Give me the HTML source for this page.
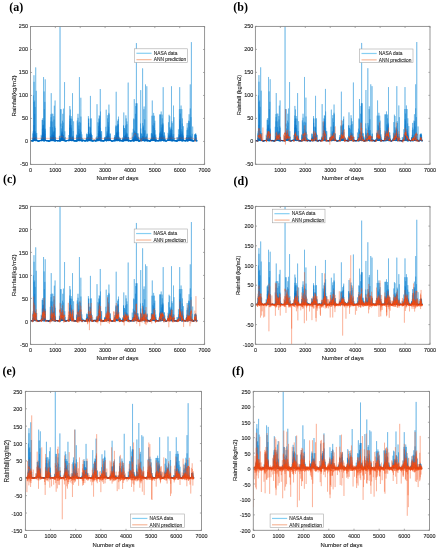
<!DOCTYPE html>
<html><head><meta charset="utf-8"><style>
html,body{margin:0;padding:0;background:#fff;}
svg{display:block;will-change:transform;}
text{font-family:"Liberation Sans", sans-serif;}
</style></head><body>
<svg width="437" height="550" viewBox="0 0 437 550">
<defs><path id="nasa" d="M0 -2.7l1 2.7 1-1.6 1 .7 1-.1 1-.2 1 1.2 1-1.2 1 .5 1-3 1 2.2 1 .4 1-.1 1 .3 1 .2 1-.4 1-.7 1 .5 1-.8 1 .8 1-.2 1-1.1 1 .7 1 .7 1-.2 1-.6 1-.9 1 1.5 1-.1 1-.8 1 1.3 1-.5 1-.8 1 .2 1 .3 1-.4 1 2.2 1-2.5 1 1.4 1 .5 1-1.4 1-.3 1 .8 1 .5 1-.8 1 0 1-1 1 .5 1 .4 1-.7 1 1 1 .5 1-1.1 1 0 1 .6 1 .4 1-.7 1 1.9 1-2.2 1 .2 1 1.5 1-1.2 1 .8 1-1.2 1 2 1-.8 1-1.1 1-.3 1 2.3 1-1.1 1-.5 1 .7 1-1.5 1 2 1-1.1 1 1 1-1.7 1 1.1 1 .3 1 .8 1-2.2 1 .7 1 0 1-.2 1 .6 1 .7 1 .1 1 .1 1-1.5 1 1.7 1-1.1 1 .7 1-.4 1-.2 1 1 1-1.6 1 1.1 1-.9 1 .4 1 .4 1-.2 1-3.4 1-2.4 1 5.6 1-.3 1-16.4 1 16.8 1-1.6 1-5.2 1 3.8 1-.9 1-17.1 1 21.9 1-11.3 1-4.5 1 15 1-6.8 1 6.3 1 .1 1 1.2 1-100 1 98.1 1-.1 1-2.8 1 2.8 1 1.3 1-11.2 1 5.9 1 2.2 1 1.6 1-3.8 1-4 1 8.1 1-.6 1-2.6 1 3.7 1-23.4 1 23.2 1-34 1 32.8 1-1.4 1-139.8 1 141.1 1-.7 1-126 1 129.1 1-85.2 1 83.9 1-.2 1-2.6 1-1.1 1-.9 1 4.3 1-1.7 1-.8 1 .6 1-.1 1 1.6 1-1.6 1 .1 1-.7 1 3.4 1-2.9 1-.1 1-4 1 3.5 1-54.7 1 53.5 1-1 1-81.6 1 86.4 1-2.1 1 1.9 1-5.3 1 4.9 1-.8 1 2.1 1-.7 1-18.8 1 17.9 1 .8 1-13.6 1 14.3 1-4.3 1 4.2 1-.4 1 1 1-.7 1-4.1 1 3.3 1-72.2 1 72.2 1-3.4 1-9.5 1 3.7 1-9.9 1 20.2 1-4.9 1 5 1-6.1 1 5.1 1 .9 1-7.4 1 1.6 1-3.3 1 5.6 1-2.3 1 3.5 1 1.4 1 .5 1 .8 1-159.7 1 159.2 1 .9 1-2.5 1-2.2 1 4.4 1 0 1 .5 1-9.2 1 9.7 1-1 1 .6 1-1.5 1-.6 1-15.2 1 8.8 1 5.7 1 2.8 1-1.1 1 .7 1-12 1 11.8 1-.1 1-.6 1-108.1 1 105.6 1 2.4 1-2.6 1 3.6 1-.4 1 .3 1-1.6 1 1 1 .9 1-4.2 1 2 1-.2 1 1.7 1-.2 1-.3 1 .4 1-16.8 1 17.1 1-.9 1 .4 1-2.2 1 3.1 1-2.1 1 1.4 1-.2 1 .7 1-.1 1-.9 1-.3 1 .1 1-.3 1 .4 1 .5 1-.6 1 .2 1 .5 1-.6 1-.4 1 .8 1 .4 1-.7 1-.8 1 1.5 1-.1 1 0 1-.9 1 2.2 1-1.5 1-.6 1 1.4 1-1.5 1 .7 1 .8 1-.5 1 1.2 1-.6 1-1.7 1 2 1-1.9 1 1.4 1-.8 1 .7 1 1.1 1-.6 1-.5 1 1 1 .1 1-1.1 1 .8 1 .3 1-.3 1-1 1 .9 1-.9 1-.4 1 1.1 1 .6 1 0 1-.5 1-.6 1 .4 1-.2 1 .7 1-.5 1 .6 1-.1 1 .2 1 0 1-.1 1 .1 1 0 1-.9 1 .6 1-2.2 1 1.4 1 1.1 1-1 1 .3 1 .7 1-1.3 1 1.3 1 0 1-1.1 1 1 1-1.5 1 1.4 1 .2 1-1.7 1 1.7 1-.9 1-.9 1 .9 1 .1 1-.1 1-.6 1 1.1 1-1 1 0 1-1.3 1 1.9 1 .3 1-1.2 1 .8 1-.5 1 .1 1-.8 1 1.2 1-.4 1 1.3 1-.8 1-1.7 1 1.5 1 0 1 .3 1-1.3 1 .3 1 .9 1-1.3 1 .2 1-.4 1 1 1-1.7 1 .9 1 .4 1 .2 1-.2 1-.8 1 .8 1-.9 1 .3 1-.5 1 .3 1 .6 1 1.3 1-1.5 1-.4 1 .5 1-.3 1 .7 1 0 1 .4 1-1.6 1 .8 1 .5 1 .6 1-.8 1-1.1 1 .7 1 .8 1-1.5 1 .1 1 .3 1 .1 1-.2 1 .4 1-.1 1 1.1 1-1.6 1 .9 1-1.2 1 2.9 1-1.9 1-.2 1 .9 1-.5 1-.2 1 .2 1 .8 1-.3 1-.8 1-.2 1 .9 1-1.8 1 1.7 1-.6 1 1.1 1 .6 1-13.9 1 3.8 1 9.6 1-.4 1-.3 1 .6 1-.8 1 .3 1-.2 1-5 1 6.3 1-1.3 1-.9 1 1.3 1-4.3 1 4 1 .3 1 0 1-2.2 1 2.6 1-5 1 4.3 1-2.5 1 2 1-2.7 1 2.6 1 .7 1-.6 1 .9 1-.9 1-4.7 1 5.8 1-.5 1 0 1-1.3 1-9 1 10.2 1-45.4 1 44.6 1 .6 1 .1 1-1.3 1-.6 1 3 1-10.6 1 9.4 1-.8 1-24.8 1 25 1-1.9 1 3.6 1-6.8 1-39.1 1 45.4 1-4.1 1 1.8 1-12 1 3.8 1-3 1 5.9 1 .1 1-11.3 1 17.7 1-.2 1-1.9 1-.5 1 1.1 1-47 1 39.8 1 5.6 1 3.3 1-32 1 29.6 1-8 1-4.1 1 11.9 1-24.5 1 15.1 1-4.2 1-17.3 1 33.2 1-34 1 34 1 1.2 1-18.1 1 0 1 16.2 1 2.3 1-.4 1-.7 1-6.8 1 .8 1 2.9 1-.9 1-134.1 1 135.9 1 3.2 1-9.6 1 10.2 1-3.2 1 2.2 1-7.8 1 9.1 1-1.3 1-.3 1-5.3 1 6.2 1-10 1 9.7 1-1 1 .5 1-2.6 1-23.2 1 25.1 1-3.6 1-10.5 1-28.7 1 41.8 1-1.8 1-103.6 1 108.6 1-8.9 1 8 1-11.7 1 10.3 1 2 1-7.3 1-62.4 1 65.6 1 4.4 1 0 1-14.8 1 3.7 1-12.8 1 23.2 1-.6 1-7 1 7.2 1-.5 1-7.4 1 5.5 1 1.9 1-1.3 1-.5 1 1.2 1-83.8 1 81.7 1-4.5 1 7.1 1 0 1-2.1 1 1.5 1-3.2 1 4.5 1-1.5 1 1.6 1-15.6 1 15 1-22.1 1 21.4 1-.1 1-132.7 1 131.8 1-2 1-8.9 1-13.3 1 24.6 1 .7 1 .7 1 0 1-.3 1-.8 1-.2 1-.1 1 .6 1 .4 1 .8 1-1.1 1-.3 1 1.7 1-2.1 1-.3 1 .9 1-.1 1-1.3 1 .9 1 1.5 1-.6 1 .1 1 0 1 1.3 1-1.9 1 1 1-.6 1 .3 1-.7 1 .8 1 .4 1-.9 1-.6 1 1.2 1-1.1 1 .8 1 .5 1-1.4 1 1.7 1-1.3 1 1.1 1-.7 1 1.2 1-.2 1-1.3 1 .6 1 .1 1 .4 1-.6 1 1.3 1-.2 1-.7 1 .5 1-.1 1-.4 1 0 1 .1 1-1.3 1 .4 1-.1 1 .9 1 .3 1 .7 1-.8 1 1 1-.9 1-.9 1-.6 1 .4 1 1.3 1-1 1 .9 1-1.1 1 .6 1-.7 1-1.2 1 1.2 1-1 1 1.5 1 .3 1-1.2 1-.3 1 1.6 1-.4 1 1 1-.9 1-.7 1 .6 1 .4 1 .5 1-1.2 1-.3 1 .1 1 .2 1 1.1 1-2.1 1 1.2 1 .1 1-.6 1 2 1-1.5 1 .1 1-.4 1-.7 1 .7 1 1.6 1-1.1 1-.3 1 0 1 1 1 .3 1-1.5 1 .1 1 .3 1 1.2 1-2.4 1 2.7 1-1.2 1-1.7 1 1.6 1-.2 1 1 1-1.8 1 1.9 1-1 1 .1 1 .8 1-1.3 1 1.6 1-.4 1-.5 1 .3 1-.5 1-.3 1 .8 1 .2 1 .1 1-.1 1-.8 1 .7 1-.4 1 .4 1 .6 1-1.2 1 1.3 1-.7 1-1 1 1.7 1-.5 1 .5 1-.2 1 .2 1-.3 1 .2 1-.5 1-1 1 .9 1-.2 1 .5 1 .1 1 .3 1 0 1-.5 1-1.1 1 .8 1 .7 1-1.5 1 1.4 1-.1 1 .3 1 0 1-.4 1-1.6 1 1.6 1 .4 1-.8 1 .3 1 .4 1-.7 1-1.4 1 1.2 1-.2 1-2.2 1 3.4 1-1.8 1 .1 1 1.7 1-1.1 1 0 1-.4 1 .2 1 .5 1-.5 1 0 1 .1 1 .7 1-31.2 1 30.9 1-2.4 1 1.6 1-.4 1 .3 1 .4 1-.3 1-.8 1 1.2 1-5.3 1 4.3 1 .3 1-.9 1 1.5 1-1.9 1 2 1-.1 1-10.3 1 9.4 1 .9 1-2.2 1 1.2 1-.4 1-.6 1 1.2 1-1 1-5.3 1 4.9 1-55.7 1 57 1-41.3 1 41.6 1-.1 1 .5 1-51.1 1 50.7 1 .7 1-9.5 1 8.3 1-102.6 1 87.6 1 13.7 1 3.2 1-2.6 1-3.5 1 5.3 1-.1 1-.7 1-.7 1-.6 1 1.7 1-2.6 1 3.1 1-.7 1-4.5 1 4.3 1-.1 1 .8 1-4.9 1 4.4 1 1.4 1-.6 1-.7 1 .2 1 .7 1-59.6 1 55.3 1 2.9 1 .6 1 .6 1-7.8 1 7.5 1-13.2 1 9.9 1 1.7 1-4.6 1 5.9 1-12.7 1 12.9 1-.9 1-12.7 1 13.8 1-3.9 1-.2 1 2.7 1 1.2 1-.7 1-8.7 1 6 1 4.2 1-30.3 1 23.2 1 1.9 1 4.6 1-2.6 1-5.8 1-33.5 1 42 1-3.2 1-19 1 17.9 1 3.5 1-2.2 1-55.8 1 42.6 1 15.4 1-15.1 1 16.5 1-.8 1-2.6 1-4.7 1 6.9 1-12.2 1 11.3 1 1.1 1 .8 1-.9 1-4.6 1 5.2 1-6 1-12.8 1 10.1 1 8 1 .6 1-7.4 1 7.3 1-.5 1-6.9 1 2.8 1 .2 1 4 1-12.1 1 6.4 1 5.4 1 1.1 1-4.1 1-8.3 1 11.8 1-.3 1-9.7 1 9.2 1-.3 1 2.4 1-54.8 1 46.9 1 2.1 1-14.5 1 19 1 .1 1-6.5 1 1.5 1-41 1 10.5 1 31.4 1 4 1-20.5 1 20.5 1 .8 1-.1 1 .7 1-1.7 1-4.8 1 6.1 1-77.2 1 73.9 1-8.1 1 9.7 1-20.5 1 21.7 1-9.9 1 7.8 1 1.8 1-9.8 1 3.5 1 6.8 1 0 1-4.7 1-27.4 1 32.8 1-.9 1 .5 1 .5 1-1.9 1-.6 1 .6 1-4.3 1 5.2 1-.2 1 .5 1-.9 1-2.7 1 4 1-2 1-86.7 1 88 1-8 1 6.1 1 2.8 1-29.3 1 28 1 0 1 .4 1-1.9 1 2.8 1-1.4 1-2 1 1.8 1 1.7 1-1.9 1 .4 1 1 1-.6 1-7.5 1 8.1 1-.6 1-.4 1-.3 1-.5 1 .8 1 .3 1-2.4 1 2.5 1 .4 1-1.7 1 1 1-.4 1-.4 1 1.2 1-1.2 1 .1 1 .3 1-.3 1 .7 1 1 1-1.3 1 .4 1-1.3 1 .4 1 .6 1-.5 1-.9 1 .2 1 .5 1-.1 1 .5 1-.1 1-.5 1 .5 1-.3 1 1 1 .4 1 0 1-.8 1-1.3 1 .2 1 1.5 1 .4 1-1.6 1 .2 1 1.3 1-1.7 1 .7 1-.8 1 .7 1-.4 1 .5 1 .9 1-.5 1 .3 1-1 1 1.3 1 .4 1-1.5 1-.3 1-.2 1 .3 1 1.8 1-.5 1-.1 1-.4 1 1.5 1-1.4 1-.2 1 .9 1-.7 1-.8 1 .8 1-.6 1 0 1 .4 1 .1 1 .5 1-1.1 1 1.2 1 .2 1-1 1 1 1-.8 1-.4 1 .7 1-.1 1-.5 1 .1 1 1.6 1-.2 1-1.8 1 .6 1 1.5 1-.3 1-.9 1 .7 1-1.1 1 .3 1-.3 1 1.2 1-1.3 1-1 1 2 1-1.5 1 .2 1 .2 1 .5 1 .8 1-.3 1-1.1 1-.2 1-.2 1 .2 1 0 1 1 1 .5 1-1 1-.2 1 .3 1-.3 1 .7 1 .6 1-1.1 1 .8 1-.6 1-.3 1 .1 1-.9 1 1 1 .3 1-1 1-.3 1 0 1 .7 1-.1 1 .3 1 1 1-.4 1-.8 1 .7 1-1.6 1 2.4 1-.8 1-1 1 .4 1 1 1-1.6 1 .7 1-.7 1 .8 1 0 1 .7 1-11.5 1 5.2 1 6.7 1-.3 1-2 1 .9 1 .9 1-1.2 1-.2 1 2 1-10.8 1 9.6 1-6.1 1 6.9 1-.2 1 .4 1-.6 1 .6 1-.7 1 .5 1 .6 1-.6 1 .2 1-.9 1 .9 1-269.5 1 269.3 1-4.9 1 5.4 1-.8 1-4.8 1 3.6 1 1.6 1-.9 1 .6 1-.9 1 .4 1 1 1-4 1-3 1 1.5 1 4.8 1-2.5 1 2.8 1-.6 1-4.7 1 4.9 1 .7 1-.7 1-2.9 1-1.4 1-49.5 1-15 1 68.2 1-1 1-.7 1 2.1 1 .7 1 .2 1-.4 1-1.2 1-1.4 1-3.6 1 1.9 1-1.8 1-7.6 1-55.4 1 37 1-5.6 1 37.9 1-1.1 1 .2 1-6.4 1-5.2 1 12 1-2.7 1 1.7 1-6.2 1 5 1 1.3 1 .3 1-.6 1-8.3 1-17.4 1 21.2 1 5.2 1-6.5 1-10.7 1 12 1 4.1 1-11.6 1 11.2 1-1.7 1 2.2 1-.1 1-13.6 1 14.9 1-20.6 1 19.6 1 .4 1-14.9 1 13.5 1-.4 1 1.2 1-.5 1 .3 1-6.8 1 5.6 1-29.4 1 28.7 1-1.8 1-3.3 1 8 1-.4 1-5.2 1 5.5 1 .1 1-5.9 1 5.5 1-4.9 1 4.4 1-5.5 1 6 1-18.2 1 12.2 1-36.6 1 42.8 1-13.8 1 10.3 1 4.6 1-11.9 1-1 1 3.7 1-6.9 1 2.9 1 9.6 1-55.4 1 53.1 1-3.2 1 7.5 1 .5 1-9.7 1 10.2 1-3 1 2.6 1-.1 1-1.8 1 2.7 1-.5 1-11.5 1 11.3 1-3.5 1-.1 1 3.3 1-38.7 1 38.8 1-6.2 1 2.4 1 3.5 1 1 1-1.6 1 1.8 1-70.1 1 65.2 1-7 1 10.8 1-2.2 1 3.8 1-13.3 1 12.7 1-3.2 1 3.1 1-1.8 1 2.2 1-.6 1-.1 1-.1 1 .3 1 .3 1-2.5 1-1.1 1 3.3 1-.3 1-.3 1 .7 1 .1 1-.2 1 .6 1-1.6 1 .8 1 .1 1-3.6 1 4 1 1.2 1-6.9 1 5.8 1-1.7 1 1.8 1-.4 1-.3 1-2.5 1 3.7 1-1.5 1-4.7 1 5.5 1-.5 1-127.3 1 127.9 1 .3 1-.6 1-1.9 1 2.2 1 .4 1-.1 1-.7 1-.6 1 .8 1-20.7 1 20.9 1 .1 1-.5 1 1.2 1-1 1-.4 1 1 1-.1 1-1.8 1 1.6 1 0 1-.5 1 .8 1-1.8 1 1.5 1-.1 1-.6 1-8 1 9.3 1-.6 1 .4 1 .1 1-.2 1 .7 1-.1 1 .1 1-.1 1-.7 1 .2 1-.1 1-.5 1 .7 1 .4 1-.2 1-1.4 1 1.1 1-.2 1 .3 1-.2 1-.2 1 .3 1 .1 1 .4 1 .1 1-.9 1-.3 1-.2 1 .6 1 .6 1-1 1 0 1 1.2 1-1.4 1 .1 1-.8 1 1.9 1 .1 1-1.5 1 1.6 1-.6 1 .2 1-.1 1 .5 1-1.1 1-.9 1 .3 1 0 1 .5 1-1.3 1 .6 1-.4 1 1.8 1-1.4 1 1 1-1 1 0 1 .9 1-.9 1-.7 1 .4 1-.1 1 1 1-.2 1 .3 1-.9 1-.7 1 .5 1 .3 1 .7 1-1.1 1 .5 1 1.1 1-.1 1-1 1 .4 1-1.8 1 1.2 1 .7 1-.4 1-1.4 1 1.8 1-1.2 1 .2 1-.7 1 .7 1 .6 1-.6 1 .3 1-.6 1 .8 1-1.4 1 1.4 1-.3 1 .8 1-.6 1 .1 1 0 1-.5 1 1 1 .2 1-1.3 1 1 1 .3 1-1.2 1 .2 1 2.2 1-1.3 1-.8 1 0 1 1 1-1.4 1 1.6 1-.3 1-.3 1 .2 1-.6 1-.1 1 .8 1-1 1 1.4 1-.3 1-1.3 1 .2 1 .3 1 1 1-.1 1-.1 1-.2 1 .4 1-.2 1-2.6 1-1 1 3.4 1-2.8 1 2.1 1 1.7 1-.7 1-1.2 1-1.7 1-10.1 1 12.6 1-1.3 1 1 1 .3 1 .3 1-.9 1 1.3 1-.7 1-1.1 1 0 1 1.5 1-1 1-.3 1 1 1-3.1 1 2.2 1 1.3 1-.8 1 .3 1 1 1-.8 1-1.2 1 .6 1 0 1-.1 1 1 1-3.6 1 2.1 1-.1 1-27 1 27.6 1-1.6 1-18.3 1 17.4 1 3.5 1-55.2 1 53.7 1 .2 1 .2 1-11.7 1 10.7 1-74 1 76.2 1-5.1 1 4.5 1 .3 1-9.8 1 10.1 1-35.7 1 35.6 1-1 1-47.3 1 42.3 1-3.5 1 8.3 1 .2 1-42.4 1 43.3 1-3.5 1 3.4 1-.9 1-5.2 1 5.3 1-29.2 1 4.1 1-42.3 1 66.3 1 2.1 1-7.7 1 5.9 1 1.5 1-.8 1 .2 1-6.2 1 5.7 1-8.9 1 5.4 1-43.9 1 36.2 1-14.3 1 26.9 1-30.8 1 17.2 1 1 1 11.9 1-2.4 1-6.2 1 8.5 1 .7 1-1.3 1-6 1 4.6 1 1.4 1 1.2 1-3.9 1 3.6 1-1.2 1 1.4 1-53.8 1 51.1 1 3.7 1-2.2 1-33.2 1 33.7 1 .6 1 .2 1-.5 1 .4 1 0 1-1.9 1 1.9 1-3.5 1-24 1 27 1 .8 1-1.4 1 1.2 1 .4 1-.9 1 .8 1-2.9 1-2.8 1-1.7 1 6.1 1-8.6 1-38.4 1 35.3 1 9.9 1 2.3 1-4.6 1 .8 1 3.9 1 .7 1-1.2 1-.9 1 0 1-1.6 1 1.6 1-.8 1 2.4 1-6.3 1 6.3 1-.9 1 .1 1-1 1 1 1-7.8 1 8.5 1-1 1-102.6 1 85.9 1 15.5 1-.1 1 .6 1-6.8 1 7.1 1-5.4 1 5.7 1 0 1-2.6 1 2.2 1-3.5 1 3.2 1 1.4 1-.9 1-6.3 1-3.4 1 10.5 1 1.1 1-.7 1-.2 1-6.2 1 3.5 1 2.7 1-9.6 1 11.2 1-4.6 1 3.2 1-20.9 1 21.2 1-.7 1-3 1 .8 1 2.9 1-.7 1-6.2 1 6.3 1 .1 1 .4 1-3.2 1 3.1 1-1.4 1-41 1 42.4 1 .2 1-2.7 1 .2 1 2.3 1-.1 1 .5 1-1 1 .9 1 .6 1 .3 1-1.2 1-.2 1-.8 1 1.5 1-.6 1-.2 1 1.6 1-.6 1-.9 1 1 1-.3 1 .3 1 .5 1-1 1-.1 1-.8 1 .9 1-.7 1 .6 1-.5 1 1 1-1.3 1 1.5 1-1.9 1 1.6 1 .2 1 .1 1-.4 1 .1 1 .1 1-.3 1-.7 1-.1 1 .8 1-1.1 1 1.5 1 0 1 .1 1-1.2 1 1.5 1-.1 1-1.9 1-.3 1 .2 1 2 1-1.1 1-.5 1 .5 1 1.2 1-.9 1 .9 1-.3 1-2.4 1 1.1 1 1.5 1 0 1-1.4 1 .8 1-.8 1 .8 1-.3 1-.3 1 1 1 .5 1-.4 1-.3 1-.4 1-.1 1 .1 1-.4 1 1 1-1.6 1-.4 1 1.2 1 .1 1-.7 1 .4 1 .4 1 .3 1 .4 1 .3 1-1.3 1-.3 1 1.6 1-.7 1-.2 1 .5 1 .3 1-.3 1 .5 1-.7 1 .2 1-1.7 1 .9 1 .9 1-.2 1-1.2 1 0 1 1.1 1 .2 1-.1 1-1.8 1 1.9 1-14.3 1 13 1 1.8 1-.5 1-.4 1 0 1-.9 1 .2 1 1.2 1-9.4 1 9 1 .4 1-1.7 1 .6 1 1.5 1-.8 1-1 1-.3 1 .6 1 1.2 1-.2 1 .2 1 .1 1-.6 1-1.2 1 .7 1-12.5 1 13.2 1 .2 1-1.7 1 1.6 1-1 1 1.1 1-45.1 1 44.5 1-1.2 1 .7 1-2 1 2.6 1 0 1-1.2 1-9.2 1 7 1 3.9 1-7 1 5.2 1 .1 1 .6 1-3 1 2.9 1-1 1 .7 1-1.2 1 1.4 1-.1 1-1 1 .6 1 .1 1 .2 1-.9 1 1.1 1-58.3 1 51.6 1-42.9 1 26.4 1 17.5 1-33.6 1 39.7 1-19.7 1 19.4 1-3.8 1 2.7 1-6.2 1 .5 1 4.5 1 1.4 1 0 1 .3 1-.3 1 1.3 1 .6 1-13.4 1 5.1 1 7.5 1-2.2 1 2 1-.1 1-.2 1 .3 1-6.1 1 6.9 1-6.2 1 6 1-.7 1 .5 1-.9 1-.9 1-24.2 1 25.9 1-33.2 1 25.8 1 6.7 1-10.7 1 8.6 1 1.8 1-1.8 1 1.9 1-1.5 1 1.6 1 1.4 1-.3 1-2.5 1 2.3 1-.8 1-15.2 1 16.8 1-1.1 1-2.2 1 .3 1-29.2 1-107.4 1 135.5 1-11.1 1 14.2 1-15.6 1 12.6 1 3.7 1-41.9 1 40.8 1 .6 1 .6 1-.3 1-1 1-3.7 1-4.5 1 5.2 1 3.6 1-13.8 1 14.1 1-7.9 1 1.7 1 3.6 1-.6 1 2.8 1 .3 1-1.4 1 0 1-1.5 1 2.2 1-2 1 3.2 1-4.7 1 2.6 1-1.6 1-2.3 1-18.6 1 21.1 1 2.7 1 .7 1-.9 1-.5 1-.5 1-1 1-.7 1-3.7 1-32.7 1 32.8 1 6.6 1-.4 1 .3 1 .1 1-1.9 1 .9 1 .9 1-13.9 1-29.4 1-50.3 1 93.7 1-.2 1-.3 1-52.2 1 10.7 1 42 1 .6 1-.1 1-.4 1-.5 1 .9 1-3.1 1 1.4 1-.1 1 1.3 1-19.7 1 19.5 1-.1 1 0 1 .3 1-.2 1-8.2 1 9 1-.8 1 .3 1-.5 1 .6 1-.2 1-.5 1-5.3 1 6.5 1-3.9 1 3.7 1 0 1-1.2 1 1.3 1-1.7 1-.6 1 1.9 1 .4 1-.9 1 .8 1-14.5 1 15.2 1-.5 1 0 1 .6 1-1.6 1 .7 1-4.1 1 4.7 1-.3 1-2.1 1 2.2 1-1.2 1 1.7 1 0 1-.7 1-1.7 1 1.5 1 .4 1-.9 1 0 1-.6 1-4.8 1 4.7 1 .5 1-.4 1 .4 1 .7 1 .4 1 0 1-1.3 1 1.8 1-1.6 1 .6 1-1.1 1 .3 1 .7 1-.6 1 1.6 1-1.8 1-.2 1 1.6 1-2 1 .7 1-.2 1 1 1-1.4 1 0 1 .4 1 .6 1-1.2 1-.4 1 .6 1-.4 1 1 1-.5 1-.2 1 .2 1-1.9 1 1.7 1 .7 1-1 1 1.3 1-1 1-.3 1 .9 1-.1 1 .4 1-.7 1 .6 1-1.7 1 .8 1 .6 1 .8 1-2.4 1 .6 1 .6 1 .2 1 0 1 .5 1-1.6 1 1.2 1 1.2 1-.6 1 1.4 1-2.2 1-.1 1-.6 1-.2 1 2 1-.8 1-.4 1 .2 1 1 1-.9 1 .2 1-.5 1 1 1 .1 1 .3 1-.1 1 .3 1-.3 1-.5 1 0 1-.5 1 .1 1 .4 1 1.3 1-1.2 1-.4 1 1.7 1-.1 1-.1 1 .1 1-.5 1 .5 1-1 1 1.2 1-.8 1 .3 1 .3 1-1.4 1 .7 1-.3 1 .6 1-.7 1 0 1 .6 1 .8 1-1.5 1 .1 1 .3 1 0 1 0 1 0 1 .8 1-.7 1-.3 1 .7 1 .2 1-2 1 .9 1 .6 1 .1 1 .8 1-.2 1-.8 1-1.1 1 2.1 1-.7 1-1.9 1 .9 1 .2 1-.6 1 .9 1 0 1-.6 1-.1 1 1.3 1-1.8 1 2.3 1-.8 1-2.6 1 2.5 1-.8 1 1.1 1-.4 1 .2 1-.2 1-.7 1-.8 1 .6 1-.4 1 1.4 1-1.3 1-3.8 1 3.8 1 1.3 1-.1 1-1.1 1-5.2 1 5.6 1 .4 1 .3 1-.9 1 .3 1 .9 1-.1 1-.5 1 1.1 1-1.4 1-15.4 1 16.2 1-2 1 2.6 1-.3 1-3.2 1 2.5 1 .1 1-1.4 1-4.5 1 2.7 1 2.6 1-13.2 1 2.3 1 8 1 3.9 1-7.1 1 7 1-.5 1-1.4 1-13.3 1 10.1 1 1.6 1 2.7 1 1.2 1-.7 1-6.3 1 5.9 1 1.6 1-1.1 1-5.2 1-3.5 1 8 1-.4 1 .2 1 1.3 1-1.5 1 .3 1 1.3 1-.6 1 1.1 1-.8 1-1.3 1 .2 1 1.8 1-1.6 1 1.2 1-3.6 1 2.6 1-1.1 1 2.1 1-2.4 1-8.1 1 10.7 1-.5 1-.7 1-6.1 1-1.1 1 6.6 1 1.2 1-.6 1-3.8 1-2.8 1-1.9 1 6.4 1 .9 1-17.6 1 19 1-.1 1-.3 1-53.2 1 52.1 1-10.1 1 11.4 1-47.9 1 49.1 1-2.2 1-37.5 1 35 1-1.8 1-24.2 1 22.5 1 6.4 1-.1 1 .6 1-47.8 1 10.9 1 21.1 1 14.9 1 .7 1-.2 1-2.4 1 3.3 1-.4 1-1.6 1 2.1 1-.6 1-3.5 1-2.3 1 6.2 1-2.2 1-2.1 1 1.9 1 1.4 1-.2 1-1.3 1 1.5 1-13.5 1 12.5 1-.6 1 1.3 1-1.5 1 3.7 1-.5 1-.7 1-2.7 1-3.5 1 4 1 2.5 1-2 1 1.9 1-4.4 1 2.2 1 1.3 1-4.7 1 4.1 1-14.3 1 13.4 1-.8 1 2.4 1-.4 1-29.7 1 26.5 1-1.6 1 4.6 1-11.1 1 12.5 1-14.2 1 13.7 1-4.7 1 4.8 1-5.1 1-24.3 1 21.5 1 8.7 1-11.3 1 4.9 1 1.2 1-3.9 1-6.9 1 16.1 1-98.1 1 89.6 1 6.9 1-26.7 1 22.5 1 5.9 1-48.7 1 48 1-7.9 1 8.1 1 0 1-.2 1 1 1-6.6 1 1.1 1 1.1 1 3.9 1-18.6 1 17.9 1-.6 1 .7 1-13.8 1-1.7 1 17.1 1-.6 1 .5 1-6.1 1 3.6 1 .5 1-1 1 1.2 1-6.1 1 3.6 1 2.3 1 1.4 1-9.4 1 8.5 1-10.5 1 8.2 1-46.1 1 48 1 .9 1-.9 1-13.5 1 8.7 1-7.7 1 3.4 1 8 1 .6 1 1.5 1 .2 1-1 1-.2 1-1.1 1 1.5 1 1.4 1-1 1-1.4 1 2.3 1-3.6 1 3.4 1 .1 1-.8 1-.5 1 .2 1-.4 1 .3 1-1.9 1-10.2 1 12.5 1 .4 1-.1 1 .6 1-1.4 1 1.1 1 0 1-.2 1 0 1 .1 1-1.1 1 .8 1 .2 1-1.5 1 2.3 1-1 1-.5 1-.3 1-.5 1 2.1 1-.9 1 .5 1 .2 1 .2 1 .2 1-.9 1-.5 1 1.4 1-1.2 1 .9 1 .3 1 0 1-1.5 1 .2 1 .7 1 .1 1 .5 1-1.2 1 .4 1-.5 1 .2 1 1.1 1 0 1-1.3 1 1.3 1-1.3 1-.5 1 1.6 1-1.5 1 .4 1-.3 1 .7 1-.4 1-.4 1-1 1 .7 1 .2 1 1.2 1-1.2 1 .7 1-.5 1-.3 1-.5 1 .2 1 .3 1 .1 1-1 1 1.5 1-.6 1-1 1 1.1 1-.8 1 0 1-.8 1 .5 1 2 1-1.2 1-.2 1-.4 1 .3 1-1.1 1 .6 1 1.6 1-.4 1 1 1-2.7 1 1.3 1 .1 1 1 1-.8 1-.6 1 .6 1 0 1 .2 1-1.8 1 1.8 1 .6 1-.6 1-.1 1-.1 1 .1 1 .6 1-.6 1-.4 1 1.3 1-2.3 1 .2 1 2.5 1-1 1-.9 1-.2 1-.3 1 2.6 1-.5 1-.4 1-.7 1 1.2 1-1 1 0 1-.2 1 1.5 1-1 1 .1 1 .4 1-1.2 1 1.1 1-1.2 1 1.5 1-1.6 1 .1 1 1.8 1-.8 1 0 1 .9 1-1.2 1 .1 1 1.1 1-.7 1-.5 1 .4 1 .7 1-1.6 1 .6 1 .3 1-.5 1 .2 1 1.2 1-.4 1-.1 1 0 1-2.5 1-1.1 1 3.4 1-.1 1-.6 1-.2 1 1.7 1-2.3 1 .6 1 .3 1 1 1-.1 1-2.6 1 1.4 1 .2 1-2.9 1 3.6 1-8.2 1 8.4 1 0 1-2.9 1 1.9 1-.9 1 2.3 1-1.1 1-.2 1-.6 1 1.4 1-.7 1-1.2 1 1.7 1 0 1-.7 1 .7 1-1.4 1 1.4 1-5 1 3.4 1-1.8 1 3.7 1-.5 1-.1 1-.3 1-.4 1-.6 1 1.5 1-80 1 74.8 1 4.8 1-10.2 1 10.8 1 .2 1-6 1 4.8 1-1 1 .2 1 2.2 1-3.9 1 2.6 1-6.2 1 6.4 1-4 1 4.1 1-.1 1-2.8 1 3.4 1-3.6 1 2.5 1 1 1 .3 1-5.7 1 5.7 1-.7 1-1.2 1 .4 1 .2 1-.4 1-1.4 1 1.1 1 1.3 1-3.2 1 3.5 1-.1 1-40.5 1 38 1 2.6 1-.7 1-.8 1 .8 1-1.7 1-.6 1 3.3 1-1.1 1 .9 1-.3 1-3.6 1 1 1 1.9 1-15.6 1 15.6 1-3.7 1 1.4 1 2.8 1-1.5 1-4 1 0 1-16.6 1 17.5 1-27.8 1 29.8 1 3.3 1-.5 1-1 1-15.4 1 14.4 1 1.1 1-4.6 1 1.4 1 4.1 1-2.6 1-46.1 1 46.8 1 .1 1-1.1 1 4 1-5.4 1-10.3 1 10.4 1 1.3 1 .1 1-35.4 1 3.7 1 33.6 1 0 1-30.4 1-24.1 1 52.4 1-43.7 1 45.8 1-20.7 1 16.6 1 1.3 1 2.8 1-3.5 1 4.2 1-1.8 1-20.4 1 16.7 1-37.2 1 40.4 1-38.1 1 29.1 1 3 1 4 1-7.7 1-41.6 1 53 1 0 1 1.1 1-2.4 1 1.1 1-6.3 1 5.6 1-4.6 1-11.8 1 .6 1 12.8 1-13.7 1 16.7 1 1.3 1-3.2 1 3.9 1-14.6 1 12.6 1 .9 1-1.2 1 1.2 1 1.3 1-113.2 1 111.2 1-.3 1 2.6 1-1.2 1 .4 1 .2 1-63.9 1 63.7 1-28.2 1 25.2 1 3.5 1-7.3 1 2.4 1 1.7 1 0 1 2.6 1 .5 1-15.4 1 13.8 1 2.3 1-1.5 1 1.3 1-14.1 1 12.9 1 .8 1-.7 1 0 1 .5 1-1.2 1 1.8 1-.1 1-1.4 1 1.8 1-.3 1-.6 1-.3 1-21.3 1 19.9 1 1.6 1-1.8 1-.2 1 2 1 0 1-.1 1-2.3 1 2.8 1-.7 1-.3 1 .3 1-.2 1 0 1-1.2 1-1.4 1-17.5 1 20.2 1 .1 1 .6 1 .1 1 .4 1-1.1 1 .6 1 0 1 .2 1 .4 1-2 1 1.3 1-.5 1 1.1 1-.1 1-1.5 1 .9 1-.4 1-1.1 1-.2 1 1 1 .1 1 .2 1 .3 1-1.6 1 2.3 1-.8 1 1.2 1-.4 1-1.2 1 0 1 0 1 .5 1 .3 1-.1 1-.1 1-1.1 1-.3 1 .8 1 .7 1 .3 1-.9 1 .4 1 1.1 1-2.2 1 1 1 .2 1 .4 1 0 1-1.2 1 1.3 1-.7 1-.4 1-.9 1 1 1 .4 1 .3 1-.9 1-.1 1 1.1 1-.7 1 .5 1 .9 1-.2 1-1.4 1-.4 1 .6 1 .6 1 .4 1-.9 1 .1 1 1.2 1-1.4 1 1 1-1 1 .1 1-.1 1-.3 1 .3 1 1.3 1-.1 1-1.5 1 .4 1 1.1 1 .1 1-1.5 1-1 1 .6 1 1.2 1-.4 1 1.2 1-.6 1-1.2 1 .1 1 1.7 1-2 1 .4 1-.3 1 .8 1-.5 1 1.1 1-1.1 1-.4 1 1.3 1-1 1-.7 1 .1 1 0 1 1.9 1-1.5 1-.5 1 1.1 1-.3 1 0 1 .7 1-.8 1-1.3 1 .8 1-.8 1-4.1 1 4.3 1-.8 1 .8 1-.7 1 .4 1 .8 1 .7 1-7.6 1 6.9 1-.2 1 1.4 1-1.2 1-4.6 1 4.5 1 .6 1-2.1 1 1.1 1 1.2 1-4.6 1-3 1 6.5 1 .4 1-7.8 1 3.3 1 2.6 1 .9 1 .8 1 1.6 1-.6 1-1.4 1-2.9 1 4.7 1-2.2 1 .6 1 .9 1 .4 1-.3 1-1.9 1 2 1 .4 1-.9 1 .8 1-2.9 1 2.9 1-1.9 1 2.4 1-.5 1-1.2 1-29.3 1 30.8 1-4.4 1-2.9 1 2.9 1 4.6 1-4.8 1 4.7 1-.4 1 1.1 1-4.1 1-1.2 1 4.6 1-16 1-52.1 1 61.1 1 7 1-1 1-3.2 1 .2 1 1.7 1 .5 1 1.3 1-9.8 1 10.6 1-1.4 1 1.7 1-4.3 1 .4 1 1.9 1-.2 1-.3 1 2.8 1-3.7 1-5.8 1-2.4 1 11.3 1-1.2 1 .6 1 .4 1-.8 1-3.3 1 3.7 1-9.1 1 4 1 0 1 4.5 1-1.3 1-7.5 1 7.5 1-16.5 1 17.6 1-13.3 1 12 1-19.4 1 12.6 1 8.3 1-.7 1-3.4 1 3.2 1 1.8 1-.7 1-11.5 1 7.1 1 2.9 1 .9 1-5.8 1-.1 1 1.5 1-43.4 1 48.5 1-4.6 1-50.9 1 56.1 1-5.5 1-10.7 1 15.5 1-2.2 1 1.2 1 .8 1-1.4 1 2.6 1-1.6 1-.6 1 1.8 1-6 1-11.3 1 16.5 1 .1 1-.9 1 1.4 1-1.2 1-3.4 1 3.9 1-6.6 1 5.2 1 1.7 1 .2 1-32.8 1 32.3 1-39.9 1 36.5 1-20.9 1 24.1 1 1.4 1-1.4 1 .6 1-11.3 1 11.7 1-2 1 1.6 1-13.1 1 13.5 1-4.5 1 4.5 1-.5 1-29.5 1 29.9 1-5.8 1 5.8 1-4.9 1-56 1 61.6 1-79.5 1 79.1 1-8 1 7 1-6.2 1-2.2 1-5 1 11.4 1-55 1 56.5 1 1.6 1-.9 1-1.8 1 2 1 .4 1-5.4 1 3.1 1 1.1 1 1.1 1-.4 1 .7 1-.7 1-.4 1 .2 1-.4 1-4.6 1 5.1 1-.9 1 .1 1-9.2 1 10.4 1 .2 1-.6 1-.9 1 .7 1-5.3 1 6.1 1-4.5 1 2.2 1 2 1-1.8 1 1.6 1-.4 1 .3 1-.3 1-1 1 1.6 1-1 1-14.8 1 14.7 1 .9 1-5.5 1 3.8 1 2.5 1-1.2 1-1 1 1.7 1-15.4 1 13.8 1-2.9 1 3.3 1 .2 1 .6 1 .2 1-2.3 1 1.3 1-2.5 1 2.9 1 0 1 .9 1-1 1-.1 1-1 1 2.1 1-.3 1-.7 1 .6 1-.1 1-.3 1 .3 1-.2 1-.3 1 1.5 1-1.5 1 2 1-2.8 1 .6 1 1.1 1-1.1 1 .9 1-.4 1-.2 1 .3 1 .3 1-.4 1 .6 1 .2 1 .4 1 .7 1-2.4 1 .6 1 1.6 1-1.2 1 .1 1 1.3 1-.5 1-.4 1-1.3 1 .5 1-.1 1 .7 1-.5 1 1.6 1-1.2 1-.1 1 1.3 1-.9 1-.9 1-.3 1 .4 1 1.5 1-.4 1 .3 1-1.2 1 1.4 1 .1 1 0 1-.8 1-.2 1 .8 1 .1 1-.4 1-1.1 1 1.6 1-.6 1-.2 1-.2 1-.6 1 .3 1 .4 1-.9 1 .2 1 .6 1 0 1 1 1-.9 1 .6 1 .2 1-.6 1 .7 1-.3 1-.3 1-.6 1 .4 1-.5 1-.9 1 .5 1 1.4 1 .3 1-.5 1 0 1 .5 1 0 1 0 1-.8 1-1.4 1-.2 1 1.9 1-.4 1 .6 1 .2 1-1.1 1-.1 1 .5 1-.9 1 .6 1-1 1 1.1 1-.9 1 .7 1-.2 1-.3 1 1.3 1-.4 1-.4 1 .1 1-.4 1 .8 1 .1 1-.6 1-.3 1 .8 1-1.4 1 .4 1-.1 1 0 1 .6 1-1.5 1 2 1-.7 1-.3 1 .3 1 .1 1 .7 1-3.1 1 2.6 1-1.8 1 1.9 1-.6 1 .2 1 .2 1 .5 1-.3 1 .4 1-.5 1-.2 1-6.7 1 6.6 1 .1 1 .1 1-.5 1 1 1-2.1 1 1.2 1-4.1 1 3.4 1-1.2 1-10.2 1 12.5 1 .4 1-2.3 1 1.2 1-7.8 1 8.6 1-.7 1 .6 1-1.2 1 1 1 1.1 1-1.1 1 1.4 1-2.3 1 1.7 1-3.4 1-4.4 1 2.4 1 3.3 1 2.6 1-1.8 1 .2 1 1.6 1-8.5 1 7.6 1-1.2 1-.3 1 1.1 1-9.2 1 7 1 .8 1-5.6 1 7.4 1-.6 1-.5 1-.7 1-2 1 3.1 1-3.9 1 2.9 1-9.6 1 9.3 1-4.7 1 4.1 1 2.1 1-1 1 1.2 1-9.6 1-23.8 1 23.9 1-21.2 1 26 1 3.5 1 .5 1-2 1 1.8 1-.5 1 1.1 1-15.1 1 13.5 1 .7 1-2.4 1 1.1 1 1.9 1-.9 1-105.2 1 106.3 1-1.3 1 1.1 1-.5 1-.5 1-2.9 1-2.7 1 6.7 1-.3 1-.6 1-17.5 1 11.4 1-.7 1 9 1-4 1 2.6 1-7 1 7.3 1-1.9 1-29.9 1 32 1-1.2 1-16 1 16.1 1-9.3 1-6.3 1 16.4 1-5.5 1 4 1-3 1 .9 1 4.7 1 .1 1-4 1-11.2 1 13.5 1-1.6 1-14.3 1 13.8 1-2.3 1-17.2 1-11.1 1 32.7 1-3.7 1 4.6 1-10.9 1 6.8 1 4.3 1 .1 1-3.3 1-17.4 1 13.5 1-36.8 1 42.6 1-4.7 1 2.7 1 1.7 1 .5 1-.1 1 1.7 1-2.8 1-15.2 1 16.8 1-1.5 1-20.4 1 19.3 1 3.7 1-5 1 4.5 1-2.4 1 3 1-37.4 1 33.8 1-.5 1 3.6 1-3.1 1 1.6 1 .2 1-4.8 1 4.9 1-34.3 1 29.6 1 4.6 1-11.6 1-34.6 1 46.1 1-.8 1-1 1 .8 1 1.3 1-1 1 .9 1-51.7 1 52.9 1-10.6 1 10.1 1-.6 1-1.2 1-16.6 1 19 1-.7 1-2 1 2.4 1-8.3 1 8.5 1-.9 1-2.3 1 2.8 1-6.4 1 3.8 1 1.3 1-2.3 1-4.9 1 9 1-1.2 1 .5 1-.5 1 1.2 1-1.3 1 1.4 1 .3 1-.2 1-.1 1-.6 1-4.4 1 4 1 1.2 1-.1 1-.8 1-1.1 1 .9 1-1.3 1 2.7 1-.5 1-1.2 1 1.5 1-.9 1-3.4 1 1 1 2.2 1-4.1 1 5.6 1-4.6 1 3.7 1 .4 1 .2 1-1 1 .9 1-.6 1-3.7 1 3.9 1-6.9 1 3 1 3.4 1 0 1-1.3 1 1.6 1-2.7 1 2.8 1 .7 1-.2 1-.6 1-.6 1 1.1 1-2 1-3.1 1-1.5 1 5.3 1-.4 1 1.8 1-.5 1-.6 1-.6 1-.4 1 1.7 1-.4 1 1 1-1.8 1 1.8 1-1.4 1-.7 1 .1 1 .7 1-.2 1 .3 1 0 1-1.4 1 .9 1 1.2 1-.3 1-1.3 1 .4 1 .9 1 .4 1-.8 1-.1 1-.9 1 1 1-1 1-.3 1 1.9 1-.7 1-1.5 1 1.4 1-.3 1-.7 1 1.2 1-.2 1 .9 1-1.6 1 .8 1-.1 1 1.6 1-2.5 1 .2 1 1.1 1-1.4 1 2.6 1-1.7 1 1.2 1-3.1 1 3.8 1-1 1-.2 1-1.1 1 0 1 .4 1 .4 1-1.6 1 2 1-.6 1-1 1 2.1 1-.2 1-1.3 1 .4 1 1.3 1-.9 1-1.3 1 1.6 1-.7 1 .5 1 .6 1-1.6 1 .5 1-.1 1 1 1-.1 1-.1 1-.1 1 .6 1 .1 1-5.5 1 5.9 1-.4 1 0 1-.3 1 .4 1 .3 1-1.1 1 .8 1-1.2 1-.2 1-1 1 .7 1-7.1 1 9.1 1-.2 1 0 1-5.7 1 4.3 1 1.3 1-.4 1 .7 1-.4 1-1.4 1-3.2 1 4.6 1-.4 1-.4 1 .1 1-.4 1-4.8 1 5 1-.7 1-4 1 4.4 1 1.4 1-.6 1-.8 1 0 1 1.3 1-2.2 1-32.7 1 25.7 1-24.4 1 33.2 1 .7 1-5.5 1 4.9 1-.4 1-.9 1-3.6 1 4.7 1-62.2 1 62.4 1-2.6 1-9 1 12.2 1-6.1 1 4.1 1 1.1 1 0 1-1.3 1-.4 1 .9 1-.2 1-26.8 1 27.6 1-.7 1 .8 1-1.3 1 1.1 1-2.6 1 2.8 1-5.1 1 4.1 1 .3 1-.1 1 0 1 1.1 1-2 1 1.3 1-1.3 1-2.9 1-23.6 1 26.9 1 .4 1-5.9 1 5.7 1 1 1-9.1 1 8.5 1-9.4 1 9 1 1 1-4.5 1-.4 1-5.1 1 10.6 1-4.7 1 3.5 1 0 1-.5 1-.1 1-.2 1 .9 1-2.2 1-2.2 1 .9 1 1.8 1-22.7 1 23.7 1 1.2 1-4.3 1 4 1-11 1 9.6 1 .7 1-3.7 1-.9 1 5.7 1-.7 1 1.1 1-1.1 1-11.7 1 5 1 .6 1 6.9 1 .1 1-34.1 1 24.8 1 8 1-12.4 1 13.4 1-.2 1-1.9 1-53.5 1 54.9 1-.5 1-2.9 1-11 1 3.5 1 4.5 1 5.1 1 1.3 1-.6 1-9.3 1 9.2 1-16.4 1 17.2 1-1.7 1-46.6 1 47.2 1-5.5 1 8 1-1.5 1-.8 1-.8 1 1.4 1 .5 1 .1 1-1.8 1-4.5 1 4.7 1 .6 1 .1 1-1.3 1-15 1 16.7 1-3.6 1 3.6 1-12.8 1 11.6 1-3.3 1 1.1 1 2.9 1-.3 1 1.2 1-1.2 1 1.1 1-41.9 1 40.6 1-34.5 1 33.1 1 .9 1-.6 1 2.3 1-3.5 1 3.9 1-.7 1-.9 1 1.6 1-7.2 1 7.1 1-1.9 1 1.1 1 1 1-2.8 1 2 1 1.5 1-.9 1-.1 1-.2 1-.4 1-14.7 1 15.5 1-.3 1 .1 1-7.1 1 5.8 1-.1 1 1.2 1-.5 1 .1 1 .9 1-.4 1 .3 1-2.4 1 .9 1 2 1 .4 1-2.6 1-1.1 1 1.8 1 1.1 1-.5 1-2.7 1 1.3 1 .8 1-3.2 1-122.5 1 125.5 1 2 1 .3 1 0 1 .2 1-1.3 1 .3 1-8.5 1 8.2 1 .1 1 1.2 1-9.1 1 8.7 1-.7 1-8.7 1 8.3 1 .1 1 .9 1 .5 1-.5 1-2.1 1 2.3 1 .1 1-.5 1-1.1 1 1 1 .7 1-2.1 1 1.3 1-.1 1-.7 1-3.3 1 3 1 .5 1 .4 1 .5 1-1 1-.5 1 .3 1 .6 1-.5 1 .6 1-.1 1 0 1-.2 1 .1 1-.8 1 .7 1 0 1-.8 1 .3 1-.4 1 1.3 1-1.4 1 .9 1 .7 1-.6 1 .7 1-.2 1-.4 1-.9 1 1.6 1-1.1 1 .3 1-1.2 1 .9 1-.2 1-.6 1 1.7 1-.5 1 .8 1-.4 1-.8 1 .3 1-.3 1 .5 1 .2 1-.3 1 .5 1 .2 1 .3 1-1 1-.3 1 1.1 1-.5 1 1 1-.5 1-.8 1 .9 1-1.1 1 .6 1-.5 1 .6 1 .6 1-1 1-.4 1 .8 1-.6 1 .7 1-.2 1-1.1 1 .9 1 .6 1-1 1 .3 1 .4 1-.8 1 1.6 1-1.5 1-1 1 1.1 1 1.4 1-2.1 1-.8 1 1.3 1 1.1 1-.3 1-.4 1-.2 1-.7 1 .4 1 1.7 1-1.2 1-.1 1-1.4 1 1.6 1 .6 1-.8 1-.4 1 1.4 1-2 1 .8 1-.7 1 .1 1 .1 1-.6 1-.3 1 1.4 1-.2 1-.8 1 .6 1 .5 1-.5 1 .6 1-.3 1 1.5 1-1.9 1-1.2 1 .7 1 0 1 .4 1 .6 1-.9 1 .3 1 .2 1-.3 1-.3 1 .4 1-.4 1-.2 1 .6 1-17 1 17 1 1.6 1-3.6 1 2.2 1 .7 1-1.1 1 1.3 1-.6 1 .1 1 .1 1-.1 1-.3 1-.1 1 .5 1-.5 1-.2 1 .6 1 .3 1 0 1-.1 1 .1 1-5.5 1-3 1 7.5 1 .8 1-2.5 1 2.2 1-.5 1-1.8 1 3.4 1-2.1 1 2.1 1-3.7 1-4.1 1 8.4 1-4.6 1 2.3 1 .4 1 1.3 1-.9 1-26 1 27.4 1-1 1-1 1-.4 1 .8 1 .9 1-4.3 1 4.4 1 .7 1-5.8 1 2.1 1 .7 1 2.4 1-4.5 1 4.2 1-8.4 1-40.5 1 47.2 1-1.4 1 1.7 1 .3 1 2 1-2.6 1-5.9 1 8.2 1-3 1 3 1-1.7 1-.9 1 1.2 1 .9 1-9.2 1-37.9 1 46.6 1-23.1 1 23.4 1-7.7 1 4 1 2.5 1 1.8 1-1.3 1-90.3 1 53.5 1 37.7 1 .1 1-3.2 1 2.7 1-9.5 1 8.5 1 .1 1 .3 1 .4 1 .2 1-1.5 1-19 1 21.1 1-2.7 1 2.6 1-4.7 1 4.2 1-.6 1 1.3 1-1.5 1-.4 1-19.7 1 20.4 1 .1 1-3.8 1-5.4 1 8.1 1-5.1 1 .7 1-.4 1 4.8 1-16 1 13.2 1 3.5 1-2.7 1 1.1 1-8.2 1 10.5 1-1.6 1 1.2 1 .5 1-.3 1-.5 1-2.5 1-55.5 1 46.1 1 13 1-11 1 10.4 1-3.4 1 .9 1 1.9 1-.2 1-9.2 1-6.9 1 16.6 1-4.5 1 2.1 1-72.7 1 74.6 1-.3 1 1.1 1-2.2 1-14 1 13.2 1 3.9 1-2.1 1-2.1 1 2.1 1 1.7 1-8.1 1 7.3 1-8.2 1 7.1 1 1.4 1-81.3 1 81.8 1-81.8 1 80.6 1 0 1-17.3 1 1.5 1 16.4 1-212.4 1 205.8 1 5.3 1-3.1 1 1.7 1-3.2 1 1.9 1-1.7 1 1.1 1 3.1 1 1.2 1-.1 1 1.2 1 .5 1-1.7 1-.9 1 .1 1-.8 1 1.1 1-.5 1 .7 1 1 1-1 1 .3 1-15.7 1 .2 1 15.7 1-7.6 1-1.1 1 8 1 0 1-.4 1-79.9 1 81.6 1-1 1 .1 1-.3 1 .5 1 .1 1-5.2 1 5.5 1-5.8 1 5.9 1-2.9 1 2.7 1-.1 1-2.6 1-1.5 1 2.5 1-7.9 1 1.4 1 7.8 1-1.3 1 .6 1 .5 1 .7 1-5.8 1-8.9 1 15.1 1-1 1-16.2 1 16.1 1 .6 1 1.1 1-1.1 1-.4 1-.9 1-1.9 1 2.3 1 .6 1 .7 1 .6 1-.8 1-.4 1-1.3 1-.5 1 2.1 1 1 1-.9 1-7.7 1 8 1-2.9 1 3.8 1-1.2 1 .2 1-4.9 1 4.9 1 .7 1-.8 1 .1 1 1.2 1-.7 1-1.5 1-4 1 3.8 1-7.6 1 10 1-1.8 1 1.8 1-.8 1-.5 1-.7 1 1.7 1-1.3 1 1.6 1-.4 1 .2 1 .1 1-2.1 1 .5 1-.2 1 1 1 .9 1 0 1-.9 1 .1 1 0 1-1.6 1 2.3 1-.7 1 .3 1-1 1 1.4 1-1.1 1-.3 1-.5 1 0 1 1.8 1 .1 1-.7 1 .7 1 .1 1-1.8 1 .4 1-.2 1 .6 1-.7 1 .6 1-2.8 1 1.5 1 1.9 1-1 1 1.5 1-2.2 1 1.2 1 .2 1 .8 1-1.1 1-1.6 1 1 1 1.5 1-1.6 1-1.6 1 2.4 1 .6 1-1.1 1-.4 1-.7 1 1.2 1 .4 1-1 1 .8 1-6.7 1 6.2 1-37.3 1 37.9 1-1.6 1 .9 1-.1 1-.5 1-16.3 1 17 1-109.9 1 108.4 1 1 1-.3 1 1 1-26.4 1 26.2 1-.6 1 1 1-1.4 1 0 1 .5 1-3.6 1 4.6 1-1.4 1 .1 1 1.2 1-.9 1 .2 1 1.1 1-.9 1-3.1 1 3.4 1 .7 1-2.7 1 .4 1-1.3 1 3.4 1-1.4 1 2.3 1-1.4 1-.6 1 1.4 1-6.9 1 .1 1 6.6 1-15.6 1 7.1 1 3.7 1 .9 1 2.2 1 1.2 1-.4 1 .5 1-15.8 1 14.7 1-.5 1-3 1 5.4 1-5.5 1 5.6 1-.7 1-5.4 1-3.6 1 9.1 1-.9 1 .8 1-3.9 1 3.7 1-.3 1 .2 1-.1 1-1.5 1-3.9 1 2.8 1-.1 1-2.3 1-5.3 1 7.5 1 3.2 1-.5 1 0 1 .8 1-3.3 1 0 1 .1 1 1.7 1-156.7 1 155.9 1 .9 1-19.5 1-18.2 1 21.7 1 15.5 1-7.1 1 1.3 1 6 1-.5 1 .7 1 .5 1-.1 1-.4 1-1.3 1-8.7 1 10.5 1-3.2 1 2.9 1-6.2 1 5.8 1-.4 1-3 1-4.7 1 8.6 1-.4 1-.1 1-4.1 1-23.7 1 28.7 1 .6 1 .1 1-.6 1-1.4 1-31.5 1 27.4 1 3.4 1 1.5 1-3.2 1 3.7 1 .2 1-.2 1-.2 1 .6 1 .2 1-8.4 1 5.3 1 .2 1 2 1-2 1 1.6 1-67.7 1 68.1 1-3.3 1 1.6 1-.4 1 2.3 1-2.8 1 3 1-4 1 5.3 1-75.8 1 75.4 1-2 1-21.6 1 19.7 1 1.9 1 1.3 1 1 1-.2 1 .5 1-1 1-1.2 1-15.1 1 14.3 1-.5 1 1.1 1 0 1 1.7 1-6.5 1-.6 1 3.3 1-1 1-42.4 1 37.7 1 7 1 3 1-6 1 4.9 1 0 1 1.1 1 .2 1-.7 1-.8 1 .3 1-1.2 1 1.5 1-.9 1 .8 1 .6 1-2.4 1-3.1 1 4.8 1-23 1 16.2 1 6.3 1 .9 1-4.5 1 4.2 1-2.1 1 .3 1 1.2 1-6.3 1 6.1 1 .7 1-3.1 1-119.8 1 121.6 1 .4 1-7 1 7.3 1 .1 1 .8 1-.2 1-3 1 2.6 1-2.2 1 1.8 1-3 1 2.3 1 .8 1 .2 1-.7 1 .9 1-9 1 9.5 1-.7 1-3.1 1 3.3 1 .6 1-.4 1-1.3 1 1.8 1-.1 1-1.5 1 .1 1 .5 1-7.2 1 1.4 1 5.2 1 .3 1-3.7 1 2.3 1 2.9 1-11 1 10.2 1-.7 1 .2 1 .6 1-1.2 1 .7 1-1.3 1 1 1 .2 1-1.5 1 .8 1 .9 1 .6 1-119.1 1 114.6 1 2.9 1 1.4 1 .2 1 .2 1-14.6 1 14.1 1-.6 1 .1 1-.3 1 1.2 1-3.8 1 4.1 1-16.4 1 14.5 1 1.9 1-1.3 1 .4 1 1.2 1-.8 1-1.3 1-2.4 1 4.4 1-1.6 1 1.2 1-3.8 1 3.2 1-.8 1 .5 1-1 1 2.3 1-1 1-.7 1 .4 1 1.6 1-1.7 1 .5 1-2.1 1 1.8 1-.6 1 1.1 1-1.1 1 2.1 1-1 1-.4 1 .8 1-1.8 1 .6 1-1.1 1 2.1 1-.4 1-1.1 1 .8 1-.9 1 .1 1 1 1-.7 1-.3 1 .2 1 .3 1 .2 1-.2 1-.8 1-.8 1 2.5 1-.3 1-.6 1-1.1 1 1.6 1-2.2 1 0 1 3.3 1-2.1 1 0 1 .8 1 1 1-1.5 1 .5 1-1.1 1 .5 1 1.1 1-2 1 .1 1 .2 1 1.1 1-.6 1 .6 1 .5 1 1 1-1.5 1 1.6 1-1.8 1 1.5 1-1.1 1 .4 1 .6 1 0 1-.3 1-1.4 1 .8 1 .5 1-.8 1 1.5 1 .1 1-.2 1-1.4 1 1 1-.2 1 0 1 .4 1-1.1 1 .4 1 1.1 1 0 1-.5 1 .4 1-.4 1-.5 1 .5 1-.2 1 .6 1 .1 1 0 1-1.3 1 1.2 1-.4 1 0 1-.2 1-.5 1 1.2 1-1.9 1 1.9 1-3.7 1 3.7 1-1.1 1 1.1 1-1.7 1 .9 1 .1 1-1.1 1 0 1 1.4 1-1.3 1 .3 1-.2 1 .9 1 .4 1-1.4 1-.4 1 .9 1-.3 1 .8 1-2.5 1 1.9 1-1.5 1 .1 1 2.7 1-1.7 1-.3 1-2.6 1 2.9 1 1.2 1-5.1 1 3.6 1 .7 1-.1 1 .2 1-.6 1-3.2 1 1.6 1 2 1-.3 1-1.2 1 .9 1 1.2 1-.9 1-.3 1 .6 1-.4 1-15.6 1 16.3 1-.9 1-.3 1-.1 1 1.6 1-1.6 1-.1 1-4.1 1 4.4 1 .5 1-1.1 1 .5 1-.6 1 1.4 1-16.4 1 15.5 1 1.2 1-5 1 3 1 .5 1-1.6 1 .7 1-7.7 1-34.4 1-10.1 1 52.8 1-4.6 1 .2 1 5.4 1 .6 1-2.6 1-3.2 1-9.7 1 12.8 1-.7 1 1.2 1-.2 1-1.5 1 3.6 1-.9 1-86.4 1 85.2 1 .8 1 1.6 1-13 1-1 1 14.4 1-.9 1-11.4 1 7.3 1-.8 1 1.5 1 2.5 1 1.8 1-4.7 1 .2 1 .1 1 3.9 1-.8 1 .6 1-4.6 1 5.7 1-35.3 1 33.8 1-2 1 3 1-4.1 1-2.9 1 6.1 1-1.8 1 1.3 1-5.6 1-.2 1-2.2 1-45.3 1 52.7 1-1.5 1 3.6 1-2.1 1-8.3 1-21.3 1 30.8 1-8.8 1 7.7 1 .4 1-5.3 1 6.5 1-2.2 1-1.5 1 .3 1 1.2 1 2.4 1-60.8 1 49.5 1 11.2 1-.6 1-.2 1-.2 1-3.8 1-.7 1-.1 1 1.7 1 3.1 1-.5 1 .3 1-7.2 1 .5 1-1.7 1 9.2 1-1.8 1-4.8 1 6.3 1-.4 1-5.8 1 6.8 1-38.4 1 38 1-17.2 1 17.5 1-6.1 1 2.2 1 4.1 1-6.5 1-5.1 1 1.8 1 10.5 1-55.4 1 48.7 1-7.9 1 10 1-24 1 26.8 1-2.4 1 2.3 1 .9 1 .7 1-1 1-.4 1 1.5 1-1.8 1 1.6 1-.6 1-43.6 1 33.9 1 9.5 1-8.3 1 8.3 1-2.2 1-2.1 1 1.8 1-20.4 1 23.6 1-1.5 1-3 1 2.7 1-10.6 1 7.3 1 5.5 1-3.5 1-1.3 1 4.4 1-2.5 1 2.6 1 .2 1-5.1 1 5.2 1 .3 1-1.3 1 1.5 1 0 1-.7 1 .2 1-.7 1-.6 1 1.8 1-1.5 1-.2 1 1.6 1-.1 1-14.9 1 14.3 1 .8 1-1.5 1 .7 1-.2 1-.7 1-8.1 1 9.4 1-1 1-.2 1 .5 1-.7 1 .4 1-.5 1 1.3 1-3.5 1 2.2 1-2.2 1 3.4 1-.7 1 .3 1 .4 1 .5 1-2.2 1 .9 1-4.1 1 4.7 1-.7 1 .1 1-.2 1 1.2 1-2 1 1 1-.3 1 .8 1-1.8 1 2.1 1-2.3 1 1.5 1 0 1 .2 1-1.4 1 1.5 1 0 1 .1 1-1 1-.1 1 .9 1-.8 1-.8 1 .6 1 .3 1 .9 1-1.7 1 .6 1 1.4 1-.4 1 1.2 1-2.1 1 1.3 1-.7 1-1.1 1 1.9 1-1.5 1 .8 1 .6 1-1.7 1 .7 1 .7 1-.8 1 .8 1 .2 1-.3 1-.9 1 1.8 1-.2 1-1.5 1 1.6 1-.8 1 .1 1 .7 1-.4 1-.4 1 0 1-.5 1 .3 1-.5 1 .5 1 .4 1-.7 1 .1 1-.3 1 .7 1 0 1 0 1 1 1-1.4 1 .8 1 0 1-.2 1-1.7 1 1.9 1-1.6 1 2.4 1-1.1 1-1.6 1 1.2 1-.1 1 .6 1 1 1-1.8 1-.3 1-.1 1-.6 1 1.4 1-.5 1 1.8 1-1.2 1-.4 1-.8 1-.4 1 .1 1 .8 1 .4 1 0 1-.1 1-.1 1-.7 1 .9 1 1 1-.3 1-2.9 1 1.1 1 1.3 1-.2 1-.7 1-4.6 1 3.8 1 2.7 1-.6 1-.9 1-.4 1 .3 1-.9 1 1.1 1-.1 1-8.1 1 7 1 1.2 1-1.3 1-55.4 1 56.3 1-9.3 1 8.8 1 1.6 1-1 1 .7 1-.6 1-.1 1 .1 1 .8 1-6.5 1-9 1 13.2 1 2 1-4.4 1 5.9 1-1.8 1 1.8 1-1.3 1-2.2 1 2.2 1-17.6 1 16.7 1-2.6 1 3.5 1-.3 1 0 1 .9 1-.6 1 .2 1-4.3 1-7.2 1 7.4 1-14.2 1 18.8 1-7.5 1-50.4 1 45.6 1 11.3 1-.9 1 1.1 1 .5 1-4.7 1-.9 1 4.4 1-5.1 1-7.4 1 10.3 1-54.2 1 46.7 1 6.4 1 4.2 1-20.2 1 11.9 1 5.9 1-3.4 1-15.1 1 21.7 1-7.2 1 2.1 1 5.3 1-3.8 1 1 1 1.6 1-13.9 1 14.5 1-64.2 1 40.8 1 22.3 1 1.2 1-6 1-30 1 33.6 1 1 1 1.1 1-1.8 1-1.3 1-26.1 1 29.5 1-.5 1-2.5 1-3.4 1 4 1-6.2 1 7.2 1-2.9 1-5.7 1 9.5 1-8.6 1 8.5 1-3.7 1 4.2 1-1 1 .2 1-.5 1-13.6 1 13.2 1 .6 1 .1 1-1 1-11.1 1-2.9 1-.9 1 15.6 1 .6 1-12.8 1 3.1 1 9.7 1-56.7 1 53.2 1-2.9 1-42.1 1 47.5 1-1 1-1.4 1-2.7 1-19.3 1 25.4 1-5.4 1 4.7 1-.3 1-.7 1-12.7 1-17.1 1 30.7 1 .2 1-6.9 1-26.8 1 33.7 1-6.9 1 .5 1-17.1 1-14.7 1 38.3 1-35.4 1 35.2 1-12.2 1 11.6 1 1.4 1-1.1 1 .5 1-3.5 1 2.4 1-3.2 1 4.5 1-.4 1 .8 1-116.6 1 111.5 1-.7 1 5.9 1-3.5 1 2.6 1-9.6 1 7.6 1 1 1 1.8 1-.8 1-.4 1 2.2 1-3.6 1 1.8 1 1.3 1-7.8 1 0 1 7.3 1-5.9 1 4 1 1.2 1-.7 1 1.6 1-2.6 1-2.1 1 4.7 1 1.2 1-3 1 2.8 1-1.7 1-1.1 1 2 1-3.3 1 3.6 1-11.7 1 10.3 1 1.3 1-.5 1-8.3 1 8.2 1-18.4 1 19.3 1-4.3 1 3 1 .5 1-1.5 1 1.9 1-1 1 1.3 1-1.4 1-17 1 17.4 1-.6 1-.5 1-.2 1 .8 1 1.4 1-3.6 1 1.5 1 1.5 1-.6 1-4.5 1 2.4 1 1.6 1 .2 1-10.5 1 7.5 1 2.6 1 1.3 1-2.8 1 1.4 1-1.3 1 3.3 1-1 1-.2 1 .2 1-.9 1 .3 1 1.4 1-1.6 1 .5 1 0 1 .9 1-1.3 1-3.1 1 3.7 1 1.8 1-1.5 1-1 1 .4 1 1.6 1-.3 1-.4 1-.5 1 .7 1-.1 1 .6 1-.1 1 .6 1-.8 1 .5 1-1.4 1 .8 1 .8 1-.4 1 .5 1-.1 1-.5 1 .6 1-.7 1 .7 1-1.2 1 1.2 1-.6 1 .6 1-.7 1 .7 1 0 1 0 1 0 1-.1 1-.1 1 .2 1 0 1 0 1 0 1-1.1 1 .3 1-.6 1 .3 1-.6 1 1.1 1-.1 1 .1 1 .3 1-.8 1 .2 1-.1 1 .1 1-.6 1 1.5 1-1.2 1 .3 1 .4 1-.2 1-.6 1-.3 1 .7 1-.7 1 .2 1-.5 1 0 1 .1 1 .7 1 .5 1-1.7 1 1.4 1-1.1 1 .5 1-1.1 1 1.1 1-.9 1-3 1 3.3 1 .4 1 .4 1-.2 1-1.1 1 .5 1-.3 1 .7 1-.4 1-.4 1 .8 1-1.1 1-1.6 1 1.1 1 1.7 1-.1 1-.7 1 .6 1-.1 1-1.1 1 .2 1 1.1 1-1.1 1 .2 1-4.6 1 4.3 1-.4 1-1.1 1 2.7 1-.2 1-.4 1 .3 1-.5 1-16.2 1 14.8 1 2.4 1-.7 1-.8 1 1.6 1-.5 1-.6 1 .5 1-.4 1-7.9 1 4.3 1 4.3 1-3.3 1 3.4 1-40.1 1 38.5 1 1.3 1 0 1-.9 1 .6 1 1.4 1-2.3 1 1.6 1-.5 1-2.4 1 2.4 1 1 1-13.1 1 11.4 1-.4 1-12.6 1 14.6 1-.8 1 1 1-2.1 1 1.8 1-1.2 1 .7 1 .7 1-56.9 1 55.6 1 .7 1-1 1 1.2 1-.8 1 .8 1-10.6 1 9.4 1-1.1 1 1.9 1-1 1 .5 1-3 1 .1 1 1.3 1-.2 1 2.3 1 .5 1 .4 1-7.1 1 4.4 1-26.9 1 21 1 5.5 1-19.9 1 21 1-52.1 1 52.8 1-7.4 1 7.9 1-9.3 1 2.2 1 7.3 1-2.5 1 1.4 1 1.2 1-6.6 1 4.4 1-5 1 6.1 1-9.8 1 11.1 1 .9 1-1.3 1-3.7 1-6.2 1-6.4 1 12.9 1-.4 1 2.4 1 .5 1-1 1-6.1 1-1.1 1 9.1 1-4.9 1 1.2 1 3.4 1-.6 1 1.2 1-5.5 1-6.6 1 10.6 1 1.8 1-18.1 1-5 1 23.4 1-27.3 1 26.6 1-.7 1-4.2 1 2.4 1-19.5 1 20.4 1-4.2 1 6.3 1-25.4 1 21.6 1-1.9 1-1.1 1 6.6 1-1.6 1-29.3 1 24.9 1-8.6 1 9.2 1 5.6 1-3.5 1-7.7 1 9.8 1-25.3 1 15.8 1 10.2 1-4.8 1 2.8 1-116.4 1 113.4 1 6.3 1-12.7 1-4.9 1-.3 1 13.3 1 3.3 1-.9 1-12.9 1 13.1 1 1.6 1-.3 1-15.5 1 10.8 1 5.1 1 .1 1-10.5 1 4.2 1-36.9 1 42.3 1 .3 1-.5 1-8.5 1 8.7 1 .7 1-24.3 1 24.7 1-.8 1-.3 1-38.4 1 39 1-.1 1 .9 1-5.1 1 4.5 1 .3 1-1.1 1-1.6 1 1.7 1-4.4 1 3.4 1 .8 1-1.7 1-.6 1 2.2 1 0 1-1.6 1 1.4 1 .1 1-.1 1-.1 1 1.2 1-.5 1-.3 1-.3 1 1 1-8.9 1 7.4 1-.2 1-1.2 1-.1 1 1.6 1-.6 1-1.2 1-8 1 9.7 1 .3 1-1.4 1 1.2 1-.7 1 .7 1-3.4 1 4.1 1 1.5 1-1.9 1 .8 1-.2 1-1.1 1 .5 1-.2 1-75.9 1 75.9 1 .3 1-.1 1 .3 1-14.4 1 15.1 1-.9 1 0 1-1.5 1 1.3 1 .7 1-1 1-.3 1 .3 1 0 1 .7 1 .2 1-1 1-18.2 1-32 1 50 1 1.3 1-1.7 1 1.8 1 0 1-.7 1 .9 1-.4 1 .8 1-.4 1-.3 1 1 1-1.5 1 0 1 .6 1-.5 1 0 1-.2 1 .3 1 .2 1 .6 1-6.6 1 6.9 1-1 1-.1 1 .2 1-1.1 1 1.4 1-.8 1 1.2 1 .2 1-.6 1-.4 1 .2 1-.9 1 0 1 1.7 1-.6 1-1.6 1 .3 1 1.7 1-.3 1-1.9 1 2 1-1.6 1 2.3 1-1.3 1 .6 1-1 1-.7 1 .6 1-.4 1-.1 1-.4 1 1 1 1.5 1-.2 1-1.7 1 .1 1-.3 1 1 1 .1 1 1 1-.5 1-.6 1 .4 1 .6 1-2.1 1 1 1-.1 1 .1 1 .1 1 .7 1-1.3 1 1 1 .4 1-1.6 1 .8 1-.3 1 1.8 1-2.6 1 1.9 1 .2 1-.5 1 .5 1-.1 1-.9 1-.7 1 1.3 1-.2 1 0 1-.1 1 1.1 1-2.1 1 2.2 1-.4 1-1.9 1 1.5 1 .6 1-.7 1-1.5 1 1.6 1 .8 1-.9 1 0 1 .8 1-.7 1-.5 1 .4 1 .2 1 .1 1-.5 1-.4 1 .5 1-.5 1 1.4 1-.9 1-.7 1 .2 1-8 1 8.8 1 0 1 .1 1-1.7 1-.1 1-.4 1 2.4 1-.7 1 1 1-.8 1 .9 1-.1 1-1.9 1 1.2 1-.2 1-.4 1-1.8 1 2.2 1 .2 1-1.1 1 .8 1 1.1 1-1 1-.1 1 0 1-5.2 1 5.9 1-.7 1 .7 1-1 1 .4 1 0 1-1.6 1 1.9 1-3.4 1-4.9 1 7.9 1-.9 1 .1 1 .4 1 0 1 0 1 .7 1-2.6 1 1.8 1-.6 1-.5 1 .3 1 .2 1-.4 1 0 1 .3 1 .8 1-.4 1-.6 1 1.3 1-3.4 1-21.7 1 23.7 1 1.1 1-.5 1 .3 1 .3 1-1 1 .3 1 1.4 1-2.1 1 1.5 1-.7 1-.3 1-13.2 1 14.1 1-4.7 1 4.6 1-.6 1 1 1-.5 1-1.2 1-8 1 2.1 1 2.2 1 3.6 1-1.6 1 2.9 1-1.1 1 1.2 1-6.2 1 6.8 1-1 1-.9 1 .5 1-.3 1 1.2 1-1.3 1-.3 1-67.2 1 68.7 1 1.1 1-13 1 .4 1 10.4 1 1.1 1-11.8 1 7.3 1 4.7 1-.2 1-.1 1-116.4 1 115.1 1 1.1 1-3.6 1 1.7 1 3 1-1.8 1-45.7 1 46.2 1-.1 1-5.6 1 3.8 1-6.8 1-25.1 1 25.4 1-.8 1-2.7 1 .8 1 10.3 1-11.1 1 11.8 1-42.6 1 42.9 1-5.6 1 6.2 1-4 1-55.2 1 51.1 1 7.7 1-4.2 1 2.6 1-7.2 1-5.4 1 12.8 1-20.6 1 19.9 1-1.6 1-51.4 1-13.5 1 64.4 1 2.5 1 2.7 1-15.3 1 2.3 1 8.4 1 3 1 0 1 .8 1 .2 1-11.1 1-2.9 1 13.3 1-3.8 1-10.8 1 9.2 1 2.4 1 2.6 1-75.7 1 76 1-.7 1-6.9 1 8.6 1-.2 1-1.3 1-2.8 1 4.4 1-1.1 1-7.9 1 5.6 1 1.8 1 .7 1-4.5 1 5 1-2.1 1-.5 1 2 1-.2 1 .7 1 .8 1-4.8 1-5.6 1 2.5 1-18.2 1 13.5 1 12.2 1 .1 1-69.3 1 70.2 1-1.8 1-12.8 1 5.4 1 9 1-3.6 1 1.9 1 .7 1-7.7 1 7.4 1-13.3 1-7.4 1 21.9 1-1.9 1 1.3 1-.4 1-17.9 1 12.6 1 4.6 1-36.9 1 38.6 1 .1 1-2 1 1.2 1-1.9 1-47.1 1 47.7 1-3.4 1 4.2 1-.5 1-.1 1-15.4 1 17.5 1-2.1 1-2.3 1 1.3 1 1.4 1-2.3 1 1.3 1-8.7 1 9.6 1-.4 1 2.2 1 0 1-12 1 8.5 1-10.8 1 13.6 1 .1 1-1.1 1 .2 1-.7 1-.1 1-2.8 1 .9 1 2.1 1 2 1-1.8 1-1.1 1 1.9 1-2.3 1-4.5 1 6 1-1 1 .8 1-31 1 31.6 1-.3 1-1.8 1 2.5 1-.4 1 .2 1-.9 1-.7 1 1.4 1-.8 1-.2 1-1.1 1 1.8 1-.4 1-2.2 1 3.4 1-1 1-.1 1 .8 1-.6 1-.3 1-.7 1 .2 1 1 1 .3 1-1.4 1 1.8 1-.7 1 .5 1 .3 1-1.3 1 1.2 1-.5 1-1.4 1-.2 1 2.1 1-.3 1 0 1 .4 1-1.9 1 .3 1 .3 1 1.1 1-1.2 1 .4 1 .2 1-.4 1-.5 1 1 1 .3 1 .4 1-1.7 1 .7 1 1.9 1-1.6 1-.4 1 1.7 1-.1 1-1.7 1 .9 1 .9 1-1.1 1-.2 1 1 1-.1 1-.6 1 .1 1-1.3 1 .3 1 .6 1 .9 1-.1 1 .8 1-1.1 1 .2 1 .2 1-1 1-.4 1 2.1 1-1.5 1 0 1 .8 1 0 1-1.7 1 .7 1-1 1 2 1 .2 1-.5 1-.8 1-.4 1-.5 1 1.9 1 .3 1-1.5 1 .1 1 .2 1-.7 1 1.6 1 .6 1-2.6 1 1.2 1-2.4 1 2 1-1 1-4.6 1 4.9 1 1.2 1-1.3 1 1.2 1-.7 1 .8 1-.4 1 .2 1 .5 1-.4 1-.4 1 .6 1 .3 1-8.2 1 6.8 1-.9 1 2.6 1-6 1 5.3 1-1.1 1-6.8 1 7.1 1-6.5 1 3.2 1 4.6 1-1.2 1 1.2 1-1.3 1-.5 1-2 1 3.7 1 1.1 1-1.6 1-12.6 1 9.5 1 4.1 1-1.5 1-22.3 1 22.3 1 2.1 1-.4 1-1.8 1-4 1-33.8 1 35.7 1 2.9 1-3.8 1 4 1 .2 1 0 1 .3 1-29.2 1 28.7 1 .5 1-3.1 1 3.2 1-.4 1 .5 1-.1 1-.8 1 .8 1-.3 1-1 1 1.4 1-.1 1-.6 1-3.2 1 1.7 1-10.8 1 11.5 1-.9 1 .4 1 .3 1 .3 1-.4 1 .9 1 .9 1-25.3 1 24.9 1 0 1 .6 1-1.9 1-7.7 1 9.1 1-3.2 1 3 1 .9 1-8.1 1 5.3 1 1.8 1-5.3 1 5.5 1-.1 1-.2 1 .2 1-2.4 1-2.3 1 4.5 1-13.6 1-30.2 1 43.5 1-4.5 1-1.6 1 3.4 1 2.6 1 .5 1-5.5 1 5.3 1 .5 1-1.4 1 0 1 .3 1-4.5 1 3.6 1-37.3 1 35.4 1 3 1 0 1-.5 1-56.8 1 56.7 1 .2 1-6.8 1 6.7 1 0 1 .1 1-1.1 1-9.5 1 10.9 1-42.1 1 32.7 1 8.1 1 .8 1 .2 1-4.2 1 3.5 1 .9 1-5.3 1 5.1 1 0 1-2.4 1 2 1-4.1 1 3.5 1 .4 1 .9 1-30.2 1 29.8 1-.3 1 .5 1 .8 1-2 1 .9 1-1.9 1-1.3 1-3.4 1 7.3 1-4.2 1 4.4 1-4 1 3.7 1-2.4 1 1 1 1.8 1-.2 1-1.9 1 1.5 1-122.1 1 120.5 1-68.2 1 68.4 1 .8 1-6.7 1 5.4 1-9.8 1 12.1 1-1 1 0 1-.4 1 .6 1-1.1 1-.8 1 2.6 1 .8 1-.2 1-1.4 1 1.5 1-1.4 1 .3 1 0 1 1.5 1-1.8 1-2.2 1 3.5 1-1.4 1 .3 1 .8 1-51.4 1 51.7 1-.5 1-9.7 1 10.8 1-3.2 1 1.1 1 .6 1 1.1 1-2.9 1 2 1 .2 1 .8 1-9.3 1 8.4 1-214.4 1 213.9 1-2.7 1 3.7 1-.8 1 1 1-1.3 1 .7 1-.8 1 1.4 1-1.1 1-.5 1 .6 1-.5 1 1.3 1 .6 1-1.6 1 0 1 .4 1-2.2 1 3.1 1-3.2 1 1.4 1-.1 1 .6 1 1.7 1-3.6 1 2.6 1-.3 1-.8 1 1.8 1-1.4 1-14.4 1 10.5 1 5.1 1 0 1-1.9 1 1.8 1 .5 1-.1 1-.7 1 1.1 1-.6 1 .2 1-.2 1-1 1 1.3 1-1.6 1-.1 1 1.9 1-1.1 1 .3 1-31.2 1 29.2 1 2.7 1-1.4 1-.3 1 1.3 1 .1 1-2.8 1 2.1 1 1.1 1-.1 1-1.7 1 1.3 1 .3 1 0 1 .5 1-.5 1-.1 1 .1 1 .1 1-.7 1 .4 1 0 1 .3 1 .1 1-.3 1 .6 1-1.4 1 .6 1 .2 1-1.4 1 .8 1 1.2 1 0 1-.6 1 .3 1-1.3 1 .3 1-.1 1-.1 1 .1 1 1.4 1 0 1-.2 1-1.1 1 .2 1-1.2 1 .4 1-.1 1 1.4 1-.5 1-.8 1 1.5 1-.4 1-1.8 1-.2 1 2.7 1-1.3 1 .8 1 .5 1-.8 1-1 1-.1 1 .2 1-.8 1 1.5 1-.4 1-1.3 1 .5 1 .4 1 .9 1-.9 1-.1 1-.1 1 .3 1-3.4 1 .3 1 2.9 1 .5 1 .4 1-1 1-5.2 1-7.7 1 0 1 0 1 11.6 1 .1 1 1.5 1-.7 1 .9 1 .5 1-2.1 1-11.8 1 13 1-1.3 1-11.7 1 0 1 12.6 1-2 1 1.7 1 1.3 1-.1 1-3.9 1 1.6 1 2 1 0 1-5.1 1-7.7 1 10.7 1-11.1 1 1.6 1 6.7 1 5.1 1-1.1 1-2.5 1-3.1 1-6.7 1 7.6 1 1.1 1-11.7 1 14.3 1-4.4 1 5.9 1-1.1 1-11.7 1 13.3 1 .8 1-.3 1-3.9 1-9.9 1 12.3 1-1.9 1 3.6 1-1.9 1 2 1 .4 1-2.5 1 1.7 1-1.2 1 2.3 1-.8 1-12.9 1 2.2 1 10.1 1-7.1 1 7 1 .2 1-.7 1 1.2 1-2.3 1 3.3 1-1.8 1 1 1-.6 1-1 1 1.5 1-.4 1 .5 1 .1 1 .7 1-4.1 1 2.7 1-.7 1-.2 1 1.2 1-.8 1 .7 1 .6 1-.3 1-1 1 .1 1 1.7 1-1.6 1 .6 1-.7 1 .3 1 1.1 1 0 1-.9" fill="none" vector-effect="non-scaling-stroke" stroke-linejoin="round"/></defs>
<rect width="437" height="550" fill="#fff"/>
<clipPath id="clip_a"><rect x="30.45" y="26.5" width="174.15" height="137.9"/></clipPath>
<g clip-path="url(#clip_a)"><use href="#nasa" transform="translate(30.45,141.42) scale(0.024879,0.459667)" stroke="#45B6EE" stroke-width="0.3"/><use href="#nasa" transform="translate(30.45,141.42) scale(0.024879,0.459667)" stroke="#1272CB" stroke-width="0.17"/><path d="M0 -6.7l10 0 10 0 10 0 10 0 10 0 10 0 10 0 10-.1 10-.1 10-.1 10-.1 10-.5 10 0 10-.2 10 0 10 0 10 .1 10 .4 10-.2 10 .2 10-.1 10 0 10 .2 10 0 10 .2 10 .1 10 .1 10 0 10 .1 10 0 10 0 10 0 10 0 10 0 10 0 10 0 10 0 10 0 10-.1 10 0 10 0 10 0 10 0 10-.1 10 0 10-.1 10-.1 10-.2 10-.1 10-.2 10 0 10 0 10-.1 10 .1 10 0 10 .2 10-.2 10 .1 10 .2 10 .1 10 .1 10 .1 10 .3 10 0 10 0 10 0 10 0 10 0 10 0 10 0 10 0 10 0 10 0 10 0 10 0 10 0 10 0 10 0 10-.1 10-.1 10-.3 10 0 10 0 10-.1 10 0 10 .1 10 0 10 0 10-.1 10 .1 10-.1 10-.1 10 0 10 .1 10 0 10-.1 10 0 10 .2 10 .1 10 .1 10 .1 10 0 10 .1 10 0 10 0 10 .1 10 0 10 0 10 0 10 0 10 0 10 0 10 0 10-.4 10-.3 10-.7 10-.4 10-.3 10-.5 10-.4 10-.5 10 0 10-.5 10-.3 10-.3 10 .3 10 .3 10 .4 10 .3 10 .3 10 .4 10 .4 10 .5 10 .2 10 .5 10 .4 10 .3 10 .1 10 0 10 0 10 .2 10 0 10 0 10 0 10 0 10 0 10-.1 10 0 10 0 10 0 10 0 10 0 10 0 10 0 10-.1 10-.2 10-.1 10-.2 10-.1 10-.1 10 .1 10 0 10 .2 10 0 10 .1 10 .1 10-.1 10 0 10 0 10 .1 10 0 10 0 10 .2 10 0 10 .1 10 0 10 .1 10 0 10 0 10 0 10 0 10 0 10 0 10 0 10 0 10-.1 10 0 10-.1 10-.2 10 0 10-.1 10 0 10 0 10-.2 10 .1 10 0 10 0 10 .1 10-.1 10 0 10 .1 10 0 10 0 10 0 10 .1 10 .3 10 0 10 .1 10 0 10 0 10-.1 10 0 10 0 10 0 10 0 10 .1 10 0 10 0 10 0 10 0 10 0 10 0 10 0 10-.1 10 0 10-.1 10 0 10 0 10 0 10-.1 10-.1 10-.1 10 0 10-.1 10 0 10 0 10 .2 10 0 10-.2 10 0 10 0 10-.1 10 .1 10 .1 10 .2 10 .1 10 0 10 .1 10 .1 10 0 10 .1 10 .3 10 .8 10 1.4 10 1.6 10 .7 10-.7 10-1.6 10-1.4 10-.8 10-.3 10-.1 10 0 10 0 10-.2 10 0 10 0 10 0 10-.1 10 0 10 0 10-.1 10 0 10-.3 10-.1 10-.1 10 0 10-.1 10 0 10 .2 10 .1 10 .2 10 .1 10 .1 10 .2 10 0 10 0 10 .1 10 0 10 0 10 0 10 0 10 0 10 0 10 0 10 0 10-.1 10 0 10 0 10 0 10-.1 10-.1 10 0 10 0 10 0 10-.1 10-.1 10 .1 10 0 10-.1 10 0 10 0 10-.2 10 .1 10 0 10 0 10 .1 10 .1 10 .1 10 .1 10 .1 10 0 10 0 10 0 10 .1 10 0 10 0 10 0 10 0 10 0 10 0 10 0 10 0 10 0 10 0 10-.1 10 0 10 0 10 0 10-.1 10-.1 10-.1 10-.1 10 0 10-.1 10 0 10-.1 10 .2 10-.1 10 0 10 0 10 0 10 .1 10 .1 10 0 10 .1 10 .1 10 .1 10 0 10 0 10 0 10 0 10 0 10 0 10 0 10 .1 10 0 10 0 10 0 10 0 10 0 10-.1 10-.1 10-.1 10 0 10-.1 10 0 10 .1 10 0 10 0 10-.1 10-.1 10 0 10 0 10 0 10 0 10 .1 10 0 10 .1 10-.1 10 .1 10 0 10 0 10 .1 10 0 10 .2 10 0 10 0 10 0 10 0 10 0 10 0 10 0 10 0 10 0 10 0 10-.1 10-.8 10-.9 10-.8 10-.9 10-.9 10-.9 10-.9 10-1 10-.9 10-.9 10-.8 10-.9 10-.8 10 .9 10 .8 10 .3 10 .9 10 .9 10 .9 10 .9 10 .8 10 1.3 10 .9 10 .9 10 .9 10 .9 10 .1 10 .1 10 0 10 0 10 0 10 0 10 0 10 .3 10 1.1 10 2 10 2.2 10 1 10-1 10-2.1 10-2.2 10-1.3 10-.4 10-.1 10-.1 10 0 10 .1 10 .1 10-.1 10 0 10 .1 10 0 10-.1 10 .1 10 0 10 .1 10 0 10-.1 10 .1 10 0 10 0 10 0 10 .1 10 .1 10 0 10 0 10 .1 10 0 10 0 10 0 10 0 10 0 10 0 10 0 10 0 10-.1 10 0 10 0 10-.2 10-.2 10 0 10-.1 10 0 10-.1 10 .1 10 .1 10 0 10-.1 10-.1 10 .1 10 0 10 .1 10 0 10 .1 10 .2 10 0 10 .1 10 0 10 0 10 0 10 .1 10 0 10 0 10 0 10 0 10 0 10 0 10 0 10-.2 10 0 10 0 10 0 10-.2 10-.1 10 0 10-.1 10-.1 10 0 10 .1 10-.1 10 .1 10-.1 10 0 10-.1 10 0 10 .1 10 .1 10 .1 10 .1 10 .2 10 0 10 0 10 0 10 .1 10 0 10 .1 10 0 10 0 10 0 10 0 10 0 10 0 10-.1 10 0 10-.1 10 0 10 0 10-.1 10 0 10-.1 10 0 10-.1 10 0 10 0 10 0 10 0 10-.2 10 0 10 0 10 0 10 0 10 .2 10 .2 10 0 10 0 10 .1 10-.1 10 0 10 0 10 0 10 0 10 .2 10 0 10 .1 10 0 10 0 10 0 10 0 10 0 10 0 10 0 10 0 10 0 10 0 10-.1 10 0 10 0 10-.1 10-.1 10-.2 10 0 10-.2 10-.1 10-.2 10 .1 10 0 10 .1 10 .1 10 0 10 .2 10-.1 10 .1 10 0 10 0 10 .1 10 .1 10 0 10 .1 10 .1 10 0 10 0 10 .1 10 0 10 0 10 0 10 0 10 0 10-.1 10 0 10-.1 10 0 10 0 10 0 10 0 10 0 10-.1 10 .1 10-.2 10 0 10 0 10-.1 10 .1 10-.3 10 .2 10 .1 10-.1 10-.2 10 0 10 .2 10 .1 10 0 10 0 10 .3 10 0 10 0 10 0 10 .1 10 0 10 0 10 .1 10 .4 10 1.2 10 2.3 10 2.5 10 1.1 10-1.1 10-2.6 10-2.3 10-1.2 10-.4 10 0 10 0 9 0" transform="translate(30.45,141.42) scale(0.024879,0.459667)" fill="none" stroke="#F85218" stroke-width="0.35" vector-effect="non-scaling-stroke" stroke-linejoin="round"/></g>
<rect x="30.45" y="26.5" width="174.15" height="137.9" fill="none" stroke="#8a8a8a" stroke-width="0.9"/>
<path d="M30.45 164.4v-1.6M30.45 26.5v1.6M55.33 164.4v-1.6M55.33 26.5v1.6M80.21 164.4v-1.6M80.21 26.5v1.6M105.09 164.4v-1.6M105.09 26.5v1.6M129.96 164.4v-1.6M129.96 26.5v1.6M154.84 164.4v-1.6M154.84 26.5v1.6M179.72 164.4v-1.6M179.72 26.5v1.6M204.6 164.4v-1.6M204.6 26.5v1.6M30.45 164.4h1.6M204.6 164.4h-1.6M30.45 141.42h1.6M204.6 141.42h-1.6M30.45 118.43h1.6M204.6 118.43h-1.6M30.45 95.45h1.6M204.6 95.45h-1.6M30.45 72.47h1.6M204.6 72.47h-1.6M30.45 49.48h1.6M204.6 49.48h-1.6M30.45 26.5h1.6M204.6 26.5h-1.6" stroke="#8a8a8a" stroke-width="0.7" fill="none"/>
<g font-size="5.45" fill="#262626" stroke="#262626" stroke-width="0.12"><text x="30.45" y="172" text-anchor="middle">0</text><text x="55.33" y="172" text-anchor="middle">1000</text><text x="80.21" y="172" text-anchor="middle">2000</text><text x="105.09" y="172" text-anchor="middle">3000</text><text x="129.96" y="172" text-anchor="middle">4000</text><text x="154.84" y="172" text-anchor="middle">5000</text><text x="179.72" y="172" text-anchor="middle">6000</text><text x="204.6" y="172" text-anchor="middle">7000</text><text x="27.95" y="166.3" text-anchor="end">-50</text><text x="27.95" y="143.32" text-anchor="end">0</text><text x="27.95" y="120.33" text-anchor="end">50</text><text x="27.95" y="97.35" text-anchor="end">100</text><text x="27.95" y="74.37" text-anchor="end">150</text><text x="27.95" y="51.38" text-anchor="end">200</text><text x="27.95" y="28.4" text-anchor="end">250</text></g>
<text x="117.52" y="179.9" text-anchor="middle" font-size="5.95" fill="#262626" stroke="#262626" stroke-width="0.12">Number of days</text>
<text transform="translate(16.29,95.95) rotate(-90)" text-anchor="middle" font-size="6.13" fill="#262626" stroke="#262626" stroke-width="0.12">Rainfall(kg/m2)</text>
<rect x="134.5" y="48.8" width="52.8" height="13.6" fill="#fff" stroke="#a8a8a8" stroke-width="0.6"/>
<path d="M136.4 53.28h15.2" stroke="#86CFF2" stroke-width="1.2"/>
<path d="M136.4 59.67h15.2" stroke="#F7B89A" stroke-width="1.2"/>
<g font-size="4.85" fill="#262626" stroke="#262626" stroke-width="0.08"><text x="153.7" y="54.98">NASA data</text><text x="153.7" y="61.37">ANN prediction</text></g>
<text x="9.299999999999999" y="10.6" style="font-family:'Liberation Serif',serif" font-weight="bold" font-size="12" fill="#000">(a)</text>
<clipPath id="clip_b"><rect x="255.4" y="26.4" width="174.6" height="137.9"/></clipPath>
<g clip-path="url(#clip_b)"><use href="#nasa" transform="translate(255.40,141.32) scale(0.024943,0.459667)" stroke="#45B6EE" stroke-width="0.3"/><use href="#nasa" transform="translate(255.40,141.32) scale(0.024943,0.459667)" stroke="#1272CB" stroke-width="0.17"/><path d="M0 -0.4l1-.2 1-.1 1 0 1-.1 1 .1 1 .1 1 0 1-.2 1-.3 1-.1 1 .1 1 .1 1 0 1-.1 1-.2 1-.2 1 0 1 .1 1-.1 1 .1 1 .2 1 0 1 0 1-.1 1 0 1 0 1 0 1-.1 1 .2 1 0 1-.1 1 .2 1 .1 1-.1 1-.1 1-.1 1 .1 1 0 1-.3 1 0 1 .2 1-.1 1 0 1 0 1 0 1 .1 1 .3 1 0 1-.4 1 .1 1 0 1-.1 1 .1 1 0 1-.1 1-.1 1 .1 1 .1 1 0 1 .1 1 .3 1-.2 1 .2 1 .3 1 0 1-.2 1-.1 1 .1 1 .5 1-.2 1-.2 1 0 1-.2 1-.3 1 .3 1 .1 1 .4 1 .6 1-.3 1-.5 1 .1 1 0 1 .1 1 .1 1 .9 1 .7 1-.9 1-.5 1 .8 1 0 1-.6 1 .3 1-.3 1-.4 1-.2 1-.1 1-1 1 .5 1 .1 1 .6 1-1.1 1-1.4 1-.6 1-.6 1-.4 1-.6 1-.8 1 0 1 1 1-6.6 1-1.8 1 .8 1 1.3 1 .9 1-.6 1-1.5 1-.3 1 .5 1 2.3 1-.9 1-1.9 1 2.8 1 1.8 1-.8 1-.3 1-3.4 1 .7 1 .8 1-.6 1 .9 1-2 1-3.2 1-.9 1-5.5 1 1.2 1-6.4 1-1.3 1 .5 1 1.1 1-.3 1-.8 1 1.5 1-.4 1 1.4 1 2.1 1-2.1 1 .1 1 .8 1 1.4 1-2.6 1 .1 1 9.5 1-2.7 1 1.7 1 9.9 1-2.9 1 2.1 1 .7 1-3.9 1-.7 1 1.1 1 1 1-1.5 1-1.4 1-.2 1 2.2 1 .8 1-3.3 1-1.3 1-.3 1-.6 1-.5 1-.1 1 2.4 1 1.3 1 .1 1 6.4 1 1.2 1-5 1 .2 1 5 1-.7 1-5.2 1-.9 1 .2 1 .3 1 .3 1-1.7 1-.2 1 1.6 1 0 1-.9 1 .9 1 .6 1-.7 1 .7 1-1.2 1-.5 1 2.2 1 1.7 1-4.6 1-3.5 1 .2 1 2 1-.5 1 1.2 1-1 1 1.7 1 .5 1-.5 1-.3 1 .2 1 .8 1-.3 1-2.1 1-.1 1 2.3 1 .3 1-.7 1 0 1-2.4 1 10.6 1 1.7 1 .6 1-6.4 1-.2 1-1.7 1-1 1 1.9 1-.9 1 .6 1 .8 1-1.9 1 .3 1 .9 1 1.4 1 .4 1-.5 1 1.4 1 .8 1-1.8 1-.3 1 1.4 1-.4 1-.7 1 5.9 1-1.1 1 .4 1 2.2 1 .1 1-.6 1-.5 1-1.4 1 .2 1-.2 1-.4 1 .7 1 1.2 1-6.1 1 6.5 1-15.8 1 14.7 1 .9 1-.1 1 1.3 1-.7 1-.9 1-.4 1 .7 1 .8 1-.4 1 .1 1 .3 1-.1 1-.8 1-.1 1 .7 1 0 1-.1 1-.1 1 0 1 0 1 0 1 .1 1 .1 1 .1 1-.2 1 .1 1 .1 1 0 1 .2 1 .1 1 0 1 .1 1-.1 1 0 1 0 1 .1 1 0 1-29.4 1 29.6 1 .1 1-.2 1-.1 1 .2 1 0 1 .2 1-.2 1-.2 1 .1 1 .1 1 .1 1 .3 1 0 1-.1 1 .3 1-.3 1-.3 1-.1 1 .1 1 .2 1-.1 1 0 1 0 1-.1 1 .3 1 0 1-.1 1 0 1-.3 1 .2 1 .1 1-.3 1 .2 1 0 1-.1 1 .1 1 .1 1-.3 1 .1 1 .2 1-.1 1-.3 1-.3 1 .1 1 .3 1-.1 1-.1 1 0 1 0 1-.1 1-.2 1 .3 1 .1 1-.3 1-.1 1 .1 1 .1 1-.2 1 .3 1 0 1-.3 1 .3 1 .2 1-.1 1-.2 1-.2 1-.2 1 .1 1-.1 1 0 1 0 1-.1 1 0 1-.1 1-.2 1 .2 1 .1 1-.1 1 0 1 .1 1 0 1-.3 1 0 1-.1 1 .1 1 .1 1 .1 1 0 1 .1 1 .1 1-.1 1-.3 1 0 1 .2 1 .1 1-.3 1 0 1 .1 1 0 1-.1 1-.2 1-.1 1 .1 1 .3 1 .4 1 .2 1-.1 1 0 1 .2 1-.5 1 0 1 .4 1 .1 1-.1 1-1 1 .5 1 .4 1-.2 1 .1 1-.2 1 .5 1-.5 1-.5 1 .4 1 .4 1-.9 1-.2 1 .2 1-.7 1 .9 1-.6 1 .1 1 .2 1-1.5 1 .9 1 1.2 1 .3 1-2 1-.1 1 2.2 1-.7 1-1.1 1 1.4 1 .9 1 1.6 1-.4 1-.9 1 .7 1 0 1-.4 1-1.5 1 3.3 1-4.5 1 1 1 1.6 1-.8 1-1.8 1-.6 1-2.5 1 1 1-.2 1 .6 1 1.2 1-1.5 1 .6 1 .1 1-13.4 1 11.4 1-1.3 1 1.3 1 .3 1-.7 1-.8 1-3.5 1 .6 1-1.7 1-.6 1 2 1 .5 1 1.8 1-.5 1-2.2 1-2.3 1 2.1 1 1.4 1 .6 1-.1 1-2.7 1-4.2 1 2.5 1 .6 1 2.1 1-2.7 1-1.7 1 1.5 1-1 1 2.1 1-2.1 1 .3 1-1.7 1-2.4 1-3.1 1 2.9 1 1.9 1-.1 1-1.7 1-2.4 1 .3 1 1.7 1 3.7 1 1.4 1-.4 1-2.3 1 1.4 1 .2 1-7.5 1 2.4 1 2.1 1-.2 1-3.8 1 2.1 1 2.9 1-1.7 1 4.7 1 .2 1 .2 1 2 1-1.3 1-1 1 2.8 1-1.5 1-.1 1 2.1 1-2.1 1 .2 1 .6 1 9.3 1-5.6 1-.9 1 3.4 1-5 1-.9 1-4.7 1-.9 1-2.4 1-.2 1 2.7 1 1.6 1-5.4 1 .5 1 1.4 1 1.1 1-.7 1-3.6 1 .4 1 1.8 1 2.7 1-.5 1-.2 1 .1 1-.1 1 8.8 1 1.5 1-.9 1-1.5 1 2.1 1-5.1 1-.6 1-.8 1 4 1 2 1-.5 1-.8 1-.8 1 .5 1 3.9 1-.4 1-1.9 1 .2 1-1.8 1 1.1 1 .6 1-8.9 1 .9 1 .2 1-1.8 1-.8 1 6.2 1-.8 1-.3 1-.7 1 .2 1 1 1-1.5 1-.7 1 .7 1 1.7 1 .8 1-.1 1-1.9 1 2.2 1 .5 1-1 1 7.9 1 .8 1 .3 1 .5 1 2.5 1-.2 1-.7 1 .7 1 0 1-1.5 1 1 1 .7 1-1.1 1 .3 1 .3 1 .1 1-.4 1 .3 1 .5 1 .4 1-.4 1-.8 1 .6 1 .4 1-.9 1-.1 1 .5 1 .5 1-.3 1-1.2 1 .2 1 .3 1-.1 1 .1 1 .2 1 0 1 .1 1-.2 1-.3 1 .3 1 .2 1 .1 1 .2 1-.2 1 0 1 .3 1-.1 1 .1 1-.1 1-.2 1 .2 1 0 1 0 1 .1 1-.1 1-.3 1 .1 1 0 1 0 1-.2 1 0 1 .2 1-.2 1 .1 1 .1 1-.1 1-.3 1-.3 1 0 1 .4 1 0 1-.2 1 0 1 .1 1 0 1 .1 1 0 1-.2 1-.1 1 0 1 0 1 .1 1 .1 1 .1 1 0 1 .1 1-.1 1-.2 1 .1 1 0 1-.1 1 0 1 .2 1-.1 1 .2 1 .2 1-.2 1-.2 1 0 1 .1 1-.1 1 0 1-.1 1 .1 1 .3 1-.2 1 0 1 0 1 .2 1 .1 1-.2 1-.2 1 .2 1 .2 1 0 1-.2 1 0 1 .1 1-.2 1-.1 1 .2 1 .2 1 0 1 0 1 .1 1 0 1 .2 1-.1 1 .1 1 0 1-.3 1 0 1 .5 1-.1 1-.2 1-.1 1 .1 1 .1 1 .2 1 .3 1-.1 1-.3 1 .1 1 .2 1 0 1 0 1 0 1 0 1-.4 1 .1 1 .2 1 .1 1 0 1 0 1 0 1-.2 1 .3 1-.1 1-.2 1-.2 1 .3 1 .5 1-.2 1-.1 1 .1 1 .4 1-.9 1-.5 1 1 1 0 1-.2 1 .4 1 .2 1-.6 1-.3 1 .2 1-.2 1 .6 1 .4 1-.8 1 .3 1-1.7 1-.6 1-.4 1-.4 1 0 1 .2 1 .3 1 .6 1 .3 1-.4 1-.3 1-.2 1-1 1 1 1 .3 1-.2 1 .2 1-.1 1-.6 1-.7 1 .9 1 .5 1-1.5 1 2.6 1 .3 1-.8 1-1.4 1-.7 1 1.1 1-3.4 1-.3 1-2 1 1.2 1 0 1-.3 1-4.1 1-.3 1 .9 1-.2 1 1 1-6.8 1 0 1 .3 1-2.7 1 .1 1 1.4 1-.3 1 .4 1 1.1 1-1.4 1 3.3 1-1.2 1 1.3 1 2 1 1.1 1-.1 1 4.7 1-.5 1-3.1 1-.1 1 1.4 1 6.4 1-.1 1 .9 1 .2 1-1.1 1-3.4 1 1.2 1 .4 1-.5 1 1.8 1-17.7 1 15.9 1 1.8 1 1.5 1-4.4 1-2 1 .5 1-.2 1-.3 1-.8 1 1.7 1 .2 1-2.7 1-2.7 1 1.1 1 3.2 1 5.2 1-1.6 1-5.8 1 4 1-.4 1-.8 1-.9 1 1.3 1 2.3 1 .5 1-6.2 1-.3 1 0 1-1.9 1 3 1 .9 1-1.2 1-2.2 1-.3 1-.3 1-2.4 1 .1 1 2.2 1 1.2 1 1.3 1 .1 1-.9 1 .5 1-1.4 1-.8 1 2.4 1 3.2 1-2.4 1 .4 1 2.5 1-.3 1-3.4 1-.6 1 3.3 1 1.4 1 .4 1 1.8 1 1.3 1-2 1-2.1 1-.8 1-5.6 1 7.8 1 1.8 1-2.1 1-2.8 1 0 1 .6 1 1.3 1-.8 1 .3 1 1.6 1-3.9 1 2.8 1 3 1-1.3 1-2 1-2.4 1 0 1 .3 1-1.8 1 .1 1-.3 1-.6 1-1.1 1 .4 1-1 1 .4 1 1.6 1 .5 1 .1 1 .7 1-8.1 1 3.2 1 1.9 1 .8 1-1.9 1-1 1-.7 1 .1 1 1 1 3.1 1 2 1-.7 1-.9 1 .5 1-2.2 1 2.2 1 2.1 1 .5 1-.4 1-1.8 1 .8 1 6.7 1-1.1 1-1.5 1-.6 1 .7 1 .6 1 2 1 .4 1 .4 1-4.6 1-1.3 1-2.3 1-.1 1 1.5 1 1.2 1-.1 1 1 1-.3 1-1.7 1 .5 1 .5 1 .8 1-.2 1-1.2 1 1.8 1 .6 1-1.5 1-.9 1 .1 1 .9 1 4.4 1-.2 1 1.1 1 .4 1-.1 1 1.8 1-.5 1 .1 1 .1 1-.5 1-.3 1 .2 1 .5 1 0 1-.2 1-.2 1 0 1-.3 1-.6 1 1.1 1 .1 1 .1 1-.3 1-.2 1 .2 1-.1 1-.2 1-.3 1-.2 1 .1 1 .3 1 0 1-.1 1 .2 1-.1 1-.1 1 0 1 .1 1 .1 1 0 1-.3 1-.1 1 0 1 .1 1 0 1-.1 1 .1 1 .1 1-.2 1-.2 1 .2 1 .1 1 .2 1-.1 1-.2 1 .2 1 .1 1 .2 1-.1 1-.4 1 .1 1 0 1 0 1 .2 1 .2 1 0 1-.1 1 0 1 .2 1 0 1 .1 1-.1 1-.1 1 .2 1-.1 1-.2 1 0 1-.1 1 .1 1 .2 1-.1 1 .1 1 0 1 .1 1 .2 1 0 1 0 1 0 1-.2 1-.2 1 .1 1 0 1-.4 1 .1 1 .5 1 .1 1 0 1 0 1 0 1 0 1 0 1-.1 1 0 1 .1 1 .1 1-.1 1-.1 1 0 1 0 1 .2 1-.4 1-.2 1 .1 1 .1 1-.1 1-.3 1 .1 1 .2 1-.1 1-.1 1 .5 1 .1 1-.2 1-.1 1-.1 1-.2 1-.2 1 .1 1-13.2 1 13.4 1 .3 1 .2 1 0 1-.2 1 .1 1 .1 1-.7 1 .9 1 .7 1-.5 1-.2 1 .1 1 .3 1-1.4 1 .2 1 1 1-.6 1 0 1-1 1 1.1 1 .4 1 .9 1-.7 1-.8 1-1 1-.1 1-.4 1-.2 1 .8 1-.3 1 1 1-15.8 1 15.6 1-.5 1 .6 1-2.6 1 3.8 1-.9 1-1.6 1 1.2 1 .2 1-.6 1 1.7 1 .6 1-1.2 1-1 1 .1 1-1.3 1-16.5 1 2.7 1 1.2 1-1.7 1-.7 1 1.2 1 .8 1 .4 1 0 1-1.1 1-.8 1 0 1-.3 1 .5 1 1.3 1-.7 1 .9 1-1 1-2.3 1 .2 1 1.2 1 17.6 1-1.1 1 .8 1-69.7 1 77 1-11.7 1-3.8 1-.9 1-2.9 1 .2 1 2.4 1 1 1-1.9 1-.4 1 1.4 1 .2 1 .8 1-1.4 1-.8 1 .6 1-1.9 1-4.1 1-5.4 1 2.4 1 1.8 1 .8 1 3.9 1 2.4 1-.9 1 0 1-1.4 1-2.1 1 .1 1 1.7 1-.4 1 1 1 .4 1-2.4 1-1.7 1-.1 1 2 1 2.6 1 1.7 1 5.4 1-3.1 1-1.9 1 2.1 1 1.8 1 .6 1-4.3 1-.3 1-1.9 1 .3 1 1.3 1-.9 1 1.7 1 .4 1-3.7 1 6.5 1 1.4 1-2.4 1-2.6 1-.7 1 1.5 1 1 1-1 1-2.2 1 2.9 1 .8 1-.9 1 2.7 1-2.6 1-2 1-14.8 1 15.7 1 1.6 1 1.4 1-3.2 1 .3 1-1.4 1 .9 1-.8 1-2.6 1 3.9 1 1.1 1-.8 1-2.6 1-.4 1 1.8 1-.2 1-5.9 1 1.3 1 1.4 1-3.2 1 .1 1 1.3 1-3.2 1 3.5 1-.2 1-1.5 1-8.9 1 14.7 1 .5 1 0 1 .6 1 1 1 1 1-1.2 1-2.1 1 3 1-.6 1 1.8 1-.3 1-.2 1 .3 1 1.3 1-4 1 .2 1-1.7 1-1.6 1-.4 1 2.9 1 .1 1-.2 1 2 1 .7 1-.1 1-2.1 1-2.1 1 1.3 1 2.2 1 2.6 1-.7 1-.8 1-.2 1 1.8 1 .3 1 2.2 1-.1 1 1.3 1 .9 1 .2 1-2 1 .2 1 .5 1-1 1 1.2 1 1.6 1-1.6 1-.5 1 .5 1 1.2 1 .3 1-.3 1-.3 1 .5 1-.5 1-.1 1 1 1-.1 1-8.1 1-.6 1-1.2 1 .6 1 2.3 1-.6 1-1.2 1 1 1 0 1-1.4 1 .7 1 .6 1-.9 1 1.1 1 .2 1-1.9 1-.6 1 .3 1 .9 1 .2 1-1.5 1 7.7 1 .7 1 .7 1 .5 1-.7 1 .1 1 1 1 .2 1-2 1-.2 1 .8 1 1.2 1 .6 1-.1 1-.6 1 .4 1 .5 1 .4 1-.3 1-.9 1-1.1 1 .4 1 0 1 .3 1 .1 1 .5 1 .2 1-.4 1-.1 1 .5 1-.1 1-.1 1-.1 1 0 1 .1 1-.1 1-.1 1-.1 1 .1 1 .1 1 0 1 0 1-.1 1 0 1 0 1-.3 1 0 1 0 1 .1 1 .1 1-.1 1-.1 1 .3 1-.1 1-.3 1 .2 1 0 1-.1 1 .2 1-.1 1 0 1-.1 1-.1 1 0 1 .1 1-.1 1 .1 1-.1 1 0 1-.3 1-.1 1 .2 1-.2 1-.1 1 .1 1-.2 1 0 1 0 1-.2 1 0 1 .1 1 .1 1 0 1 0 1 .1 1-.1 1-.3 1 0 1 0 1 .1 1 .3 1 .2 1-.5 1-.1 1 .1 1-.1 1 0 1 0 1 .1 1 0 1-.3 1 0 1 .1 1 0 1 0 1-.1 1 .2 1 .1 1-.2 1-.1 1 0 1 .1 1 .1 1 0 1 .1 1 .1 1 .1 1 0 1 0 1-.2 1 0 1 .1 1 .5 1 .1 1-.2 1 .2 1-.3 1-.3 1 .5 1-.1 1 .4 1 .1 1-.3 1-.2 1 .2 1 .1 1-.5 1 0 1 .5 1 .4 1 .5 1-.2 1-.9 1-.8 1-.4 1 0 1 .7 1 .7 1 .5 1-.1 1-.9 1-.2 1-.9 1-.1 1 .6 1-.4 1-1 1-.2 1 1.7 1-.4 1-.5 1 1.8 1 .1 1-1.1 1 1.4 1-.2 1-1.7 1 .4 1 1 1 .8 1 .1 1-.4 1-.3 1 .6 1-.1 1 1.5 1-1.1 1-2.3 1-.6 1 1.2 1-.5 1-1 1-7 1 5.8 1-1.8 1 .6 1-2 1 0 1-.5 1-.3 1 1.4 1-1.1 1-5.6 1 1.1 1 0 1 .3 1-.7 1-1.5 1-.8 1-1.2 1 .3 1 .6 1-.2 1-1.2 1 1.1 1 1.1 1 .1 1 .9 1-1.4 1 .4 1 1.7 1 1.2 1-3.5 1 3.2 1-.6 1-.5 1-3.6 1-1.8 1 0 1-.2 1 3.7 1 2.8 1-3.1 1 2.2 1 1.7 1-1 1-1.9 1-.4 1 .1 1-1.9 1-1.1 1 .8 1-1.6 1 .4 1-2.9 1 2.3 1 6.5 1 3.3 1-3 1-2.1 1 1.1 1 3.1 1-.7 1-3.6 1 .6 1-1.6 1 1.6 1 1.2 1 1.9 1 .4 1 .5 1 1.8 1-.2 1-1.5 1 .6 1 2.4 1 2 1 1.1 1-5 1-.6 1 4.6 1-.4 1-1.4 1-.9 1 .1 1 0 1-1.3 1 .9 1 .9 1-2.4 1 4.7 1-1.7 1-1.5 1 2.4 1 2.8 1-1.6 1-1.7 1-.6 1-4.5 1 .2 1 1.3 1 1.3 1 0 1 .1 1 3 1-1 1-2.7 1 .5 1 4.2 1-1 1-4.6 1 .6 1 .7 1-.5 1-.3 1 .5 1 1.9 1 4.9 1-1.4 1-.6 1-6 1-3 1 2.7 1 1.7 1-1.8 1-2.1 1 1.4 1 .9 1 .2 1 1 1-1.2 1-.9 1 2.2 1-1 1-1.5 1 .7 1 .5 1-1.7 1-1 1 .4 1 .4 1 6.4 1-.8 1 .1 1 1 1 .4 1 .2 1-.3 1 1.6 1-2.4 1-.3 1 1.8 1 .3 1-.2 1 .4 1-1.5 1-1.6 1 2.6 1 .2 1-.7 1 .5 1 0 1-.2 1-2.7 1-.1 1-.2 1 2.6 1 .6 1-1.4 1-.1 1 2.2 1 0 1-.7 1 1.2 1 .6 1-1.5 1-.1 1 .9 1-.4 1-.3 1-.4 1 0 1 .4 1 .4 1 2.8 1 0 1-.1 1 0 1-.2 1 .9 1 .8 1-.7 1-.6 1 .6 1-.6 1-1 1 .6 1 .7 1-.1 1-.1 1-.1 1 .1 1-.1 1-.2 1-.5 1-.1 1 0 1-.4 1 0 1 .1 1 .2 1 .1 1-.2 1-.2 1 .3 1 .3 1-.1 1-.1 1 0 1 .2 1-.1 1-.2 1 0 1 .1 1-.2 1 .2 1-.2 1 0 1 .1 1 0 1 .3 1-.1 1-.2 1-.1 1 .1 1 0 1-.2 1 .1 1 .1 1 .1 1 .1 1 .1 1 .1 1 0 1-.1 1-.2 1-.1 1 0 1 0 1 .2 1-.1 1-.1 1 0 1 0 1 0 1-.2 1 .4 1 .1 1 .1 1-.2 1-.1 1 .1 1-.1 1 .2 1 .3 1-.2 1-.1 1 .2 1-.1 1 0 1 .3 1 .1 1-.1 1 0 1 .3 1 0 1-.3 1 .3 1-.9 1-.6 1-.1 1-.3 1-.2 1 .4 1 .9 1-.1 1-.9 1-.5 1 0 1 .3 1 .3 1-.3 1-.4 1 .3 1-.1 1 0 1 1.5 1 .1 1-1.4 1 1.1 1 0 1-.2 1-.1 1 1 1-1 1 0 1 1.4 1-.6 1 .4 1-.6 1 .4 1-3.2 1-.7 1 .4 1-.2 1 .8 1 1.6 1-.1 1-1.2 1-2.2 1 .4 1 1.1 1 .1 1-.9 1-1.8 1 1.6 1 .8 1-.2 1-.1 1-.8 1 1.7 1 .8 1 .2 1 .2 1-.4 1-2.1 1 2 1 1.8 1-2 1-2.8 1 2.3 1-2.9 1-2.5 1-1.8 1-2.9 1 .1 1 .6 1-.6 1-1.6 1 1.5 1-2.1 1-.9 1 1.2 1-.7 1-1.7 1 .8 1 1.4 1 2.4 1 1.9 1-5.4 1 .1 1 2.7 1 6.1 1 4.7 1-1.3 1 1.6 1 .6 1 .3 1-1.7 1 1.2 1 1.4 1 .4 1-.5 1-1 1-1.2 1 .2 1 1.1 1-4 1-1.2 1-1.1 1 1 1-.2 1-3.2 1 .9 1 .8 1-.8 1 1.3 1 1.4 1 .7 1-2.9 1 .6 1 3.3 1-.3 1-1.8 1 .2 1-.2 1-.2 1-1.1 1-7.7 1 2.1 1 1.8 1-.6 1-2 1 1.3 1 1.4 1-5.7 1-.1 1 .6 1-.2 1 2 1-.8 1-2.7 1 .2 1 3.9 1 .8 1-1.9 1-.4 1 .2 1 .5 1-19.4 1 27.6 1 .9 1 2.3 1-1.6 1-1.9 1-4 1 9.6 1-.3 1-.7 1-.8 1-1.3 1 1.1 1 1.1 1-1.9 1 1.6 1-1.3 1-2.5 1 1.3 1 4.3 1 1.1 1-3 1 1.4 1 2.8 1-4.1 1-3 1-1.4 1-.5 1 3.5 1 1.9 1-1.7 1 .6 1-1.7 1-2.2 1-.8 1-4.1 1-.8 1-1.1 1 .7 1-2.6 1-2.4 1 .3 1-.5 1 .4 1 .4 1 1.2 1 1.1 1 2.1 1-.2 1-1.4 1-1.1 1-.7 1 1.3 1 .3 1-.3 1 3 1 5.2 1-.3 1 0 1 .2 1 2.4 1 3 1 .6 1-.8 1 .8 1-1.2 1-.6 1 1.8 1-.3 1-1.1 1 .2 1 .6 1 1.8 1-.3 1 .7 1 0 1-.9 1-.4 1-.2 1 .2 1 .8 1 .4 1-1.2 1-1.2 1 0 1 1.4 1 1.4 1-.5 1-1 1 0 1 .4 1-.4 1-.2 1 .3 1 .1 1-.4 1 .1 1 .4 1-.4 1 .3 1-1 1 .9 1 .7 1-.5 1 .4 1 .1 1 .1 1 .2 1-.2 1-.2 1 .1 1 .3 1-.4 1 0 1 .2 1 .1 1 0 1-.6 1 .1 1 0 1-.1 1 .5 1-.1 1-.1 1 0 1 0 1-.1 1 0 1-.1 1-.2 1-.1 1 .1 1-.2 1 0 1 .2 1-.1 1-.4 1-.1 1 .2 1 0 1-.2 1-.1 1 .1 1 .2 1-.2 1-.1 1 0 1 0 1 0 1 .2 1 0 1-.1 1-.1 1 0 1 .2 1 .1 1-.4 1 .1 1 .1 1-.1 1 .1 1 .1 1-.1 1 .2 1 .2 1-.3 1-.2 1 .4 1-.1 1 .1 1 0 1 0 1 .2 1-.1 1-.1 1 .1 1 0 1 0 1 .1 1 .1 1-.1 1 0 1 .1 1-.2 1-.1 1-.1 1 .3 1 .1 1-.1 1 .1 1 .2 1 .1 1 .1 1 0 1 0 1 .1 1 0 1 0 1 .2 1 .2 1-.1 1-.1 1-.1 1 .1 1 .2 1 0 1 .1 1-.2 1-.1 1 0 1-.1 1 0 1 .3 1-.2 1-.2 1-.1 1 .1 1 .3 1-.2 1-.3 1 .1 1-.1 1 0 1 .3 1 0 1 0 1 .1 1-.1 1-.1 1 0 1 0 1 .1 1-.1 1-.3 1 .1 1 0 1-.3 1 .2 1 .2 1 .2 1 .1 1-.4 1 0 1-.1 1 0 1-.1 1-.1 1 .3 1-.1 1-.1 1 .2 1-.2 1 0 1 0 1-.1 1 .3 1 .2 1-.4 1-.2 1-.2 1-.3 1 0 1 .4 1-.1 1-.2 1-.4 1 .3 1 .7 1 .5 1-1 1-5.4 1 5.1 1-.7 1 1 1 .7 1-.7 1-.3 1 1 1-.2 1-1.7 1 .1 1 .5 1-1.4 1-1.6 1 .5 1 1.6 1-.4 1 0 1 .8 1-.4 1-1.1 1-.2 1-.7 1 2.5 1 .7 1-2 1-.5 1 .8 1 0 1 .2 1-.8 1-.6 1 1.2 1-.2 1 .9 1 .7 1-.2 1 .9 1-.4 1 .6 1 .3 1-1.2 1 .7 1-.3 1-1.5 1 .2 1 1.2 1 .6 1-.6 1-1.1 1 .6 1 .9 1 .1 1-.1 1-.1 1 2.3 1 .6 1-.9 1-2.8 1 .7 1 2.2 1-1.5 1-1.2 1-.8 1-1.7 1 .3 1 1.9 1-1 1-.9 1 1 1-3.8 1-2.1 1-1.7 1 2.1 1-1.3 1-.4 1 .3 1 .4 1 .1 1-3.2 1-1.9 1 1.2 1-2.1 1-1.8 1 .5 1-.4 1-1.2 1-2.2 1-.6 1 1.9 1 1.3 1 3.6 1 .4 1-.5 1-1.1 1 4.4 1-.4 1-1.4 1 1.3 1 1 1 1.5 1 3.5 1-.3 1-16.7 1 13.3 1 .5 1 3.9 1 1.5 1-.5 1 .9 1 1.5 1-1.9 1 .5 1 1.8 1-.1 1-1.5 1-2.6 1 .9 1 4.6 1-1.6 1-2.5 1 .4 1 .2 1 .8 1 1.9 1-.7 1-1.8 1-.2 1 1.7 1-.6 1-1.9 1 2.2 1-.4 1-3.2 1-.1 1 .6 1-2.2 1-1.2 1 1.5 1 2 1 .5 1-3.7 1-.9 1-1.2 1 .7 1 .6 1-.9 1 .9 1 .6 1-1.2 1-1.6 1-5.6 1 1.7 1 1 1-.4 1-.4 1-.3 1-1.9 1 1.4 1-3.5 1-.5 1 2.7 1-.2 1 2.6 1 1.7 1-3.2 1-.5 1 1.2 1 .9 1 2.6 1-.7 1-2 1 4 1 .4 1 2.9 1 1.8 1 1.1 1-.5 1 1.2 1-.2 1-1.4 1-2 1 1.7 1 2.1 1-1.6 1-1.1 1 2 1 1.8 1-1.1 1 1.5 1-3.2 1 0 1-1.2 1-.6 1 2.2 1 .5 1-1.8 1-2.4 1 .2 1 .5 1-1.8 1 1.6 1 .8 1-.4 1-.2 1 1.2 1 .9 1 .8 1-.9 1 .9 1 .5 1 2.8 1 .6 1-.5 1-.6 1-.1 1-.4 1 .3 1 1.2 1 1 1-.7 1 .1 1 .7 1-.2 1 .3 1-.3 1 .3 1 .1 1-.5 1-.5 1-.8 1-.1 1 .5 1-.6 1-.3 1 1.3 1 .3 1-1 1 .4 1 .3 1 .5 1 .5 1-.1 1-.1 1 .5 1-.2 1 .1 1-.4 1-.5 1 .4 1-.4 1-.2 1 .4 1 .2 1-.2 1-.4 1 .6 1 .3 1 .1 1 .3 1-.4 1-.1 1 .3 1 0 1-.1 1 0 1-.1 1 0 1-.2 1-.2 1 0 1 .1 1-.2 1 0 1-.1 1 0 1-.1 1 0 1 0 1 0 1 .1 1-.1 1-.1 1-.1 1 0 1-.1 1-.2 1 0 1 0 1 0 1-.2 1 0 1 0 1-.2 1-.1 1 .3 1 .3 1-.2 1 0 1 0 1-.3 1-.2 1 0 1 .1 1 .1 1-.3 1-.1 1 .3 1 .2 1-.3 1 .1 1 .1 1-.1 1 .1 1 .2 1 .3 1-.1 1-.2 1-.1 1 .2 1 .1 1 0 1 .2 1 .1 1 .1 1-.1 1-.1 1-.2 1-.1 1 .1 1 0 1 0 1 .4 1-.1 1-.3 1 .2 1 0 1-.2 1 0 1 .3 1 .1 1-.2 1 .1 1 .1 1-.2 1-.2 1 0 1 .3 1 0 1 .1 1 .2 1-.1 1 .1 1-.1 1 0 1 .3 1-.1 1-.1 1 0 1 .1 1 .2 1-.3 1-.1 1 .3 1-.3 1 0 1 .1 1-.1 1 .3 1 .4 1-.3 1-.4 1 .1 1 .1 1-.2 1-.6 1-.1 1-.1 1 .2 1 1 1-.3 1 .4 1 .4 1-1.2 1-.9 1 .5 1 .1 1-.9 1 .3 1 .7 1-.5 1-.1 1-.1 1 .3 1-.5 1-.2 1 2.7 1 .3 1-.9 1-.8 1 .6 1-.3 1-1.6 1 .5 1 .6 1-.4 1-.2 1 1.5 1-.1 1-1.1 1 .9 1-.8 1 1.9 1 .4 1-2.3 1-.6 1-5 1 0 1-.6 1 1.2 1 1 1-.3 1-.3 1 .1 1 1 1-.6 1-.9 1-.4 1-1.6 1 .5 1 1.5 1-1.6 1-1.1 1 2.5 1 .7 1 .1 1 .5 1 4.1 1-.3 1-.2 1 .1 1-.6 1-1.3 1-.2 1 2.4 1-.4 1-1.4 1 2.3 1 1.3 1-1.1 1-.9 1-.2 1 1.8 1-1.8 1-3.7 1 1.6 1 3.4 1-1.6 1-1.7 1 .5 1-13.4 1 13.2 1 1 1-.1 1-.5 1-.5 1-1.2 1 1.3 1 0 1 .3 1-40.8 1 39.5 1-1.2 1 .9 1 2.3 1-1 1-.4 1-.1 1-1.6 1-.8 1 .9 1 .1 1-.9 1-2.1 1-.2 1 1.2 1-1.5 1-.6 1-.9 1-.2 1-1 1 2.5 1-1.7 1-1.2 1 1.9 1 .5 1-1.7 1 .2 1 3.6 1 3.7 1-4.1 1-1.9 1-2 1-2.6 1 .6 1-3.6 1 .1 1-2.6 1-1.1 1 0 1 .1 1 3.6 1-.7 1-.3 1 .8 1 .3 1 .4 1-.5 1-3.5 1-1.3 1-2 1 2.8 1 .9 1-2.1 1-.4 1 2.2 1 5.2 1-.6 1 1.2 1 .8 1-5.8 1 8.2 1-1.1 1-2 1-.1 1 .6 1-2.4 1-2.6 1 1.1 1 5.2 1 1.2 1 1.1 1 1.1 1 2.9 1-2.6 1 .5 1 5.1 1-3.7 1-7.2 1 .6 1-.1 1 2.6 1-.3 1-1 1 0 1-1.4 1 1.4 1-3.2 1 .7 1 0 1 1.4 1-1.1 1-2 1 1.1 1 .4 1 .6 1 .3 1 2 1 1 1-3.2 1 9.4 1-.3 1-2.9 1 .4 1-1 1 .7 1 5 1 .2 1 2.1 1-2.9 1 .5 1 .3 1 3.7 1-1.5 1-1.4 1-1.1 1 1 1 2.1 1 .2 1-.2 1 .6 1-1.7 1-1.3 1-.3 1-.3 1 1.5 1 2.6 1-.7 1-1.2 1 .8 1-.6 1-.7 1-1.5 1-.6 1 .9 1 .3 1 1.1 1-.2 1-.3 1 .9 1-.1 1-.4 1 .2 1-.2 1-1.2 1-.2 1 1.4 1 .6 1 .7 1-.3 1-.8 1 .3 1-.3 1 .8 1 .1 1 .3 1-.6 1-.5 1 .9 1 .2 1-.6 1 .2 1-.1 1-.2 1 1.1 1-.4 1-.4 1 .2 1-.2 1-.3 1-.1 1 0 1 .3 1 .1 1 0 1 0 1-.5 1 .1 1 .5 1-.2 1 .1 1 0 1 .1 1 .1 1-.2 1-.2 1 0 1 .1 1-.1 1-.2 1 .2 1 .1 1 0 1-.1 1 .2 1 .1 1-.2 1-.1 1 .1 1 .1 1 .1 1-.2 1-.2 1 .1 1-.1 1 .1 1 .2 1 .2 1-.2 1-.1 1 .1 1 .2 1 0 1 0 1-.1 1 0 1-.1 1-.1 1 0 1 .2 1-.2 1-.1 1 .3 1-.1 1-.3 1 0 1-.1 1 .2 1 .2 1 .2 1-.2 1-.3 1-.2 1 .2 1 0 1-.1 1-.1 1-.1 1-.1 1 .3 1 .7 1 0 1-.6 1 .5 1 .8 1-.9 1-.4 1 .2 1-.3 1 0 1-.1 1-4.1 1 3.8 1 0 1-.3 1 1.3 1-.4 1-.7 1-.1 1 .6 1-.3 1-.3 1-7 1 16.1 1-9.1 1 .3 1-.3 1-1.8 1 .8 1 1.6 1-1.7 1-1.3 1 .5 1 1 1 .2 1 .1 1-.4 1-.9 1-.5 1 1.4 1 .4 1-.1 1-1 1 .3 1 1.7 1 0 1-3.3 1-2.3 1 2.8 1 .8 1 1.1 1 .9 1-2.9 1 .4 1 3 1 .3 1 0 1-.2 1-.1 1 .4 1 1.1 1-2.2 1-7.2 1 7.1 1-.6 1-1.6 1-.9 1-4.7 1 6.2 1 1.2 1-2.1 1-2 1 .9 1 .3 1 .9 1-4.6 1-1.4 1 1.2 1-1.1 1-6.4 1 7.8 1-.1 1 .4 1-.5 1-.8 1 1 1 1.4 1 1.5 1 .2 1-1.4 1-.3 1 .5 1-3.2 1-1 1-.5 1 2 1 7 1 .1 1-1.7 1 .5 1-1.3 1 .3 1 .6 1 .2 1 1.9 1-1.2 1-1.2 1 .8 1 .3 1-1 1 .2 1-2.8 1-1.5 1 .8 1 1.8 1-3.8 1-1.5 1 5.4 1 .6 1 1.9 1-.4 1-.5 1 1 1-4.3 1-1.5 1 2.9 1-2.1 1-.3 1-.7 1-.7 1-.5 1 .2 1 1.9 1-4.1 1-1.3 1-.1 1 3.1 1 2.7 1-2.7 1-1.2 1 2.9 1-1.4 1-1.8 1-.2 1 1.9 1 3.2 1-1.6 1-3.1 1 1.1 1 1.4 1-.5 1 1.9 1-2.6 1 1.6 1 4 1 1.3 1 .3 1 2.5 1 .1 1-4.9 1-1.2 1-.7 1 2.2 1-2.8 1-1.4 1 .5 1-7.4 1 6.4 1 .8 1-.5 1 .2 1 1.2 1 .2 1-1.1 1 .1 1 .3 1 .6 1-3.6 1 2.2 1 .7 1-.5 1 1.8 1-.5 1 .7 1-4.6 1-2.4 1-.3 1-.9 1 1.8 1 3.2 1-2.2 1-2.1 1-4.5 1 2.6 1 .5 1-1.7 1 1.4 1 .3 1-.6 1-.8 1 .1 1 1.3 1 3.5 1 4.7 1-1.2 1 3.8 1-1.7 1 .2 1 .4 1-1.2 1 2.3 1 1.8 1-2 1 2 1-1.3 1 .2 1 2.9 1 .5 1-.2 1-.3 1 .2 1 .6 1-.8 1 .1 1 0 1-.5 1-.4 1 .5 1 1.3 1 .9 1-1 1-1.9 1 .3 1 1.9 1-.7 1-1.8 1-.2 1 0 1-.3 1-.3 1-28.7 1 28.6 1 .9 1 .6 1-.9 1 .2 1-.1 1 .1 1 1.1 1-1.5 1-1.2 1 1.4 1 .8 1 .8 1-.8 1 .8 1-.6 1-1.1 1 1.6 1 0 1-.5 1-.1 1 .2 1 0 1 .2 1-.2 1 .5 1 .8 1 .1 1 .1 1-1.1 1 0 1 .3 1-.1 1 .5 1-.3 1 .2 1 .2 1-.7 1 .2 1 .4 1 .2 1-.2 1-.4 1-.1 1 .4 1 .4 1 0 1 .1 1-.5 1 .2 1 .2 1-.1 1-.1 1 0 1 .2 1 .4 1-.1 1 0 1 0 1-.4 1 0 1 .4 1 0 1 0 1-.1 1-.1 1-.1 1 0 1 .2 1-.1 1 .1 1 .2 1-.1 1 0 1 .1 1 .1 1 .2 1 0 1-.2 1-.1 1 .2 1 .1 1-.2 1 0 1 .1 1-.1 1-.1 1 .1 1 .2 1-.2 1 0 1 0 1-.3 1 .1 1 .3 1 0 1-.2 1-.2 1-.3 1 0 1 .2 1 .2 1 .1 1 0 1 .2 1 .1 1 0 1-.2 1 0 1-.1 1-.2 1 0 1 .1 1 .1 1-.1 1 0 1 .2 1-.1 1 0 1-.1 1 0 1-.1 1 0 1 0 1-.2 1-.1 1-.1 1 .2 1 .2 1-.4 1 .2 1 .5 1 0 1-.4 1-.3 1-.4 1 0 1 .2 1 .1 1 .1 1-.3 1 0 1 .2 1-.3 1 .2 1 .3 1 .2 1 .3 1 0 1-.2 1 .5 1-.4 1-1 1-.3 1-.2 1 .5 1-.2 1 0 1 1 1-1.2 1 .9 1 .5 1-1 1-1 1 .6 1 .9 1 1 1-.1 1-.3 1 .6 1-1.9 1-.4 1 1.3 1-.9 1-.9 1 .1 1 1.1 1 .2 1-.1 1-.3 1-.2 1 0 1 .3 1 .2 1-1.1 1 .2 1-.1 1-1.3 1 0 1 1.9 1 .2 1-.6 1 .3 1 .3 1 .3 1 .7 1 1.2 1-1.2 1-.2 1 .1 1-1.6 1-1.6 1 .4 1 2.8 1-.5 1-2.5 1 .1 1 1.1 1 1.4 1-.4 1-3.5 1-1.2 1 2.7 1 1 1-.9 1 .9 1 .8 1-1 1-.8 1-2.7 1-.2 1-.2 1 1.8 1-.9 1 .5 1 1.4 1-4.7 1-.6 1 .8 1-1 1 1.2 1-1.3 1-.4 1 .9 1 2.8 1-.2 1-6.2 1 1.6 1-2.8 1-.1 1 1.8 1-1.7 1 3.8 1 1.5 1-.5 1-1.7 1-.2 1-35.2 1 33.5 1-.5 1 1.2 1-.3 1-3.8 1 2.3 1 0 1 3.2 1-2.9 1 4.6 1 3.7 1-.2 1-.6 1-1.9 1-1.6 1 1 1-1.5 1 1.7 1 2.6 1-2.1 1 1.3 1-.2 1-.1 1 1.2 1-2.1 1-3.1 1 .4 1 2.2 1 1.4 1 .5 1-3.2 1 1 1 .8 1-2.2 1-.7 1 4.7 1-1.7 1-3.9 1 3.5 1-1.3 1-.2 1-2 1-1.7 1-2.4 1 4.5 1-1.3 1 .2 1 2.7 1-.5 1-1 1-.4 1 .8 1 .7 1 1.2 1-1.7 1-1 1 2.3 1 1.1 1-.2 1-1.7 1 1.3 1 1 1 1.6 1 1.6 1-1.7 1-1.5 1 .8 1-.1 1-2 1-1.9 1 2.6 1 1.5 1-18 1 11.7 1 1.3 1 3.5 1 .8 1-3 1-2 1 2.5 1 2 1-3.1 1 .1 1 .6 1-2.2 1-.8 1 1.8 1-1 1 1.1 1 .4 1 1 1 2.5 1-12.8 1 9.6 1 3.7 1 .2 1-2.3 1-2.2 1 2.9 1-.4 1-1.2 1-.2 1 6.2 1 1.2 1-.3 1 .4 1-.6 1-.3 1 2.7 1 .6 1-.5 1-1.1 1-1.6 1 .6 1-.7 1 0 1 1.7 1 .6 1 1.4 1 .5 1-1.3 1 .2 1-.1 1-.2 1-25.6 1 23.6 1 1.2 1 .8 1 .3 1-1.5 1 .2 1 0 1 .2 1 .7 1 .5 1-.3 1-1.1 1 .7 1 1 1 1.6 1-1.1 1-2.7 1 .1 1 .5 1-.1 1-.3 1-.1 1-.2 1 .2 1 1 1-1.2 1-2.7 1 3.5 1 .1 1-.5 1 0 1 .8 1-1.4 1-5.6 1 5.9 1 0 1 .4 1-.5 1 0 1 .6 1 .6 1-.2 1-.6 1 .3 1 .5 1-.9 1-.2 1 0 1 .4 1 .8 1 .1 1-.1 1 .3 1 0 1-.6 1-.1 1-.3 1 1.5 1-.6 1 .1 1-1 1 .2 1 .1 1-.4 1 .1 1 .4 1-.2 1 0 1 .2 1-.4 1-.1 1 .1 1 0 1-.2 1 .2 1 0 1 .3 1 0 1-.1 1 .1 1-.3 1 0 1 0 1 .1 1 .3 1 .2 1-.2 1 .1 1-.2 1 0 1 .1 1-.1 1 .1 1 0 1-.1 1-.2 1 .4 1-.1 1 .1 1-.1 1 .1 1 .2 1-.3 1 .1 1-.2 1 .1 1 .1 1-.1 1 0 1 .1 1-.2 1 .1 1 .4 1-.1 1-.3 1 .4 1 0 1-.3 1-.1 1 .4 1 .1 1 .1 1-.1 1 .3 1 .6 1 .1 1-.1 1-.3 1-.2 1-.6 1 .3 1-.5 1 0 1 .1 1 .2 1 .1 1-.2 1 .3 1-.5 1-.1 1 .1 1 .7 1 0 1 .1 1 1.1 1-.8 1-1.6 1 1.9 1 .1 1-1 1 1.6 1-1.2 1-.5 1 .2 1 .8 1-.7 1-.7 1-1.2 1-1.8 1-2.2 1 .7 1-.2 1-6 1 6.6 1 .5 1-.5 1-.8 1-.9 1-.7 1-.5 1-1.2 1 .7 1-1.3 1-.1 1 0 1-1.1 1 0 1 1.2 1 2.2 1 .4 1 2.2 1-1.8 1 0 1-.7 1 .4 1 1.6 1-1.7 1-.6 1-.1 1 3.2 1 1.8 1-.1 1-2 1 1 1 2.4 1 .7 1-.6 1-1.4 1-4.4 1 2.7 1 1.6 1-2.3 1 1.2 1 .3 1 .4 1-.3 1 .7 1-2 1 2.2 1-.2 1-1.9 1 1 1-2.6 1-1.2 1 .8 1 1.3 1 1.9 1-.1 1-1.2 1 .8 1 2.6 1-.5 1-2 1 .8 1 2.3 1-2.7 1-.2 1 1.4 1-.4 1-.1 1 .2 1-3.4 1 3.1 1 0 1-.6 1-1.2 1-1.2 1 2.2 1 2.1 1-1.5 1-.8 1-1.1 1-.2 1 2.8 1 0 1-2.7 1-5.9 1 2.4 1 .8 1 1.2 1 1.9 1-.5 1-12.9 1 6.5 1-1.3 1 3.1 1 1.3 1-.2 1-.2 1-2.2 1 1.1 1 .7 1-.2 1-.9 1-2 1 2.2 1-1.4 1 1 1 1.2 1-2.7 1-.2 1 2.1 1 3.9 1-.7 1-.2 1 .4 1 .3 1 1.4 1-.6 1-1.7 1 1.7 1-.3 1-1.9 1 .2 1-.2 1 1.5 1 .8 1 2.1 1-1.7 1 3 1-.7 1-2.4 1 3.7 1 0 1-.7 1-4.8 1-.7 1 .5 1 .2 1 .3 1-.7 1-1.5 1-.1 1 2.6 1-.7 1-.7 1 1.2 1-.8 1-.3 1 4 1-.2 1-.8 1 1.6 1-1.5 1-1.2 1-8.1 1 10.6 1-.3 1 1.4 1 .3 1 1.9 1-.6 1-.3 1 1 1-.7 1-.2 1 1.6 1-.6 1-.8 1 .6 1-1.3 1-2.1 1 .3 1 2.1 1 .8 1-1.6 1-.6 1 1.7 1-1.8 1-1.5 1 3.2 1 .9 1 .6 1-1.8 1 1.7 1-8.7 1-.8 1-.1 1 1.2 1-1 1 1 1 .2 1 .2 1-1.6 1-.1 1 2 1-2.3 1-.6 1 1.2 1-.1 1 1.2 1-.1 1-.6 1-.8 1 .3 1 .3 1 7.4 1 .8 1-1.5 1 .4 1 1.4 1-.6 1 .4 1-.2 1-1 1 1.1 1 1.1 1 .6 1 .1 1-.9 1 .6 1 .5 1-.9 1-.2 1-.4 1 .1 1-.6 1 .2 1-.3 1-.2 1 .3 1 0 1 .3 1-.2 1-.4 1 .1 1-.1 1-.5 1 .1 1 .5 1 0 1-.1 1 0 1 0 1-.1 1 .2 1 0 1-.1 1 .1 1-.2 1 0 1 .3 1-.1 1-.4 1 .1 1 .1 1 0 1 0 1 .3 1-.3 1 .2 1 .2 1-.3 1 .1 1 .1 1-.2 1-.1 1 0 1 0 1 .3 1 0 1 .3 1-.1 1-.2 1 .2 1 .2 1 .1 1-.2 1-.1 1 .2 1 0 1-.2 1 .2 1 .2 1 0 1 .1 1-.1 1-.3 1 0 1 0 1 0 1-.1 1 0 1 0 1 0 1-.1 1 .1 1 0 1 0 1-.2 1-.2 1 .1 1 .1 1 .3 1-.1 1-.1 1-.1 1 .1 1-.2 1-.1 1 .2 1 0 1-.2 1 .1 1 0 1 0 1-.1 1 .1 1 .2 1-.1 1-.1 1 .1 1-.2 1-.1 1 .1 1 0 1-.2 1 .1 1 0 1 0 1 0 1 .3 1-.1 1-.2 1 0 1-.1 1-.3 1 .1 1 0 1 0 1 0 1 .3 1 .3 1-.1 1-.7 1 .1 1 .3 1-1.5 1 .1 1 .3 1-.3 1-.5 1-.3 1 1 1 .5 1 .1 1 .1 1-.1 1 .3 1-.8 1-.4 1 .4 1-.3 1-.3 1 .3 1 1.4 1-.2 1-.9 1 2.6 1 .2 1-1 1 .6 1-.9 1-.4 1 .6 1 0 1-.9 1 .4 1 .7 1-1.2 1-.2 1 .6 1 1 1-1.3 1-1.4 1 .5 1 .4 1-.3 1-2 1 1.5 1 .8 1-1.1 1-1 1 2.2 1 .7 1-3 1 .2 1 .3 1 .2 1 .9 1-.2 1 .7 1-.5 1-.3 1-.5 1-3.5 1 1.6 1-.5 1 1 1 2.7 1-1.4 1 .5 1-1.1 1-1.9 1-.6 1 .9 1 2 1-.4 1-.7 1 1.3 1-1.2 1-2.6 1 .9 1-2.2 1-.1 1-.4 1 3.4 1 .1 1-1.6 1 .6 1-4 1-3.1 1-.1 1 .2 1-1.5 1 2.2 1-.5 1-1.7 1-.3 1 .6 1 .5 1-1.3 1 2.5 1-.1 1 1.6 1 2.1 1 .1 1-1.4 1 .7 1-.1 1 1 1 6 1 2.2 1-2.4 1-.2 1 1.1 1 .4 1-1.6 1-.9 1 .8 1-1.1 1 .5 1 .4 1-2.8 1-1.3 1 .6 1 2.5 1-.4 1-.3 1 2 1-.1 1-1.3 1-.5 1 3 1 1.4 1-3.4 1-3.7 1-.2 1 .9 1 .8 1 1.2 1-.6 1-1.8 1-1.7 1 3 1 2.3 1-1.7 1-2.5 1 1.2 1 1 1-5.7 1-.5 1-.5 1 1.1 1 .3 1-3.2 1-26 1 28.5 1 1.3 1 .9 1-.9 1 1 1 1.2 1-30.6 1 31.2 1-2.2 1 1.1 1 .2 1-.9 1-6.7 1-1.9 1 2.9 1-.9 1 1.9 1 .2 1-12 1-.6 1-1.6 1 4.2 1-.2 1-3.4 1 1.2 1 .8 1-.8 1-.7 1 1.5 1-.7 1-1 1 8.4 1 .9 1 .9 1-3.2 1 .6 1 2.9 1 2.2 1 1.7 1 14.2 1-2.9 1 1.1 1 .6 1-5.4 1-.1 1 3.2 1 .7 1-1.9 1 .8 1 .9 1-7.1 1 .7 1 .9 1-1.5 1-.2 1 .4 1-.5 1-1.3 1-.5 1-.6 1 .7 1 .6 1 2.6 1-.4 1 .5 1 2 1-.1 1-4.3 1 3.4 1 .9 1 .3 1 2.4 1-.7 1 2.1 1 .4 1-2.5 1-.6 1 .4 1 .7 1 .2 1-.2 1-.2 1-1.7 1 .2 1 2.1 1-.4 1 .9 1 .5 1 .6 1 0 1-.6 1 1.5 1 0 1-.7 1 1.2 1-.3 1-1.8 1 1.5 1 1.2 1-2.4 1-.8 1 0 1-.8 1 .4 1 .3 1-.5 1 1.4 1 2 1-1.8 1-1.8 1 1.3 1 1 1 .9 1-1.1 1-.5 1 .5 1-.1 1-.6 1 .2 1-.2 1 1 1-2.3 1 .7 1-.3 1 1.6 1 .5 1-.2 1-.4 1 .1 1-.7 1-.3 1 1.1 1 1.1 1-.3 1 .3 1 .1 1 0 1 .5 1-.4 1-.4 1 .5 1-.2 1-.1 1 .1 1 .3 1-.2 1-.7 1 .2 1 .2 1 .2 1 0 1 .2 1-.7 1-.4 1 .4 1-.1 1-.6 1 .4 1 .4 1-.2 1 .5 1-.4 1 .3 1 .1 1 .2 1-.7 1-.2 1 1.3 1-.1 1-.7 1 .7 1-.2 1-.4 1 0 1-.4 1-.3 1 .1 1 1.2 1 .3 1-.4 1-.5 1 .1 1-2.6 1-.3 1 .2 1 .5 1 .5 1-.7 1-2.2 1-.4 1-5.4 1 .5 1-1 1-.7 1-.1 1-.8 1 1 1-.1 1-.5 1 0 1-1.2 1-1.3 1 .9 1 3.8 1 .8 1-1 1-1.6 1 .3 1 .7 1 1.9 1 0 1 6.5 1-.7 1-.7 1 .7 1 1.5 1 .3 1 .9 1 .8 1-1.1 1 .4 1 .4 1 .7 1-1.3 1-.6 1-.2 1-.1 1 .3 1-1.6 1-.8 1-.9 1-.5 1-1.6 1-.1 1 1.8 1-.4 1-2.1 1 1.7 1 1.3 1-1.2 1 1.3 1 .4 1 .1 1 1.2 1-1.8 1-2 1-.8 1 2.7 1 2.7 1 0 1 .2 1 .7 1 1.7 1-3.3 1-2.4 1 3.4 1 .1 1-2.5 1 .5 1 .5 1-.7 1-.3 1-.4 1 1.9 1 1.3 1-4.5 1 2.6 1-9.1 1-12.4 1 14.1 1-2.7 1-2.3 1-1.5 1 .3 1 .7 1 .4 1 .1 1-1.2 1 .2 1 1.2 1-.8 1-.5 1 1 1-1.4 1-.5 1 .1 1 1.4 1 1.4 1 5.7 1-2.3 1 2.2 1 2.2 1 0 1 1.3 1 1.7 1-.6 1 .7 1-2 1-.9 1 1.4 1 .2 1-.3 1-3.6 1 2.1 1 2.4 1-4 1-1.1 1 3.7 1-.8 1-2 1 .9 1 2.1 1 .6 1-1.8 1-.1 1-.4 1 1.2 1 2.5 1-.8 1-6 1 1.5 1 1.1 1-3.3 1 1.9 1 1.4 1-1.9 1 1.9 1 2.9 1 .5 1-5.7 1-1.5 1-.7 1-1.4 1 3.5 1 2.4 1-4.7 1 .3 1 3 1-1.1 1-2.4 1 3.1 1 2.7 1 2.9 1-1.4 1-1.4 1-1.1 1 1.3 1 1.8 1-5.8 1-.4 1 4.5 1-2.6 1 1.7 1 2.1 1-2.7 1 .2 1 3.5 1-1.7 1-.8 1 1.5 1-1.2 1-.6 1 4 1 .5 1-2.8 1-1.7 1-.1 1 1.6 1 2.4 1 2 1-.6 1-3.8 1 3 1-11.4 1 9.7 1-.3 1 1.6 1 .3 1 1 1-2.3 1-7.2 1 10.2 1 .1 1-1 1-9.5 1-.7 1 .7 1-.4 1 1.9 1 1.1 1-1.4 1-1.2 1 2.5 1 .5 1 .3 1-.3 1-.7 1-.9 1-.6 1 .9 1 .6 1 1 1-.8 1-.1 1 .8 1 8.2 1-.7 1-.8 1 2.6 1 .2 1-1.5 1-.3 1-.2 1 0 1-.7 1-.8 1 .8 1 0 1-.3 1 .9 1-1.5 1-.1 1 .3 1 1.1 1-.1 1 .6 1 1.6 1-1.1 1-1.2 1-.3 1-.6 1-.8 1 .1 1-.1 1-.6 1-.5 1-5.6 1 .6 1-.3 1 .4 1 .2 1-.1 1 .6 1 .9 1-1.8 1 0 1 1.1 1-.2 1-1.2 1 .1 1 .2 1-.8 1-.5 1 1.5 1 .1 1-.9 1 .5 1 8.3 1-.8 1-.4 1 .6 1 .3 1-.9 1-.5 1-.5 1 2.2 1 .5 1-.7 1 0 1-.3 1 .2 1 1.2 1-.1 1 0 1-.3 1-.1 1 .1 1-.9 1-.2 1 .7 1 .2 1 0 1-.5 1-.1 1-.1 1 .3 1 .6 1 0 1 .1 1-.4 1-.3 1-.2 1-.2 1 .3 1 .2 1-.1 1 .2 1 .1 1-.3 1-.2 1-.2 1 .1 1 .2 1 0 1-.2 1-.1 1 0 1-.3 1 0 1 0 1 .1 1 0 1 .1 1 0 1 .2 1 0 1-.1 1 0 1 0 1 0 1 0 1 0 1-.2 1 0 1 0 1 .2 1 .1 1 .1 1-.1 1 0 1 .2 1 .3 1-.2 1-.2 1 .2 1 .1 1 .2 1-.1 1-.2 1 .2 1 0 1 .3 1 .3 1 0 1-.2 1 .2 1 .1 1 0 1-.2 1-.2 1 .1 1 .1 1 .1 1 .2 1-.2 1 0 1 .1 1-.1 1 .1 1 .1 1-.2 1 .1 1 .1 1 0 1-.1 1 0 1 .1 1 0 1 0 1-.1 1-.2 1 .1 1 .7 1-.3 1-.2 1 0 1-.1 1-.8 1 .1 1 .9 1-.5 1 .6 1-.4 1-1.4 1 .8 1 1.1 1-.6 1-.7 1 .2 1 .3 1 .6 1-.2 1-.4 1-.3 1 0 1-.6 1-.3 1 .7 1-.1 1-.7 1 .2 1 .8 1 .1 1-.5 1-.4 1-.4 1-.2 1 .1 1 0 1-.1 1 .6 1 .6 1-.2 1-.2 1 .4 1-.2 1-1.5 1 1 1 1.8 1 .4 1-1.1 1-.7 1 .1 1 .4 1 1 1-1.8 1-.6 1 1.8 1-1.8 1-.8 1 .4 1-.6 1 .4 1-.7 1 1.1 1-.7 1-.6 1 2.5 1-1.8 1-2.2 1-1.6 1-4 1 1.2 1 2.6 1-3.5 1-.4 1 2 1-11 1 8.3 1-.8 1-.6 1 1 1 2.6 1-1 1-1.9 1-11.4 1 15 1-4.6 1-.8 1-2 1-.5 1 3.5 1 3 1 .2 1 1.7 1-.4 1-2.1 1-1.2 1 .3 1 2.3 1 .2 1-.4 1-.1 1-2 1-.4 1 1.3 1-.4 1-3 1 7.8 1 .4 1-.9 1-1 1 .3 1 1.6 1-2.2 1-6 1 7.5 1 1.5 1 1.3 1 .1 1 1.1 1-6.5 1-3.2 1 .5 1-.7 1 .7 1-4.1 1 4 1 0 1 0 1 4.6 1 .9 1-.9 1-2.3 1-1.3 1 .2 1-.9 1-12.3 1 14.5 1-3.2 1-2.6 1 1.4 1 5.4 1-2.6 1-.6 1 2.5 1 .6 1-1.4 1 .3 1 0 1 1.8 1 .2 1-2.4 1-.5 1 2.4 1 2.1 1-.2 1-2.2 1-1.1 1 1 1 3 1 1.1 1-1 1-.6 1-2.2 1 3.2 1-.9 1-3.9 1 2.6 1 .6 1-1.9 1 .5 1 .6 1-4.4 1 .4 1 1.1 1-.2 1-2.7 1 .7 1-29.2 1 30.7 1 1.4 1-1.7 1 1.1 1 1.3 1-.6 1 .2 1 1.2 1-1.9 1-4.5 1 1 1 3 1 .8 1 .1 1-.4 1 .2 1 1.4 1 .1 1 .9 1 .8 1-.3 1-.7 1 1.8 1-1.1 1-1.8 1 1.6 1-1.4 1-1.6 1 3.1 1 .6 1 2 1 1.7 1-.6 1-1.2 1 .5 1 .7 1-.1 1 .5 1 2.2 1-.1 1-1.4 1-.6 1 .3 1 .7 1 1.1 1 1.4 1 .2 1-1 1-1.4 1 1 1 .4 1-.6 1 .5 1-.2 1-.4 1 .6 1 1.1 1-1.1 1-1 1 .2 1-.9 1-.2 1-.2 1-.2 1-.6 1 .5 1 .7 1 .5 1 .5 1-.4 1-.4 1 .3 1 0 1 1 1 .5 1 .1 1-1.1 1-2.2 1 .8 1 .4 1 .6 1 1 1-.8 1 .4 1 .3 1 0 1-.5 1-.7 1-.1 1 .2 1 .4 1 .8 1-.4 1-.2 1 0 1 .1 1-.3 1-.4 1-.3 1 .5 1 .4 1-.2 1-.2 1 .1 1 .1 1 0 1 0 1 0 1-.1 1 .1 1 .1 1 0 1-.1 1 0 1-.1 1-.1 1 .1 1 .2 1 .1 1 .2 1 0 1 0 1 0 1 0 1 .1 1-.3 1-.1 1 .1 1 .2 1 .2 1-.1 1 0 1 .1 1 0 1-.1 1-.2 1 0 1 .2 1 .1 1-.2 1-.1 1 .1 1 .1 1-.1 1 .1 1-.2 1 0 1 0 1-.1 1 .1 1 .1 1-.2 1 0 1 .1 1 0 1 0 1 .2 1 .2 1 0 1-.2 1-.2 1-.2 1 .1 1 .1 1-.1 1-.1 1-.2 1 .2 1 .1 1-.3 1 .1 1-.1 1 .2 1 .3 1-.3 1 .1 1-.1 1 .5 1 .2 1-.4 1-.5 1 .1 1 .2 1-.4 1-.4 1 .4 1 .6 1 .4 1-.5 1-.4 1-.1 1-.3 1 0 1-.4 1-3.9 1 4.1 1-.4 1-3.6 1 .3 1-.3 1 .6 1-.2 1-17.9 1 16.8 1 .7 1 .7 1-1.4 1 1.6 1 .4 1-1.4 1 .5 1-1.1 1 .1 1 .4 1 0 1 .2 1-.3 1-.1 1 3.7 1-1.3 1 1.3 1 1.1 1-1.6 1-1.7 1 1.2 1 1 1-1.3 1-.5 1 2.2 1-.2 1-1.5 1 0 1 1.1 1-.3 1-4.3 1-2 1 .7 1 1.5 1-1.6 1-.7 1 3.3 1-1.3 1-3.1 1 0 1 .9 1-.3 1-3.5 1 .2 1-.1 1-.2 1-.6 1-2.4 1 1 1 2.6 1 .4 1 2.1 1-.4 1 .1 1-.1 1 1 1-1.7 1-3.1 1 .3 1 4 1-3.8 1-.7 1-1.8 1 3.5 1 1.3 1-2.9 1 3.2 1 .7 1-.9 1-11.1 1 10.8 1-.9 1 1.7 1 .2 1 .7 1-.2 1-1.9 1-2.3 1 .4 1-4.4 1 9.1 1 2.6 1 1 1-.5 1-1.8 1 .2 1 4.4 1 .2 1-1.2 1-.9 1 .3 1 1.1 1 2.7 1-3 1-4.1 1 .4 1 1.6 1-.8 1 0 1-.3 1 .5 1 1.9 1-3.8 1-.1 1 .2 1-1.8 1-1.2 1 0 1 .5 1-1 1-1.3 1 1.7 1 .5 1-2.7 1-.9 1-.7 1 1.5 1-.3 1-2.2 1 2.3 1 1.3 1-2.8 1 1 1 1.7 1 1.8 1-1.4 1 1 1 0 1-4.7 1-.2 1 .4 1 2.8 1 1 1-1.7 1-9.3 1 8.1 1-3.3 1 3.3 1 4 1 1.6 1-2.5 1-7 1 4.9 1 3.9 1-.1 1-3 1-.3 1-1.1 1-.7 1 3.6 1-.3 1-9.6 1 12.1 1 .8 1 .5 1-21.1 1 21.3 1-.2 1-1.2 1 1.3 1-5.6 1 6.1 1 4.4 1-.4 1 2.2 1 .4 1-.7 1-1 1 2.7 1 0 1-2.9 1 1.8 1-.4 1-1.7 1-.1 1 1.1 1 .4 1-1.4 1 1.3 1 .3 1-.1 1 1.1 1-3.9 1 3 1-.5 1 .9 1-10.1 1 7.4 1 .9 1 1.8 1-2.3 1-1.4 1 .5 1 .7 1-1.1 1 .6 1 1 1 .3 1 1.3 1-.9 1-2 1 2.4 1 .3 1-.1 1-1 1 .3 1-.3 1-1.6 1 1.1 1 .7 1-.7 1-.3 1 1 1 1.5 1-1.4 1 .7 1 1 1 .4 1 .2 1-.9 1-.6 1-.5 1 .9 1-.3 1 0 1 .3 1-.1 1 .7 1-.5 1-.2 1 .5 1 .3 1-.2 1 .1 1 0 1-.5 1 .5 1 .8 1 .5 1-.3 1-.3 1-.4 1 .1 1 .4 1 .5 1-.4 1-.4 1 .3 1-.2 1-.1 1 .3 1-.1 1 0 1 .5 1 .1 1 0 1 0 1-.1 1 .2 1-.2 1 0 1 .1 1 .1 1 .1 1 .1 1-.1 1-.2 1 0 1-.2 1 .1 1 .3 1-.2 1-.2 1 .1 1 .1 1-.1 1-.1 1 0 1 .1 1-.1 1 0 1 .1 1-.2 1-.1 1 .2 1-.1 1-.2 1 .1 1 .1 1-.3 1-.2 1 .2 1 0 1 0 1 0 1 0 1 0 1-.1 1 0 1 0 1-.1 1-.2 1 .2 1 .3 1-.5 1-.4 1 0 1 .1 1 .1 1-.3 1-.4 1 .6 1 .5 1-.4 1-.3 1 .2 1 .4 1-.4 1-.1 1 .5 1-.2 1-.2 1 .2 1-.5 1 .4 1 .8 1-.3 1 .3 1 .7 1-1.5 1-.4 1-.1 1 .3 1-.5 1-1.5 1 .8 1 1.2 1 .6 1-1.5 1-.4 1 1 1-.4 1-.7 1-.5 1 .7 1 .1 1-1.7 1-.1 1-.1 1-.3 1-.5 1 .7 1 2.1 1-4.2 1 0 1 1.4 1-.4 1 .1 1-.8 1 2.2 1-.1 1-.9 1 .1 1-.8 1 .7 1-.7 1-1.2 1 1 1-.4 1-1.3 1 1.5 1-.3 1 .3 1 2.6 1 1.8 1-.6 1 .7 1 0 1-16.4 1 12.5 1-.6 1-2.5 1 1.3 1 1.1 1 2.7 1 1 1-2.4 1-.8 1-.2 1 .9 1 1 1-.4 1 0 1 .6 1 .2 1-1.6 1-.2 1 .7 1-.8 1 4 1-3.3 1-2.5 1 1.3 1 .5 1 .9 1-5 1-1.4 1 3 1 1.5 1-2.5 1-.2 1-1.2 1-1.3 1-.3 1 1.2 1 .4 1 2.2 1-2.2 1-2.9 1 3.1 1 .6 1-7.4 1 8.7 1 1.6 1-.4 1-3.1 1 3.7 1 .3 1 2.5 1-1.2 1 .2 1 1.9 1-1.1 1-.2 1-.9 1-.3 1-1.2 1-1.8 1 3 1 1.6 1-1.7 1 .4 1-.7 1-.9 1 .6 1-1.8 1-2.6 1 1.2 1-.2 1-.1 1 0 1-.9 1 .5 1 .5 1 1.2 1-2 1-1.1 1 1.8 1 2.1 1-1.5 1-.4 1-31.3 1 26.7 1-.6 1 4 1 2 1 .6 1-.4 1-3.1 1-2.6 1-1.4 1 2.3 1 5.9 1-.2 1-9.6 1 .6 1 1.2 1-2.6 1-1.2 1 .4 1 1.4 1 .1 1 .9 1 .3 1 .4 1-12.3 1 12.9 1-.2 1 .8 1 .9 1 .8 1-2.3 1-.5 1-.8 1 2.2 1 6.1 1 .7 1 .4 1-.8 1 1.5 1-1.8 1-.3 1 1.3 1 1.5 1-2.6 1-1 1-.5 1 .1 1 2 1-.2 1 0 1 .1 1-.2 1 1.7 1 4.7 1-1.2 1-2.2 1 .3 1-.4 1-1.4 1 .1 1 2.6 1 .5 1 .7 1-.3 1-.1 1 2.3 1 0 1 .1 1-1.8 1-3.1 1 3.2 1 .7 1-.2 1-.1 1-.1 1 1.1 1-.5 1-.7 1 .3 1 .5 1 .3 1 1.6 1-1.7 1-1.4 1 .4 1 .3 1-.4 1-1.5 1 .5 1-1.3 1 0 1 .8 1 1.3 1 1.3 1-5.4 1 1.3 1 .9 1-.7 1-1.2 1 .2 1-15.8 1 15.6 1-.4 1 .9 1 .3 1 .1 1 .3 1-1 1-1.1 1-.4 1 1.5 1 0 1-.5 1-1.8 1-3.1 1 4.9 1-.9 1 1.1 1 1.2 1-1.8 1 .3 1 1.2 1 .9 1 .3 1-1 1-2.5 1 4.7 1-1.4 1-.4 1 .6 1-.6 1 .3 1 .9 1-.8 1 1 1 3.6 1-.6 1 .2 1 .3 1-.1 1-.1 1-.4 1-.3 1 .6 1-.2 1-.6 1 .4 1 0 1-.3 1-.1 1 0 1 .3 1 0 1-.2 1-.1 1-.4 1 .2 1 .2 1-.3 1 .2 1 .4 1-.4 1 0 1-.1 1-.1 1-.1 1 0 1 .2 1-.1 1-.2 1 .2 1 .1 1-.2 1-.1 1 .1 1 0 1 0 1 .1 1 .1 1-.1 1 .2 1 .1 1-.1 1-.4 1-.1 1 .2 1 .1 1 .1 1 .1 1 0 1 .3 1-.1 1-.3 1-.1 1 .2 1 .1 1 .1 1 0 1 0 1 0 1-.1 1 0 1 0 1 .2 1 .1 1-.2 1 0 1 .1 1-.1 1 0 1 0 1 0 1 .1 1 .2 1 0 1-.3 1 .3 1 .1 1 .1 1 0 1-.1 1-.2 1 0 1 0 1 .3 1 0 1-.3 1 .2 1 .1 1 0 1-.2 1-.1 1-.2 1-.4 1-.5 1 .7 1-.1 1-.3 1 .1 1 .3 1 .1 1 0 1-.3 1-.4 1-.5 1 .5 1 1 1 .4 1-.4 1-.4 1 .1 1 .5 1 .4 1 0 1-.6 1-.4 1 .1 1 .3 1-.5 1 .1 1 .3 1 .5 1 .1 1-.5 1 0 1 4 1-3.4 1-.4 1-1.3 1 1.6 1-1 1-.2 1 1.1 1-.2 1-.1 1-.7 1 .3 1 .9 1-1.8 1-.9 1-.1 1-.9 1 1.2 1 1.2 1 .3 1-1.8 1-.5 1 .8 1 0 1 .1 1 .6 1-.2 1-1.4 1 1.6 1-.3 1-.8 1-1.6 1 1.4 1 .2 1-1.6 1 1.2 1 0 1 .2 1 .7 1 0 1-2 1 1.5 1 1.5 1-.3 1-.7 1-.6 1-.1 1-.6 1-.4 1-1.9 1 1 1-7.3 1 8.4 1-1.6 1-1.3 1 2.7 1 .8 1 .4 1-.1 1 .3 1 1.2 1 1 1-.3 1-.6 1-.8 1-2.6 1-.5 1-2.7 1-.8 1 .3 1 3.2 1 .3 1-3.7 1-.9 1-.6 1 1 1-.7 1-1 1-1.1 1-1.4 1-1.2 1-1 1 1.4 1 .1 1-4.7 1 .1 1 4.2 1 .8 1 .1 1 0 1-1.2 1-1.5 1 .9 1 2.1 1-2.7 1-3.2 1-1.1 1 2 1 5.5 1 .3 1-.9 1-16.1 1 14.9 1-4.4 1 .8 1 3.2 1 .3 1 1.3 1-.4 1-1.4 1-1.3 1 1.3 1 2.9 1 .1 1-4.9 1-2.4 1 1.9 1 .6 1-.6 1-2.2 1 1.1 1 2.2 1-3.1 1-.8 1 5.8 1 2.5 1-2.5 1-1.6 1 1.7 1-.2 1-1.7 1 1.7 1 2.8 1-2.3 1-4.2 1-1.6 1-4.9 1 16.3 1-1.4 1-1.5 1 .8 1 .2 1 .6 1-.7 1-3.4 1 1.4 1 3.8 1 1.2 1-.5 1 0 1-.1 1-1.5 1-2.3 1 1.8 1 1.9 1 4.3 1 .8 1 1 1 1.2 1-.6 1-1.3 1-1.8 1 .3 1-3.8 1-.2 1 .9 1-.1 1-1.5 1 .3 1-.9 1-.2 1 1.6 1-.3 1 .8 1-1.4 1-2.3 1-.7 1 1.6 1 2.9 1-1.2 1-.8 1 1.8 1-.6 1-3.1 1 3.2 1 0 1 .4 1 .1 1 .2 1-2 1-.3 1-1 1 .8 1 0 1 .6 1 2.4 1 1.8 1-2.8 1-1.2 1-.6 1 .6 1 2.2 1 .8 1-.2 1 0 1-.7 1 2.4 1-.1 1-2.2 1 .6 1 3.1 1-.4 1-.5 1-.2 1 .9 1 .9 1 1.3 1-1.6 1-.6 1 1 1-.3 1-1.2 1-2.7 1 3.4 1 1.7 1 .3 1-1 1-.3 1 .2 1-2.2 1-.4 1 1.2 1 .2 1 .5 1 .7 1-1.4 1-.2 1 .5 1-.3 1 .4 1 .9 1-.5 1-.2 1 .3 1-.5 1 .4 1-.4 1 .1 1 .5 1-.4 1-1 1 3.2 1-1.2 1 .4 1 .6 1-.5 1-.2 1 1.1 1 .4 1-1 1 .3 1 .3 1 .1 1 .2 1-.1 1 0 1-.4 1 .3 1 .1 1-.3 1-.4 1 .3 1 .5 1-.1 1-.2 1-.1 1 .1 1-.1 1-.2 1-.1 1-.1 1 0 1 0 1 .3 1 .1 1-.2 1 .1 1 .2 1-.1 1-.2 1 0 1 .1 1 .2 1 .1 1-.2 1 .3 1 0 1-.1 1 .1 1 .1 1-.1 1 0 1 .2 1-.1 1-.1 1 .3 1 0 1-.3 1 0 1 .1 1-.1 1 .1 1 .2 1 0 1 0 1 .2 1 .2 1-.4 1 .1 1-.1 1-.2 1-.1 1-.2 1 .3 1-.5 1-.5 1 .6 1-.3 1-.1 1 .7 1-.1 1-.1 1-.2 1-.3 1 .4 1-.1 1-.3 1 0 1 0 1-.5 1-.4 1 1.2 1 .3 1-.5 1 0 1 .2 1 .3 1 .1 1-.8 1-1.5 1 .6 1 1.6 1 .1 1-1 1 0 1 0 1 0 1-.4 1 .1 1-.3 1-.8 1 .9 1 0 1-.1 1 .2 1-.4 1-.4 1 1 1-.2 1-1.7 1 1.5 1 .9 1-1.2 1-3.2 1 .8 1 2.3 1 .4 1-.8 1-.4 1-1.8 1-.4 1-.1 1 1.3 1 1.1 1-1.6 1-.9 1 1.1 1-2.1 1-.7 1 1.1 1 2.2 1-2.3 1-.5 1 2.2 1 1.1 1 .7 1-.9 1-.4 1 .2 1-.5 1 1.7 1-1.3 1 .9 1 .5 1-1 1 2 1-.2 1-1.5 1 1.6 1 .3 1 .8 1-.9 1-1.8 1-.8 1 3.2 1 .8 1-5.1 1 3.8 1-2.8 1 1 1-.4 1-1.8 1 2.6 1 0 1-1.4 1 1.2 1-.7 1-.7 1 3.1 1-.3 1-4 1 3.1 1 2.4 1-1.1 1-1.1 1-3.9 1-.3 1 1 1 3.3 1-2 1-3.3 1 1.7 1-3.3 1 6.6 1-.5 1-.7 1 2.7 1 .2 1-2 1 .4 1-4.5 1-2.2 1 0 1 1 1 1.7 1-.2 1 1.2 1-1.3 1 1.4 1-.7 1-.8 1-1.5 1-2.9 1 2.1 1 3 1-5.2 1-1.4 1 1.2 1 .4 1-.9 1 .8 1 5.2 1-.9 1-2 1 2.3 1-.8 1 .9 1-.3 1-1.4 1 1.2 1 1.1 1 .3 1-3.8 1-.3 1 4.3 1-.3 1 3.1 1-.8 1-2.1 1 1 1 1.8 1-.4 1 .6 1 .1 1-1.8 1-.9 1 1.5 1-1.1 1 1.3 1 1.9 1-1.9 1-1.8 1 1.1 1-2.5 1-1.5 1-6.5 1 1.4 1-.7 1-.1 1 2.1 1-2.5 1 1 1-1 1-.7 1 2.5 1-3.3 1-.8 1 3.3 1-1.5 1-1.6 1 3 1 1.7 1 1.6 1-.4 1 4.2 1 .9 1 4 1-2.6 1 3.6 1 1.1 1-2.7 1 .6 1 1.9 1-2.3 1-1.4 1 .1 1-.2 1 0 1-1.2 1-.7 1-1 1 1.8 1 2.5 1-1 1-.4 1-1.8 1-2.4 1 1.5 1-13 1 1.2 1-.1 1 .7 1 2.2 1-.9 1 3.4 1-.1 1 .1 1-.9 1-.8 1-.1 1-.4 1 .2 1-.1 1 1.1 1 .5 1-.9 1 1.5 1-.4 1-1.3 1 13.2 1 .3 1 1 1-.5 1-.4 1 0 1-.8 1-1 1 1.5 1 2.8 1-.9 1-2.6 1-.2 1 .6 1 .1 1-.3 1 0 1 .8 1 .2 1-.7 1-1.8 1-.3 1 1.2 1 0 1-.6 1 0 1 .6 1 .7 1 1.2 1-1.5 1 0 1-.3 1-.5 1-.3 1 .3 1 .5 1-.1 1 .2 1 .2 1-.5 1 .1 1 .5 1-.1 1-.8 1-.3 1 .7 1 .5 1 .6 1 0 1-1 1 .2 1 0 1 1.7 1-.3 1 0 1 .7 1-.4 1 .1 1 .6 1-.2 1-.6 1 .3 1 .4 1 .1 1 .1 1 0 1 0 1 0 1-.2 1-.3 1-.2 1 .2 1-.4 1 0 1 0 1-.2 1 .2 1 0 1-.1 1 0 1 0 1-.1 1-.1 1 .1 1 .2 1-.2 1-.2 1-.1 1 .1 1 .2 1 0 1 .1 1-.1 1 .1 1 .2 1-.2 1 0 1 .2 1-.1 1-.2 1 .2 1 .1 1-.3 1-.2 1-.2 1 .2 1 .7 1 .5 1-1 1-.7 1 .4 1-.6 1-.8 1 .1 1-.7 1-1.6 1 .5 1 .1 1-.2 1 .4 1 .4 1 .1 1-1.3 1-1.3 1-.2 1-.2 1 .5 1 .6 1-.6 1-2 1-1.2 1-.2 1 2.4 1 2.9 1 .4 1 1.3 1-.1 1-3.3 1-.3 1 2 1-2.2 1 .2 1 1.4 1-1.2 1 .3 1 1.2 1-.3 1-1.7 1-.2 1-1.1 1 1.1 1 .4 1-1.8 1-.8 1-.7 1 .8 1 .8 1 .2 1-.7 1 .8 1 3.1 1-.4 1-3.4 1 3.1 1 2.2 1-2.3 1-.9 1 1.4 1 1.2 1-1.1 1-1.2 1 .8 1 .3 1 .9 1 0 1-.7 1 1.4 1-.8 1-.5 1 .8 1-.3 1 .8 1 .4 1 .6 1-1.2 1 .5 1 1.9 1 0 1-1.3 1-.8 1 .9 1-1 1 .3 1 1.6 1 .5 1 0 1 .1 1 0 1-1 1 .2 1 .6 1-.2 1-.1 1 .3 1 .1 1-.2 1-.2 1 .1 1 .2 1-.1 1-.1 1-.1 1 .2 1 0 1 .3 1 0 1-.2 1 .3 1 .2 1-.1" transform="translate(255.40,141.32) scale(0.024943,0.459667)" fill="none" stroke="#F85218" stroke-width="0.25" vector-effect="non-scaling-stroke" stroke-linejoin="round"/></g>
<rect x="255.4" y="26.4" width="174.6" height="137.9" fill="none" stroke="#8a8a8a" stroke-width="0.9"/>
<path d="M255.4 164.3v-1.6M255.4 26.4v1.6M280.34 164.3v-1.6M280.34 26.4v1.6M305.29 164.3v-1.6M305.29 26.4v1.6M330.23 164.3v-1.6M330.23 26.4v1.6M355.17 164.3v-1.6M355.17 26.4v1.6M380.11 164.3v-1.6M380.11 26.4v1.6M405.06 164.3v-1.6M405.06 26.4v1.6M430 164.3v-1.6M430 26.4v1.6M255.4 164.3h1.6M430 164.3h-1.6M255.4 141.32h1.6M430 141.32h-1.6M255.4 118.33h1.6M430 118.33h-1.6M255.4 95.35h1.6M430 95.35h-1.6M255.4 72.37h1.6M430 72.37h-1.6M255.4 49.38h1.6M430 49.38h-1.6M255.4 26.4h1.6M430 26.4h-1.6" stroke="#8a8a8a" stroke-width="0.7" fill="none"/>
<g font-size="5.45" fill="#262626" stroke="#262626" stroke-width="0.12"><text x="280.34" y="171.9" text-anchor="middle">1000</text><text x="305.29" y="171.9" text-anchor="middle">2000</text><text x="330.23" y="171.9" text-anchor="middle">3000</text><text x="355.17" y="171.9" text-anchor="middle">4000</text><text x="380.11" y="171.9" text-anchor="middle">5000</text><text x="405.06" y="171.9" text-anchor="middle">6000</text><text x="430" y="171.9" text-anchor="middle">7000</text><text x="253.4" y="166.2" text-anchor="end">-50</text><text x="253.4" y="143.22" text-anchor="end">0</text><text x="253.4" y="120.23" text-anchor="end">50</text><text x="253.4" y="97.25" text-anchor="end">100</text><text x="253.4" y="74.27" text-anchor="end">150</text><text x="253.4" y="51.28" text-anchor="end">200</text><text x="253.4" y="28.3" text-anchor="end">250</text></g>
<text x="342.7" y="179.8" text-anchor="middle" font-size="5.95" fill="#262626" stroke="#262626" stroke-width="0.12">Number of days</text>
<text transform="translate(241.45,95) rotate(-90)" text-anchor="middle" font-size="5.77" fill="#262626" stroke="#262626" stroke-width="0.12">Rainfall (kg/m2)</text>
<rect x="359.6" y="49.0" width="53.4" height="13.6" fill="#fff" stroke="#a8a8a8" stroke-width="0.6"/>
<path d="M361.5 53.48h15.2" stroke="#86CFF2" stroke-width="1.2"/>
<path d="M361.5 59.87h15.2" stroke="#F7B89A" stroke-width="1.2"/>
<g font-size="4.85" fill="#262626" stroke="#262626" stroke-width="0.08"><text x="378.8" y="55.18">NASA data</text><text x="378.8" y="61.57">ANN prediction</text></g>
<text x="233.29999999999998" y="10.6" style="font-family:'Liberation Serif',serif" font-weight="bold" font-size="12" fill="#000">(b)</text>
<clipPath id="clip_c"><rect x="30.45" y="206.4" width="174.15" height="137.99999999999997"/></clipPath>
<g clip-path="url(#clip_c)"><use href="#nasa" transform="translate(30.45,321.40) scale(0.024879,0.460000)" stroke="#45B6EE" stroke-width="0.3"/><use href="#nasa" transform="translate(30.45,321.40) scale(0.024879,0.460000)" stroke="#1272CB" stroke-width="0.17"/><path d="M0 -0.6l1 .5 1-.1 1-.7 1-.2 1-.1 1-.2 1 0 1 .6 1-.2 1-.2 1 .1 1 .1 1-.2 1-.4 1 .2 1 .2 1 .5 1-.4 1-.5 1 .1 1-.2 1-.2 1-.2 1 .4 1-.1 1 .3 1 0 1 0 1 .4 1-.5 1 0 1 .4 1 .2 1 0 1-.3 1-.2 1 .3 1 .3 1-.2 1 0 1 .2 1-.2 1-.2 1-.3 1 .1 1-.1 1 .2 1 0 1-.4 1 .2 1 .1 1 0 1 0 1-.1 1 .2 1 0 1 0 1 .2 1 .3 1 .1 1 0 1 0 1 .2 1-.2 1-.6 1 .2 1 .9 1 .3 1-.4 1 .1 1 0 1-.8 1-.2 1 .9 1-.1 1-.5 1 .2 1 .5 1 .2 1-.4 1 1.1 1 1.3 1-1.6 1-1.2 1 1 1 1.2 1-.2 1 .2 1 .2 1-1.7 1-.4 1 .4 1-15.3 1 15.8 1-1.9 1 1.5 1 1.4 1-2.4 1-.6 1-1.8 1-1 1 2.6 1 .7 1-2.4 1 .8 1-4 1-1.1 1 1.9 1-.6 1-.3 1-1.3 1 1 1-6.6 1-1.4 1 1.1 1 2.6 1 .5 1-2.3 1-.2 1-40.5 1 43.9 1-3.6 1-.9 1 2 1-.8 1 1.1 1 1.2 1 9 1-2.5 1 2.9 1-7.1 1-4.8 1 3.4 1-9.7 1 1.7 1-1.8 1-12 1 1.2 1-4.6 1 .2 1-5.5 1 1.1 1 1.6 1 1 1-.5 1 1 1 1.5 1 2.8 1 11.7 1-1 1 1.5 1 10.2 1-2.3 1 9.7 1 .7 1-3.3 1-5.6 1 5 1-14.5 1 7.6 1 8.6 1-4.7 1-1.5 1-3.9 1-4.5 1 6.1 1-2.2 1-1.6 1 1.6 1-2.9 1-1.8 1 1.3 1 .7 1-17.9 1 23.9 1-3.7 1 6.3 1-2.9 1-.1 1 3.5 1-.9 1 .9 1-.8 1 4.4 1-5 1-4.5 1 0 1-.1 1 2.2 1-4.4 1 .4 1 4.8 1 1.3 1-4.4 1 .6 1 6.7 1 1.4 1 3.9 1-5.8 1-2.2 1 3.8 1 1.2 1 2.6 1-15.7 1 1.2 1 .2 1 .7 1-3.7 1 2.7 1 3.4 1-1.6 1-.9 1-.8 1 1.1 1-.9 1 .3 1-.7 1 1 1 13.2 1-1.9 1 .9 1-2.4 1-.7 1-1.6 1 4.8 1 4 1-3.7 1-9.3 1 1.2 1-3.8 1-1.6 1 3.6 1 2 1-1.3 1 .5 1 .8 1-15.1 1 16.4 1 .9 1-.8 1-.4 1-1.5 1 10.8 1 0 1-2.7 1 1 1-.5 1 .2 1 .8 1-.3 1-.3 1-1 1 2.3 1 1.4 1-.2 1 .1 1-1.9 1-.4 1-.6 1 1.2 1 2.5 1 .9 1-2.8 1-1.5 1 .8 1 1.4 1-1.2 1 .3 1 .8 1-1.1 1 0 1 .6 1 .3 1-.9 1 .2 1 .8 1-.2 1-.4 1 0 1 .2 1 0 1-.2 1 .3 1 .1 1-.2 1 0 1 .2 1 .3 1-.4 1-.5 1 .2 1 .3 1-.1 1 0 1-.1 1 .1 1 .5 1 0 1 .3 1 .2 1-.3 1 .1 1-.2 1 0 1 .5 1 0 1-.1 1-.1 1-.3 1 .1 1 0 1-.5 1 .2 1 .1 1 .4 1 .2 1-.3 1 .3 1 .4 1-.3 1-.3 1-.6 1 .4 1 .2 1 .4 1-.2 1-.5 1-.2 1 .6 1 .2 1-.5 1 .6 1-.1 1-.5 1-.2 1-.2 1 .5 1 0 1-.3 1 .3 1 .1 1-.2 1-.2 1-.4 1 0 1 .1 1-.4 1 .2 1 .2 1 .3 1 0 1-.5 1-.1 1 0 1 0 1-.1 1 .2 1 .3 1-.2 1-.1 1-.2 1 .2 1 .3 1-.1 1-.1 1-.4 1 .1 1 .4 1 .5 1-.5 1-.5 1-.4 1 .5 1 .4 1-.1 1 .1 1-.5 1-.4 1 0 1 .2 1 0 1-.2 1-.6 1 .5 1 .6 1-.2 1-.3 1-.2 1 0 1 .3 1 .2 1 0 1 .4 1 0 1 0 1-.5 1-.4 1 .7 1 .2 1-.7 1-.1 1 .2 1-.2 1-.2 1 .1 1 .4 1 .5 1 .4 1 0 1-.8 1 .1 1 .2 1 .6 1-1.2 1-.4 1 2 1 .2 1-.5 1-.9 1 1.5 1 .1 1-1.2 1 .6 1-1.3 1-.5 1 .2 1-.1 1-2 1-1.2 1 .8 1 1.2 1-.2 1-.2 1 1.4 1 .9 1-.8 1-1.4 1-.6 1 .8 1-.5 1 1 1 .9 1-1 1 1.8 1 1.8 1-1 1-.7 1-1.5 1 .5 1 3.1 1-1 1-4.2 1-2 1 3.2 1 2.7 1-1.6 1 .5 1 .7 1-.3 1 .9 1 0 1-.7 1-5 1 1 1 .5 1-1.7 1 2.7 1 .1 1-7.1 1-4.4 1 4.4 1 .5 1 .2 1 1 1-.9 1 .3 1-1 1-1.7 1 5.8 1 3.1 1-6 1-1.4 1 .6 1-4.3 1-.3 1-1.1 1-1.2 1 4.8 1 1.7 1 3.8 1-13.2 1 8.6 1-.5 1 1.6 1-1.8 1-2.3 1-.5 1 2.1 1-2.7 1-4.6 1 2.7 1 2 1-.9 1-4.6 1-7.3 1 3.2 1 3 1 7.5 1-5 1-2.5 1 2 1-.2 1-.5 1 18.4 1-8.4 1-2.1 1-1.9 1-1 1 4.9 1-6.2 1-2.7 1-.9 1 4.7 1-3.8 1 1.1 1 5.7 1-1.3 1-4.1 1-.3 1 .1 1 4.2 1 1.2 1-4.6 1 2 1 13.1 1 .9 1-2.6 1-2.3 1 3.7 1-1 1-3.2 1-4 1 1.4 1 2.1 1-11.4 1-4.5 1-.8 1 7 1-.5 1-1 1 3.5 1-.5 1-5.8 1-30.1 1 25.4 1 .2 1 3.5 1 1.9 1-.6 1 8.7 1-2.1 1 1.1 1 3.1 1-2.5 1-2.3 1 2.7 1-6.6 1 12.7 1 0 1-2.5 1-6.3 1 2.4 1 1.5 1 4.1 1-.2 1-4.4 1-.4 1 2.2 1 .7 1 .8 1-.5 1-5.2 1-1.8 1-.7 1 1.4 1 9.1 1-8.7 1 .2 1-1.3 1-2.1 1-2.8 1 1.6 1 0 1-4.1 1 1.7 1 .5 1 1 1-1.8 1 6.4 1-.2 1-1 1 10.9 1-.5 1 .8 1 2.5 1 2.2 1-.2 1 1.2 1-1.3 1-.6 1 1.8 1-3.9 1 4 1 .1 1-1.8 1 .4 1 0 1-1.8 1-.7 1 .8 1 .7 1 1.1 1 .5 1-.1 1-.4 1-.1 1 .3 1-.9 1-.1 1 .6 1-1.1 1 .2 1 .8 1-.1 1-.9 1 0 1 .7 1 0 1 0 1 .8 1-.1 1-.6 1-.1 1 .3 1 .7 1-.3 1-.1 1 0 1-.2 1 0 1 .1 1 .2 1 .1 1-.1 1 .1 1 0 1 .3 1 .2 1-.4 1-.2 1 0 1 .1 1-.3 1-.5 1 .4 1 .1 1 .1 1 .1 1 0 1-.4 1-.4 1 0 1-.4 1-.1 1 .3 1 .3 1 0 1 0 1 0 1-.4 1-.2 1 .4 1 .1 1 .4 1 .2 1 0 1 .2 1-.5 1-.1 1-.1 1 0 1 .2 1 0 1-.2 1-.3 1 .4 1 .1 1-.4 1 .2 1 .2 1 .1 1 .2 1 .1 1-.2 1 0 1 .3 1 .1 1-.3 1 0 1-.1 1 .1 1 0 1-.5 1 .2 1 0 1 .1 1 .1 1-.1 1 .3 1 0 1-.3 1 .3 1 .1 1-.2 1 .2 1-.1 1-.1 1-.2 1 .1 1 .1 1-.2 1 .3 1-.1 1 .2 1 .5 1-.2 1-.4 1-.1 1 .1 1 0 1 0 1 .5 1-.2 1-.3 1 .4 1 .2 1 0 1 .1 1-.7 1-.3 1 .4 1 .1 1 .4 1 .2 1-.3 1 .1 1 0 1-.3 1-.1 1 0 1 .1 1 .4 1 .1 1 .3 1 .2 1-.7 1-.9 1 .2 1 1.6 1-.3 1-1.2 1 .5 1-.2 1-.3 1 .7 1 1.1 1-1.4 1 .5 1 .3 1-1.5 1-.2 1-1.1 1-.3 1 .1 1 .3 1 .6 1 6.2 1-5.9 1-1.1 1 .3 1 .3 1 .5 1-3 1-1.1 1 2.3 1 1 1 1.3 1 0 1-1.4 1-.5 1-.9 1-.1 1 2 1 .9 1-2.4 1 1.6 1-.1 1-.4 1-1.7 1-.4 1 2.6 1 2.1 1 1.3 1-1.2 1-3.7 1-1.9 1 .7 1-4.6 1 1.4 1-3.3 1-3.9 1 5.3 1 2.1 1-6.8 1 .9 1 .8 1-2.6 1 .1 1-9.3 1-1.4 1-.1 1 2.8 1 5.3 1 .5 1 2.5 1-3.8 1-.3 1 1.3 1 3 1 1.9 1 .8 1-.9 1 1.6 1 7.7 1 2.4 1 1.2 1-2.4 1 1.3 1 1.4 1-2.7 1-1.9 1 2.4 1 .2 1-.9 1-3.7 1-12.5 1 11.6 1-26.8 1 28.4 1-2.5 1-.7 1 1.3 1 .1 1-2 1-1.8 1 .6 1 2.5 1-.5 1-.6 1 4.1 1 2.1 1 3.1 1 .1 1-2.8 1-2.7 1-.6 1 2.8 1-.3 1-1.6 1-7.3 1-2.7 1 5.3 1 5 1 .5 1-1.6 1-4.9 1-4.1 1 1.2 1 5.7 1-.3 1-.5 1-4.1 1-6.9 1-.5 1 7.2 1 .1 1-4.4 1 3 1 1.7 1-2.2 1 1.6 1-.8 1 .5 1 1.6 1 2.1 1 .5 1-1.7 1 6.9 1 1.1 1-3.7 1 .2 1-.6 1 2.7 1 2.5 1-1.7 1-2 1 .8 1 .4 1 2.1 1-1.6 1-3 1-.7 1-2.2 1-.3 1 1.5 1 3.2 1 5.3 1-.7 1-1.8 1 1.1 1-3.2 1 1.2 1-4.6 1-4.7 1-3.2 1-.5 1 1.5 1-3.9 1 5.9 1 1.9 1-1.9 1-3.3 1-2 1 5.7 1-5 1-19.9 1 17.7 1 5.2 1 4.2 1-.7 1 0 1 2.7 1-46.8 1 37.8 1-1 1 6.5 1 2.7 1-1.7 1-2.8 1 1.3 1 1.6 1-.1 1-3 1 .4 1 1.6 1 10.8 1-13.6 1 3.5 1 4.5 1 .8 1-3.6 1 1.6 1 1.4 1 .8 1 .7 1 1.2 1 .4 1 .3 1 .6 1-1.7 1-.5 1 5.2 1-7.6 1-1.5 1-1 1-.9 1 .5 1-.5 1-.8 1-1.4 1 1.3 1 2.4 1-.3 1-1.3 1 .4 1-.3 1 0 1 7 1 .2 1 2 1-.7 1-1.9 1 1.9 1 1 1 .6 1-.9 1-.8 1 .8 1 1.5 1-.8 1-.4 1-.5 1-.2 1 .5 1 .3 1-.1 1-.2 1 .1 1 .8 1-.4 1-.7 1 .3 1 .2 1-.3 1 .2 1-.1 1-.3 1 0 1 .5 1-.3 1-.3 1 0 1-.2 1 .1 1 .1 1 .1 1-.2 1-.4 1-.2 1 0 1 .5 1-.1 1-.7 1 0 1 .6 1 .5 1-.1 1 .1 1 0 1-.3 1 .3 1-.2 1 .1 1 .3 1-.2 1-.6 1 .1 1 .2 1 .2 1 .2 1-.4 1-.3 1 .4 1 .2 1-.2 1 .1 1 .1 1 .1 1 .1 1 .3 1-.3 1-.4 1 .1 1 .3 1 0 1-.3 1 .3 1 .7 1-.1 1-.4 1-.4 1-.2 1 .1 1 .1 1 .1 1 .3 1-.1 1-.2 1 0 1-.2 1 .1 1 .3 1 .1 1-.1 1-.2 1 .3 1 .1 1-.4 1 0 1 .4 1 0 1 .2 1 0 1-.1 1 0 1-.3 1 .1 1 .1 1-.3 1-.1 1 .4 1 0 1-.6 1 .2 1 .1 1-.2 1 .2 1-.2 1-.3 1 .7 1 .3 1-.9 1 .1 1 .5 1 0 1 0 1-.5 1 .2 1 .8 1-.5 1-.9 1-.1 1 0 1 .8 1 1.1 1 0 1-.8 1 .5 1 .2 1-1.3 1 .2 1-.8 1-1.1 1 2.2 1 1.2 1-3.7 1 2.4 1-.9 1 .9 1 .3 1-1 1-.2 1 1.8 1 1.4 1-.6 1 .6 1-2.5 1-1.4 1 2.1 1 .3 1-1 1-1.4 1-.3 1-.7 1 1.4 1-.2 1-4.3 1 2.2 1 2.4 1-1.1 1-1.7 1 1.9 1 2.8 1-2.6 1-.4 1 5.7 1-1.1 1-4.3 1-1.3 1-.8 1-1.8 1-19.6 1 5 1 1.4 1-3.4 1-1.3 1 3.9 1 2.1 1-2.4 1-2.2 1-17.1 1 17.3 1 1.4 1-1.8 1-1 1-.7 1 22.7 1 1.2 1-.5 1 0 1 .2 1-1.1 1 1.1 1 .8 1-.9 1-1.4 1-.5 1-4.1 1-6.3 1 1 1 10.5 1-9 1 3.4 1-1.6 1 .3 1 1 1-5.3 1-1.6 1 3.5 1-.3 1-2.3 1 1.7 1-.7 1 2.7 1-19 1 14.9 1 2.3 1-.9 1-6.7 1 .6 1 5.1 1 .2 1-6.5 1 2.9 1 1.5 1-4.4 1 3.1 1 9.7 1 1.6 1 1.8 1-1.8 1 .7 1-1.2 1-2.5 1-.8 1-1 1 .5 1-1.6 1 1.4 1 1.6 1-4.9 1 2.9 1 .2 1-.2 1 2.2 1 1.8 1-.7 1 2.1 1 1.1 1-1.8 1-5.8 1 3.5 1-.3 1-1.1 1-.3 1-3.4 1 2.7 1 3.4 1 .1 1-5.1 1-4.6 1 10.9 1 1.8 1-9.7 1 10 1 0 1-3.5 1-3.9 1 1.8 1 3.2 1-1.6 1-3.1 1 1.9 1-2.3 1 0 1-.7 1-6.7 1 1.2 1 5 1 .2 1 .7 1-5.3 1-7.6 1 5.2 1 3.7 1-.5 1 1.9 1-21 1 21.5 1 1 1-.3 1 4.3 1-1.4 1-1.3 1 2.8 1-2.3 1 1.8 1 7.9 1-1.8 1 0 1-2.2 1-2.3 1 .9 1 3.2 1 .5 1-3.5 1 .1 1-.3 1-2 1-4.7 1 4.6 1-.1 1-4.9 1-7.5 1 7.3 1 5.3 1-2.3 1-.2 1 3.4 1-2.3 1 .5 1 2.1 1-2.9 1 5 1-1.4 1 1 1 3.5 1-.2 1-7.4 1 10.2 1 1.9 1-.3 1 1.4 1-1.5 1-3.6 1-.1 1 1.8 1 .4 1-2.5 1-.4 1 1.4 1 1.6 1-.2 1-2.3 1 0 1-1.2 1-2.9 1 1.9 1 4.4 1 .7 1-3.1 1 .3 1-8.6 1-.6 1-3.5 1 1 1 4.4 1-.7 1-2.2 1-.3 1 .3 1 .6 1 .4 1-2.3 1 .1 1 .4 1 .6 1 10.5 1-.8 1 1.4 1 .2 1 .7 1 .3 1-1.4 1-.9 1 0 1 .1 1 .7 1 2.2 1-1.4 1 .1 1 1.3 1 0 1-.6 1 .1 1-.2 1 .4 1 .1 1-.4 1 .1 1-.6 1 .6 1 .1 1-1.1 1 .5 1 .3 1 .3 1 0 1 0 1 .3 1-.3 1-.6 1 .1 1 .4 1 0 1 0 1 .1 1 .1 1-.2 1-.2 1 .2 1 .2 1-.3 1-.1 1 .2 1 0 1 .2 1-.1 1-.3 1-.4 1 .4 1 .3 1-.5 1 0 1 .7 1-.2 1-.3 1 .2 1 .2 1-.1 1-.4 1 0 1 0 1 0 1-.5 1 .1 1-.1 1-.2 1 .1 1-.2 1 0 1-.1 1 .4 1 .3 1-.7 1 .1 1 .1 1 .3 1 .1 1-.6 1-.3 1 .4 1 .2 1 .1 1-.2 1-.2 1 0 1-.1 1 .3 1 .2 1 .1 1 0 1-.3 1-.5 1 .4 1 .1 1 0 1 0 1-.3 1-.2 1 .1 1 .1 1-.4 1-.1 1 .3 1 .2 1-.7 1-.5 1 .5 1-.1 1 0 1 .5 1 .2 1-.3 1 .3 1 .1 1-.4 1 0 1-1.9 1 2.3 1 .5 1 .3 1-.6 1-.1 1 .1 1 .6 1 .2 1 .2 1 0 1-.6 1 .2 1-.1 1-.1 1-.1 1 0 1 1 1 .5 1-9.5 1 8.5 1-.3 1 .4 1-40 1 40 1-.3 1 .3 1-.6 1-1 1 .8 1 .8 1-.6 1-.2 1-.1 1-2 1-.8 1 1.2 1-18.5 1 18.6 1-1.2 1-.3 1 1.2 1 .1 1 1.1 1-.8 1-.8 1 1.9 1 .9 1 1.3 1 .7 1-2 1-2.1 1 2 1 .2 1-2.1 1-.1 1-.3 1 2.9 1 1.1 1-1 1-.5 1-.2 1 .4 1-2 1 2 1-.2 1-1.1 1-1 1-.6 1-1.3 1-4.6 1-3.4 1 1.9 1 3.3 1 2.4 1-5.6 1-2.3 1-10.5 1 2.9 1 .5 1 4.7 1 .9 1-1.1 1 4.3 1-4.8 1 .1 1 9.4 1-10 1-1.7 1-1.5 1 .1 1 1.7 1 6.2 1-2.5 1 1.8 1 .6 1-2.7 1 .2 1 4 1 1.4 1-2.2 1-7.7 1 1.4 1 .3 1-19.3 1 20.4 1 .7 1 .7 1-1.1 1 2.6 1 4.6 1-1.6 1 1.2 1-5.8 1-.4 1-.2 1 4.1 1-3.6 1-1.6 1 3.1 1-8.7 1 8 1 1.7 1 .8 1-2.6 1-5 1 3.9 1 2.8 1 1.9 1-.4 1 2.9 1-1.8 1 4.1 1 2.6 1-5.5 1 .8 1 1.9 1 4.3 1-3.3 1-4.1 1 .7 1 4.5 1-1 1-2.9 1 1.5 1 .3 1-2.5 1-.8 1-6.4 1 6 1 1.9 1 3.4 1 3.2 1-.2 1-3.7 1 0 1 1.9 1 1.1 1-7.2 1 8.3 1 .5 1-5.4 1-4.1 1 5.2 1-2.6 1-.4 1-3.4 1-3.1 1 1.7 1 2.4 1-.7 1 8.3 1-2.2 1-1.9 1-2.5 1 .1 1 5.2 1 2.3 1 .6 1 1 1-2.2 1-9.5 1 10.8 1 2.2 1-.9 1-9.7 1 .2 1-16.4 1 14 1-1.8 1-5.3 1 .6 1-1.6 1 13 1-2.8 1-1.8 1 0 1-.2 1-3.9 1-.9 1 8.8 1 2.2 1 .7 1-.4 1 .2 1-.2 1 .5 1 1.4 1 .2 1-1.3 1-1.6 1 1.4 1 .9 1 2.5 1-24.8 1 23.5 1 .1 1-.5 1-1.8 1-.7 1 1.5 1-.7 1 1.7 1 1.4 1 1.5 1-.5 1-.6 1-1.7 1-4.5 1 3.6 1-1.3 1-.6 1-1.1 1 .2 1 1.5 1 .1 1-1.2 1-.7 1 3.1 1 .9 1-.7 1-1.8 1 .4 1 3.8 1 0 1-1.3 1 2 1 1.4 1-1.3 1-.3 1 0 1-.2 1 0 1 .2 1 .8 1 0 1-.2 1-.2 1-1.5 1 .3 1 .7 1-.5 1-.3 1-.1 1 .1 1 .5 1 0 1 .2 1-.7 1 0 1 .4 1-.4 1 .2 1 .3 1 0 1-.2 1 0 1 .1 1 .1 1 .2 1-.2 1-.2 1-.7 1-.2 1 .9 1-.1 1-.1 1-.2 1-.2 1 .5 1 .4 1 0 1-.4 1-.4 1 0 1 .2 1 .2 1-.1 1-.2 1 .1 1 .1 1 0 1 .3 1-.3 1 .3 1 .5 1 0 1-.2 1 .1 1-.1 1-.5 1 0 1-.2 1-.1 1 .4 1-.1 1-.4 1 0 1 .1 1 .1 1 .3 1 .2 1-.1 1-.3 1 .2 1-.2 1 .1 1 .4 1 .3 1-.1 1-.3 1 .1 1 .3 1 0 1-.5 1 .5 1 .2 1 .2 1 0 1-.8 1 .3 1 0 1 .1 1 0 1-.5 1-1.7 1-.6 1 1.1 1 0 1-1 1 .3 1 .9 1-1.1 1 .3 1 .8 1-.8 1 .3 1 .3 1-.3 1 .9 1 .8 1-.9 1 1.5 1 .9 1-.7 1 .2 1 .2 1-2.7 1 2 1 0 1-1.2 1-1.4 1 1.9 1 2.7 1-.5 1-.7 1-5.8 1-.2 1 .7 1-1.9 1-31.7 1 33.3 1-2.3 1-.8 1 3 1 1.3 1-1.9 1 .1 1 2.2 1-2.4 1-2.8 1 2.5 1 2.8 1 1.4 1 2.9 1 1.8 1-8.1 1-3.3 1 2.8 1 4.1 1 2.8 1-2.9 1 4.2 1-2.6 1-6.2 1-2.7 1-2.1 1-.4 1-8.7 1 1.4 1 1.9 1-3.7 1 12.2 1-7.4 1-1.2 1-2.1 1-1.9 1 1 1 .5 1 4.7 1 2.3 1 2.3 1 .2 1 4.1 1 2.8 1-.2 1 3.8 1-5.8 1-3.6 1 3 1 1.8 1-1.8 1-2.2 1-.7 1 3.9 1 3.1 1-1.4 1 4.1 1 1.3 1-3.9 1-2.5 1 1.8 1-1 1-.6 1-2.1 1-1.4 1-2.2 1-1.6 1 4 1 .3 1-2.6 1 .2 1 1.3 1-.1 1 0 1 2.1 1-1.3 1 3.8 1 3 1 2.5 1-3.2 1-.8 1 1.1 1-14.5 1-2.4 1-1.4 1 2.5 1 3.5 1-10.2 1 3.7 1-5.1 1 1 1 .4 1 .5 1 .6 1 .9 1-.3 1 2.9 1 11.4 1-.2 1-1.2 1 1.3 1 1 1-2 1-.3 1 2.8 1 1.6 1 1.1 1 .8 1 .7 1-2 1-41.2 1 43.9 1-.4 1-3.1 1 4.2 1 .9 1-3.3 1-2.8 1-.3 1 3.1 1-1 1-.4 1 .9 1-1.8 1 1.8 1 1.6 1-1 1-7.3 1-1.6 1 3.4 1 .1 1-3.1 1-.2 1-1.2 1 8.8 1-4 1 1.2 1 .4 1-11.2 1-1.9 1 4.6 1 1.4 1-4.7 1-7.9 1-.2 1 4.5 1-.4 1-11.9 1 13.9 1-3.8 1-1.4 1 1.1 1 4.6 1 9.3 1 .3 1 .1 1-3 1 5.4 1 6.2 1-.2 1-1.7 1-1.2 1-1.7 1-1.9 1 1 1 1.8 1 1.7 1 .4 1 1.5 1 0 1 1.2 1-.1 1-2.2 1 1.1 1 .2 1-.8 1 1.3 1 .4 1-1.3 1 .3 1 .8 1-3 1-.4 1 1.3 1 1 1 .2 1-1.8 1 1.4 1 2.3 1-.1 1-1.1 1 .2 1 1 1-2.1 1-.8 1 1.9 1 2.9 1-1.4 1-1 1-.3 1-1.4 1 .7 1 .4 1-.6 1 .1 1 .2 1 0 1 .2 1-.9 1-.6 1 1.1 1 .7 1-.2 1-.4 1-.2 1 .1 1 .5 1-.3 1 .2 1 .1 1 .1 1-.1 1-.2 1 .2 1-.1 1 .2 1 0 1-.4 1 .3 1-.3 1-.5 1 .2 1-.1 1 .3 1 0 1-.3 1 0 1-.7 1-.1 1 .6 1-.2 1-.3 1 .4 1 0 1-.1 1-.3 1-.2 1 0 1 .3 1 .1 1 0 1 0 1 .5 1-.3 1-.2 1 .1 1-.4 1 .2 1 .1 1-.5 1 .7 1 0 1-.4 1 .2 1 .3 1 .1 1 .2 1 .3 1-.4 1-.5 1 .3 1 0 1 .1 1 .3 1-.3 1-.2 1 .2 1-.3 1-.3 1 .4 1 .4 1 .2 1 .1 1-.2 1 .1 1-.4 1 0 1 .8 1 .1 1-.7 1 .1 1 .4 1 .1 1 .3 1-.3 1 .1 1 .6 1-.1 1-.3 1-.1 1-.1 1 0 1 .2 1 .2 1-.3 1-1 1 1.4 1 .1 1 .2 1 0 1-.2 1-.1 1-.6 1-.4 1 .5 1-.2 1-.6 1 .4 1 .3 1 0 1 .1 1-.1 1-.1 1 0 1-.1 1 .3 1 .1 1-.1 1-.1 1 0 1 .5 1 .3 1-.1 1-.3 1-.4 1-.2 1 .1 1 .2 1 0 1 .1 1-.3 1-.1 1 .5 1-.4 1-.2 1-.2 1-.1 1 .3 1-.2 1 .7 1 .1 1-1 1 .3 1 .6 1-.6 1-.8 1 .1 1-.9 1 .2 1 .5 1 .1 1 1 1-.3 1-.5 1-1 1 1.7 1 2.1 1-2.4 1-1.4 1 2.7 1 .6 1-.6 1-1.4 1-2 1 1.2 1 .9 1-.3 1 1.2 1-.5 1-2.3 1 1.4 1 2.1 1-.4 1-1.5 1-2.5 1-2.9 1 1.4 1 2.1 1 2.2 1-1.7 1-.7 1-.4 1-.9 1 .3 1 .7 1 .9 1-1.6 1 .2 1 .2 1-.1 1 4.9 1-.8 1-1.9 1-1.6 1-.9 1 1.2 1-1.2 1 .8 1 1.6 1-3.6 1 .7 1 4.4 1 .3 1 0 1 1 1 5.6 1-8.3 1 4 1-1.7 1-.3 1 .7 1 .4 1-.6 1 4.3 1-8 1 1.9 1 1.5 1 .8 1 .6 1-3.3 1-2.7 1 .7 1-.1 1 1.7 1 .4 1-2.1 1-3.3 1 .3 1 2.2 1 .1 1-.6 1-1 1 1.2 1-5.7 1 2.1 1-.2 1-3.1 1-2.3 1 2.8 1 .2 1-3.8 1-4.5 1-.7 1-1 1 1.2 1 .6 1 2.4 1-1.1 1 .9 1-2.6 1-.9 1 .9 1-9.3 1-9.9 1 21.5 1 5.2 1-.6 1 .7 1 5.4 1-.1 1-4.6 1-.8 1 1.9 1-12.4 1 20 1 .5 1 2 1 .3 1-.9 1 .7 1-.8 1-1.7 1 1 1 3 1-2.7 1-.8 1 4.8 1-2.2 1-3.5 1-2.2 1 24.4 1-24.6 1 7.1 1-4.2 1-.1 1 .7 1-3 1 3 1 1.5 1-2.9 1-5 1-3.2 1 6.3 1 2.5 1-2 1 1.1 1-1.4 1 4 1-5.7 1-.8 1-.5 1-.5 1-1.1 1-10.9 1 11.9 1-4.5 1 2.4 1 .6 1-2.5 1 2.6 1 2.2 1-.2 1-1.3 1 1.8 1-12.2 1-1.7 1 .5 1 .2 1 4.7 1 .4 1-5.4 1-1 1 1.7 1 1.7 1 0 1-8.8 1 10 1-.9 1 .7 1 11 1 .8 1-4.1 1 1.6 1-.3 1-1.4 1 2.9 1-.8 1 .7 1-.8 1 4.8 1-1.4 1-4.4 1 3.2 1 3.3 1 2.3 1-2.6 1-.1 1 1.8 1 .3 1-.1 1-1.5 1-.6 1-36.8 1 32.1 1-.7 1 .9 1-.6 1-.6 1-2 1 .2 1 1.6 1-4.7 1 2.1 1 .9 1-2.8 1 2.3 1 1.5 1 .2 1 5.6 1-.2 1 1.4 1 .9 1 .9 1 .7 1 .3 1-.8 1-.8 1-.2 1 1.2 1 .7 1-2.6 1 1.1 1 2.8 1-3.7 1-2.3 1 2 1 .7 1-.8 1 2.1 1 1.1 1-1.9 1-1.3 1-.2 1 .3 1 1.3 1 .5 1-.7 1 .6 1 .1 1-1.1 1-.6 1 1.7 1 .1 1-.2 1 1.7 1-1.9 1-1.1 1 1.7 1 .5 1-.9 1-1.2 1-7.8 1 8.8 1 1.3 1 .1 1-1 1-.1 1 .9 1 .2 1-.7 1 .2 1-.1 1-.9 1 0 1 .9 1 .3 1-.2 1 .1 1-.3 1-.3 1 .4 1-.1 1 0 1 .3 1-.2 1-.2 1-.2 1-.2 1 .1 1-.3 1-.1 1 .5 1-.4 1-.5 1 .3 1 .4 1 .1 1-.5 1-.2 1 .1 1-.1 1 .1 1 .1 1-.3 1-.2 1-.1 1-.2 1-.1 1 0 1 .3 1 .2 1-.5 1-.1 1-.1 1 0 1 .7 1-.1 1 0 1 .1 1 .1 1 .3 1 0 1-.3 1 .1 1 .3 1-.2 1-.3 1-.1 1 .1 1 .2 1 0 1 .5 1-.2 1-.3 1 .4 1 .3 1-.7 1 .2 1 0 1-.1 1 .6 1 0 1-.1 1-.4 1 .1 1 .5 1-.2 1 .1 1-.2 1-.1 1 0 1 0 1-.3 1 .3 1 .4 1-.4 1-.1 1 .2 1 .1 1-.1 1 .1 1-.1 1-.2 1 0 1 .2 1 .1 1-.1 1 0 1 .2 1 .5 1-.1 1-.6 1 .3 1 .1 1-.4 1 .3 1 0 1 .3 1 .1 1-.3 1-.7 1 .1 1 .5 1 .3 1-.1 1-.9 1-.6 1 .6 1 .5 1 .3 1 .4 1-.6 1-.3 1-.5 1 1.1 1 1.9 1-.5 1-1.3 1-.8 1 .9 1 1.5 1-.6 1-1.1 1-3.7 1 1.1 1 1.7 1 1.3 1-2 1 0 1 2.2 1 2.2 1-.7 1-1.8 1-.9 1-.9 1 .7 1 .5 1 1.8 1-1.1 1-1.1 1 1.7 1-.4 1-1.8 1 .6 1-.9 1-1.4 1 3.5 1 1.8 1-1.3 1-7.8 1 0 1-.3 1-1.6 1 .2 1 1.4 1 1.7 1-2.5 1-2.7 1 1.2 1 0 1-1.2 1 .2 1-.4 1 .7 1 8.5 1-1 1-1.2 1-.3 1 1.6 1 .7 1 .3 1 2.8 1-2 1-2.3 1 2.9 1 1.3 1-2.3 1-.7 1 1 1-.8 1-.3 1 3.7 1-1.1 1-2.3 1 2.1 1 3.1 1 1.1 1-4.1 1-3.9 1-.1 1-5.4 1 2.7 1-2.7 1 .2 1 3.9 1 3.5 1-1.7 1-3.7 1-6.5 1 7.8 1 3.8 1 .7 1-1.5 1-1.1 1-1.9 1 .7 1 2.7 1 2.4 1-1.3 1-4.9 1-.7 1-3.3 1 .4 1-.4 1-1.1 1 2.5 1 1.8 1-.4 1-1.1 1-3.3 1-.3 1 1.7 1 4.1 1-4.3 1-1.7 1 3.6 1 6.5 1 .2 1-7.4 1-4.2 1-8.6 1 13.3 1 .2 1-5.2 1-2 1 3.1 1 1.6 1-3.6 1-11.3 1 7.1 1-1.4 1-5.9 1 .6 1-13 1 14.7 1 .7 1 1.6 1 4.8 1-2.8 1-5.6 1 6.9 1-2.5 1 .7 1 2.5 1 .4 1 6 1-5.4 1-17.5 1 16.4 1-1.8 1-2.7 1 2.5 1 1.3 1-2 1 3.4 1 2.7 1 1 1-2.1 1 .3 1 3.5 1 1 1-2.6 1 4.3 1 4.2 1 .2 1-.8 1-4.4 1 .7 1 .7 1-1.1 1 2 1-8.2 1 .2 1 .4 1 1.7 1 2.3 1-1.9 1 1.4 1-2.2 1-2.1 1-3.7 1 3.9 1 .7 1-6.1 1-1.4 1 2.4 1 10.2 1 2 1-.2 1-4.2 1-.4 1 .7 1-21.5 1 27.8 1-1.7 1 16.1 1-10.7 1 2.9 1-2.7 1-3.2 1-.8 1 2.3 1 1.5 1-1.7 1 3.9 1-6.2 1 3.8 1 .3 1-2.6 1 2.1 1 2.6 1-2.4 1-1.2 1 .6 1 2.5 1 .6 1-3.9 1-1 1 .9 1 .1 1 .6 1 .4 1 .5 1 .2 1-1.2 1-.8 1 .5 1 .6 1 1.6 1-.2 1-.7 1 .7 1-1 1-1.6 1 1.2 1 1.3 1-2.4 1 1.2 1 1 1-.3 1 1.7 1-1.6 1 .7 1 .4 1-.4 1-.9 1 2.4 1 1.8 1-2.3 1-.7 1-1.4 1-.5 1 1.3 1 1.6 1-.9 1-1.1 1 .9 1-.4 1-1 1 .4 1 .4 1 1.1 1 .1 1-2 1-.1 1 1.3 1 .8 1-.3 1-.2 1 .3 1 .2 1 .1 1-.6 1 0 1 .3 1 .1 1-.1 1-.3 1 0 1 .6 1-.1 1-.4 1 .1 1-.1 1-.3 1-.5 1 0 1 0 1 .2 1 .4 1 .5 1 0 1-.4 1-.3 1 .2 1 .4 1-.4 1 .1 1 .2 1-.1 1 .1 1 .2 1-.3 1-.4 1-.3 1 .3 1 .2 1 .6 1 .1 1-.3 1 .6 1-.4 1-.5 1 .4 1 .4 1-.3 1-.9 1 .1 1 .1 1-.3 1 .3 1 .4 1 .4 1-.1 1-.1 1-.3 1 .2 1-.5 1 .3 1-.3 1-.2 1 1 1-.8 1 1.8 1 0 1-1 1-3.7 1 3.4 1 .6 1-.9 1 .6 1-1.6 1 .7 1 1.6 1-2.1 1-1 1 .6 1 .7 1 1 1-.2 1-.9 1-.3 1-.2 1-3.4 1 2 1 2 1-1.5 1 1.4 1-.7 1-.1 1 2 1-.9 1-2.9 1 .3 1 1 1-.1 1 1.3 1 .8 1-.8 1-2.6 1 1.8 1 2.6 1-2.5 1-.9 1-2.2 1 3.1 1-1.8 1 1.4 1-.3 1 .6 1-2.9 1 1.9 1 4.3 1-2.9 1-.7 1 2.6 1 1.1 1-1.4 1-2.6 1-2.3 1-.4 1 2.3 1 .3 1-.5 1-.3 1 1.3 1-1.7 1-1.5 1 1.6 1 1.9 1 .3 1-3.4 1-1 1 2.2 1-2.8 1-2.4 1-1.4 1 2.5 1-3.7 1 2.7 1-7.3 1 5.5 1 1.6 1-.1 1-2.8 1 .9 1 3.8 1-10.6 1 10 1 0 1 1.3 1-7.8 1 1.6 1 12.7 1-1.2 1-1.7 1 1.8 1 2.3 1 .5 1-5.9 1-.5 1 3.5 1 .5 1-1.5 1-1.7 1-1.2 1 .3 1 2.9 1 1.9 1 .8 1-3.2 1-2.6 1 2.8 1-3.7 1-2.9 1 3.6 1 .9 1-.1 1-3.8 1-6.8 1-5.6 1 12.4 1-4.3 1 3.7 1-2.1 1 3 1 .9 1 2 1-3.9 1-.4 1 2.7 1 5.8 1-3.6 1-4 1-1 1-3.1 1-3.3 1 4.9 1-1 1-3.3 1-37.6 1 39.1 1-.5 1-2.8 1 3.3 1 .4 1-8.6 1 11 1 3.7 1-2.3 1 3.6 1 5.4 1-5.3 1-2.9 1 4.8 1 1.9 1 1 1-.2 1 1.1 1 3.8 1-35 1 26.4 1-13.3 1 12.4 1-6.9 1 2.2 1-.4 1 1.2 1 2.1 1-3.2 1-2.5 1 3.6 1 3.3 1-1.7 1-4.3 1-2.5 1 1.9 1 3.3 1-.4 1 6.6 1-2.1 1 1.7 1 1 1 0 1-3.3 1-6.4 1 3.8 1-6.5 1-23.4 1 21.9 1 .5 1 .4 1-2.4 1-.6 1 3 1-2 1-.4 1-.8 1-1 1 1.7 1 5.2 1 .2 1 4.8 1-2 1 .7 1-3.1 1-3.9 1 8.1 1-.6 1 .1 1 11 1-3.5 1-2.7 1 3.1 1 6.9 1-2.6 1-4.6 1 1.7 1-.5 1-3.7 1 0 1 1.1 1 .4 1 3 1-.6 1-4.4 1-2.3 1 1.7 1 2.2 1-14.7 1 14.2 1 3.2 1 1 1-4.3 1 1.3 1 .7 1-1.1 1 1.2 1-2.2 1 .7 1 .5 1-.9 1-.4 1 1 1-1.4 1-1 1 1.5 1 .8 1 1.4 1-1.7 1 .1 1-.3 1-3.1 1 2.9 1 2 1-1 1 .3 1-1 1 1.1 1 .6 1-.8 1-.1 1-.2 1 1.2 1 0 1-2.1 1 .6 1 4 1-.9 1-1.7 1 .1 1 1.9 1-3.1 1 .5 1 .9 1-.6 1-.7 1 1.6 1-.3 1-.2 1 1 1-1.3 1 .3 1 1 1-1.1 1-.8 1 1.2 1 .8 1-.6 1-.7 1 .1 1 .3 1 .2 1 .1 1-.8 1 .1 1 .7 1 .6 1 .4 1 0 1-.4 1-.2 1 .3 1-.3 1 .2 1 0 1-.5 1 .3 1 .1 1 .1 1-.3 1-.2 1 .6 1 .3 1-.3 1-.1 1-.3 1 0 1 .1 1 .1 1 .6 1 .1 1-.4 1 .1 1 0 1 .3 1-.1 1-.3 1 .2 1-.1 1-.5 1-.3 1-.4 1 .2 1 .4 1 .1 1-.1 1-.2 1 .5 1 .1 1-.1 1 .1 1-.1 1-.1 1 .2 1 .2 1 0 1-.1 1-.4 1 .2 1 .3 1 0 1-.3 1-.4 1 .3 1 .1 1 0 1 .3 1 0 1-.3 1-.5 1-.1 1 .6 1-.4 1-.3 1 .2 1-.2 1 .1 1-.1 1-.3 1 .5 1 .2 1-.9 1 0 1 1 1-.4 1-.2 1 .4 1-.1 1 .7 1 .4 1-1.7 1-20.2 1 20.6 1 .5 1-.8 1 .2 1 .1 1-.4 1 1.3 1-.1 1-1.2 1 .5 1 .1 1 1.5 1 0 1-2.1 1-1.1 1 .6 1 1.3 1 .5 1-5.4 1 2.2 1 .4 1 3.9 1-.2 1-3.4 1 1.4 1-19.7 1 22.2 1-.9 1-4 1-.9 1 3.5 1 1.2 1-2 1-1 1 2.1 1 0 1-1.6 1-5 1 3.4 1 .2 1 1.7 1 1.4 1-.8 1 .1 1-1.2 1-1.9 1 2.1 1 .1 1-2.2 1 2 1 2.3 1-2.7 1-.4 1 3.1 1-9.3 1 7.3 1 2 1 .4 1-3.3 1 .5 1 1.2 1-2.1 1 .5 1 3.1 1-.4 1-2.6 1 0 1 4.7 1 .4 1-4.5 1-3.2 1 .5 1-2.1 1 1.3 1 4 1-1.1 1-.4 1-.8 1 .8 1-.9 1-2.6 1-2.1 1-2 1 .4 1 .6 1 1.7 1-5.2 1 1.2 1 2.5 1-2.7 1 1.1 1 1.6 1 1.2 1-.7 1 1.2 1 3.2 1-19.1 1 6 1 4 1-6.4 1 8.5 1 2.7 1-2.6 1 .4 1 .5 1-5 1-1.8 1-22.3 1 29.4 1-2.3 1-.9 1-1.8 1 7.7 1-1.5 1 1.7 1 2.4 1-4.5 1-1.8 1 5.9 1 1.2 1-5.1 1 0 1 1.3 1-6.1 1 3.9 1 3 1-1 1-1.4 1 1.5 1 1.8 1 1.1 1-1.4 1 .7 1-1.9 1-.9 1 .6 1 1.2 1 2.7 1-2.1 1-5 1-1.1 1 .8 1 1.7 1-1.4 1-1.5 1-.8 1 4.7 1 1.3 1-4.6 1 1 1-1.1 1-1 1-3.6 1 .9 1 6.1 1 4.9 1-3.2 1-1.9 1 6.2 1-3.6 1 .6 1-.3 1-26.2 1 21.6 1-.3 1 7.8 1 0 1 .8 1 1.5 1-5.2 1-1.3 1 2.7 1 .7 1-5.3 1 2.9 1-2.5 1-2.4 1 4.3 1 .2 1-2 1 3.2 1-2.4 1-6.7 1 1.3 1 5.5 1-1.8 1-2.1 1 2 1 2.5 1 .1 1-5.1 1 1 1-3.7 1 2.3 1 .1 1-2.2 1 .2 1 5.2 1 1.8 1 .9 1-3 1-2.4 1 3.8 1 .7 1-2.4 1-9 1 17.3 1 2.1 1 0 1-2.2 1-3.9 1 2.2 1 1.1 1 .3 1 2.7 1-2 1 1.6 1-1.1 1-2.7 1 1.3 1 1.2 1 1.8 1-2.4 1-.3 1 3.3 1 1.9 1 .1 1-1.1 1-.5 1-1.2 1 .1 1 2 1-1.4 1-.1 1-1.8 1 .3 1 2.2 1-.3 1-.9 1-2.6 1 .7 1 3.4 1-.7 1-1.8 1-.3 1 1 1 1.3 1-.3 1-.2 1-1.3 1-2 1-.3 1 1.8 1 2.1 1-1.9 1-1.9 1 .1 1 3.2 1-.9 1-1.6 1 3 1-.2 1-.3 1-2.2 1 1.5 1 .9 1-3 1-.4 1 .7 1 .1 1 1 1 1.1 1 .1 1 .7 1-1.1 1-1.3 1 .4 1-.8 1-.4 1 1.1 1 1.3 1 1.5 1-1.1 1-.1 1 .5 1-.9 1 .4 1-.2 1-.9 1-.8 1 .8 1 1.2 1-.1 1-.1 1 .2 1-.5 1-.8 1 0 1 .3 1-.2 1-.2 1 .6 1 .2 1-.3 1-.4 1 .2 1 .3 1 .2 1 .1 1-.3 1 .2 1-.3 1 0 1-.2 1-.3 1 .6 1 .2 1-.3 1-.3 1 .1 1-.4 1 .3 1 .4 1-.4 1 .2 1 .4 1-.2 1-.1 1 .4 1 0 1-.5 1 .2 1 .2 1 .2 1-.4 1-.4 1-.2 1 0 1 .3 1-.1 1 0 1 .3 1 0 1-.4 1 .1 1 1 1 .8 1-.1 1-.9 1-.5 1-.4 1 .5 1 .4 1 .3 1 .1 1-.2 1 .2 1 .7 1 .8 1-1.3 1-.9 1 .3 1 .4 1-.5 1-.7 1 .8 1 .8 1-1 1-.8 1 1.4 1 1.4 1-1.7 1 0 1 1.5 1-.2 1-.8 1-.4 1-.4 1 1.5 1 1.2 1-1.5 1-.6 1 1.3 1-.1 1-.2 1-.1 1 .3 1-1.3 1-1 1 1.9 1 2.3 1-2.6 1-3.8 1-4.6 1 1.7 1-.4 1-4.3 1 3 1 1.7 1 .2 1 .3 1-1.5 1-6.1 1 .1 1 1.2 1-.6 1 1.9 1 1 1 2.7 1 .2 1 .5 1-1.9 1 1 1 .8 1 2.7 1-.8 1-6.5 1 6 1 4.4 1-2.5 1 0 1 1.9 1 .6 1-2.7 1 12.5 1-8.7 1-2.4 1-4.9 1 1.3 1 2.1 1 5.2 1-3.3 1 1.1 1-1.4 1-5 1 .7 1 .5 1-.6 1 1.1 1-.7 1-1.1 1 .6 1 .9 1 .1 1-2.5 1 1.4 1 2.1 1-3.5 1 3 1 1.8 1-1.3 1 3.7 1-.3 1-4.3 1-14.7 1 15.7 1-.8 1 .8 1 3.6 1-2.2 1-3.1 1 .6 1-1 1 3.2 1 1.2 1 .5 1-1.4 1-1.1 1-2.3 1-9.6 1 11.3 1 1.1 1-.8 1 3.8 1-.4 1-1.7 1 1.7 1-3.1 1-4.8 1-3.6 1 .1 1 4.1 1 3 1 4.2 1-.8 1-8.4 1-4.5 1 .4 1 7.1 1-1.8 1-3.5 1-1.3 1-.3 1 5.6 1 3.7 1-1.6 1-1.4 1-2.6 1-2.9 1 .9 1 4.2 1 4.4 1-3 1-2.1 1 3.3 1-4.5 1 4.2 1-1 1 .8 1 1 1-1.2 1 .2 1 3.6 1-4.4 1-2.9 1 6.5 1-2.8 1 1.9 1-4.4 1 2.6 1 1.5 1-2.7 1-.8 1-2.3 1-.7 1 4.9 1 0 1-.5 1-1.2 1-.9 1 .4 1-7.6 1-.1 1 3.6 1 6 1 2.7 1-3.7 1-3.3 1 0 1 3.3 1-.1 1-3.8 1 1.2 1 2 1 2.5 1-.5 1-5.7 1 6.8 1 4 1 1.2 1-2.2 1 2.5 1-.6 1-2.7 1 .9 1-.8 1 .7 1-.3 1-.5 1 .3 1 .2 1 .7 1-1.8 1-1.3 1 1.2 1-.2 1 1.2 1-1 1-2.9 1 7.9 1 0 1 0 1-2 1-.6 1-1.8 1-.4 1 1.7 1 .4 1 1.3 1-12 1-2.8 1 2.5 1 3.8 1 .6 1-1.7 1-1.9 1-.8 1 2 1 2.1 1-2.3 1-1.6 1 0 1 1.1 1-.4 1 10.3 1 2 1-1.9 1-2.2 1 1.5 1 .8 1 .2 1-1.3 1-.2 1 .6 1 .4 1 1.4 1-.9 1-1.2 1 .9 1 .2 1-.6 1 .3 1 1.9 1-.1 1-.7 1 .7 1-1 1-1.2 1 .6 1 .2 1-.4 1-.7 1-.2 1 1.1 1 3.8 1-4.2 1 .2 1-.1 1 .1 1-.2 1 0 1-.1 1-.4 1 .4 1 .7 1 0 1-.2 1 0 1 .2 1 .1 1-.4 1-.2 1 .3 1 .2 1 .1 1 .1 1-.3 1-.2 1 .2 1 .2 1 0 1 .1 1-.1 1-.4 1 .2 1 .1 1-.3 1-.1 1-.3 1 0 1 .6 1 0 1-.1 1-.1 1 0 1 .6 1 0 1-.1 1-.1 1 .1 1 .4 1 .4 1 0 1-.3 1 0 1-.4 1-.3 1 .3 1 .1 1 .2 1 0 1-.3 1-.2 1 .2 1 .1 1-.1 1-.1 1-.3 1 .1 1-.1 1-.3 1 .3 1 0 1-.3 1 .2 1 .6 1 .2 1-.2 1-.1 1-.3 1-.4 1 .1 1-.2 1-.2 1 .2 1 .2 1 .2 1-.1 1 .2 1 .3 1 .1 1-.2 1-.5 1 .2 1-.2 1-.5 1 0 1 .4 1 .2 1-.2 1-.2 1 .1 1 0 1-.1 1-.1 1 .2 1 .1 1 .1 1 .2 1 .4 1 .4 1-.2 1-.5 1-.6 1-.3 1 .6 1 .3 1-.1 1 .1 1-1.1 1-.2 1-.7 1-.2 1 .9 1-.1 1 .3 1 .1 1-1.3 1 .5 1 0 1-.2 1 1.1 1-.2 1-1 1 .5 1 .6 1 1.6 1-.3 1-2.3 1 2.3 1 1.8 1-.8 1 .4 1 .3 1-1.1 1-.7 1 .5 1-1.2 1-.2 1 .9 1-2.1 1-.7 1 1.9 1 .2 1-.5 1-.5 1-.4 1 .4 1-.4 1-.3 1 .3 1 .4 1-2.7 1-.8 1 1.7 1-1 1-.2 1 .9 1 .4 1-2.4 1 .3 1 3.8 1-.4 1-2 1 1.3 1-6 1 5.2 1 4.3 1-.1 1-6.7 1 .5 1 2.6 1-.7 1-.9 1-.8 1 .6 1 .5 1 2.8 1-2.5 1-3.5 1 .1 1 0 1 3.6 1 .2 1-1 1-.5 1 .9 1-3.1 1 2.4 1 .1 1 .4 1-1.4 1-2.2 1-.6 1-8 1-1.9 1 .3 1-1.5 1-1 1 1 1 2.3 1 .7 1 7.9 1-1.1 1-3.7 1-.1 1 2.5 1-1.9 1-2.3 1 10.9 1 5.9 1-3.6 1-5.7 1 .5 1 5.1 1 1.3 1 .2 1-.6 1-2.1 1-.1 1-1.8 1-3.1 1 8.2 1-5.2 1-.4 1-.5 1 1.1 1-1 1 1 1 1.1 1-1.9 1-1.2 1 1.6 1 1.3 1 4.4 1 1.2 1-6.1 1-2.8 1 .8 1 2.4 1-7.2 1-.9 1 5.4 1-1.1 1-.1 1 2.3 1 2.9 1 .9 1-3.6 1-3.8 1-1.8 1 2.1 1 1.3 1-2.7 1-5.9 1 7.4 1-2.9 1-1.1 1 4.3 1 0 1-3.1 1-.9 1 1.8 1-.6 1 4.7 1 3.4 1-4.6 1-1 1-.8 1 7.8 1 2.4 1-9.4 1-4.6 1-4.3 1 4.4 1 .1 1 1.2 1-24.8 1 19.8 1-14 1 .1 1-4.5 1 3.2 1 .8 1-6.1 1 2.2 1 12.1 1-6.3 1 4.1 1 .9 1 .3 1 2.4 1 2.6 1-2 1 20.7 1 1.9 1 .2 1 4.8 1-3.1 1-6.1 1-1 1 3.2 1-1.6 1-1.2 1 2.8 1-1.2 1 .3 1-3.4 1-2.9 1 3.8 1 1.6 1-8.3 1-3.7 1 2.6 1 2.8 1-1.5 1 1.7 1-1.5 1-1 1 4 1-1.3 1 1.3 1 1.3 1-1.6 1 1.9 1 1.1 1 4.9 1 1.7 1-.5 1-4 1-.2 1 .4 1 2 1 .7 1-1.9 1-1.3 1-1.6 1-.3 1 .1 1-.5 1-.7 1 .8 1-5.1 1 7.6 1 4.1 1-3.7 1 .2 1 2.3 1-1.3 1-1.2 1 .7 1 2.6 1-3.7 1-.7 1 3.7 1-1.2 1-.1 1 1.3 1 .8 1 .1 1-1.7 1 .3 1-1.1 1-.5 1-1.9 1-.7 1 2.1 1 1.2 1 .1 1 .5 1 .1 1-.3 1 .2 1 1.6 1-.8 1-1.1 1-1.7 1 .2 1 1.1 1 .1 1-.1 1-3.1 1 2.6 1 1.6 1 1.4 1-2.9 1-.4 1 2.4 1 .7 1 .5 1-.1 1 .2 1-.5 1-1 1 .2 1 .4 1-.1 1-1.1 1 .2 1 1.5 1-.7 1 0 1-2.6 1 2.1 1 .3 1-.4 1 .2 1 .5 1-.1 1 0 1-.2 1 .1 1 .1 1 .1 1-.1 1 .2 1 0 1 0 1 .7 1-.6 1-.2 1 10.8 1-11 1 .2 1 .1 1-.4 1 0 1 1.4 1 .3 1-.2 1-1.9 1-.2 1 1.5 1-2.3 1 3.3 1-.8 1 .6 1-.1 1-.6 1-.3 1 .2 1-1.6 1-.3 1-2.7 1-.7 1-1.3 1 1.7 1 .7 1-1.5 1-3.1 1 1.5 1-8.3 1-1 1 1.4 1 0 1 .6 1-1.3 1-3.5 1 2.1 1 .8 1 .3 1 1.5 1 1.5 1 1.5 1 1.8 1-4.3 1 8.7 1 2.2 1-1.8 1 1.5 1 .9 1 2.2 1-16.5 1 17.1 1-2.2 1-2 1 .4 1 1.3 1 1.8 1-.2 1-2.7 1-.6 1 2.9 1-1.4 1 .5 1-.4 1-.3 1-.2 1 0 1-1.3 1-3 1 3.1 1 2 1-1.6 1-.1 1-3.1 1 .5 1 1.2 1-.8 1 .7 1-.7 1-3.2 1 7.1 1-1.9 1-2.2 1-1.9 1 1.4 1 2.7 1 1.8 1 1.5 1-.9 1-1.1 1-.2 1 3.8 1 1.3 1-3.9 1-.9 1 .4 1 .7 1 .5 1-.6 1 .4 1-1.1 1-1.7 1 0 1-29.8 1 29.8 1-.6 1-11.3 1-1.5 1 .3 1 1.4 1-2 1-.2 1-3.4 1-1.8 1-.9 1-2.9 1 1.4 1 1.3 1 3.4 1 .8 1-1.5 1 5 1 2.2 1 5.8 1 2.5 1-1.5 1-.3 1 2.1 1 1.9 1 3.2 1-4.3 1-4.5 1 5.7 1 2.3 1-2.6 1-4.9 1-.3 1 .8 1 1.6 1-2.2 1 2.4 1-2.7 1-.4 1 3 1 4.9 1-2.4 1-5.1 1 .2 1-1.6 1 1.3 1 8.4 1-2.9 1-5.2 1 2 1-7.8 1 12.1 1-1.9 1 1.9 1-5.8 1-6.6 1 2.9 1 4.9 1 4.2 1-3.5 1-1.1 1 1.6 1-4.9 1 3.3 1-6.2 1-2.6 1 5.9 1-4.3 1-2.3 1 6.5 1-.4 1 .1 1 1.7 1-1.3 1-1.6 1 .9 1-.6 1-3.7 1-.2 1 14 1-1.9 1-3.2 1 2.4 1-.3 1 1.1 1-2.4 1-4.4 1 2.6 1-1.7 1 .2 1 .3 1-1.3 1 1.9 1 1.5 1 2.5 1 1.2 1-7.9 1 3 1 4.1 1-1.6 1 2.9 1 5.9 1 2.1 1-3 1-3.5 1-1.8 1-3.4 1 1.4 1 3.7 1-2 1-2.1 1 3.9 1-3.1 1-3.6 1 .9 1 1.1 1 3.1 1-1.2 1-.6 1-11.6 1-.1 1 5 1-8.1 1 2.7 1 1.4 1 .7 1 0 1 2.6 1-1.4 1 .9 1 2.3 1-1.4 1 .7 1 15.9 1-5.2 1-.4 1 .3 1-.1 1 .9 1-.1 1-2.1 1-.5 1 2.5 1 .4 1 .3 1 0 1-1.5 1-30.4 1 25.9 1 13.3 1-10.5 1 .4 1 1.1 1-1.4 1-1.2 1 1.9 1 .9 1-1.7 1-2.1 1-.7 1 1.5 1 .9 1 1.5 1 2.3 1-3.6 1-2.3 1 1.8 1 1.2 1-2.6 1-.2 1 3.2 1-11.9 1 1.7 1 1.6 1-.4 1-1.1 1 .4 1-5.1 1 3.7 1-.8 1 1.1 1 .8 1 0 1 .5 1 .3 1-1.6 1 8.3 1 0 1 1 1-.9 1 .7 1 0 1 .6 1 0 1-.1 1 1.2 1-1 1-.1 1 1.1 1-1.1 1 .9 1 1.2 1 0 1 4.4 1-3.8 1-1.2 1-.1 1 .4 1 .5 1-.8 1 .3 1-.5 1-.5 1 .6 1 .3 1 0 1 .3 1 .1 1-.1 1-.4 1 .1 1 .7 1 1.4 1-2.9 1 .4 1-.1 1 .2 1 0 1 0 1 .3 1 .2 1 0 1-.1 1-.1 1-.1 1 .3 1-.2 1-.2 1 .3 1-.4 1-.4 1-.3 1-.1 1 .2 1-.4 1 .4 1 .3 1 0 1 0 1 0 1 .1 1-.1 1 .2 1 0 1-.3 1-.5 1 .3 1 .2 1 .3 1 .1 1-.3 1 .3 1 0 1-.4 1 .3 1 .4 1-.2 1 .1 1 .6 1 0 1-.1 1-.1 1 0 1 .3 1 .2 1-.2 1-.1 1-.6 1-.1 1 .4 1 .2 1-.1 1-.2 1 .1 1 .1 1 .1 1 .5 1 .5 1 .3 1-.3 1-.3 1-.2 1-.3 1 .3 1 .8 1-.5 1-.4 1 .4 1 .2 1 .8 1 .1 1-1.2 1-.8 1-.4 1-.5 1 .8 1 1.2 1 .1 1-1.2 1-1 1-1.2 1-.8 1 .9 1 1.4 1 .9 1 .2 1-2.9 1 3.5 1-1.1 1 1 1-.4 1-.4 1 .7 1-.6 1-1.3 1 .4 1-1 1-1 1 1.3 1 1.8 1 1.3 1-1.5 1-1.2 1-.8 1 0 1 .6 1 .1 1 .8 1-1.9 1 .1 1 1.7 1-.6 1-3 1 1.4 1 2 1 .7 1 1.4 1-2.3 1-1 1-.8 1 2.1 1 1.6 1-1.2 1-1.5 1 .1 1 .8 1 .8 1-.9 1-.4 1 .7 1-2.1 1-2.2 1 .7 1 .7 1-.5 1-2.1 1 .6 1 3.1 1 .6 1-1.1 1 1 1 .5 1 .1 1 .3 1-2.3 1-4.3 1 12.8 1-13.2 1-1.5 1-2.4 1 1.1 1 4.8 1-1.8 1-4.8 1-3.1 1-.1 1 1 1 .7 1-1.1 1 1.3 1 6.2 1 6 1-6.7 1-.3 1 1.1 1-1.4 1-4.1 1 .7 1 .5 1 .3 1-2.6 1 .2 1 2.5 1-1.6 1-.9 1-1.7 1 .6 1 5.3 1 .8 1 4.8 1-4.2 1 .9 1 2.1 1 1.4 1-1.6 1-.1 1 .1 1 5.1 1 .1 1-3.6 1-3.5 1-.6 1 .1 1 1.4 1 2.3 1-2.8 1-2.9 1 1.7 1-2.6 1 2.9 1 3.5 1 1.6 1-6.6 1-3.8 1 5.8 1-.9 1-4.7 1 .5 1 2.6 1 1.3 1-4.5 1 3.6 1 3.5 1-2.6 1-6.1 1 1.9 1 4.8 1 1.5 1-.7 1 3.4 1-3.8 1-1.5 1 2.7 1-1.5 1-3.7 1-.2 1 2.3 1 1.3 1-1.4 1-15.3 1 22.1 1-.7 1 .8 1 .4 1-10.3 1 10.2 1-2.6 1-5.4 1 2.1 1 1 1 .9 1-3.3 1 1.3 1 5.1 1-1.2 1-3.7 1-.3 1 3.9 1-6.4 1-6.8 1 7 1-3.6 1-12.9 1 16 1 .4 1-1.8 1-.1 1-.8 1-2.4 1 .5 1-3.3 1 8 1 2 1 5.6 1-3.3 1-.7 1-.4 1 5.4 1 .1 1-2.4 1-1.7 1 .1 1 .5 1-.2 1-1.3 1-.5 1 2.4 1-1.2 1-2.2 1 2.9 1 2.4 1 2.8 1-1.5 1-4.1 1 2.6 1 1.7 1 1.5 1-.5 1 .4 1 1.7 1 1.4 1-2.2 1 .7 1-.5 1-1.6 1 1.1 1 .7 1-1.1 1 .7 1 3.9 1-4.2 1-.6 1 1.4 1 1.8 1-1.3 1-.1 1-.5 1-1.1 1-.5 1-1.7 1 1.9 1 .5 1-2.2 1-.6 1 1 1 2.3 1 .9 1-.8 1-1.5 1-.4 1 .7 1-.4 1 0 1 .7 1 .5 1 0 1-1.1 1-.9 1 1.1 1 .2 1-.7 1 1.3 1 1.3 1-1.3 1 0 1-.8 1-.1 1 .6 1 .9 1-1.5 1-1.1 1 1.8 1 .9 1-.4 1-.9 1-.4 1 .6 1 .1 1 1.4 1-.4 1-1.1 1-.1 1 .1 1-.1 1 .2 1-.3 1-.3 1-.2 1 0 1 .4 1 .3 1-.6 1 0 1 0 1-.5 1 .2 1 1 1 .6 1-.4 1-.5 1 .4 1 .5 1-.3 1-.1 1-.3 1-.1 1 .1 1-.1 1 0 1 0 1 .2 1 0 1 .2 1 .2 1 .3 1-.4 1-.4 1 .4 1 .5 1 .1 1-.5 1-.6 1-.2 1 .3 1-.1 1-.3 1 .5 1 .4 1-.6 1-.3 1-.1 1 .7 1 0 1-.3 1 .2 1 .6 1-.1 1-.5 1 0 1 .2 1 .4 1-.3 1 0 1 .1 1-.5 1 0 1-.2 1-.4 1 .3 1 .5 1-.1 1-.2 1-.2 1-.3 1 0 1 .1 1 .1 1-.6 1 .2 1 1.6 1 .1 1 .1 1 .6 1-.9 1-.3 1-.8 1 0 1 1.4 1 .1 1-1.2 1-.4 1 1.9 1-.5 1-.2 1 0 1-.9 1-.3 1-1.5 1-.7 1 2 1-5.1 1 4.9 1-7 1 2.6 1-.4 1-1 1 1 1-2.1 1 0 1 .4 1 .6 1 .7 1 .4 1 1.4 1-.6 1-5 1-.1 1 8 1 .3 1-.3 1-.7 1-.5 1 .9 1 1.9 1-2.3 1-.1 1 1 1 .5 1 .1 1-2.1 1 .4 1 .1 1 .1 1 4 1-2.4 1-3.1 1-3 1 2.1 1-.7 1-1.9 1 4 1-3.6 1-4.9 1-.1 1 4 1 0 1-4.1 1-1.4 1 .1 1-.2 1 1.2 1 .3 1-2.4 1-3 1 5.3 1 4.9 1 2.2 1-6.4 1-.7 1-1.8 1 1.2 1 1.2 1 1.6 1 .3 1-3.3 1 2.8 1 5.9 1-5.7 1 5.5 1-4.4 1-4.6 1-1.5 1 3.6 1-.9 1-2.5 1 4.2 1 3.8 1-2.8 1-9.3 1 8.4 1-3.4 1 2.6 1 1.5 1 1.9 1 1.5 1-2.6 1 1.8 1-3.1 1-.6 1 8.5 1-.8 1-5.1 1 2 1-1.7 1 .7 1 6.1 1-2.2 1-.2 1 3.8 1-.7 1-1.5 1-3 1-.5 1 5.4 1 .5 1-3.4 1-.5 1-.7 1 2.7 1-3.8 1-.4 1-5.9 1-2.1 1 3.1 1-3.4 1-1 1 3 1-2 1-.9 1-2 1 2.3 1-1 1-2.4 1 1.1 1 5.6 1-1.5 1-1.1 1 .6 1 5.5 1 3.1 1-4.9 1-2.3 1-2.1 1 2.3 1-1.4 1-3.2 1 6.2 1-2.5 1-2.5 1-2 1 2.3 1 3.4 1-2.2 1 .6 1 2.1 1 .3 1 0 1-.1 1-2.6 1 3.9 1-4.7 1 .3 1 1.8 1 1.2 1 2 1-1.8 1-.7 1 .1 1-.5 1 2.4 1-2.1 1-.5 1 2.8 1-.2 1-2.6 1 10.5 1 1.3 1 1.1 1-.6 1-2.5 1 1.9 1-.2 1-2.5 1-.3 1 1.6 1 2.8 1-2.9 1 1 1 2 1-2.7 1-.5 1 .4 1 1 1 .2 1 .5 1-1 1-2.3 1-1.4 1 2.3 1 6.6 1-1.9 1-8.2 1-.9 1 3.7 1-1.6 1 .4 1 1.4 1-1.3 1-.2 1-.1 1-2.3 1-2.2 1 1.7 1 4.8 1 1.6 1-3.4 1 2.2 1 1.4 1 .8 1-3.3 1-1.4 1 3.1 1 .3 1-1.2 1-1.2 1 1.6 1 1.3 1-1.7 1-.1 1-1.5 1-.4 1 1.8 1 2.9 1 .9 1-3.8 1-2.1 1 .7 1 1 1 1.1 1 1.3 1 .1 1-.5 1-.3 1 1.7 1-.9 1-.5 1 1.7 1 0 1-1.2 1-.1 1-.2 1 0 1-.1 1 .1 1 .1 1 .3 1 .2 1-.1 1 .8 1-.5 1 .1 1 .5 1-.1 1 .2 1-.1 1 .3 1 0 1-.1 1-.2 1 .2 1 0 1 .1 1 .2 1 .1 1-.1 1 0 1-2.2 1 2.1 1 .3 1 .3 1 .2 1-.6 1-.1 1 .4 1-.6 1-.1 1 .3 1 .2 1 .1 1-.2 1-.3 1-.3 1 0 1 .3 1 .2 1-.2 1-.3 1-.3 1 0 1 .3 1-.2 1-.1 1-.1 1 .1 1 .3 1 .3 1 .1 1-.4 1 0 1-.2 1-.2 1 0 1 .4 1-.2 1-.6 1 1.1 1 .2 1 0 1 0 1-.4 1 .1 1-.6 1-.8 1 0 1 .8 1-.6 1-.1 1 .6 1-.6 1-.1 1 .4 1 .2 1-.6 1-.5 1 .6 1 1.2 1-.7 1-1 1-.1 1-.1 1 1 1 .6 1-11.7 1 11.7 1 .5 1-.3 1-5.8 1 4.5 1-.2 1-.3 1-.9 1-.7 1 1.4 1 .1 1-.6 1 .7 1-.1 1-1.4 1 .6 1 1.5 1-2 1-2.8 1 1.1 1 1.7 1 .7 1 .6 1 1.4 1-3.1 1-1.7 1 1 1-1.5 1-.1 1 .6 1 2 1-.2 1-1.5 1 .6 1-1.2 1 .1 1 1.8 1 .3 1-2 1 0 1-.1 1-1.4 1 1 1 4 1 2.6 1-4.4 1-1 1-1.9 1 .9 1 3 1 15.9 1-14.3 1-.7 1 .2 1-4.9 1-3.5 1 2 1 7.7 1-1.7 1-3.2 1 3 1-3.3 1-2.8 1-.4 1-6.7 1 6.5 1 1.9 1 2 1-1 1 2.2 1 2.3 1 2.7 1-1 1-.4 1 1.1 1-.5 1-3.6 1-1.5 1 2 1-10.1 1 7 1-8.9 1-1.9 1-.3 1 4 1-.1 1 1.2 1-.3 1-1.8 1 6.6 1-3.3 1-2.3 1 1.2 1 .4 1 1.2 1-2.6 1 5.5 1 .7 1 7.4 1-.1 1-2.5 1-2.6 1-1 1-.6 1 2 1-2.3 1 1.9 1 .2 1 2.8 1 2.1 1-6 1-6.4 1 5.1 1 1.8 1-5.8 1 3.9 1 4.6 1-.3 1-.9 1-2.4 1 .5 1 .7 1-3.3 1 1.6 1-2.3 1-1.3 1 5.4 1-1.4 1-4.1 1 8 1-9.2 1-.4 1 .8 1-.1 1-1.2 1 4.7 1 1.8 1-2.3 1 .4 1 2.1 1-3.4 1-3 1 0 1-4.9 1 4.9 1 .7 1-.7 1 .8 1-1.2 1-11.6 1 1.5 1 .8 1-1.2 1 7.3 1 .3 1 .4 1-2.5 1-.8 1 4 1 .9 1-.1 1-.6 1-12.5 1 8.2 1-.3 1 8 1 1 1 2.5 1 .2 1-.2 1 .6 1 1.9 1-.8 1-3.5 1 2.3 1-.2 1-1.3 1-.6 1 3.9 1 3.4 1-7.5 1-15.8 1 14.9 1 3.6 1 4.5 1-2.7 1-.3 1 1.5 1-1.2 1-3 1 .8 1 2.2 1 1 1 1.5 1-2.7 1 .7 1 2 1 2.6 1 0 1-3.1 1-1.3 1-.6 1-1 1 .5 1 1.1 1 2.4 1 1.1 1 .6 1 1.2 1-1.7 1-.6 1 3.1 1-1.6 1-1.2 1 1 1-1.8 1 .3 1-2.4 1-1.4 1 3.7 1-3.1 1-2.2 1 2.2 1-1.2 1 1.5 1 3.1 1 2.8 1-3.9 1-.5 1 1.3 1 .9 1-4.3 1-2.7 1-.3 1 1 1 .1 1-.2 1-1.3 1-1.3 1 1.1 1 1 1 1 1-.4 1-1.5 1-1 1-.1 1 6.3 1 1.8 1-.2 1-.9 1-.4 1-4.8 1-1.1 1 1.4 1 .3 1 .8 1 .5 1-4.9 1 3.6 1-.3 1 .3 1 .6 1 .8 1-8.8 1 8 1 1.7 1 5.6 1-.1 1-.1 1 .4 1-1.3 1-.2 1 .8 1-.7 1 .3 1-.4 1-1 1 1.6 1-.2 1-1.3 1-.1 1 .4 1 .7 1 .4 1-.5 1-.4 1-.4 1 .2 1 .4 1-1.1 1 .1 1 .1 1 .3 1 .3 1-.3 1 .1 1-.2 1-.5 1-.2 1 .1 1 .2 1 .3 1-.2 1-.4 1 .3 1 .4 1-.2 1-.2 1 .3 1 .4 1-.2 1-.4 1-.2 1 .1 1 .1 1-.1 1 .1 1-.3 1 .1 1 .3 1 .1 1 .2 1 .2 1-.4 1 .1 1 .1 1-.2 1-.2 1 .2 1-.1 1 .4 1 0 1-.6 1 .1 1 .4 1 0 1 .4 1-.2 1-.2 1 0 1 0 1 .3 1-.1 1-.1 1 .1 1-.1 1 .2 1 .5 1-.2 1-.5 1-.1 1 0 1 .2 1 .5 1-.1 1-.5 1 .1 1 .3 1 .1 1 .4 1-.1 1-.8 1 0 1 .2 1-.2 1 .3 1 1 1-.5 1-.7 1-.1 1-.2 1-.7 1-.6 1 .2 1 1.4 1-1.1 1-1.8 1 1.3 1 .2 1 1 1 .2 1 1.4 1-.5 1-1.2 1-.8 1-.9 1 1 1-.1 1 1.2 1 .4 1-1.2 1 .2 1 .8 1-.1 1-.2 1 0 1-.8 1-1.3 1 1 1 .5 1 .7 1 .4 1-.9 1-.1 1 2.1 1 1 1-.8 1-3.4 1-2.5 1 1.4 1 1.8 1 .8 1-.6 1-1.7 1 1.6 1 1.3 1 1.1 1 .1 1-1.4 1 0 1-2.1 1 .6 1 1.6 1-.5 1 2.1 1-3 1-1.7 1 1.4 1 1.4 1-2.3 1-1.2 1 1 1 1.8 1-1.3 1 .6 1 2.4 1-1.6 1-1 1 2.4 1-2.4 1-2.6 1 3.3 1 1.3 1-.2 1 .1 1-2.3 1 .7 1 1.2 1 1 1-.4 1-3.7 1-2.2 1-1.1 1 3.8 1 .9 1-2.6 1 1 1 3.1 1-1.5 1-.4 1 2.1 1 0 1-4.1 1 .8 1 .9 1-3 1 3.4 1-3.8 1 1.2 1-3.1 1-4.2 1 4.3 1 3 1-2.8 1-2.3 1-3.3 1 2.1 1 2.8 1-2 1-17.3 1 9.7 1 2 1 4.7 1-6 1 4.6 1-4.6 1-.8 1-.1 1-1.8 1 .4 1 3.6 1-3.3 1-4.2 1-2.1 1 10.3 1-5 1 6.1 1 .1 1-28.4 1 27.6 1-1.1 1 5.4 1-3.6 1 1.3 1 3.4 1-2 1-1.2 1-.5 1 .5 1-9.8 1 2.8 1 4.1 1 5.5 1-3 1-3 1 5.6 1-2.7 1-7.5 1 1.8 1 2.2 1 1.3 1-3.8 1-.1 1 2.1 1-1.4 1 .2 1 5.2 1-.7 1-3.5 1-1 1 2.9 1 5.8 1 6.4 1 1.3 1-1.5 1-1.5 1-5.2 1 .4 1-.8 1-1.2 1 2.6 1-.7 1-6.3 1 1.7 1 2.9 1-.1 1 4.4 1-.6 1-2.4 1 4.6 1 2.8 1 2.8 1-4.4 1 2.1 1 2.8 1-2.4 1-1 1 2.5 1 1.6 1-1.6 1 .8 1-3.5 1-3.7 1 1.7 1 1.7 1-5.3 1-.3 1 .6 1-.1 1-1 1-.7 1 .3 1-.2 1 2.3 1-3.8 1 .8 1 6.3 1-2 1-3.7 1-2.7 1 8.8 1 1.2 1-4.3 1 .3 1 3.6 1-2.5 1-3.2 1 1 1-.8 1-1.3 1-.6 1-11.3 1 5.5 1 10.4 1-2 1 2.2 1-1.5 1 .6 1 .5 1-.4 1 3.6 1-2.7 1-2.2 1 0 1-.2 1 1.8 1 3.3 1-2.8 1 1.8 1 1.4 1-1.4 1 .5 1-.5 1-.6 1-.1 1 2 1 2.1 1-2.3 1-.4 1 .6 1 1.6 1-.2 1-2.4 1 1.2 1 .6 1-.1 1 .6 1 2 1-.7 1-2 1 .4 1-1.3 1-.7 1-1 1 1 1-.1 1 .4 1 .4 1-.6 1-.3 1 .9 1 .5 1-.3 1-.4 1 16 1-16.2 1 2.5 1 .1 1 1.1 1-.2 1-.3 1 .5 1-1.6 1-.5 1 1.1 1-.6 1 .7 1 1 1-1.3 1-.4 1 1.3 1-.1 1 .6 1 .3 1-.7 1-.5 1-.5 1 .2 1 0 1 0 1 .7 1-.3 1-.4 1-.2 1 .1 1 2.1 1-2.3 1 .4 1 .1 1-.2 1 .4 1 0 1-.2 1 .3 1-.3 1-.2 1 .1 1-.4 1 .3 1 .6 1-.1 1 .1 1 .2 1-.2 1 0 1 .1 1 .3 1-.2 1 .6 1 .2 1-.8 1 .2 1 0 1-.2 1 .3 1 .1 1-.3 1-.3 1 0 1 .3 1 .2 1-.4 1 0 1 .2 1 .2 1 0 1-.1 1 .1 1-.1 1-.8 1-.2 1 .2 1 .1 1 .1 1-.3 1 .6 1 .2 1 .3 1 .2 1-1.6 1 .2 1 .3 1 .9 1-.1 1-1.5 1 .7 1 .3 1 0 1 0 1-.2 1-.2 1-1.9 1 .2 1 1.8 1-6.4 1 5.3 1-.5 1 1 1 1.1 1 .1 1-.5 1-.5 1 .6 1-.5 1-1.2 1-.4 1 1.3 1 1.7 1-3.8 1-1 1 2.5 1 1.1 1-.2 1 .9 1-1.7 1-1.5 1 2.8 1-.9 1-2.1 1 .1 1 3.7 1 .9 1-1.9 1-.5 1-.1 1-2.1 1 .1 1 .1 1 1.2 1-.8 1-1.2 1-1.7 1-1.7 1-.1 1 2.7 1-.9 1-2.8 1 .7 1 1.4 1-8.5 1 6.4 1 1.7 1 2.1 1-2.8 1 1 1 .2 1 1.4 1 2.2 1 .4 1-1.5 1 1.6 1 .5 1-.2 1 1.7 1-.3 1-1.4 1 2.9 1 1.3 1-2 1-.3 1 .7 1-.3 1-12.7 1 7.7 1 4 1-.7 1-5.8 1-1.1 1 2.5 1-30 1 31.3 1-.3 1 3.1 1-11.5 1 9 1 3 1 0 1-.3 1-7.4 1 4.5 1-.1 1 2.1 1 1.6 1-2 1 1.6 1 2.6 1-12.7 1 7.2 1-1.9 1 .2 1-2 1-1.3 1 2.7 1 2.6 1-2.2 1 1.7 1 .9 1-6.7 1 1.8 1 2.7 1-.9 1 1.3 1-1.2 1-.4 1 1.8 1 2.1 1-.7 1-6.1 1 .2 1-.1 1-.2 1 4.2 1-.3 1-2.7 1-1.6 1 3.9 1 .4 1-6.3 1 2.1 1 3.3 1-2.1 1-2.1 1 8.6 1 1.8 1-2.9 1-.8 1-5.5 1-3.8 1 4.7 1 .3 1 .9 1-2 1 1.2 1 4.8 1 2.1 1-1.2 1 1.2 1 0 1-10.7 1 4.9 1-.8 1 5.4 1-3.2 1-2 1 3.3 1 3.5 1 1.3 1 10.9 1-19.1 1 1.3 1 2.3 1 1.6 1-1.2 1-.6 1 2.3 1-7.2 1-.8 1-7.2 1 2.1 1-.7 1 .3 1-2.8 1-3.2 1 2.2 1 3.7 1-.2 1-4 1 3.2 1 3.3 1-2.8 1 6.4 1-5 1 5.9 1 6 1 2.2 1-4.5 1-.9 1 3.9 1 .3 1 1.5 1 4.2 1 1.5 1-2.6 1-2.5 1-1.6 1-4 1 1.5 1-1.7 1-2.4 1 1.7 1 1.8 1 0 1-2.1 1-1 1-38.7 1 40.8 1-.2 1-.2 1-.5 1-1.9 1-16.8 1 4.4 1 1.6 1-1.6 1-.9 1 3.1 1 2.4 1-3.2 1-1.8 1-.5 1-1.1 1 2.9 1 1.4 1 .2 1-.4 1 15.8 1 .7 1 1.1 1-.7 1 .7 1 .4 1 .3 1-.9 1 .5 1-.1 1-.5 1 1.6 1 1.4 1-2.3 1 .4 1 .8 1-5.2 1 .4 1 2.8 1 .5 1-.2 1-1.9 1 .5 1-.1 1 1.3 1 .5 1 .4 1-.5 1 .4 1 .3 1-2.5 1-.5 1 2.2 1 1.3 1 .6 1-.1 1 .4 1-1.2 1-.5 1-1.8 1 .3 1-.2 1-2.3 1 .3 1 1.1 1 1.4 1 .4 1-.3 1-.6 1-.4 1 .4 1 0 1 2.8 1 0 1-.4 1-1.2 1 .2 1 1.4 1 .4 1 0 1 .4 1-.2 1-.1 1 .2 1-.4 1-.7 1 .1 1 .1 1-.4 1 .7 1 .3 1-.1 1-.3 1-.4 1 .2 1-.2 1 .3 1 0 1-.2 1 .1 1 .1 1 .3 1 0 1-.5 1-.5 1-.1 1 .1 1 .1 1-.1 1 .1 1 .3 1-.3 1-.3 1 .3 1 .1 1-.3 1 .2 1 .2 1 0 1 0 1 .4 1 .2 1-.2 1-.6 1-.1 1 0 1 .1 1-.1 1 .5 1 1.5 1-1.5 1-1.5 1 .5 1-.2 1-.1 1 .8 1-2 1-6.6 1 8.2 1 .3 1-.2 1-1.8 1-3 1 .2 1 1 1-.1 1 .3 1-.8 1 2.5 1-2.5 1-1.1 1-17 1 18.4 1-2.6 1-.1 1 2.5 1 3.9 1-3.6 1-3.8 1 1.9 1 1.1 1-1.8 1-3.9 1 7.4 1-.5 1-.6 1-.2 1-2.1 1-2.1 1 1 1 .8 1 2.5 1 .1 1-4.5 1 0 1 4 1 1.2 1-3.9 1 .9 1 1.5 1-2.7 1-3 1 2.1 1 4.9 1-3.2 1-3.4 1 3.2 1 2.9 1-1.4 1 .8 1 .6 1 .1 1 3.9 1 .3 1-3.4 1-50.7 1 51.4 1 0 1 .6 1-2.9 1-9.4 1 15 1 2.6 1-2.8 1-2.4 1-.1 1-2.4 1 .3 1 2.4 1 .5 1-2.6 1 1 1 2.4 1 .4 1 .7 1 .5 1 0 1-.5 1-.3 1 .3 1 .6 1-.4 1-1.2 1-.2 1 1.6 1 0 1-.8 1 0 1 0 1-.1 1-.1 1-.4 1-.1 1 .3 1 .4 1-.3 1 .2 1 .4 1-.2 1 0 1 .2 1-.2 1-.1" transform="translate(30.45,321.40) scale(0.024879,0.460000)" fill="none" stroke="#F85218" stroke-width="0.25" vector-effect="non-scaling-stroke" stroke-linejoin="round"/></g>
<rect x="30.45" y="206.4" width="174.15" height="138" fill="none" stroke="#8a8a8a" stroke-width="0.9"/>
<path d="M30.45 344.4v-1.6M30.45 206.4v1.6M55.33 344.4v-1.6M55.33 206.4v1.6M80.21 344.4v-1.6M80.21 206.4v1.6M105.09 344.4v-1.6M105.09 206.4v1.6M129.96 344.4v-1.6M129.96 206.4v1.6M154.84 344.4v-1.6M154.84 206.4v1.6M179.72 344.4v-1.6M179.72 206.4v1.6M204.6 344.4v-1.6M204.6 206.4v1.6M30.45 344.4h1.6M204.6 344.4h-1.6M30.45 321.4h1.6M204.6 321.4h-1.6M30.45 298.4h1.6M204.6 298.4h-1.6M30.45 275.4h1.6M204.6 275.4h-1.6M30.45 252.4h1.6M204.6 252.4h-1.6M30.45 229.4h1.6M204.6 229.4h-1.6M30.45 206.4h1.6M204.6 206.4h-1.6" stroke="#8a8a8a" stroke-width="0.7" fill="none"/>
<g font-size="5.45" fill="#262626" stroke="#262626" stroke-width="0.12"><text x="30.45" y="352" text-anchor="middle">0</text><text x="55.33" y="352" text-anchor="middle">1000</text><text x="80.21" y="352" text-anchor="middle">2000</text><text x="105.09" y="352" text-anchor="middle">3000</text><text x="129.96" y="352" text-anchor="middle">4000</text><text x="154.84" y="352" text-anchor="middle">5000</text><text x="179.72" y="352" text-anchor="middle">6000</text><text x="204.6" y="352" text-anchor="middle">7000</text><text x="27.95" y="346.6" text-anchor="end">-50</text><text x="27.95" y="323.6" text-anchor="end">0</text><text x="27.95" y="300.6" text-anchor="end">50</text><text x="27.95" y="277.6" text-anchor="end">100</text><text x="27.95" y="254.6" text-anchor="end">150</text><text x="27.95" y="231.6" text-anchor="end">200</text><text x="27.95" y="208.6" text-anchor="end">250</text></g>
<text x="117.52" y="360.4" text-anchor="middle" font-size="5.95" fill="#262626" stroke="#262626" stroke-width="0.12">Number of days</text>
<text transform="translate(16.37,275.3) rotate(-90)" text-anchor="middle" font-size="6.24" fill="#262626" stroke="#262626" stroke-width="0.12">Rainfall(kg/m2)</text>
<rect x="134.2" y="229.0" width="53.3" height="13.8" fill="#fff" stroke="#a8a8a8" stroke-width="0.6"/>
<path d="M136.1 233.54h15.2" stroke="#86CFF2" stroke-width="1.2"/>
<path d="M136.1 240.03h15.2" stroke="#F7B89A" stroke-width="1.2"/>
<g font-size="4.85" fill="#262626" stroke="#262626" stroke-width="0.08"><text x="153.4" y="235.24">NASA data</text><text x="153.4" y="241.73">ANN prediction</text></g>
<text x="2.9" y="183.4" style="font-family:'Liberation Serif',serif" font-weight="bold" font-size="12" fill="#000">(c)</text>
<clipPath id="clip_d"><rect x="255.4" y="206.4" width="174.6" height="137.9"/></clipPath>
<g clip-path="url(#clip_d)"><use href="#nasa" transform="translate(255.40,304.90) scale(0.024943,0.394000)" stroke="#45B6EE" stroke-width="0.3"/><use href="#nasa" transform="translate(255.40,304.90) scale(0.024943,0.394000)" stroke="#1272CB" stroke-width="0.17"/><path d="M0 -1.0l1 .9 1 2 1 1.9 1-.9 1-4.2 1-.6 1 .6 1-1 1 1.4 1-1.7 1 .1 1 2.2 1-3.3 1 .6 1 2.4 1 .4 1-.3 1 1.3 1 .9 1-3.6 1-.9 1 2 1-.4 1-.6 1 .4 1-.2 1 1.8 1 0 1-1 1-.1 1-.7 1 1.6 1 .4 1-.2 1-1 1-.7 1 .2 1 1 1-.6 1-1 1 .3 1-1.2 1 2.1 1 .5 1-.5 1-.2 1-2.1 1-.1 1 .2 1 1.9 1 1 1-1.4 1-.8 1 1.2 1 .4 1-1 1 2.2 1 1.4 1-1.9 1 .1 1 1.6 1-1.8 1-1.5 1 .8 1 .4 1 .2 1 .7 1-.1 1-1.1 1-1.7 1 1.1 1 1.4 1-.4 1 1.4 1-.3 1-2.2 1 1.1 1 .1 1-.5 1-.3 1-2.2 1 2 1 4.4 1 .4 1-.8 1 1.7 1-1.5 1-3.8 1-.3 1 2.5 1 2.7 1 .7 1-.7 1-1.8 1-1.5 1 1 1-.9 1-.3 1-2.4 1-1.2 1 2.2 1-1.8 1-1.6 1-2.5 1 .3 1-22 1 23 1 .2 1 8 1-7.3 1-2.7 1 4.6 1-4.2 1-.5 1 6.2 1-15.5 1-1.4 1 2.1 1 .2 1 .8 1-3.2 1 1.4 1-3.3 1 14.5 1 4.1 1-1.1 1-2.9 1-.3 1 3.1 1 .1 1-3.7 1-7 1 11.4 1 0 1-8.1 1 .9 1 .9 1-16.7 1 .1 1-1.7 1-19.7 1 4.5 1-4.7 1-4 1 20.5 1 1.4 1-6.3 1 19.9 1-3.9 1 19 1 .3 1-3.9 1 3.5 1-1.2 1-13 1 7.8 1 3.8 1 4.8 1-22.5 1 23.1 1-4.5 1-9.1 1-3.3 1 3.4 1-1.7 1-11.8 1 1.4 1-.9 1 4.8 1 2.8 1-3.5 1-2.2 1 17.6 1 6.6 1-3.4 1 0 1-3.7 1 .2 1 5.1 1 1.5 1-4.2 1-5.1 1-2.2 1 3.3 1 6.9 1 .9 1-8.4 1 2.9 1-7.1 1-5.4 1 .5 1-2.3 1-2.4 1 5.5 1 5.5 1 4.3 1 1.6 1-2.8 1-2.9 1 3.2 1-3.2 1-1.3 1 8.7 1 33.9 1-37.3 1 .7 1 2 1-21.6 1-3.8 1 2 1 .9 1-4.5 1 1 1 5.3 1 23 1-3.7 1-3.8 1 2.5 1 9.1 1-1.8 1-4.4 1-.9 1-25.4 1 23 1-1.3 1 2.3 1 4.3 1-3.2 1 1.9 1-1.6 1-2 1-12.9 1-2.3 1-1.2 1 2.3 1-.6 1 2.3 1 2 1 15 1 2.2 1 .8 1-3.7 1-1.5 1 3.1 1-3.8 1 .3 1 3.1 1-3.2 1-3 1 33.1 1-27.9 1-1.2 1-2.1 1-.8 1 1 1 2.1 1-2.4 1 0 1 1.8 1 2.6 1 .1 1 .5 1-.5 1-2 1 2.4 1 1.1 1-1.1 1-1.6 1 .5 1 .6 1-.3 1 16.5 1-16.4 1-1.1 1-1.6 1-.4 1 2.3 1-1.2 1-1.7 1 2.1 1 .2 1 .4 1 1.4 1 .2 1-2.2 1-1 1 1.4 1 .3 1 .5 1-.2 1-1.2 1-1.4 1 1.4 1 .2 1-1.3 1 3.4 1-.4 1-3 1 .1 1 1.4 1 1 1 2.1 1-.1 1-2.2 1 1.2 1-.2 1-.4 1-2 1 .5 1 3.1 1 1.1 1-.6 1-2.1 1-.3 1 .8 1-.9 1-.9 1 1.7 1-1.5 1 3 1 .2 1-.7 1-.9 1-.5 1 1 1-.9 1 1.1 1 .4 1-2.5 1 33 1-31.7 1-.8 1 .8 1 .6 1-1.2 1 .2 1 .3 1-.3 1 1.3 1 .9 1-3 1-2.6 1 1.9 1 .5 1-1.2 1-.2 1 1.5 1 2.3 1 .8 1-1.1 1-2.8 1-1.7 1 1.6 1 1.9 1-1.5 1-2.3 1 2.1 1 1.6 1-1 1 .6 1 .7 1 .1 1-.5 1 1.2 1 .2 1-2.2 1-.8 1-.3 1 .4 1 .7 1-1.7 1 32.5 1-30.6 1-1.6 1 .1 1 2.4 1 .7 1-.8 1-.4 1 0 1-1.1 1-1.1 1 .3 1 .9 1-.5 1-1.1 1-1.2 1 1.6 1 2.3 1-1.9 1 1.1 1 1.1 1-1.3 1 .1 1 1.2 1 .1 1 .7 1-1.1 1-1.2 1 .9 1-.2 1-.2 1-.2 1-.4 1 .5 1 .4 1 .9 1 1.2 1 0 1 0 1-3.3 1 3.6 1-2.2 1-1.4 1 1.4 1 .1 1-1 1-3.3 1 2.8 1 3.4 1-.3 1-1.5 1-1.7 1 1.2 1-.8 1-.3 1 4.8 1 3 1-4.5 1-1.4 1-2.1 1-3.9 1 3.1 1 2.9 1-3.3 1-4.1 1 1.1 1 3.2 1 2.5 1 1.7 1-1.8 1 .9 1-.5 1-1.1 1 1.6 1-3.8 1-.7 1 .2 1 .6 1 3.2 1 2.3 1 .7 1-5.8 1-1.7 1 7.5 1-3 1-1.7 1 3.9 1-1.5 1 2.5 1-2.8 1-6.8 1 4.1 1 1.9 1-1.6 1 2.2 1-5.9 1 1.7 1 .4 1-2 1-5.3 1 3.3 1 1.6 1 .1 1 2.6 1 3 1-7.6 1-4.8 1 4.3 1 3.9 1 0 1-11.3 1 2.8 1 7.4 1-5.1 1 1.9 1 1.5 1-7.2 1 6.3 1 1.9 1 .7 1-1.1 1-5.2 1 9.2 1-2.4 1 1.1 1-7.3 1-2 1 .5 1-.6 1-2.6 1 8.1 1-3.9 1-2.6 1 4.3 1 .8 1-5.9 1 1.3 1-.5 1 1.4 1-9.8 1 1 1 16.7 1-2.2 1-16.8 1 21.6 1-2.6 1 1.9 1-1.8 1-1.6 1 .9 1-1.3 1 4.6 1-21.4 1-5 1 .4 1 8.1 1 2.7 1-4 1-2.4 1 19.6 1 .9 1-.1 1 4.1 1-.7 1 .5 1-1.6 1 .4 1 1.2 1 3.5 1-2.1 1 65.6 1-70.9 1 .1 1-4 1-46.2 1 41.1 1-.9 1-9.4 1 9.6 1-6.8 1 .2 1 6.1 1-1.1 1 3.1 1 16.7 1-33.5 1 17.8 1-2.2 1 2.2 1 .4 1-3.9 1 2 1 12.6 1-7.6 1-4.9 1 .1 1 2.5 1 .7 1 5.6 1 7.3 1 1.1 1-3.7 1-4.8 1-11.7 1 4.4 1-2.6 1-33.6 1 36.4 1-3.4 1 .8 1 12.7 1 3.5 1 3.4 1-3.1 1-5.4 1-.6 1 1.1 1 .9 1-3.4 1-17.7 1 .7 1-.5 1-1.6 1 .1 1-.1 1-3.9 1 19.8 1 5.1 1 3.2 1-.2 1-17.2 1 17.4 1-1.3 1 1.9 1 1.4 1 .8 1-4.5 1-3.5 1-4 1 5.4 1-.9 1 .4 1 .4 1-2.6 1 4.2 1 3.6 1-1.5 1 .2 1 3 1 1.8 1-4.6 1 .1 1 .4 1-1 1-1 1 2.7 1 .4 1-.5 1-1.4 1 .1 1 .3 1-1.4 1 .3 1-2.2 1 .2 1 2.3 1-.2 1-1.3 1 .7 1-1 1-.8 1 2.2 1 .8 1-.2 1-1.2 1-1.1 1 .5 1 1.7 1 .2 1 1.5 1-1.1 1-2.9 1 .9 1 0 1 .6 1-1.2 1-.8 1-21.5 1 21.6 1 .7 1 1.7 1-.1 1 .7 1-.7 1 0 1-1.8 1-1.8 1 1.8 1-1.2 1-.4 1 2.3 1-.6 1 .7 1-1.1 1 0 1 2.4 1-2 1 0 1 1.3 1 .7 1 .3 1-1.4 1 2 1 .4 1-1.4 1-1.5 1-2.9 1 .7 1 1.5 1-.4 1-.7 1 2.3 1 2.3 1-.8 1 .3 1-.1 1-1.5 1 .5 1-.4 1-2.3 1 .7 1 .8 1 .1 1 .4 1 .7 1 1.3 1-1.1 1-2.3 1 .5 1 1.2 1 1.1 1 .4 1-1.7 1-.3 1 .4 1 .8 1-.7 1 1.3 1-2.7 1 0 1 3.1 1 .4 1-1.3 1-1.7 1-1.1 1 1.9 1 2.1 1-.6 1-1.1 1 .9 1-1 1-.6 1 .8 1-.4 1-.1 1 0 1 .2 1-1.2 1-.1 1-.1 1 1.5 1 1.5 1-.1 1 1.2 1-1 1-3 1-.3 1 .9 1 2.3 1 .7 1-.8 1-.2 1-2.1 1 .6 1-.1 1 .4 1 1 1 .1 1-.1 1-.5 1 2.4 1 .1 1-1.8 1-2.2 1 2.6 1 2 1-3.6 1-2.4 1-.4 1 2.3 1-.3 1 0 1 2.1 1 .2 1 .3 1-2.5 1 1.5 1 3.8 1-3.4 1-2.9 1 0 1 1.3 1 .4 1 0 1 2 1 .2 1-.8 1-.7 1 .7 1-2.3 1-1.2 1-1.2 1 2.9 1-.3 1 .5 1 1.3 1-.8 1-.1 1-55.9 1 61.9 1 21.8 1-30.8 1 3.4 1 1.9 1-2.3 1-.8 1-2 1 0 1 5.8 1 1.1 1-1.6 1-4.5 1 1.9 1-.4 1-4.2 1 2.8 1 .5 1 2.7 1 6 1-16.2 1-1.3 1-.1 1-4.8 1 3.9 1-1.1 1-17.2 1 8.2 1 6.9 1 4.6 1 3.8 1-4.3 1-15.2 1 1.1 1 11 1-3.1 1-7.7 1-31 1 36.6 1 12.1 1 3.3 1 3.1 1-16.4 1 15.7 1 3.9 1-3.2 1-2.2 1 7.2 1-5.2 1-1.4 1 4.7 1-4.5 1-3.1 1 4 1-3.2 1 3.8 1 5.9 1-1.3 1-12.3 1-.7 1-2.9 1-12.1 1 14 1-2.3 1 1.2 1 11.3 1 1.1 1-2.4 1-6.9 1 5.9 1-.9 1 .8 1 .4 1-6.1 1-5.9 1-.5 1 5.5 1 8.1 1-3.3 1-5.2 1 .8 1 4.3 1 2.2 1-4.5 1-2.7 1-10 1 8.5 1 4.5 1-4.7 1-10 1 8.9 1-.5 1-4.9 1 .3 1-1.7 1 9.9 1-4.9 1 4.8 1 2.1 1-6.2 1-1.3 1-2.1 1 2.4 1 11.2 1 2.2 1-3.9 1 1.5 1-1.5 1 2 1-.4 1-.1 1 .4 1-1.1 1-4.6 1-.4 1-1 1 1 1 5.9 1-2.8 1 1.9 1 2.3 1-3.5 1-.1 1-.1 1-.8 1-3 1 .8 1 9 1 11.7 1-4.3 1-17.9 1 2.1 1 2.2 1 3.4 1-3.9 1-.1 1 .4 1 3.4 1-7.7 1-7 1 9 1-1.9 1-6.9 1 12.8 1-5.9 1-8.3 1 3.9 1-4.6 1-.4 1 26.1 1-26.9 1 12.9 1 2.4 1 .7 1 2.7 1-.2 1-9.7 1 4.3 1-4.1 1-3.1 1-14.9 1 12.6 1-.2 1 11.1 1 .1 1 .7 1-.4 1 2.8 1-2.3 1 2.9 1-4.5 1-.4 1 0 1 2.1 1 .9 1-.8 1 .3 1 6.9 1 0 1-22.4 1 18.6 1-.2 1 3.1 1 1.2 1-5.3 1-2.3 1-23.6 1 3.2 1 11 1-1.9 1-1.6 1-2.8 1 2.1 1 13 1-.2 1-1.9 1 33.7 1-30.3 1 4.5 1 2.5 1 .9 1-.8 1-4.4 1-3.2 1 1 1 1.6 1-.1 1 1.2 1 3.4 1-.4 1-1.8 1 1.1 1 1.8 1-4.9 1-.7 1 2.7 1 .4 1-1.2 1-1.5 1 .6 1 .9 1 2.3 1 1.1 1-1.8 1-1.1 1-.3 1 .2 1-2.2 1-1.5 1 2.8 1 .3 1-1.3 1 .6 1 .3 1-.6 1-2.1 1 .9 1 2 1-.5 1 1.4 1 0 1-.7 1-.2 1-.9 1-1.4 1 .6 1 1.9 1-1 1-2.1 1 .6 1 1.2 1-.6 1 .1 1 1 1 1.4 1-.1 1-.5 1-1 1 .5 1 1 1-.6 1-.5 1-.1 1 1.2 1-1.4 1-1 1 1.8 1 .5 1-.8 1-1.6 1 .5 1 1 1 .3 1-1.9 1-.7 1 2.6 1 .4 1-1.5 1-.1 1 .7 1-.3 1 .3 1-.3 1-1.9 1 .2 1 1.8 1 1.3 1 0 1-.3 1 .9 1-1.2 1-1.2 1-.3 1-.2 1 1.2 1-.4 1-.7 1-.3 1 1.3 1 1.6 1-.8 1-1.6 1-.3 1 2.5 1 1.1 1-1.5 1 .6 1 1.1 1-1.5 1-.6 1-.4 1-1.1 1-.9 1 2.7 1-1.1 1-2 1 2.3 1 1.1 1 .6 1-1.8 1-.9 1 .9 1-1.1 1-.9 1 .4 1 1.8 1-.4 1-1.5 1 1.4 1 1.4 1 1 1-1.6 1-1 1 .6 1-1.8 1 0 1-.3 1 2.1 1 .7 1-.2 1 .3 1 .1 1-3.4 1-12.7 1 13.4 1 1.4 1-1.1 1-.6 1 2.7 1 .5 1 2.1 1 2.4 1-2.7 1-1.3 1 .5 1-4.7 1-.2 1-.1 1-.3 1 5.2 1-2.1 1-4.3 1-.2 1 3.2 1 3.1 1-2.7 1-5.2 1-15.3 1 19.7 1 3.6 1-2.7 1-2.2 1-6.5 1 6.5 1 1 1 5.9 1 2.3 1-3.7 1 .6 1-2.6 1-1.4 1 2.7 1-3.4 1-1 1 4.1 1-35.8 1-5.4 1-1.3 1 1.5 1 5.1 1 .3 1-5.6 1 39.5 1 4 1 2 1-3.4 1-.8 1-7 1 6.1 1-5.4 1 2.5 1-1.2 1 1.6 1 2.6 1-8.1 1 .8 1 4.9 1 .9 1-.1 1 2.3 1 .9 1-9 1-10.5 1-.8 1 1.3 1-.2 1-3.8 1 2.7 1 6.3 1 10.2 1 5.5 1-.4 1 .8 1 1.7 1-1 1 15.7 1-31.5 1-8.6 1-6.5 1 .7 1 6.3 1-1.4 1 6.5 1 1.2 1 2.7 1 2 1 4 1 1.1 1-2.6 1 1.9 1 3.1 1-1.1 1-3.9 1-3.1 1 3.7 1-18.9 1 17.9 1 3.1 1-5.1 1-25.2 1 30.8 1 2 1-4.5 1-3.4 1 3 1 3.1 1-9.5 1 12 1-2.2 1-1.1 1-3.9 1-.3 1 .7 1-1.4 1 5.3 1-.3 1-.7 1-2.5 1-4.3 1 5 1-.1 1-3.8 1 2 1-30.4 1 28.9 1 9.5 1-2.2 1-3.4 1-23.7 1 26.2 1-6.9 1 2.1 1 2.6 1-4.5 1-4.6 1-4.8 1 5.9 1-.7 1 .6 1 .1 1 2.8 1-.8 1 1.9 1-2 1 .4 1-.3 1-9.2 1 3.4 1 6.1 1-3.2 1-4.2 1 3 1 9 1 4.1 1-5.4 1 5.5 1-2.3 1-4.8 1 6.2 1 2.4 1-2.6 1-2.9 1-2.1 1 .7 1-17.6 1 12.5 1 7.3 1 0 1 .1 1-.5 1 .1 1 3.6 1-14.4 1-1.5 1 2.8 1 6.4 1-.7 1-2.5 1 6.1 1 1.4 1-1.9 1 2 1 2.8 1-.5 1-.1 1 8.6 1-1.5 1-6.9 1-.2 1 5.8 1 .2 1-5.6 1-1 1 2.6 1 2.8 1-.1 1-.8 1-2.4 1-2.1 1 1.3 1-5.1 1 9.9 1-4.6 1-3 1-1.7 1 4.8 1-3.1 1-1 1 6.3 1 .1 1 .9 1 .9 1-.9 1-.4 1 0 1-.4 1-20.5 1 1.2 1 3 1-2 1-1.4 1-.2 1 1.6 1 19.5 1-.2 1 1.7 1-.5 1-4.5 1-1.2 1 1.5 1-.8 1-3.1 1 .7 1 2.1 1 4.7 1-1.9 1-.3 1-.4 1 1.3 1 4.2 1-2.9 1-1.2 1 4.2 1-5.8 1 1.8 1-2.2 1-12.2 1 9.7 1 1.8 1 1.4 1-2 1 .7 1 3.3 1 .2 1-4.6 1-2.6 1 3 1 1.8 1-.2 1 1.2 1 .7 1-2.7 1-.6 1 1.9 1 .3 1-.8 1-1.4 1-1.1 1 1.1 1-1.1 1 .6 1 1 1-1 1 1.1 1 .9 1-.7 1-1.8 1 1.8 1 1.2 1-2.3 1 .8 1 1.5 1-2.2 1-.5 1 1.9 1-.7 1-.6 1 0 1-.1 1-.6 1 .2 1 .4 1 1 1 .4 1-.4 1-1.2 1-1.1 1 0 1 .3 1 2.2 1-.9 1 100.9 1-99.5 1 59.5 1-59.7 1-1.5 1-1 1 .6 1-.7 1-.4 1 .1 1 .6 1 .1 1 1.7 1 .4 1-.1 1 1.1 1-1.2 1 .5 1 .5 1-2.2 1-.1 1 .4 1 .7 1 .8 1 1.6 1 .8 1-2.1 1-.2 1-5 1 3.6 1 2.1 1-1.3 1-1.9 1-1.4 1 1.8 1 0 1-1.4 1 1.3 1 .3 1-1.2 1 .3 1 2.1 1 .9 1 .6 1-.2 1-1.4 1-.9 1-2.2 1 2.9 1 0 1-1.3 1 .6 1-.4 1 1.3 1 .5 1 0 1-1.7 1-.7 1 2.8 1-.6 1-.7 1 .3 1 .4 1 .1 1 .3 1 1.2 1-1.4 1-2.1 1 0 1 1.2 1-3.2 1 0 1 7.1 1-.9 1-2.8 1 3.2 1-2.1 1-3.6 1 1.5 1 1.9 1-1 1-10.8 1 9.9 1-.5 1-1.7 1 1.5 1-3.8 1 1.4 1 1.4 1-2.2 1 7.7 1 .6 1-4.6 1-2.5 1 2.5 1 .6 1 1.2 1-1.4 1 0 1 3.6 1 1.6 1-2.6 1-3.7 1 0 1 1.7 1-1 1 4.1 1 2.7 1-2.9 1-3.5 1-2.7 1 1.9 1 5.7 1-.9 1 .1 1-2.9 1-6.1 1 2.9 1-4.8 1-3.9 1 6.6 1 8.6 1-17.4 1 7.5 1 .4 1 .6 1-1.7 1-1 1-8.8 1 3.7 1-3.9 1 6.4 1-.6 1 .6 1 .4 1 5 1-1.9 1 .9 1-2.8 1-.7 1 3 1-.7 1-1.9 1-11.2 1 1.1 1 10.3 1 3.8 1 .9 1-6.2 1 .3 1 4.1 1-13.4 1 .7 1 1.8 1 .9 1-4.9 1-1.8 1 13.9 1-1.3 1 5.4 1 3.1 1 6.6 1 1.9 1-4.4 1-11.5 1-.8 1-3.9 1 5.3 1-7.1 1-7.3 1 5 1 11 1 .5 1 2.7 1-7.2 1 0 1 9 1-2 1-4.2 1 4.9 1 4.5 1 1.4 1-1.3 1-9.2 1 3.2 1 1.8 1-5.2 1-2.2 1 4.6 1-11.3 1-1.3 1 8.4 1 7.6 1-2.6 1 21.3 1-24.6 1 5.6 1 3.6 1-3.4 1-4.6 1 4.9 1-2.2 1-4.6 1 3.3 1 4.3 1-.3 1 4.7 1 .2 1-4.6 1-3.3 1 7.7 1-12.3 1-7.4 1 4.5 1-.1 1 1.2 1 .3 1-25.7 1 26.8 1 5.1 1 1.4 1 3.8 1-2.4 1-4.8 1 3.6 1-1.5 1 .5 1-2.7 1-3.2 1 .2 1 5.4 1 9.9 1-3 1-1.2 1-1.5 1 2.2 1-18.4 1-4.1 1-3.3 1 5 1 5.2 1-4.3 1 3.2 1 16.9 1-2.4 1 2.1 1-1.1 1 8.3 1-54.1 1 42.9 1 41.4 1-39.8 1-.3 1-1.6 1-.2 1-2.3 1 7.1 1-1.4 1-3.6 1 2.3 1 .4 1 .8 1-3.4 1 0 1 1.2 1 .2 1-2.5 1-3.6 1 1.8 1 2.3 1-.3 1-1.6 1 4.5 1-4.5 1-.8 1 8 1-.7 1-3.1 1 0 1-3.4 1-3.8 1 2 1 .6 1 2.5 1-1.3 1-1.5 1 8.2 1-3.7 1-3.3 1 1.6 1 .4 1 4.8 1-1.6 1 0 1 4.6 1-3 1-.6 1-.6 1-2.1 1 .9 1-.8 1 1.9 1 1.6 1-2.8 1-1.9 1-.2 1 4.3 1 .3 1-1.6 1 .4 1-1.3 1-1.1 1 .9 1 .6 1-1.8 1-.3 1 .3 1 2.7 1 .4 1-2.5 1 .9 1 .8 1-.1 1-.4 1-.7 1 1.3 1-.2 1-1.3 1 1.9 1 .7 1-.7 1 1.1 1-1.4 1-.8 1 .7 1 1.4 1 .3 1-.9 1-.7 1-.7 1-.3 1-1.6 1 2.6 1 1.3 1-1.6 1 .8 1 .7 1-.6 1-1.4 1-.9 1-.3 1 .8 1-.2 1-.7 1 .2 1-.3 1 .5 1 0 1 1.3 1 2.9 1 .4 1-2.5 1-1.4 1 .7 1-1.3 1-1.2 1-.5 1 17.3 1-13.4 1-1.3 1-1.1 1-.8 1 .5 1-.1 1-.7 1 1.4 1-.1 1-.3 1 .9 1 1.6 1 1.6 1-.4 1-1.1 1 .3 1 2.1 1-1 1-4.8 1-.5 1 3.8 1 .6 1-1.6 1-1.6 1-.1 1-.8 1-2.4 1 3.4 1-.3 1-.6 1-.1 1-.9 1 4.6 1 4.9 1-2.3 1-4.3 1-1.9 1-.6 1-.7 1-.3 1 2.4 1 2.7 1-.9 1-31.2 1 28.3 1 3.2 1 0 1 1.8 1 1 1-2.9 1-21.8 1 27.8 1-5.2 1-3.2 1 5 1-1.4 1-.2 1 2.8 1-2.2 1-7.6 1 .8 1 2.3 1-.2 1-3.4 1-2 1 1.2 1 12.9 1-2.9 1-5 1-2.1 1-1.3 1 3.8 1 1.2 1 .6 1 0 1-7.6 1 3 1 9.7 1 .7 1-2.2 1-4 1 .2 1 10.7 1-6.6 1-21.1 1 13.2 1 5.2 1-6.4 1-1.7 1-9.8 1 2.2 1-1.3 1-9 1-.9 1 7.9 1 2.8 1 4.6 1-4.5 1 4.5 1 8.5 1-1.8 1 2.9 1 1.5 1-2.8 1 7.7 1 3.1 1-5.5 1-4.2 1-.6 1-4.4 1 3.6 1 2 1-2.5 1-10.6 1 4.9 1 10.6 1-2.3 1 .6 1-.8 1-1.9 1-2.5 1 2.6 1-27.6 1 28.6 1-3 1-2.4 1 3.3 1 .4 1-3 1-2.7 1 4.3 1-1.8 1 2.6 1 3 1 .3 1 1 1-4.9 1 2.3 1 4.9 1-2.9 1-3.1 1 2.1 1 47.5 1-44.1 1-7.7 1-5.1 1-19.6 1-53 1 55.7 1-2 1-18.8 1 12.8 1 2.5 1 21.3 1 3.3 1-3.9 1-2.1 1 6.3 1 6.4 1-1.7 1 5.1 1-3.2 1-4.2 1-4.4 1 7.8 1 3.2 1-2.4 1 1.5 1-3.6 1-1.5 1 6.2 1-4.2 1-.1 1 7.1 1-.3 1-7.3 1-3.2 1 5.7 1 1.1 1 .5 1-2 1-6.6 1 8.1 1 .3 1-8 1 4.2 1 3.2 1-1.9 1 2 1-4.9 1 5.3 1-8.6 1-2.1 1-2.5 1 4.2 1 5 1 1.1 1-5.2 1 1.7 1 3.2 1-20.7 1 14.9 1-10.9 1 .4 1-.4 1 1.1 1-8.8 1-10.4 1 10.8 1 16.9 1-4.1 1 3.9 1-.7 1 .2 1 9.4 1 4.3 1-.7 1-2.1 1-6.5 1 2.1 1 1.4 1-1.3 1-2.3 1 4 1 4 1 1.3 1-4.9 1 0 1-1.6 1-.3 1 44 1-39.5 1 .7 1 2.5 1-2.1 1 5.7 1-9.9 1-15.1 1 14.8 1 3.1 1-1.8 1-2.7 1 2.4 1 4.4 1-1 1-4 1 1.7 1 0 1-2.2 1 .4 1 1.7 1 .5 1 2.3 1 .7 1-2.2 1-1.9 1 1.6 1 .5 1-1.2 1-.6 1 .4 1 .4 1-.3 1 1.3 1 2.7 1-4 1-3 1 0 1 2.1 1 1.4 1-3.1 1-1.7 1 1.3 1 .8 1 1.1 1 2.4 1 1.8 1 .6 1-.5 1-3 1-.5 1-.9 1-1.4 1 1.1 1 1.9 1 .8 1-1.4 1 .5 1-.1 1-2 1 .2 1 2.4 1 .3 1-.4 1-1 1-.7 1 1.9 1-.9 1 0 1-.7 1-.9 1-1.2 1 1.8 1 1.7 1-1.8 1 .3 1 1.4 1 1.2 1-1.6 1-.5 1 2.5 1 .7 1-2 1-1.7 1 .3 1-.3 1-.1 1 .3 1 1.5 1 .7 1-2.2 1-1.1 1 .4 1-.7 1 3.1 1 0 1-2.9 1 .8 1 .6 1 1.5 1-.3 1-1.8 1 .4 1-.4 1-1.3 1 .4 1 1.5 1 .1 1-1.6 1-.6 1 1.6 1 .6 1-.4 1 1.3 1 1.4 1-1.6 1-1 1 1 1 .6 1 16.3 1-18 1-.2 1 1.1 1 .1 1 1.1 1 1.9 1-.2 1-4.4 1 .1 1 2.2 1-.8 1-.7 1 .8 1 2.8 1 1.4 1-2.7 1-2.9 1 3.4 1 .4 1-1.4 1 .2 1-.2 1-.4 1-2.5 1 .2 1 1.2 1-.1 1 .6 1 .6 1-1.1 1-1.8 1 .2 1 1.5 1 0 1-.8 1 .6 1 1.4 1-.6 1 .5 1 .2 1-.2 1 1.6 1-.8 1 0 1 .1 1-1 1-.1 1-.3 1-1.6 1 .2 1 1.7 1-.6 1-.8 1 1.9 1 .8 1-.5 1-1.3 1 .1 1 1.8 1-1.2 1 2.2 1 2.4 1-1.8 1-1.9 1 1 1 0 1-2.5 1-.6 1-1.6 1-.2 1 2.1 1-1.6 1-1.8 1 2.5 1 2.6 1-1.1 1-2.6 1-1.4 1 .8 1 .8 1-1.6 1 1 1 .9 1 3.4 1 2.6 1-1.9 1-1 1-15.9 1 13.3 1 1.5 1-1.5 1-2.7 1 .2 1 3.9 1 5.4 1-.5 1-.3 1 34.5 1-47 1 3.1 1 .3 1-.3 1 .3 1 .6 1-2.9 1 3 1 4.4 1-3.5 1-2 1 2.7 1 5.1 1 .3 1-4 1-4.4 1 2.6 1 .6 1-.5 1 .3 1-2.6 1 4.5 1 4.9 1-.1 1-3.5 1 1.7 1-2.4 1-6.3 1 .3 1 7.4 1 2.4 1-4.3 1-1.8 1 .9 1 2.3 1 2.8 1-2.2 1-15.7 1-6.9 1 26.3 1 1.4 1-3.5 1-2.2 1-1.7 1-.7 1-2.7 1-.6 1-1.4 1 4.9 1-.3 1-2.4 1 4.1 1-3.5 1-2.9 1-.6 1-4.6 1 3.3 1 17.7 1-12.9 1-10.4 1 3.6 1 1.2 1 5.8 1-10.1 1 .6 1 2.3 1-6.3 1-5.8 1 3.7 1 .7 1 3 1-.8 1 3.7 1 3.4 1-3.1 1 1.6 1 4.3 1 .4 1-1.8 1-2.5 1-5.4 1 6.6 1 9.1 1-.4 1 1 1 8 1-13.6 1-1.2 1-.2 1 2.8 1-.6 1-1.2 1-.5 1-2.1 1 2.9 1 2.5 1-2.7 1-.5 1-2.3 1 .8 1 5.4 1-7.3 1-2.7 1-8.2 1 15.3 1-25.6 1 30.8 1-4 1-3.7 1-1.5 1 .3 1 5.2 1-.3 1-.6 1 2.8 1 1.4 1-2.9 1-8.6 1-.2 1 3.3 1 2.4 1-4.1 1-.1 1 4.5 1-7.1 1-2 1 .4 1 .3 1 2.5 1 4.1 1 1.7 1 .6 1-3.7 1 1.4 1-2.1 1 4.6 1 1.8 1-6.3 1 3.3 1 .2 1-20.9 1 7 1 7.7 1-11.7 1-5.4 1 8.7 1-3.1 1 13.2 1-2.1 1 2.3 1 1 1 0 1 5 1 3.4 1-4.3 1 1.1 1 1.6 1-6.3 1 .4 1 41.3 1-39.2 1-3 1 .6 1-12.2 1 16.2 1-.7 1 47.5 1-64.6 1 24.1 1 3.5 1-8.9 1-2.7 1 6.1 1 .5 1 1.9 1 0 1-4.3 1-5.8 1 4.2 1-4 1-1.4 1-1.1 1 1.4 1-.6 1 1 1-1 1 6.8 1-1.9 1-3.7 1 3.7 1 2.2 1-.7 1 1.5 1-1.2 1 6.5 1 4.6 1-5 1-4.3 1 .1 1 2 1 0 1 2.8 1-1.2 1-4.9 1 2.7 1 8.2 1-7.3 1-23.6 1 18.5 1 1 1 17.2 1-16.5 1-1.8 1 2.5 1 3.6 1-2.6 1-1.6 1-2.1 1 1.5 1 3.2 1-.3 1-.3 1-.2 1 .2 1 2.7 1-2.7 1-1 1 .5 1-2.7 1 1.5 1-.4 1 1.4 1 2.7 1-1.5 1-2.1 1 1 1 2.7 1-1.6 1-2 1 2 1-.4 1-3.6 1 .3 1 .8 1-.6 1 2 1 .7 1-.2 1 .4 1-.8 1 .8 1 1.5 1 .5 1 .6 1 0 1-1 1-1.9 1-1.5 1 .4 1 1.4 1 1.2 1-.7 1-1.7 1 1 1 1.8 1-2 1-.5 1-.7 1-.7 1 1.7 1 1.1 1-.1 1-.3 1-1.7 1 0 1 1.1 1-1.3 1-.7 1-.7 1-.2 1 2.1 1-.5 1-.4 1 .2 1-.5 1-.8 1-1.1 1 1.3 1 1.1 1 .8 1 1.1 1-1.1 1-.9 1 11.1 1-9.6 1-.6 1-.4 1 1 1 0 1-1.2 1 1.5 1 .2 1-.4 1 1.3 1 .9 1-2.2 1-1.1 1 0 1-1.6 1 1 1 2.3 1 1.2 1-.8 1-.4 1 1.4 1-1 1-2.1 1-.4 1 2.3 1-1.9 1-3 1 2 1 .3 1 .5 1 .7 1-1 1 .5 1-.3 1 .4 1 1.1 1-.8 1 1.6 1 24.4 1-23.3 1-2.3 1-1.5 1 2.8 1 .6 1-.6 1-1.7 1 .5 1 0 1-.7 1 29.3 1-28.1 1 3 1-1.9 1-3.1 1 .6 1 .2 1-.9 1 1.9 1 2 1-1.9 1 .7 1 1.4 1 .2 1-1.8 1-.3 1-2.5 1 0 1 .7 1 1.1 1-.6 1 1.4 1-.1 1 .5 1 .3 1-2.4 1 1.7 1 6.9 1-8.8 1 .9 1 .5 1 2.5 1-.8 1-3.2 1-.1 1 .3 1-.6 1 .9 1 3.2 1-1.8 1 .1 1 5.8 1-4.9 1 .8 1 2.2 1-2.1 1-1.4 1 .6 1-14.4 1 1.5 1 14 1-1.7 1-.2 1 .2 1 3 1-2.3 1 .1 1 3.1 1-4 1-3.7 1 2.9 1 3.2 1-14.3 1-.7 1 2 1-2.4 1-.3 1 1.4 1 0 1 9.4 1 1.5 1 .7 1 .2 1 .3 1 2.6 1-.8 1-3.9 1-.7 1-1.4 1 .3 1 .1 1-.7 1 2.1 1-2.3 1 1.2 1 4.4 1-2.7 1-11.1 1 13.3 1 3 1-3.2 1-3.8 1 1.5 1 .4 1 0 1-1 1 3.8 1 1.2 1-6.8 1-4.3 1 4.7 1 1 1 .4 1-2.3 1 .8 1 1.7 1 3.2 1 5.8 1-3.2 1-8.6 1-2.9 1 5.5 1 3 1-2.3 1-5.6 1 .7 1-1.3 1-.1 1 3.4 1-.2 1 .5 1 .9 1-3.1 1-5 1 0 1 .5 1-6.9 1 4.3 1-.2 1-1.6 1 5.6 1 11.3 1-9.1 1-12 1 10.8 1-4.7 1-2.8 1 8.4 1-3.7 1-1.7 1 4.2 1 1.7 1-2.7 1 7.6 1-3.3 1-.1 1 .6 1-7.2 1 1.9 1-3.5 1-5.1 1-5 1 1 1-6.5 1 .3 1 1.8 1 1 1 4.9 1 9.8 1 1.9 1 3.1 1-40.7 1 46.7 1-7.5 1-12.6 1 6 1-65.3 1 58 1-2 1 4.2 1 6.3 1-1.3 1-7.9 1 7.8 1 6.8 1-2.9 1 2.6 1 .2 1 6.2 1-1.1 1-2.9 1-3.8 1 .5 1 5.1 1-6.3 1-8.5 1 6.2 1 22.1 1-13.5 1-4.4 1 3 1 2.4 1-4.1 1 4.5 1-18.6 1 3.2 1 2.6 1-2.5 1 .8 1 4.5 1 1.4 1-10.8 1 14.9 1-3.1 1-6.5 1-1.3 1 4.6 1-1 1 8.6 1 .4 1 5.8 1 3.7 1-2.7 1-4.5 1-4.7 1 7.2 1 4.7 1-6.5 1-3.3 1 4.7 1 .9 1-1.6 1 1.1 1 4.4 1 3.1 1-4.7 1-3.5 1-.9 1-9.6 1 11.3 1 2.3 1-6.3 1 1.5 1 4.5 1-5.6 1-3.3 1 4.5 1 5.1 1 4.3 1 .9 1-7.2 1 0 1 2.4 1-.5 1-2.1 1 1 1-4.9 1-1 1-15.9 1 17.8 1 3.1 1 .5 1-3.1 1-.6 1 11.8 1-11.7 1 2.6 1 2.9 1 .8 1-1.1 1-2.3 1-.7 1-.7 1-.2 1 2.8 1 3 1-3.4 1-2.5 1-13.3 1 16.2 1 .2 1 .5 1-1.4 1-.3 1 .9 1 .9 1-1.6 1-1.9 1 2.1 1 .9 1 1.5 1-1.3 1-2.8 1-1.7 1 .9 1 3.3 1 .8 1-1.7 1-.1 1 2 1-2.4 1-1 1 2.2 1-2.9 1 .7 1 1.5 1-1.9 1 .7 1 1.1 1-14.2 1 14.2 1 .3 1-1.4 1-2.7 1 3.5 1 1.2 1-2.4 1 .5 1-.3 1 .4 1 .1 1 1 1-.5 1-1.9 1 .2 1-.3 1 1.2 1 .5 1-2 1 1.2 1 1.2 1 8.7 1-7.8 1-2.4 1-.7 1 2.4 1 0 1-1 1-3 1-1.1 1 3.5 1 1.1 1-.6 1-13.1 1 14.4 1-.5 1-.9 1-1.6 1 1.8 1 2.3 1-.8 1-1.8 1 .9 1 2.4 1-2.3 1 .2 1 3.2 1-2.6 1-1.8 1 .7 1 .3 1 2.9 1 1.3 1-5.2 1-5.5 1 .8 1 0 1 2.8 1 2.5 1 2.6 1 .9 1-4.2 1 0 1-2.4 1 1.2 1 3.3 1-.4 1 .9 1-.6 1-.8 1 1.5 1-1.6 1-2.6 1 2.9 1 2.3 1-1 1-2.5 1 .5 1 .2 1-1.6 1-3.2 1 2.5 1-.8 1-1.6 1 2.7 1-.3 1 1 1-.1 1-1.3 1 35 1-56.8 1 22.3 1-2.8 1-1.9 1 4.7 1-.8 1-2.1 1 4.8 1-.2 1 2.3 1 3.9 1-2.2 1 .1 1-4.3 1-2.7 1 3.4 1-25 1 22.7 1-.8 1 3.1 1-1.1 1-4.3 1-2 1 2 1 4.8 1 1.4 1 2.8 1-4.9 1 .7 1-.5 1-7.1 1-3.7 1-.5 1 5.4 1 6 1-4.2 1 2.3 1-1 1 0 1 1.9 1 .9 1-13.9 1-2.2 1 2.5 1 1.1 1 4.2 1-3.4 1 .6 1 8.4 1 0 1-.7 1-2.5 1 5.2 1 1.9 1 2.2 1 3.2 1-4 1 2.8 1-1.9 1-1.7 1 2.3 1-6 1-3 1 5.2 1 1.4 1-3.1 1-2.4 1 3.2 1-4.7 1-6.1 1 7.6 1 7.4 1-.6 1-4.7 1 1.8 1 1.3 1-4.1 1-7 1 4.3 1 5.8 1 2.3 1-6.2 1-1.1 1 .4 1-4.4 1-1.1 1 4.3 1 6 1 .6 1-5.4 1-5.1 1 9.4 1-4.1 1-5.2 1 10.1 1-7.7 1-4 1 1.4 1-1.5 1 44.3 1-48.6 1 2.4 1 1 1 10.4 1-3.7 1-.2 1 6.1 1-3.7 1-23.6 1 23.8 1 1.6 1 .4 1-2.7 1-.9 1-6.9 1 0 1 6.5 1 8.5 1 .5 1-4.6 1 .5 1-26.6 1 19.9 1 3.9 1 4.9 1-15.9 1 4.5 1-.9 1-.5 1-5 1 5.2 1-1.8 1 .7 1-.4 1 4.7 1 1.2 1 2.7 1 1.9 1 0 1-2.1 1-.6 1 .7 1 1.9 1-.5 1-4.4 1-.6 1 1.6 1-1.3 1-30.2 1 24 1-7.8 1 .5 1 1.4 1 .6 1 2.1 1 4.9 1-3.5 1 9.3 1-4.8 1 2.3 1-1.7 1-.2 1 1.5 1 4.8 1-1.1 1 3.4 1 4.7 1-.6 1-4.7 1 .6 1 1.3 1-3 1 4.3 1-.9 1 3.2 1-1.3 1-3.9 1-2.7 1-.7 1 1 1 6.4 1-2.9 1-2.8 1 13.1 1-6.1 1-2.1 1 2.8 1-1.9 1-3.6 1 20.6 1-22 1 .3 1 5.2 1 1.9 1-3.6 1-1 1-24.5 1 27.1 1-3.2 1-1 1 .3 1-2.4 1-2.8 1 0 1 3.9 1 5.5 1 2.6 1-12.8 1 6.9 1 1.3 1-4.9 1 .8 1-.8 1 3 1-6.8 1 5.2 1 3.1 1 .8 1 .4 1-.9 1 .1 1 .2 1-.9 1 2.9 1-2.6 1-1.5 1 1.4 1 .2 1 2.1 1-.5 1-1 1-.5 1-3 1-.5 1 2.5 1 2.5 1-2.8 1-1 1 1.6 1 2 1 1.7 1-2.5 1 .6 1-.4 1-.8 1 .4 1 1.1 1-.5 1-2.6 1 .4 1 1.9 1 2.6 1 0 1-1.7 1-.2 1 0 1-2.2 1 .2 1 3 1-2 1-2.3 1-.8 1 .2 1 1.4 1-.1 1-.2 1-1.4 1 1.5 1 2.5 1-1 1 .9 1-2.8 1-1.7 1 1.8 1-.3 1 1.8 1 .8 1-1.9 1 1 1-.9 1-1.2 1 .5 1 .3 1 2 1 2 1-1.5 1-2.1 1-.2 1 1.8 1-1.6 1-.9 1 3 1-1.8 1-.3 1-.1 1-1.3 1 2.3 1 3 1-.8 1-2.4 1 1 1-.1 1-1 1 .9 1-.6 1-.6 1-.5 1 3.3 1 2.2 1-3.8 1-2.3 1-1 1 .3 1 .9 1 .4 1 1.7 1 .6 1-1.3 1-.3 1 1.3 1-1.9 1-.2 1 1.5 1 .9 1-.3 1-1 1 1.6 1-2.5 1-1.3 1 2.2 1-.6 1-1.3 1 1.3 1 .6 1-1.1 1 3.6 1 .3 1 .4 1 .5 1-1.4 1 .4 1-1.6 1-.2 1-.8 1-1.1 1-1.1 1 1.6 1 2.1 1 1.1 1-.4 1-.5 1-3 1-.7 1 .5 1 .5 1 1.5 1 1.6 1 0 1-.8 1-.8 1-8.6 1 7.5 1-33.6 1 32.2 1 2.9 1 1.2 1-4.2 1 .2 1 1.8 1-.5 1-1.8 1 2 1-1.7 1-1.4 1 3.8 1-2.6 1-1.1 1 .6 1 2.3 1-.5 1-2.9 1 3.4 1 1.8 1 .3 1-3.9 1-3 1 4.9 1 2.9 1 .5 1-3.5 1-3.9 1 3.7 1-6 1 7.7 1-.7 1-5.7 1 3.8 1 4 1-4.4 1-4.4 1 5 1 5.6 1-3.9 1-2.6 1 1.2 1-1 1-3 1 4.9 1 4.1 1-6.9 1-1.1 1 3.5 1 2.9 1-6.2 1 .7 1 .5 1-3.1 1 5.2 1 1 1-1.5 1-3.8 1 .7 1 1 1 2.4 1 1 1 .2 1-6.9 1 .4 1-3.4 1-3.3 1-.5 1 3.2 1-1.3 1 3.3 1 2.5 1 3.9 1-4.6 1 3.6 1 1.5 1-3.2 1 1.8 1 1.2 1-1.4 1-13.1 1 2.6 1-.9 1-16.3 1 12 1-1 1 .8 1 16.6 1 2.7 1 .3 1 1.9 1-8.5 1-4.4 1 6.5 1 1.6 1-1.2 1 1.1 1-5.9 1 2.6 1 4.2 1-6.3 1-1.3 1 .6 1-5.2 1 2 1 3.4 1-1.1 1 3.6 1-1.3 1-1.8 1 2.5 1-.2 1-10.5 1 12.7 1-.8 1-2.6 1 2.7 1 3.7 1-5.3 1-6 1 6.1 1-4.1 1 2 1 3 1-7.6 1 3.2 1 4.4 1-3.4 1 .5 1 9 1 2.8 1-5.5 1-7 1-6 1 93.5 1-91.9 1 6.3 1-1.8 1 1.1 1 3.4 1 4.8 1 .3 1-6.1 1-.8 1 3.1 1-.1 1-1 1-1.5 1 2.4 1-16.4 1 15.2 1-6.2 1 .3 1 4.8 1-3.2 1 3.8 1 .4 1-1 1-.2 1 3.9 1 5.4 1-7.7 1-.5 1-2.7 1 2.8 1-8.7 1-.6 1-1.4 1 5.9 1-4.9 1-1.7 1 4.2 1 10.2 1-7.6 1 1 1 1 1-7.1 1 1.2 1 3.2 1-4.4 1 14.4 1-.8 1-.1 1 1.2 1-6.7 1 6 1 4.3 1-3.1 1 2.2 1-2.4 1-13.9 1 12.4 1-1.7 1-1 1 4.1 1-5.2 1-3.7 1 5.4 1-.9 1-3.1 1 2.9 1 4.7 1 2.7 1-5 1-2.1 1 .5 1 3.5 1 2.1 1-.6 1-1.1 1-5.5 1 3.1 1 3.9 1-3.1 1 .8 1 6.7 1 .2 1-4.9 1-3.9 1-.2 1 .1 1-2.4 1 6.8 1 2.2 1-5.2 1-1.1 1 3 1-3.7 1 .6 1 3 1 1.5 1-4.4 1 3.4 1 .6 1-4.7 1-3.3 1 1.7 1 3 1-3.6 1 .3 1 4 1 2.7 1-5.1 1-3.6 1 6.4 1 1.7 1-2.8 1 .9 1-2.1 1-1.8 1 2.6 1-.3 1-2.1 1 2.1 1 2.1 1-3.1 1 2 1 1 1-2.2 1 1.9 1 .1 1-1.7 1-2.6 1-.3 1 .6 1 2.7 1 36.8 1-39.2 1 .4 1 1.4 1 .2 1-1.5 1-.7 1 4.3 1 2.9 1-3.3 1-1 1-.4 1 1.3 1 .5 1-3.9 1 .8 1 2.4 1 1.6 1-.4 1-2.5 1 .6 1 .9 1 .3 1 3.3 1-3.6 1-2.6 1 1.1 1 2.5 1-.4 1-.2 1-1.5 1-.6 1 1.5 1 .4 1-.1 1 .5 1 .9 1-1.4 1-.4 1 .8 1-2.4 1 .8 1 1.4 1-2.2 1-.2 1 .1 1 .6 1 8.7 1-7.8 1 2.3 1 1.7 1-1.3 1-3.1 1-.4 1 2 1 1.2 1-.6 1-.4 1-1 1-2.3 1-2 1 2.1 1-.3 1-2.3 1 1 1 2 1 3.2 1-2.9 1-3 1 3.8 1 1.4 1-1 1-.5 1 2.2 1 2.3 1-2 1 .8 1-.1 1-1.8 1 .4 1-2.6 1 4 1 1.7 1-2.6 1-4.6 1-1.6 1 5.9 1 .9 1-2.6 1-1.6 1-.2 1 0 1 1.7 1 3.3 1-1.8 1-1.3 1 3.1 1 .8 1-3.7 1 1 1-3.3 1-.1 1 1.7 1-1.3 1 1.4 1-5.5 1 3.5 1 2.4 1-5.7 1-.1 1-4.1 1 .3 1 .3 1-2.5 1-.8 1 7.1 1 7.2 1 2.5 1-6.2 1-8.5 1 1.6 1 1.5 1 0 1-1.5 1-9 1 7.2 1 10.6 1-3.9 1 1.2 1 1.6 1-1 1 2.8 1-4.9 1 1.7 1 1.8 1-3.5 1-1.6 1-.4 1 .1 1 6.7 1-.1 1-1.9 1 .4 1 3.7 1-2.5 1 23.8 1-20.9 1 .5 1 4.3 1 1.2 1-16.5 1-.9 1 5.7 1-.1 1-2.8 1-4.6 1 3.6 1 4 1-6.4 1-57.4 1 36.3 1 27.4 1 4.6 1 4.5 1-3.5 1-32.8 1 33.5 1-2.9 1 0 1 1.4 1 1.6 1-2.6 1 4.4 1 .2 1-4.6 1-3.1 1-5.1 1 4.8 1-.3 1 1.4 1-1.7 1 1.8 1-.6 1-1.7 1-2.2 1-1.1 1 6.4 1-.2 1 .4 1-2 1 .2 1-2.2 1-120.8 1 121.9 1 1.2 1-2.3 1 4.7 1-12.8 1 1.6 1 3.1 1-1.3 1-2.7 1-.4 1 8.5 1 .4 1-2 1-12.2 1 9.7 1 3.2 1 6.7 1-22.4 1 14.1 1 .2 1-1.4 1 0 1 7.7 1-4.4 1-19.1 1 4 1 2 1 5.6 1-.7 1-.6 1-12.2 1 24.1 1 2.4 1-4.9 1 2.9 1 5 1-6.4 1-4.9 1 2.5 1 4.5 1-4.4 1 2.9 1-2 1-1.3 1 2.9 1 1.7 1-2.2 1 .3 1-2.4 1 1.4 1 4.6 1 2.2 1 .1 1-8.8 1-1.5 1-1.5 1-2.3 1 .5 1-.1 1-1.3 1 6.8 1-.4 1 5.4 1 .2 1-1 1-.1 1-2.5 1 .5 1 1.5 1 .5 1-.6 1-1.4 1 3.3 1 2.9 1-1.8 1-8.7 1-41.6 1 42.1 1 4.1 1-4.8 1-1.2 1 6.7 1 0 1-4.5 1 2.6 1 5 1 1.5 1-1.1 1-2.3 1-.1 1 .9 1-1.8 1-2.9 1 1.9 1 5.5 1-3.4 1 0 1 2 1-.3 1-.6 1 1.7 1-.8 1-5.9 1-16.1 1 2.1 1-2.4 1-.3 1 4.4 1 18.8 1-19.6 1 18.9 1-.7 1-.1 1 1.4 1 2 1-3.5 1-2.9 1 3.7 1 .6 1-2.2 1 .7 1-.9 1 .2 1 1.3 1 .1 1 .6 1 .3 1-1.2 1-.4 1-1.3 1-2.4 1 .3 1 2 1 3.6 1-1.1 1-1.3 1 1.2 1-2.9 1 .3 1-.5 1-.2 1 2.3 1 .8 1 1.5 1-1.1 1-2.9 1 .1 1-.1 1 3.1 1 .3 1-.8 1-1.2 1-3.1 1 1.7 1-.7 1-.1 1 2 1 .9 1 .3 1-.9 1-1.9 1-.5 1 3.3 1-.3 1-.2 1 1 1-2.3 1-.3 1 1.6 1-2.3 1-1.4 1 2.8 1-.5 1-.1 1-.6 1-.2 1 1.5 1 1.1 1 .3 1-1.9 1 .8 1 2.2 1-.2 1-.8 1-1.9 1-1.1 1-.8 1 27.7 1-24.5 1-1.8 1 .9 1 1.8 1 0 1-1.6 1-.7 1 2 1-.1 1-4 1 1.5 1 1.2 1-1.5 1 .8 1 .9 1 1.5 1-2.1 1-1.7 1 1.1 1 2 1 1.7 1-1.5 1-3.1 1 .9 1 .6 1-2.1 1 2 1 2.7 1-.2 1-2.8 1-1.2 1 1.1 1 .8 1 1.1 1-.6 1-2.6 1-.6 1 .5 1 2.3 1-.4 1-3.6 1 2.4 1 2 1-1.5 1-.3 1 2 1 .4 1 14.5 1-15.2 1-.5 1-.2 1 .2 1 .7 1 .8 1-.6 1 .2 1-1.4 1 .7 1-.6 1-1.1 1 0 1-.9 1 2.8 1 1.3 1-2.5 1-1.1 1 2 1 1.2 1-2.3 1-.1 1-.5 1-1.3 1 2.3 1 1.4 1 0 1-1 1-.5 1-3.2 1-2 1 1.4 1 2.5 1-.6 1-.4 1 1.1 1 3.3 1-.9 1 .4 1 .3 1 0 1 .2 1-3.8 1 .4 1 2.1 1 .7 1 1.6 1-1.2 1-2.6 1 1.9 1 1.1 1 1.3 1-1.5 1-2.9 1 .8 1-1.6 1-1.9 1-3.5 1 7.7 1-.6 1 0 1 2.9 1-2 1-2 1 2 1-1.9 1-1.5 1 0 1-1.7 1 .7 1-.7 1 1.2 1 3.8 1 .9 1-1.6 1 2.1 1 5.2 1-.5 1-2.3 1-1 1-1.8 1 .8 1-1.1 1-22.3 1 21.3 1-2.2 1-.6 1-.8 1-4.3 1-1.7 1-22.7 1 23.7 1 4.6 1 1.1 1-.9 1-2 1 1.9 1 1.7 1 5.4 1 1.6 1-2.1 1-1 1-2.5 1-5.3 1 .1 1-2.7 1-1.1 1-1.1 1 6.1 1-3.3 1 1.5 1 3.6 1-7.4 1-14.1 1 1.3 1 5.6 1 .9 1-4.4 1 3.2 1 10.9 1 10 1 2.3 1-3 1-5.5 1 4.2 1 0 1-3.8 1-4.3 1-1.6 1 .3 1 .6 1-.6 1-1.3 1 3.2 1 7.4 1-5.4 1-4.1 1 3.6 1 3.5 1-3.1 1-.7 1-6.9 1 2 1-1.3 1 10.6 1-.8 1-5.3 1 2 1 5.3 1-3.9 1-7 1-2.2 1 4.9 1 4.2 1 3.4 1 6.5 1-.4 1-5.9 1-13.1 1 3.8 1 6.6 1-23.4 1 16.5 1-1.5 1 18.8 1-19.9 1 19 1-7.8 1-5.2 1-14.7 1 17.8 1-3 1-13.3 1 2.7 1 7.4 1 11 1-28 1 15.3 1-.7 1 8.8 1 2.6 1-9.5 1 3.8 1 1.7 1 5.4 1-.1 1-.6 1 .6 1-3.7 1-16.9 1-1.6 1-7.2 1 3.5 1-.1 1-4.5 1 2.1 1 16.6 1-31.5 1 8.5 1-2.7 1-1.8 1 2.2 1 1 1 .1 1 32 1-2.1 1-1.3 1 .4 1-.6 1 .5 1 4.9 1 2.2 1-5.6 1 1.5 1 4.8 1 1.4 1 1 1-2.5 1 .4 1-2.1 1 .6 1 1.2 1-5.6 1 .6 1 2.6 1-3.9 1-5.2 1 3.5 1 6.9 1-8.7 1-.5 1-3.8 1 10.4 1-7.8 1 .1 1-2 1 9.8 1 .6 1 1.2 1-3.5 1 .3 1 6.5 1-.8 1-3.2 1-2 1 6.9 1-4.6 1-4.2 1 .3 1-2.6 1 1.9 1 6.9 1-1 1-5.7 1-2.8 1-.5 1 5.4 1-.5 1-.2 1 1.1 1-.2 1-.8 1-1.8 1 4 1 7.2 1-4.9 1-2.3 1 2 1 .1 1 1.1 1-.6 1-1.1 1 .9 1-1.5 1 .7 1-1.9 1-3.9 1 1.8 1 1 1 3.9 1-.3 1-5.7 1-.5 1 5.7 1-.9 1-1.6 1-.7 1-1.2 1 3.8 1 4.3 1-.3 1-3.5 1-5 1-.9 1-.5 1 2.1 1 1.8 1-.5 1-.6 1 2.5 1-.9 1-.1 1 2 1-1.1 1 .3 1-1.3 1-.7 1 2.7 1-1.4 1 .9 1 4 1-2.6 1-4.2 1 4.1 1 .5 1-4 1 1.8 1 1.2 1-1.4 1-1.2 1-.8 1 3.3 1 2 1-1 1 .2 1 .4 1-3.5 1 .8 1 2.1 1-3.8 1-2.2 1 2.2 1 4 1 1.4 1-1.7 1-3.4 1-1.3 1 .7 1 1.8 1-.7 1 .2 1 .5 1 .8 1 2.5 1-2.8 1-3.1 1 2 1 .8 1-1 1 3.2 1 .5 1-.7 1-10.2 1 11.8 1 .7 1 .2 1-3.7 1-3 1 3.1 1-17.1 1 19.4 1-7.8 1-2.1 1 3.6 1-.9 1 .1 1 4.6 1-3.8 1 4.8 1-16.4 1-3.9 1 2.2 1 2.8 1-6.4 1-4.3 1 4.6 1 18.8 1 3.5 1-1.6 1-4.6 1-5.7 1 4.3 1 2.4 1 5 1-2.8 1 0 1 2.3 1-1.1 1-1.9 1 1.2 1 1.7 1-.2 1-3.2 1 0 1 3.9 1 0 1-3.4 1-1.7 1 4.2 1-1.5 1-5.2 1 4.1 1 5.4 1 .6 1-2.7 1-4.9 1-2.8 1-1.1 1-.2 1 .4 1 1.8 1 5.6 1 2.5 1-4.7 1 2.9 1 .2 1-1.8 1 1 1 1.1 1-.5 1 2.4 1-.7 1-6.2 1-3.3 1 1 1 1.9 1 .8 1-.5 1 .3 1-2.1 1 1.2 1-1.8 1-.3 1 6.2 1 3.6 1-4.9 1-2.8 1 .9 1-.8 1 3.8 1 1.7 1-2.3 1-.3 1 .1 1-1.6 1 .5 1-23.1 1 3.2 1-.6 1-5.2 1 9.6 1-12.1 1-8.8 1 13.5 1 15.8 1 1.2 1-1.4 1 9.2 1-2 1 4.8 1-2.6 1-2.2 1-3.2 1 5.8 1-5.7 1 1.4 1 6.2 1-3.2 1-.6 1 3.9 1-4.5 1-2 1-3.1 1 3.1 1 4.4 1-9 1-1.2 1 6.2 1 26.4 1-27.8 1 2.1 1-1.7 1 6.5 1-4.6 1-1.2 1 .5 1-4.7 1-43.7 1 48.5 1 1.8 1-.8 1 6.2 1-1 1-5.3 1 3.8 1-.8 1-6.4 1 1.3 1-11 1-14.2 1 17.1 1-1.8 1 2.2 1 25.2 1-28 1 9.2 1 5.5 1 2.5 1-18.8 1 3.2 1 1.3 1-6.4 1 4.1 1 3 1 1.3 1 8.2 1-3.2 1 1.5 1 .8 1 .8 1 2.2 1-5 1 2.8 1 7 1-.7 1-10.1 1-5.9 1 14.1 1 3.9 1-8.8 1-1.8 1-.1 1-7.2 1 2.6 1-.8 1-2.7 1 4.9 1 9.5 1-1 1-3.4 1 1.3 1 6.2 1 .5 1-.6 1-3.1 1-.7 1 5.2 1-2.7 1-4.9 1 2 1-4.2 1-5.9 1-.3 1 3.1 1 4.5 1 3.9 1-.3 1-1 1-.4 1 2.4 1-2.2 1-1.3 1 1.9 1-15.2 1-5.8 1-1.4 1 .6 1 1.5 1 1.1 1-3.2 1 15.1 1 2.7 1 6.3 1-.7 1-1.6 1 2.2 1-.6 1-2.1 1-1.6 1-1.2 1 1.6 1 4 1-.1 1-4.6 1 3.6 1 2.6 1-5.9 1-1 1-2.3 1 4.8 1 9.1 1-5 1-3.5 1 2.3 1 .6 1-.2 1 .6 1-3.9 1-1.6 1-30.1 1 30.4 1-14.3 1 15.5 1-1.8 1-17.3 1 16 1 6.8 1-1.2 1-15 1 12.9 1 0 1-1.1 1 5.4 1-2.4 1 .2 1-18.8 1-3.2 1 3.7 1 3.4 1-2 1-1.2 1 .9 1 17.6 1-1.8 1 .4 1-1.1 1-4.3 1 1.5 1 5.3 1-6.3 1 .6 1 .7 1 2.8 1 5.5 1-.3 1-5.2 1-.2 1 .8 1 .8 1 .1 1 .4 1-.4 1 .5 1-.2 1-2.6 1 .7 1 .1 1-1.3 1 2.8 1 1 1-2.6 1 .7 1 1.5 1-1.6 1-.6 1-2.4 1 .6 1 1.6 1 2.4 1 .1 1 .5 1 .1 1 0 1-.6 1-3.3 1 1.2 1 3.3 1-1.9 1-1.1 1 1.5 1-.8 1 0 1-.5 1-2.2 1 .5 1 1.2 1-.2 1 0 1 1 1 .2 1-2.3 1-.7 1 1.4 1 .1 1-.6 1 .5 1 1.8 1-1.2 1-2.5 1 1.6 1 1.8 1-2 1-2.3 1 4.1 1 1.4 1-2.9 1 .3 1 1.1 1-1.1 1-2.6 1 2.4 1 4 1-2.9 1-2.5 1 1.8 1 0 1-1.6 1 2.3 1 4.2 1-3.3 1-.7 1 0 1 .7 1 2.6 1 .2 1-1.4 1-2.8 1-1.2 1 .8 1 1.5 1-.5 1 1.2 1 .2 1-2.6 1-.3 1 1.3 1 1.5 1-2.8 1 1.1 1 3.6 1-2.9 1-2.3 1 2.5 1 2.5 1-.8 1-1.5 1-.2 1-.5 1-2.4 1 2.3 1 2.8 1-.6 1-.6 1-.7 1-1.3 1 .1 1 1 1-1.9 1-1.3 1 1.5 1 .4 1 .2 1-.7 1-.1 1-.9 1 2.4 1 3.5 1-1.9 1-1.5 1 .3 1-1.7 1 2.3 1 2.1 1-1.3 1-2.8 1-1.9 1 1.4 1 1.3 1 2.1 1-.7 1-1.5 1-.9 1-9.8 1 11.8 1-.9 1 1.3 1-2.3 1 .9 1 .7 1-1.8 1 1.2 1 0 1-1.7 1-9.6 1 8.9 1 .8 1 2.1 1-2 1 .9 1 4 1-6.8 1 2 1 4 1-.8 1 .6 1-4.2 1-.1 1-41.7 1 41.3 1-4.2 1 4.1 1 .8 1 2.6 1 1.9 1-.6 1-3.5 1 4.4 1 1.1 1-3 1-4.9 1-2.9 1 6 1 .6 1-5 1-4.1 1 2.1 1 3.1 1 3.5 1-1.5 1-8.2 1-3.5 1 .9 1-3.8 1-.9 1 1.7 1 .6 1 6 1 5.5 1-3.8 1-13.6 1 17.2 1-4.2 1-1.7 1 11.1 1-2 1 .3 1-12.1 1 .6 1 2.3 1-3.1 1-2.1 1 4.7 1 .6 1 5.9 1-5.5 1 3.8 1 3.4 1-1.2 1 1.7 1 2.2 1 1.7 1-6.5 1-2.1 1 2.9 1 3.8 1-1.9 1 1 1 .3 1-5.7 1 4.6 1 .9 1-4.1 1-3.4 1-3.4 1 .6 1 7.5 1 .5 1-.8 1-4.3 1-5.3 1-4.3 1 5.4 1 .9 1 .7 1 1.4 1-5 1-4.1 1 12.2 1-3.3 1-14.1 1 16.6 1-1.9 1 .1 1 3.4 1-15.3 1 22.3 1-.6 1-1.2 1-7.4 1-2.9 1 1.8 1 1.2 1-1.2 1-1.9 1-15.6 1 29.6 1 26.8 1-36.5 1 .9 1 2.2 1-.6 1-1.6 1 4.3 1 3.8 1-1.5 1-1 1-.9 1-1.9 1-6.4 1-.9 1 4.5 1-5.3 1 1.6 1-.6 1 2.6 1 .6 1 3 1-.3 1-2.5 1-5.7 1-1.4 1 4.2 1-3.7 1 .6 1 .2 1 .3 1-7.6 1-.3 1 2.9 1 11.8 1 3.4 1-1.5 1-4.9 1 2.9 1 .7 1 1.5 1-3.8 1-.9 1-.8 1-.5 1-1.9 1-51.5 1 56.3 1-5 1 1.8 1 7.6 1-4.4 1-4.4 1 .5 1 .8 1 .6 1 1.5 1 2 1 1.9 1-1.2 1 4.1 1 2.1 1-4.5 1 4.3 1 .1 1-12.1 1 8.3 1-13.8 1 14 1 4.1 1-2.6 1 29.2 1-26.3 1 13.7 1-14.4 1-2.8 1 4.7 1 2 1 .3 1-3.2 1-6.3 1-4.6 1 20.3 1-17.7 1 1.8 1 1 1-3.4 1 .8 1 2.7 1 .6 1-.7 1 .1 1-.5 1-1.7 1 1.4 1 2.3 1 2 1-1.7 1-1.7 1 .5 1 0 1 4.3 1 1.5 1-2 1-2 1 .1 1-25.6 1 24.6 1-2 1 .4 1 .4 1 .5 1 2.8 1-1.5 1-3 1 3.2 1 1.4 1-1.8 1-.4 1 1.3 1-.4 1-.4 1 .8 1 .5 1-.8 1 1 1-.1 1-1.8 1 .7 1 .7 1-1.3 1 13.1 1-14.1 1 .8 1 .5 1-1.8 1 .4 1-1.4 1 4.4 1 .4 1-2.7 1-.3 1 2.1 1-.2 1 .5 1-1.7 1-2.3 1-.2 1 1.5 1 .5 1-.8 1 1 1-1.2 1 .6 1 2.7 1-2.1 1-2.1 1-.1 1-.4 1 2.2 1 2.1 1-1 1-1 1-.1 1 2.2 1-.9 1-.5 1 .3 1-.1 1-1.5 1-.2 1 .9 1 .5 1 1 1-1 1 .4 1 .9 1-1.9 1-.3 1 2.3 1-.2 1-.5 1-1 1 .5 1 .1 1-1.6 1-.8 1 1.1 1 2.3 1-.5 1-1.9 1-2.2 1 .3 1 .9 1 2.1 1 .9 1-1 1 .9 1-1.8 1-1.1 1 .9 1-2.6 1 .4 1 4.2 1-1.6 1 2.5 1 1.1 1-6.3 1 2.3 1 .1 1 .6 1 3.4 1-3.8 1-1.7 1 .1 1 1.8 1 1.8 1-.1 1 .5 1-.6 1-.2 1-1.7 1-.4 1 1.3 1 .5 1-.8 1-.4 1 .5 1 3 1-.3 1-2.4 1-8.9 1-1.5 1 .9 1 4 1-25.3 1 23.6 1-14 1 19.8 1-3.3 1 2 1 4.7 1-22.6 1 14.3 1 3.4 1 3.3 1-.4 1-1.3 1 .3 1 .2 1 .1 1-2.1 1-1.4 1 2.4 1 3.5 1-2.9 1-.7 1 1 1 .5 1 .7 1-2.7 1 2.3 1 5.2 1-2.9 1-4.7 1-8.2 1 3.2 1 4 1-9.3 1-2.3 1 .8 1 3.5 1 3.7 1-6.1 1 .3 1 14.5 1 1 1-4.3 1-2.3 1-1.1 1-7.6 1-.5 1 7.4 1-10.9 1 .4 1 2.8 1 0 1 9.1 1-1.2 1-13.7 1 12.1 1 1.8 1 .4 1 1 1 3.7 1-8.5 1 9.7 1-.6 1-10.3 1-6.2 1-.8 1 1.9 1 3.4 1 41.2 1-43.8 1 9.1 1-.6 1 5.3 1 19.6 1-16.7 1 3.1 1-9.6 1-4.1 1 3.3 1 .8 1-1.3 1 .9 1 1.7 1 29.7 1-31.2 1 1.1 1 4.6 1-.4 1-13.3 1 17.5 1-.2 1-5 1-3 1 .6 1 4.1 1-1 1-4.4 1 1.5 1-.2 1 1.1 1-22.5 1 18.2 1-4.5 1 .4 1 1.5 1-8.8 1 7.7 1 4.1 1-11.4 1-5.9 1 1.5 1 3.6 1 10 1 2.3 1-4 1 .4 1-.1 1 .7 1 4.8 1-2.3 1 2.3 1-31.2 1 27.2 1-1.6 1-6.4 1 3.3 1 7.2 1 .5 1-8.6 1-4.4 1 5.7 1-1.1 1 2.5 1-12.4 1 8.3 1-3.6 1 5.3 1 3.3 1 6.2 1-1.3 1 .7 1 1.7 1 1.7 1-2 1-15 1 .7 1 1.1 1 .9 1-2.9 1 .5 1-.3 1 17.4 1-3.5 1 .6 1 7.6 1-6.2 1-.4 1 8.3 1-4.1 1-4.5 1 3.6 1-.7 1-.7 1 11.4 1-8.2 1-1.7 1-2.2 1-24.5 1 21.6 1-1.4 1 .9 1 1.5 1-1 1 3.8 1 1.7 1 2.1 1-1.1 1-2.8 1 33.1 1-32.6 1-2.3 1-2.4 1 .1 1-1 1 1.2 1-2.3 1 1.5 1-3.8 1-13.7 1 13.2 1-9.2 1 12.7 1 2.5 1 3.1 1-.1 1-7 1 .3 1 1.7 1-1.1 1-4.2 1 3.7 1 5.9 1 3.5 1-2 1 .5 1 .6 1-2.8 1-1.1 1-2.7 1 .4 1-2.1 1-12.6 1 13.3 1 20.7 1-17.9 1 2.7 1-3.5 1 .7 1 6.4 1 .8 1-4.3 1-3.4 1 1.3 1 1.2 1-1.4 1-.2 1 1.9 1-.7 1-2.2 1-.3 1 2.4 1 .4 1 .3 1 1.5 1-1.1 1-1 1 .1 1-1.1 1 .2 1 2.7 1 .1 1-2.4 1-.4 1 1 1-1.3 1-.4 1 3 1 1.9 1-.7 1-11.3 1 13.3 1-1.5 1-2.1 1-.3 1-.5 1 0 1-.9 1-.8 1 1.5 1 .7 1-.8 1 1 1 2.6 1 0 1-2.4 1 .7 1-.4 1 .7 1 2.2 1-2.9 1-.3 1 2.6 1-1 1-1 1 .4 1-.3 1-.2 1-.4 1-1.4 1 .5 1 2.2 1 0 1-.3 1-1 1-1.9 1-.3 1 2.8 1 2.1 1-2.5 1-1.1 1 .3 1 1.4 1 1.3 1-1.4 1-11.3 1 11.4 1-.5 1-1.8 1-.6 1-.6 1 .2 1 3.6 1 2.1 1-2 1-1.8 1 3 1 1.6 1-5.8 1-1.1 1 3.4 1-.4 1 .2 1-9.7 1 10.9 1-2.5 1-2 1 2.8 1 1.9 1-1.4 1-3.2 1-.1 1 0 1-1.4 1 1.2 1 2.3 1 1.5 1 2.1 1-.1 1-1.6 1-1.3 1 .4 1 1.7 1 .1 1-2.3 1-1.5 1 3.3 1-9.7 1 2.8 1-.4 1 5.8 1 4.4 1-5.5 1-3.4 1 2 1-.3 1-1.2 1-1.5 1 .2 1 6.1 1-2.7 1 0 1-.2 1 1 1 2.4 1-2.2 1 2.8 1-7.9 1 2.4 1 4.8 1-1.8 1-2.9 1-22.5 1 21.7 1 2.2 1 .5 1 .4 1 3.8 1 2.2 1-17.1 1 7.4 1 4.5 1-.1 1-12.2 1 17.8 1-6.9 1-1.6 1-.3 1 3.1 1-1.8 1-2.9 1 3.6 1-17.4 1 9.6 1 4.9 1 2.7 1-2.3 1-.3 1-4.7 1 4.9 1 4.1 1 .2 1-2.7 1 1.3 1 1.2 1 1.7 1 3.1 1-15.3 1 7.2 1 0 1-3.1 1 6.2 1-5.2 1 5.5 1-1.5 1-10 1 2.1 1 5.9 1-5.5 1-9.5 1-1.7 1 .3 1 5.8 1 .9 1-6.5 1 11.9 1 6.4 1-4.9 1-2.4 1 8.9 1-6.9 1 5.6 1 6.9 1-6.3 1-2.6 1 1 1-.4 1 4.5 1-19.1 1 14.2 1-1.6 1-2.3 1 2.4 1-1.3 1-1.1 1 7.5 1 3 1-6.5 1-1.1 1-.9 1-.8 1 5.2 1 4.5 1 1.5 1-5 1-2.2 1 1.8 1-1.5 1-7.6 1-1.7 1 2.3 1 3.2 1-3.7 1-1.4 1 5.2 1-3.8 1-.5 1 8.4 1-1 1-5 1-14.8 1 15.9 1 4.7 1-1.6 1-3 1-8.6 1-.7 1 5.8 1 .6 1 .4 1 1.2 1-1.7 1 4.6 1-6 1 1 1 3 1-4.9 1 7.8 1-4.7 1-16.3 1-4.4 1 1.7 1 4.9 1 23.3 1-24.3 1 15.9 1-1.9 1 .6 1 4.8 1-2.8 1-4.3 1 3.1 1-3 1 8.7 1 2 1-15 1 13.1 1 9 1-4.9 1-38 1 27.3 1-4.9 1 13.8 1-3.8 1-.7 1-3.6 1 2.3 1 5.7 1-5.4 1-1.1 1 0 1-2.2 1 .9 1 4.6 1 .1 1 6.3 1-.7 1 5.3 1-7.2 1-.7 1 2.1 1-3 1-1 1 1.6 1 3.3 1-1.5 1-2.2 1 2.4 1-.9 1 .6 1 3.2 1-1.4 1-1.3 1 .6 1-1 1-1.3 1-3.1 1-2.3 1 .1 1 4 1 .7 1-1.4 1 2.9 1-4.4 1-1.9 1 2.9 1 1.6 1-1.5 1-.1 1-2 1-1 1 2.5 1 .8 1 2.6 1 .6 1-5.4 1 4.2 1 2.6 1-3 1-11.4 1-1.1 1 2.8 1 1.5 1-1.6 1-1.4 1-.4 1 12.7 1-2.5 1-4.3 1 2.9 1 2.2 1 1.4 1 .3 1-.4 1-.9 1 3.5 1 4.2 1-5.4 1-7.9 1-3.2 1 4.2 1-1.8 1-3.7 1 .6 1 1.9 1 1.2 1 8 1-.1 1 .5 1 1.6 1-1 1-2.8 1-.1 1 3.6 1-2.4 1-.5 1 2.2 1-.9 1-1.9 1-1.2 1 .2 1 1.5 1 2.7 1-3.5 1-2.6 1 3.1 1 2 1-.5 1 0 1-1.3 1 1.4 1-.2 1-2.7 1 1.3 1 1.6 1 .3 1-.3 1-1 1 1.4 1 .1 1-.8 1-.6 1-1.2 1-.5 1-.6 1 1.1 1-.5 1 .2 1 .4 1 0 1 1 1 .2 1-2.2 1-.2 1 .7 1-.5 1 .8 1 2.1 1-1.1 1-3.6 1 .7 1 2.1 1-.2 1 1.3 1 .4 1-1.5 1 .1 1 .1 1 .2 1 1.7 1-.2 1-2.5 1 .4 1 .2 1-1.4 1-.8 1 2.8 1 1.2 1-1.4 1 1.4 1-1 1-.1 1 .7 1 .1 1-.4 1 .6 1 1.4 1-1.3 1-.7 1-.1 1-1.5 1 .5 1 1 1-.9 1 1.3 1-.9 1-1.7 1 1.3 1 .2 1 .5 1 1.1 1 0 1-1 1-.7 1 1.5 1 .2 1-.8 1-1.3 1 .5 1 1.3 1-.4 1-1.1 1-9.8 1 14.8 1-1.1 1-5.9 1-1 1 4.2 1 2.3 1-4.3 1 2.8 1 2.4 1-2.5 1-4 1-.8 1-1.6 1 2 1 1.1 1-15.1 1 16.7 1-.2 1 .1 1 .3 1 .1 1-.5 1 3.3 1 .3 1-4.1 1-.9 1 .7 1 2.8 1 2.8 1-.8 1-4.8 1-1.8 1 3.1 1-1.3 1-.4 1 .8 1-2.1 1 .7 1 .5 1-.3 1 2 1 3.4 1-1.7 1-.5 1 1.9 1-.8 1-.5 1 1.6 1-3.3 1-1.1 1 2.3 1-1.4 1 1.1 1 2.3 1-3.7 1-3.4 1 2.6 1 .2 1-4.4 1 3.2 1 4 1-3.1 1-2.7 1 2 1 .2 1-2.1 1-1.2 1 3.2 1 1.3 1-2.5 1-7.5 1 7.3 1 6.8 1-5.9 1-1.1 1 2.4 1 3.2 1-1.3 1-4.8 1-2.3 1 3.2 1 2 1-.6 1 1 1 1.2 1-.8 1 2.6 1-.3 1-1.6 1-1.4 1 .3 1-13.8 1 60.5 1-47.3 1 1.9 1-1.9 1-5.8 1-1 1 7.7 1-1.5 1 1.7 1 .9 1-8.9 1 .1 1-1.4 1-1.8 1 1 1 1.4 1-2 1 7.3 1-33.2 1 28.2 1 7.9 1 1.8 1-22.9 1-2.4 1 3.9 1 5.6 1 .9 1-3.7 1-1.4 1 14.2 1-1 1-7.4 1 .7 1 3.4 1 2 1-8.4 1 7.9 1 1.2 1-7.4 1-.6 1 30.5 1-28.7 1-2.2 1-6.4 1 13.1 1-.1 1 2.4 1-2.1 1-6.2 1-4.4 1 3.7 1-.9 1 5.6 1 4.5 1-6.2 1 10.6 1-2.4 1-8.2 1 2.1 1-4.2 1-11.3 1-1.9 1-.9 1 7.5 1 .7 1 2.2 1 5.7 1 6.8 1 14.3 1-16.6 1 12 1-1.1 1-5.1 1 5.8 1-.6 1-8.6 1-.1 1-1.3 1-1 1-10.6 1-2.1 1 5.6 1 1.4 1-3 1 4.7 1 5.3 1 10.1 1-2.3 1 .8 1 1 1-4.1 1-5.4 1 .8 1 4.2 1-1.4 1-2.1 1 .5 1 1.9 1 1.9 1-9.2 1 1.6 1 7.9 1 2.9 1 1.6 1-10.5 1-5.2 1-12.4 1 19.9 1-10.5 1-.7 1 .7 1 1.5 1 2.5 1-.1 1-2.8 1 10 1 1.4 1-1 1 .9 1-.3 1-2.4 1 4.6 1-.1 1-25.3 1 15.6 1 3.6 1 .8 1 5 1-6.8 1-2.6 1-5.1 1 10.9 1 1.3 1-.9 1-9.4 1 3 1 1.2 1-1.4 1 5.7 1 1.1 1-7.2 1 6.2 1 2.2 1 2.8 1-1.5 1-2.9 1-2.4 1 4.4 1-1.5 1 1.9 1 5.1 1 .1 1-4.4 1-3.4 1-2.3 1 3.1 1 5.5 1-3.5 1-1.4 1-.6 1-1.4 1 1.2 1 2.6 1-.2 1 2.4 1-.1 1-1.2 1 .5 1-1.2 1 .7 1 .3 1-2.1 1-3.5 1 .2 1-1.3 1 2.4 1-.8 1 .1 1-2.1 1-1.9 1 4.5 1 5.9 1-4.4 1 1.4 1 3.8 1 .7 1 0 1-1.7 1-2 1-3.9 1 .5 1 3.8 1 1.3 1 1.2 1 .2 1-.6 1-2 1-1.6 1 .4 1 2.2 1 .1 1-1.8 1-.6 1-.1 1 1.5 1 16.8 1-16.5 1-2 1 .3 1 3.7 1-.1 1-2.7 1 2 1-2.7 1-1.7 1 2.2 1 .3 1 1.2 1-1 1-.7 1 2.5 1 .5 1-1.8 1 .2 1 .6 1 .2 1 0 1-.8 1-.3 1-.7 1-.1 1 0 1-.6 1 1.1 1-.2 1 .8 1 0 1-.6 1 .1 1 1.1 1 1 1-1.1 1-.7 1 .4 1-1.5 1-.9 1 2 1 1.7 1 1 1-.8 1-2.1 1 .1 1 1.5 1-.9 1 .4 1-1.6 1-2.3 1 1.4 1 1.9 1 .9 1-2 1 1.1 1 2.4 1-2.6 1-3.6 1 2.3 1 2.1 1-1.2 1-2 1 2.5 1 3.5 1-1.8 1-2.9 1-.1 1 3.3 1-1.5 1-1.4 1 .4 1-.5 1-1 1-3.4 1-2 1 2.5 1 5.4 1 .8 1-1.6 1-1.5 1-2.1 1 2.7 1 2 1-4.1 1 3.5 1 3.5 1-.6 1-3.2 1-3.4 1 3.7 1-.9 1-3.7 1 1.4 1-1.9 1 1.4 1 2.9 1-2.2 1-.9 1 3.6 1-1.7 1 .8 1 10.7 1-5.8 1 .2 1-4.4 1-3.1 1 5 1-6.6 1-.9 1-.5 1 6.5 1-2.9 1-.4 1 1.5 1 2 1-1.3 1-1.6 1-6.5 1 2.4 1 1.4 1 .6 1-9.8 1 5.6 1 5.8 1 1.6 1-6 1 4.3 1 2.6 1-2.2 1 .3 1-26.7 1 24.6 1 2.7 1 2.6 1 1.9 1 1.5 1 .1 1-2.9 1-17.3 1 19.6 1-.9 1-2.4 1-4.3 1-1.5 1 .6 1-.4 1 2 1-4.4 1 2.4 1 5.9 1 .6 1-1.2 1-4.2 1-.9 1-.3 1-.4 1-25.6 1 26.5 1 4.7 1-.9 1-.4 1-53.3 1 49.4 1 2 1 1.1 1-2.4 1-2 1 6.6 1-4.9 1 2.8 1 5.9 1-6.4 1-5.8 1-.7 1 4.6 1-2.3 1 16.7 1-23.2 1-1.7 1 12.9 1-27.1 1 26.9 1 6.5 1-5.6 1-3 1 5 1-.4 1-.4 1-8.9 1 1.1 1 4.6 1-3.7 1-1.9 1-6.6 1 7.4 1-1 1-1 1-.7 1-1.5 1 3.1 1 5.4 1-6.7 1 2.6 1-1.6 1 26.4 1-23.4 1-1.6 1 .3 1 .2 1 .9 1-.2 1 .5 1 6.6 1-3.4 1-1.1 1 8 1-3.1 1-4.4 1 3.2 1-2.1 1-7.2 1 4.8 1 .6 1 3.2 1-.4 1-6.6 1-4.1 1 10.2 1 4.4 1-10.3 1-2.1 1 7.3 1 2.3 1-.2 1-1.6 1-3.2 1 3.3 1 5.9 1-1.6 1 .4 1 6.5 1-21.4 1-.6 1-8.6 1-7.2 1 2.2 1-4.9 1-4.2 1 26 1 .6 1 3.8 1 6.2 1 5.8 1-1 1-5.4 1 .2 1 .2 1-3.7 1-1.5 1 2.3 1 3.3 1-2.5 1-.5 1 3.2 1-1.4 1-5 1 1.9 1 7 1-2.6 1-.9 1-2.3 1-10.7 1 2.7 1 3.1 1-3.1 1-2 1-2.5 1-.4 1 10.3 1 2.1 1-3.1 1-.6 1-.6 1 3.7 1 4.2 1-27.8 1-8.3 1 3.7 1-.3 1-4.5 1 1.3 1 2.4 1 .1 1 32.5 1 2.6 1-.9 1-2.8 1-1.4 1 .6 1 5 1 .8 1-4.1 1-1.5 1 .6 1-14.5 1 17 1-.7 1 1.1 1 3.5 1-21.1 1 10.7 1 3.6 1-1.8 1-.2 1 3.7 1 .7 1 .8 1-1.5 1-3.5 1-.2 1 .1 1-1.6 1-.5 1 3.3 1 0 1 2 1-2 1-2.2 1 4.5 1 3.2 1-.2 1-3.4 1 .8 1-.1 1-1.6 1 2 1 1.3 1-.9 1-3.6 1-.7 1-6 1-2.4 1 5.6 1 2.9 1-1.1 1 4.6 1-.6 1 .4 1 .7 1 0 1 .1 1-1.9 1 1.2 1 .4 1-.8 1-.3 1 0 1-.3 1-.2 1 1.6 1 2.6 1-.2 1-3 1 .1 1 1 1-1.4 1-1 1 .9 1 1.4 1-.8 1-1 1 .7 1-1.2 1-.1 1 .2 1-.5 1 1.8 1 1 1-2.7 1-.4 1 .6 1 .5 1 .2 1 1.8 1-.5 1-1.3 1-1.7 1-.6 1 2.7 1-2.7 1 .5 1 1.3 1-.9 1 .7 1-.5 1 1.7 1 .7 1-2 1 1.1 1 2.3 1 1.3 1 .8 1-3.4 1-1 1-2 1-1.8 1 5.4 1 .5 1 0 1-.5 1-2.6 1-.2 1-1.4 1-7.6 1 11.4 1 .2 1-2.3 1-1 1 1.9 1-1.8 1 1.1 1-2.5 1-6.5 1 4.9 1 2 1-2.4 1 1.3 1 1.1 1 2.6 1-1.2 1-2.1 1 .3 1-4 1-4 1 2.3 1-.2 1 2.5 1 9.6 1-4.4 1-27.3 1 24.5 1 7.3 1-4.3 1-1.2 1 13 1-12 1 .1 1-7.9 1 1.9 1 9.3 1-27.4 1 20.8 1-12.6 1 9.2 1 7 1 4.9 1-2.5 1-7.4 1-4.7 1-1 1-1.1 1 8.5 1-33.7 1 22.1 1 14.8 1 .7 1-1 1-4.8 1-3 1 11.4 1 1 1-7.3 1-2.4 1-1.3 1 3.5 1 4.7 1 2.3 1-.4 1-2.5 1-.5 1 .3 1-3.3 1 0 1-1.6 1-.8 1 3.9 1 1.1 1 2.3 1-.6 1-.3 1-.2 1-.2 1 4 1-4.6 1-.7 1 1.5 1-2.1 1 3 1-.9 1 1 1-3.9 1 1.8 1 1.9 1-.6 1-.6 1 2.1 1 .4 1 .1 1-3.3 1 .3 1 2.8 1-1.9 1-1.1 1 .2 1-1.4 1 1.5 1 1 1-.9 1-.5 1 .6" transform="translate(255.40,304.90) scale(0.024943,0.394000)" fill="none" stroke="#F85218" stroke-width="0.25" vector-effect="non-scaling-stroke" stroke-linejoin="round"/></g>
<rect x="255.4" y="206.4" width="174.6" height="137.9" fill="none" stroke="#8a8a8a" stroke-width="0.9"/>
<path d="M255.4 344.3v-1.6M255.4 206.4v1.6M280.34 344.3v-1.6M280.34 206.4v1.6M305.29 344.3v-1.6M305.29 206.4v1.6M330.23 344.3v-1.6M330.23 206.4v1.6M355.17 344.3v-1.6M355.17 206.4v1.6M380.11 344.3v-1.6M380.11 206.4v1.6M405.06 344.3v-1.6M405.06 206.4v1.6M430 344.3v-1.6M430 206.4v1.6M255.4 344.3h1.6M430 344.3h-1.6M255.4 324.6h1.6M430 324.6h-1.6M255.4 304.9h1.6M430 304.9h-1.6M255.4 285.2h1.6M430 285.2h-1.6M255.4 265.5h1.6M430 265.5h-1.6M255.4 245.8h1.6M430 245.8h-1.6M255.4 226.1h1.6M430 226.1h-1.6M255.4 206.4h1.6M430 206.4h-1.6" stroke="#8a8a8a" stroke-width="0.7" fill="none"/>
<g font-size="5.45" fill="#262626" stroke="#262626" stroke-width="0.12"><text x="255.4" y="351.9" text-anchor="middle">0</text><text x="280.34" y="351.9" text-anchor="middle">1000</text><text x="305.29" y="351.9" text-anchor="middle">2000</text><text x="330.23" y="351.9" text-anchor="middle">3000</text><text x="355.17" y="351.9" text-anchor="middle">4000</text><text x="380.11" y="351.9" text-anchor="middle">5000</text><text x="405.06" y="351.9" text-anchor="middle">6000</text><text x="430" y="351.9" text-anchor="middle">7000</text><text x="253.6" y="346.5" text-anchor="end">-100</text><text x="253.6" y="326.8" text-anchor="end">-50</text><text x="253.6" y="307.1" text-anchor="end">0</text><text x="253.6" y="287.4" text-anchor="end">50</text><text x="253.6" y="267.7" text-anchor="end">100</text><text x="253.6" y="248" text-anchor="end">150</text><text x="253.6" y="228.3" text-anchor="end">200</text><text x="253.6" y="208.6" text-anchor="end">250</text></g>
<text x="342.7" y="360.3" text-anchor="middle" font-size="5.95" fill="#262626" stroke="#262626" stroke-width="0.12">Number of days</text>
<text transform="translate(239.66,275.3) rotate(-90)" text-anchor="middle" font-size="5.62" fill="#262626" stroke="#262626" stroke-width="0.12">Rainfall (kg/m2)</text>
<rect x="272.5" y="209.2" width="52.5" height="13.6" fill="#fff" stroke="#a8a8a8" stroke-width="0.6"/>
<path d="M274.4 213.68h15.2" stroke="#86CFF2" stroke-width="1.2"/>
<path d="M274.4 220.07h15.2" stroke="#F7B89A" stroke-width="1.2"/>
<g font-size="4.85" fill="#262626" stroke="#262626" stroke-width="0.08"><text x="291.7" y="215.38">NASA data</text><text x="291.7" y="221.77">ANN prediction</text></g>
<text x="233.5" y="184.5" style="font-family:'Liberation Serif',serif" font-weight="bold" font-size="12" fill="#000">(d)</text>
<clipPath id="clip_e"><rect x="25.4" y="391.4" width="176.1" height="139.0"/></clipPath>
<g clip-path="url(#clip_e)"><use href="#nasa" transform="translate(25.40,478.27) scale(0.025157,0.347500)" stroke="#45B6EE" stroke-width="0.3"/><use href="#nasa" transform="translate(25.40,478.27) scale(0.025157,0.347500)" stroke="#1272CB" stroke-width="0.17"/><path d="M0 0.9l1 .7 1-1.7 1-.3 1 .1 1-1.2 1 1.4 1-.3 1-.7 1-.9 1-1.2 1 2.3 1 .4 1-.4 1 0 1-1.2 1-.1 1-.3 1-.4 1 1.5 1 1.9 1 1.2 1-1.4 1-2.1 1-1.1 1 1.3 1 1.1 1 .2 1 .5 1 1.2 1-.9 1-1.4 1 .6 1-.6 1-.6 1 1.6 1-.8 1-1.7 1 .8 1 1.3 1 1.6 1 .9 1-1.3 1-1.8 1 .4 1-1.4 1-1 1 .6 1-.4 1 1.7 1 0 1-1.2 1 2 1-.1 1-1.7 1-.4 1 0 1 2.2 1 1.1 1-.7 1 39.8 1-40.7 1-.7 1-.5 1 1.3 1 .1 1-2.1 1 .6 1 2.6 1-7.7 1 7.4 1 1.1 1 0 1-.5 1 6.9 1-9.7 1 1.3 1 1.9 1-.3 1-.9 1 1.3 1-1.9 1-49.1 1 52.5 1-1.6 1-4.4 1-.9 1 1.4 1-.7 1 1.6 1 0 1-3.9 1 11.8 1-5.3 1 1.5 1 2.4 1-3.1 1 .3 1 0 1-3.6 1 .1 1 10.8 1-17.6 1 1.4 1 1.5 1-3.1 1 3.2 1 3.7 1 1.1 1 .3 1-8.6 1-1.9 1-1.3 1-3 1 3.2 1 6.3 1 3.8 1-13 1-1.1 1 .2 1 2.2 1 .7 1-2.3 1 1.4 1 15.9 1-4.5 1-2.5 1-1.7 1 1.1 1 3 1 3.7 1-4.2 1-4.2 1-.8 1 4 1-.2 1-19.1 1 10.9 1 32.6 1-55.6 1 8.3 1-11.4 1-.1 1-15.6 1 4.2 1 22.2 1-1.4 1 1.1 1-4.5 1 16.9 1 9.4 1-1.6 1-1.2 1-2.3 1 9.9 1 2 1 5.7 1-.1 1-6.4 1-4.6 1 6.8 1-4 1-7.6 1-3.6 1 3.3 1-1.3 1-9.2 1-6.6 1-1.6 1 7.8 1 7 1 13 1-9 1 9.5 1 1 1-20.7 1 21 1-4.7 1 15.4 1-11.1 1-4.5 1 .5 1 4.6 1-5.7 1-2 1 3.9 1-3.4 1-8.5 1-5 1 14.3 1-3.9 1-8.3 1-.2 1-3.4 1 5 1 2.9 1 6.1 1 3.6 1-2.9 1 8.3 1 .3 1-5.6 1 4.2 1 4.6 1-17.2 1-.8 1 37.5 1-25 1-26.8 1 2 1 3 1 6.7 1-8.9 1-4.1 1 4.5 1 24.1 1-5.7 1 3.3 1 5.2 1-.3 1-3.3 1 7.8 1-.2 1-4.2 1 10.7 1-27.2 1 13.2 1-5 1-5.8 1 6.2 1 .4 1-4.8 1-13.5 1 7.3 1 .1 1-4.8 1 3 1 3.1 1-4 1 12.8 1 .7 1 1.8 1 2 1 1.6 1-2.5 1-3 1 3.1 1 2.9 1-3.3 1-5 1-174.2 1 183 1-1.7 1-12.6 1 6.8 1-.1 1 6.5 1 1.1 1-1.7 1 1.3 1-4.3 1-1.3 1 3.7 1 .3 1-.7 1-2.1 1 .7 1 1.6 1 .3 1 1.2 1-.4 1-1.6 1-.2 1 .7 1 1.9 1-.6 1-2.1 1-1.1 1 .8 1 2.9 1 1.2 1-.7 1-1.6 1-1.1 1 1.3 1 .9 1-2.4 1-.4 1 1.4 1 .1 1 1.3 1 .8 1-1 1-2.2 1-1.6 1 1.3 1 .7 1-.6 1-.2 1 1.1 1 .9 1-1.3 1 1.2 1 .9 1-1.3 1-.5 1-.4 1-.3 1-.4 1-.7 1 .6 1-.6 1-22.7 1 25.4 1-.6 1 .5 1 1.5 1 .4 1-2.2 1-.4 1 2.2 1-2 1-1.4 1 1.5 1 1 1-.1 1-.7 1-.1 1-.4 1 .2 1-.2 1 .7 1 .4 1 .2 1-.5 1-1.4 1-.2 1 2.1 1-.8 1-1.3 1 1.3 1-.1 1 0 1-1.3 1-1 1 1.7 1-.9 1-.8 1 1.7 1 2 1 .9 1 .3 1-1.9 1-1.6 1 .3 1-.3 1-.2 1-.7 1-1.1 1 1.7 1 0 1-1.3 1 2 1 .6 1-.3 1 1.7 1-.3 1-.2 1-.2 1-.5 1 .4 1-1.7 1-.5 1 2.3 1-1.3 1-1.2 1-.8 1 1.4 1-.1 1-.6 1 1.4 1-1.1 1-1 1 .3 1 .3 1 2 1 0 1-2 1 .5 1-.9 1-.1 1 .1 1-.9 1 1.9 1 1.6 1-.2 1-.6 1-.7 1 .5 1 1.4 1-2.6 1-.9 1 1.7 1-1.8 1 0 1-11 1 14.8 1-1.8 1-.8 1 1.6 1 1 1-3 1-1.6 1 0 1 .6 1-2.5 1 4.9 1 1.5 1-1.3 1-3.5 1 .3 1 3.6 1 3 1-.6 1-4.5 1-1.2 1 4 1 .8 1-2.9 1 .7 1 .5 1-1.5 1 1.1 1-4.3 1-.1 1 3 1-3.9 1 2.5 1 4.3 1-.7 1-.4 1 .1 1 .6 1 .5 1-8.3 1 2.2 1 1.8 1 1.9 1-.8 1 4 1 1.4 1-2.2 1 0 1-33.7 1 30.8 1 .8 1-2 1 1.9 1-5.5 1 .8 1 3.8 1 1.6 1-1.5 1 1.2 1-1.9 1-3.8 1 3.7 1-8.6 1-65 1 69.2 1-6.5 1 6 1 7.5 1-7.6 1 7.5 1 1.8 1 4.3 1-7.8 1-3.1 1-.6 1-2.9 1-29.8 1 21.2 1-2.5 1 5.3 1 3.2 1-.9 1-5.8 1 6.9 1 11.6 1-6.4 1-9.8 1 1.5 1 10.2 1 4.6 1-3.1 1-4.2 1-3.3 1 1 1-1.2 1 7.1 1-10.7 1 4.7 1-8.4 1 5.3 1 6.6 1-4.4 1-9.5 1 .7 1-3.2 1 4.8 1 1.9 1-4.4 1 2.7 1 2.9 1 7 1 1.6 1-8.4 1 5.2 1 7.2 1 14.9 1 16.9 1-28 1-5.2 1-19.6 1 3.6 1 .2 1-30.7 1 29.5 1-5.3 1 5.6 1 19.1 1 4.8 1-8.9 1 2.4 1 9.1 1-.3 1-6.7 1 3 1-33.3 1 24.8 1 1.4 1-3.8 1 5.1 1 2.2 1-30.4 1 16 1 7 1-3.1 1-10.4 1 3.5 1-.7 1-5.5 1-.7 1 4.4 1 6.1 1 14.5 1-11.1 1-5.6 1 3.4 1-2 1 4.9 1 5 1-6.4 1 7.2 1-1.8 1-5.9 1 3.2 1 4.8 1-1.8 1 4.3 1-1.1 1-2.2 1 1.2 1 4.6 1-12.9 1-3.2 1 4.1 1 .1 1-3.3 1 1.4 1-.4 1-8 1 2.5 1 21.5 1 .6 1-1.8 1-5.9 1-9.7 1 10.6 1-5.1 1-16.2 1 1.1 1-1.7 1 .7 1-.5 1-2.1 1-1.6 1 22.9 1-.3 1-4.8 1 2.6 1 4.6 1 6 1 1.4 1-2.8 1-.7 1 2.3 1-1.2 1-3.9 1 3.4 1 2.6 1-.7 1-1.5 1-3.7 1 3.3 1-.7 1-4.6 1 8.4 1-4.7 1-3.4 1 1.8 1 1.5 1 1.9 1-.2 1-.5 1 .5 1-2.5 1 .5 1 1.7 1-1.1 1-2 1-.4 1 1.4 1-.6 1-1.9 1 2 1 1.1 1 1.6 1 .9 1-.7 1-.2 1-.5 1 2.3 1-1.1 1-1.1 1-.5 1-2 1 .6 1 1.4 1-88.3 1 89.8 1 .2 1-2.1 1-.8 1 1.5 1-.8 1-1.4 1 2.1 1 .2 1 0 1 1.1 1-.6 1-2 1-2.2 1 2.7 1 2.1 1-1.2 1-.7 1-.6 1 1.1 1 .1 1-.1 1 .8 1-1.2 1-1 1 1.1 1-.7 1-.1 1 1.5 1-.2 1-.8 1 .5 1-.8 1-.2 1 1.2 1-.8 1 .2 1 1 1 0 1-1.3 1-1.1 1 .1 1 1.3 1 1.3 1 .1 1-.1 1-.7 1-.5 1 1 1-.7 1-.2 1 .8 1-.1 1-.9 1-1 1 .9 1-.3 1-.7 1 1.8 1 .6 1 0 1 .5 1-.4 1 .6 1 .5 1-1.2 1-1.1 1-.4 1 .2 1 .8 1 .1 1 .1 1 .5 1-.4 1 .2 1 1.2 1 .3 1-.8 1-.7 1 .1 1-.5 1 .5 1-.1 1-.7 1 .1 1 1.7 1-.8 1-2 1 .4 1-1.1 1 1.4 1-.1 1-.8 1 1 1-1.2 1 1.6 1 .9 1-.4 1 0 1 .9 1-1.1 1-1.7 1 1.5 1 1 1-1.4 1-.3 1 .5 1 .6 1 .4 1 .5 1 9.8 1-10.3 1 1.1 1-1.8 1-1.8 1 1.9 1 1.8 1-1.7 1 .6 1 1.7 1-.8 1-.4 1-.8 1 .2 1 1.4 1-.5 1-2.2 1 .7 1-1.9 1 0 1 2.1 1-3.4 1 22.1 1-18.4 1 1.8 1 45.7 1-47.3 1-.3 1 1.1 1-1.5 1-2.5 1 .5 1-2.8 1 4.4 1-1 1-3 1 1.3 1-2.9 1-1.5 1-62.5 1 68.8 1-.1 1-.6 1-12.6 1 12.2 1-1.4 1 5.3 1-1.3 1-2.6 1-.4 1 1.2 1 4.6 1 1.6 1-6.4 1-4 1 2.8 1-30 1 28.3 1-2.5 1 2.1 1 2.8 1-9.1 1-.2 1-1.5 1-3.9 1-2.4 1 2.5 1-2.8 1 10.7 1-1.3 1 3.3 1-1.8 1-14.1 1-.6 1 3.6 1 1.5 1 2 1-2.4 1-1.3 1 17.1 1 2.2 1-.2 1 1.6 1-1.4 1-5.1 1 2.8 1 7.8 1 .8 1 1.2 1-4 1-1.6 1 2.8 1-.6 1-2.7 1 0 1-5 1-.6 1 4.6 1-5.7 1-2.4 1-4.9 1 2.5 1 1.1 1-3.2 1 8.3 1 2.7 1-8.4 1 9.1 1 7.1 1-7.7 1-1.6 1-.9 1 1.4 1-3.5 1 .7 1 2.6 1-4.1 1 3.6 1-.6 1-1.2 1 3.1 1 .5 1 7.4 1-1.4 1-12.8 1-2.4 1 7.6 1 .5 1-2.4 1-12.6 1 6.8 1 8.5 1-7.5 1 2.5 1 6.7 1-.7 1-5 1-20.4 1 6 1 6.6 1-5.4 1 7 1 2.6 1-20.6 1 28.4 1 11.8 1-60.6 1 49.1 1-18.7 1 13.5 1 6.8 1-5 1-24 1 32 1-5.3 1 2.4 1-5.2 1-1 1-.1 1-1.2 1 .5 1-1.4 1 .9 1 2.5 1 1.8 1 1.8 1-1.4 1-3.5 1 3.2 1-.2 1 .3 1 2.8 1 .3 1-.2 1-5.9 1-.1 1 1.5 1-2 1-4.2 1-2.9 1-2.6 1 1.8 1 1.4 1 8.4 1-4.5 1-4.3 1-1.7 1 3.9 1-.2 1-4.6 1 .1 1 11.3 1 1.6 1-.7 1-1 1 2.1 1-12.3 1 2.1 1 .1 1-20 1 18.9 1 2.6 1-5.8 1 9 1 .4 1 1 1 .8 1 1 1 4.2 1 28.1 1-30.3 1-3.9 1 .2 1 .2 1 1.1 1 1.2 1 2 1 1.8 1 2.1 1 3.6 1-1.2 1-4.6 1-.8 1-1.1 1 1 1 3.9 1-12.2 1-1.3 1-2.7 1-1.7 1 1.3 1-.7 1 1.3 1 10.1 1-1.1 1 1.1 1 1 1 .7 1 3.6 1 .2 1-.8 1-3.4 1 .4 1 2.1 1 2.7 1-1.3 1-2 1-1.2 1-.9 1-.2 1 1.7 1 .8 1-1.2 1 .8 1-1.9 1 2.9 1 .9 1-.9 1-.7 1 1.5 1-.1 1-3.8 1 1.6 1 .8 1-.2 1-.2 1-1.5 1 1.7 1-.3 1-1 1 1.3 1-.6 1-.9 1 .3 1 0 1-.6 1 1.5 1 .3 1 23.7 1-24.7 1-.3 1 .6 1 2.1 1-.7 1-1.6 1 .5 1 .7 1-2 1-.3 1 2.7 1-.4 1-1.5 1 1.5 1-.1 1 .7 1 .7 1-2.6 1-1.3 1 .5 1 .2 1 1.2 1 .6 1-1.1 1 1.6 1 .6 1-2 1-.8 1-.3 1-.1 1 .2 1 1.5 1 1.4 1-.2 1 .6 1-1 1-2.3 1-.4 1 1.1 1 .1 1 .1 1 .2 1-1 1 1.3 1 1.3 1-1.1 1-2.9 1-.2 1 2 1-.6 1 1.1 1 2.9 1 .4 1-.7 1-2.4 1-.8 1 1.7 1 0 1 .2 1-.1 1-.3 1-.8 1 .1 1 2.2 1-.5 1-1.8 1 1.1 1 .2 1 .2 1-1.9 1-1.7 1 1.6 1 1.5 1-.4 1-1.2 1 .4 1 .9 1-1.4 1-.1 1 .9 1-1.5 1 1.8 1 .8 1-2.1 1 20.7 1-18 1-.5 1-3.6 1 .2 1 1.9 1 1.4 1 .5 1-1.3 1 1.4 1 1.8 1-1.6 1-1.3 1-.1 1 .1 1-1.9 1-.1 1 1.8 1 .9 1 1.2 1-.9 1-4.6 1-1.6 1 5.6 1-.5 1-2.1 1 4.5 1-.4 1-.6 1 1.4 1 .1 1-.9 1 1.8 1-2.1 1-6.1 1 2.6 1 6.4 1-6.3 1-.2 1 1.3 1-1.3 1-2.5 1 1.9 1 .5 1 .2 1 3.1 1 .7 1 1 1 2.3 1-1.1 1-7.2 1-1.4 1-1.5 1 4.2 1 3.8 1 1.2 1 1.7 1-18.8 1 15.8 1-.9 1 .7 1 1 1-32.3 1-13.3 1 .7 1 2.8 1 5.3 1 3.4 1-3.8 1 33.8 1-1.5 1 .9 1 2.8 1 4.4 1-2.8 1-5.6 1-1.9 1 4.6 1 1.3 1-5.8 1 4.1 1 3.9 1-.2 1 10.9 1-11.9 1-1 1-3.7 1-2.6 1-2.9 1-8.7 1 .2 1 5.9 1-2.9 1-3.8 1-45.2 1 50.1 1 9.5 1-2.5 1 7.4 1 37 1-43.2 1 3.6 1-.1 1-8.5 1-14.4 1-6.9 1 17.4 1-3.8 1-9.3 1 7.3 1 6.9 1-4.5 1 14.9 1-3.4 1-4.3 1 .9 1 1.8 1 4.8 1-.1 1 1.7 1-.8 1-5 1-5.3 1 3.4 1-2.7 1 2.3 1-1.9 1 2.3 1 6.2 1-2 1-4.8 1-.5 1 4.5 1 6.1 1-2.6 1 0 1-1 1-7.3 1 .7 1 9.3 1 4.1 1 2.4 1-3.9 1-7 1 5.1 1 27.9 1-38.3 1-6.5 1 23.3 1-17.9 1 1.3 1-75 1 77.5 1 .5 1 .1 1 2.5 1 1.6 1 4.4 1-6 1-8 1 9.5 1-16.1 1 8.4 1 5.7 1-5 1 .6 1-2.1 1-11.2 1-1.6 1 19.7 1 .5 1-7.2 1 1.8 1-10.6 1 1.6 1 1.4 1-75 1 83 1-3.1 1-5.2 1 11 1-.7 1 0 1 6.6 1 1.6 1 .7 1-5.5 1-3.3 1-16.5 1 15.6 1 2.8 1-3.3 1-3.2 1 7.5 1-.7 1 11.4 1-17.8 1-.1 1 6.1 1-12.4 1 7.5 1-2.6 1-5.4 1 1.4 1 2.4 1-5.5 1 10.3 1 1.9 1 24.6 1-22 1-4.8 1 7.1 1 .2 1 3.6 1-.8 1-4 1 .7 1-.8 1 22.4 1-21.4 1-.5 1 .1 1 3.2 1-.1 1-.6 1-5.1 1 2.1 1 7.8 1-2.3 1-3 1 3.7 1 2.5 1-1.7 1-3 1-17.5 1 14.8 1-.6 1 2.5 1 1 1-2.1 1-1.8 1 5.8 1 1 1-24 1-2.1 1 1.2 1 2.4 1-13.8 1 15.3 1-4.4 1 21.2 1 1.5 1-.9 1-1.6 1-3 1 1.4 1-.8 1 .8 1 .2 1-2.9 1 .3 1 6.5 1-1.6 1-4.1 1 .4 1 2.6 1 1.3 1-.7 1-1.6 1-3 1-1.4 1 5 1 .7 1-2.9 1 .2 1 2.1 1 1.6 1-1.7 1-1.3 1 1.7 1 1.8 1 2.5 1-2.7 1-1 1 1.9 1 .2 1-1.2 1-.8 1 .5 1-2.8 1-.8 1 1.9 1 2.6 1-.6 1-2.5 1-.2 1 .8 1 2.1 1 .8 1-2 1-1.2 1 .2 1-1.2 1-.4 1 1.6 1 .5 1 1.7 1 .7 1-2.3 1 .9 1 .5 1-2.1 1 .5 1 .3 1 .7 1-.8 1-.2 1 3.4 1-.8 1-1.6 1-1.2 1-1.2 1 1.6 1-1 1-.2 1 2.3 1-1.1 1-2.3 1 1.3 1 .3 1-1.6 1 1.5 1 4.3 1-1.4 1-2.4 1-.5 1-.3 1 1.3 1 1 1 .6 1-.4 1-.2 1 117.6 1-120.1 1 1.1 1-.5 1-.1 1 1.8 1-1 1-.6 1 1 1-.4 1-1.9 1 1.7 1 1.3 1 .8 1-.3 1-3.8 1-.4 1 2 1 .1 1 .8 1-.1 1-.5 1 .9 1-1.1 1-.4 1 .4 1 .5 1 .1 1-.9 1 .2 1-.7 1 0 1 1.2 1-.2 1-.4 1 .5 1 1.7 1-.5 1-.4 1 .7 1-1.8 1-.4 1-2.2 1-6 1 11.8 1-1.1 1-2.6 1 .3 1 1.4 1 1.7 1 1.3 1-2.3 1-1.7 1-.9 1 3 1-.7 1-3 1 .2 1 2.7 1-1.3 1 1 1 2.8 1-2.5 1-1.2 1-.9 1 1.7 1-2.7 1 2.1 1 3.8 1-2.4 1-2.6 1-1.2 1 2.8 1-2.7 1-2.9 1 1.7 1-4 1 3.1 1 3.5 1 5.1 1 .9 1-5.7 1-1 1 1.2 1-4.7 1 4.5 1 19.1 1-23.8 1 .1 1 4.1 1-11.1 1 12.7 1-65.5 1 73.4 1-3.4 1-5.9 1 2.1 1-1.5 1-1.6 1 2.2 1-1 1-2.1 1-4.1 1-1.4 1 .7 1-2 1 1.1 1-1.3 1-1.8 1 1.4 1 1.9 1 .5 1-2 1 2.3 1-9.8 1 5.1 1-.6 1-2.6 1 2.7 1-1.9 1-1.3 1 6.9 1-1.5 1 0 1-6.4 1-26.9 1 35 1 .7 1-.3 1-8.1 1 1.5 1 6.9 1 1.4 1-.8 1 68.3 1-65.4 1-.9 1-5.7 1-5.8 1-1 1 1.3 1 2.1 1 1.4 1-.2 1 4.8 1 11.9 1-.2 1 4.5 1-8.1 1-4.4 1-5.9 1-1.9 1-8.6 1 5.8 1-5.4 1-1.3 1-2.7 1 12.9 1 7.4 1-10.8 1-.4 1 10.2 1 2.1 1 2.4 1 7.1 1-32.9 1 24.3 1 6.5 1 2.1 1-7.3 1-7.2 1-2.9 1-6.6 1 8.7 1 13.6 1-7.4 1-7.1 1-5.7 1 12.8 1-1.5 1-.6 1 1.6 1 27.6 1-21.9 1-1.3 1-13.5 1 5 1-1.2 1 .1 1 4.7 1 5.2 1-4.7 1 .9 1-3.1 1 .1 1-.1 1 1.3 1-1.4 1-9.2 1-.1 1-.5 1 1.8 1 3.8 1 2.2 1-29.4 1 34.9 1 33 1-27.4 1-4 1-.9 1 1.7 1 1.9 1 .7 1-7.3 1 4.4 1-6.3 1-.2 1 4.3 1 14.8 1-12 1 0 1-1.4 1-18.9 1-2.3 1 8.2 1 5.4 1-3.3 1-3.7 1-3.1 1 15.4 1 .4 1-2.6 1 2.1 1 5 1-.4 1-3.2 1 .5 1 3.3 1-2.2 1-4.7 1 .6 1 4.2 1-.9 1-2.5 1 .3 1 21.2 1-16.5 1-.1 1-3.9 1-1.1 1 .9 1 .4 1 4.3 1-1.8 1 3.2 1-13.7 1 22.2 1-15.9 1 2 1 3.7 1 1 1 3 1-3 1-3.8 1 2.9 1-5 1-1.5 1 2.7 1-1.7 1-3.5 1 .8 1 3.1 1 5.3 1 .1 1-.7 1-75.5 1 77.5 1 2.1 1 .6 1-.7 1-3 1-1.5 1 1.9 1-1.4 1 .7 1 .6 1-1.3 1-2.2 1 0 1 1.4 1 1.6 1 .2 1-1.4 1-2.1 1 .1 1 2.7 1 1 1-.6 1-.8 1-2 1-.7 1 .9 1 1 1 2.1 1-3 1-3 1 1.7 1 1.3 1 1 1-.6 1-3.2 1 1.1 1 2.3 1-.8 1 .8 1 .8 1-.3 1 .7 1 11.7 1-12 1 .3 1-.9 1-.2 1 .1 1 1.4 1 .1 1-.9 1-1.1 1-.1 1 .2 1 0 1 .8 1 .3 1 1.3 1 .8 1 .2 1-.8 1-2.9 1 .8 1 .5 1-2.5 1 .8 1 1 1 .2 1 1.4 1 .5 1-.3 1-14.2 1 12 1 .8 1-.8 1-.7 1 1.6 1 .1 1-2.2 1-.8 1 2.4 1 .9 1-1 1-.6 1-1.4 1 3.3 1 1.1 1-1.1 1 .5 1-2.3 1-.8 1 1.8 1-.3 1-.4 1 1.6 1 7.4 1-6.1 1-.3 1-1.4 1-.5 1-.1 1 .1 1-.4 1-1.6 1-.5 1 .1 1-1.9 1-1.4 1 2.2 1 2.4 1 16.6 1-20.5 1 .6 1 4.3 1-40.2 1 41.3 1-1.6 1 1.8 1 3.8 1-2.4 1-1.5 1 .2 1 1.8 1 1.4 1-4.1 1-.6 1 3.9 1-1.6 1 52.3 1-53.9 1-3.4 1 2 1 1.4 1-2.5 1 .2 1 1.1 1-3.3 1-2.5 1 8.6 1-6.3 1 1.9 1-1.3 1-1 1 1.9 1 7.3 1-5.1 1-6.2 1 2.2 1 1.1 1-.8 1-1.3 1-3.7 1-2.1 1 3.6 1-4.8 1 11.3 1 .2 1-4.3 1 4.4 1-.5 1 4.9 1-.2 1-2.2 1 3 1 3.3 1 12 1-23.8 1-9.6 1-5.5 1 3.3 1-7.7 1-2.8 1 8.6 1-.2 1 3 1 3.6 1-4 1 6.6 1 4.3 1 6 1-.9 1-1.2 1 3.3 1-4.4 1 1.7 1-1 1 8.7 1-8.1 1 4.3 1-5.5 1-3.8 1 3.7 1 4.9 1 2.8 1-5.1 1-1.5 1 3.8 1-.1 1-3 1 .4 1 4.5 1-9.7 1-8.3 1 .2 1-2.3 1 9.6 1 2.7 1 16 1-18.9 1 1.4 1 2 1-2.1 1 2.5 1-2.8 1 5 1 4.3 1-3 1-5.2 1-3.7 1-132 1 135.7 1-1.1 1 .9 1-1.4 1-22.8 1-8 1 11.5 1-.3 1-17.9 1 11 1 8.6 1 20 1-7.6 1-1.3 1 3 1 2.5 1 7.1 1-5.6 1 5.5 1 10.4 1-6.5 1-11.9 1-.6 1-.2 1 5.4 1 4.5 1-2.2 1-3.3 1 2.7 1-.4 1 9.5 1-12.5 1 .8 1 2.3 1 4.7 1 .6 1-3 1-.9 1-.1 1-2.3 1-.3 1-6.2 1 1.3 1 3.5 1 2.7 1 3.8 1 .7 1-3.8 1-5.5 1-5.1 1-4.8 1 6.9 1 0 1 6.4 1 3 1-.4 1 3.4 1-.6 1-3.1 1-4.2 1-13.3 1-5.1 1 1.7 1 3.8 1-6.1 1-6.8 1 4 1 19.7 1-2.5 1-5.8 1 1.9 1 9.5 1 4.2 1-5.6 1 3.8 1 3.4 1-4.3 1 .9 1 .9 1-3.5 1 2.7 1 2.7 1-4.5 1 6.4 1-.8 1-.3 1-1.3 1-4.3 1 .3 1-.5 1 2.4 1 3.6 1-2.9 1-3.9 1-.5 1 3 1 .3 1-2.9 1 4.8 1-.6 1-3.1 1 2.5 1 3.2 1 .3 1-17.7 1 13.5 1 2.2 1 1.5 1 .4 1-3 1 1.9 1-.1 1-2.4 1 .4 1 .5 1 2.3 1-47.8 1 41.4 1 3.6 1 1.1 1 0 1 3.5 1-.7 1-2.8 1 .7 1 .9 1 .8 1-1.2 1-3.4 1-.7 1 2.4 1-1.1 1 .7 1 .4 1-.6 1 .6 1 1 1 1 1 .4 1 .3 1-30.4 1 27 1-.2 1-.2 1 .5 1 1.1 1 2.2 1-1.2 1-1.4 1-.7 1 1 1 1.8 1-.4 1 20.6 1-22.5 1 .7 1 .7 1-.2 1-1.6 1-.5 1 1.8 1-.1 1-2.5 1 0 1-.1 1 .7 1 1.4 1-2.4 1 .8 1 2.1 1-.6 1-.6 1-.1 1-1.2 1-1.2 1 .7 1 .7 1-.1 1 1.7 1 .2 1-.2 1 .7 1-2.2 1-1.2 1 2.2 1 .8 1-.8 1-.3 1-58.4 1 60.1 1-.7 1 .5 1 .6 1-1.3 1 .1 1-1.7 1 .5 1 2 1-1 1 1.2 1 1.6 1-2.5 1-.9 1 .8 1-1.3 1 1.4 1 1.5 1-1.1 1-.2 1 .4 1 1.8 1-.7 1-.5 1 .3 1 .2 1-.6 1-.7 1-.3 1-1.6 1 1.8 1 2.1 1-.6 1-1.6 1-.9 1 .7 1 .4 1-.9 1-.1 1 1.5 1-.1 1-1.7 1 1.2 1 .9 1-1.4 1 .4 1 .6 1-.4 1-.3 1-.1 1 .7 1 .4 1-1.3 1 .7 1 1 1 .5 1-.6 1-.4 1 0 1-2.2 1 .7 1 1.5 1-.2 1-1.4 1-.8 1 1.4 1 .1 1-.5 1 0 1-.4 1 .2 1 .1 1 .6 1-.7 1 .8 1 2.1 1-1.1 1-1.1 1-.4 1-.9 1 1 1 2.4 1-3.1 1 1.5 1 2.7 1-3.1 1 .8 1-2.4 1-.8 1 3 1 1.7 1-4.6 1-1.4 1 .8 1 4 1 .2 1-.7 1 2.1 1-1.1 1-3.4 1-1.1 1 0 1 1.6 1 2.3 1-2.3 1-1 1 3.1 1-.2 1-.4 1 .6 1-3 1 .6 1 9.8 1-7.7 1-.4 1 .3 1 1 1 1.2 1-30.6 1 23.9 1-.2 1 25.8 1-22 1-.2 1-.5 1 1.1 1-4 1 .6 1 .3 1-1.1 1-36.3 1 41 1 1.8 1-4.2 1 2.1 1 5.4 1-4.5 1-2.1 1-.5 1-3.3 1 3.5 1 4.2 1-6.2 1-49.3 1 52.2 1 .7 1-3.2 1-.4 1 4.4 1 1.7 1-3.1 1-2 1 2.1 1-.5 1 15.4 1-13.8 1-4.1 1 5.2 1 4.5 1-2.2 1 15.7 1-19.6 1 .6 1-24.3 1 22.7 1-.1 1 5 1 4.2 1-3.5 1-1.2 1-3.8 1-1.2 1-22.1 1 17.7 1 4.7 1-.3 1-8.2 1 1.1 1-2.7 1-2.3 1-7.2 1 1.4 1-1.6 1 7.5 1-2.2 1-3.1 1 1.3 1 5.9 1-4.9 1-.1 1 5.6 1-3.2 1 4 1 2.4 1-4.2 1-1 1-2.3 1-8.3 1 20.4 1-3.7 1 .3 1 6 1-2.2 1 3.8 1 1.5 1-10.1 1 2.4 1 3.7 1-6.8 1 6.5 1-1.6 1-2.6 1 6.8 1 8.9 1 4.5 1-15.5 1 3.1 1-1.9 1-1.4 1 0 1-.6 1 .8 1 .1 1 .2 1 3.2 1-1 1-5.2 1-4.5 1 2.8 1 4.6 1 2.6 1-3.1 1-6.2 1-1.2 1 3.8 1 2.9 1 1.2 1-5.8 1-4.4 1 0 1-.1 1-.1 1 3.7 1 3.8 1-.4 1-3.6 1 1.2 1 4.6 1-.3 1-12.5 1 8.7 1 4.6 1 1.6 1-6.5 1 1.4 1 1.7 1-2.7 1-17.9 1 4.8 1 1.3 1-5.2 1-1.3 1 .7 1 .3 1 23.6 1-4.6 1-1.9 1 .8 1-2.1 1-4.2 1 5 1 8.6 1 1.3 1-6 1-5 1-16.6 1 22.5 1 4.5 1-1.8 1-10.4 1-1.4 1-1.5 1 16.7 1-4.3 1-7.2 1 .4 1 6.9 1 5.6 1-4.7 1-2.4 1-.2 1 2.2 1 1.6 1-1.4 1-.1 1-4.9 1-4.5 1 7.1 1-4.2 1 4.3 1-9.3 1-.5 1-2 1-42.6 1 56 1-7.3 1 .7 1 5.7 1-2.8 1-4.4 1 2.7 1 5.4 1-1.8 1-1.5 1 1.2 1 1.5 1-.5 1 .4 1-1.5 1-1.3 1 3.7 1-1.8 1 .2 1 8.1 1 1.1 1-5.6 1-3.3 1-3 1 2.2 1 .7 1-1.9 1 2.7 1 1.7 1 2.2 1 1.4 1-4.9 1 0 1 .7 1-.8 1 .6 1 1.9 1-.9 1-2 1 2.4 1-5.9 1 1.9 1 5.2 1-3.4 1-1.9 1 2.3 1 1.3 1-2.1 1 .5 1 .3 1 .3 1 1.2 1-1.5 1 .5 1 .5 1-.4 1 1.3 1-2.2 1-.5 1 7.1 1-4.9 1-15.4 1 14.6 1 .4 1 .3 1 1.5 1-1.7 1-2.1 1-.3 1-1.3 1-.7 1 1.4 1 1.5 1 .7 1-1.2 1-.8 1 1.1 1-8.3 1 9.7 1-.5 1-.4 1 0 1-.5 1-1.5 1-.4 1 1.2 1 .1 1-.6 1-1.3 1 2 1 2.1 1-1.6 1-2.2 1-.3 1 .8 1 1 1-.1 1-1.3 1 1.4 1 .8 1-1.9 1-.2 1 1.7 1-.1 1-.3 1 .1 1-.9 1 .5 1 .6 1 .1 1 2.4 1 1 1-1.8 1-2.1 1-.8 1 2.5 1 .6 1-.8 1 2.7 1-.6 1-1.4 1-1.1 1-1 1 2.1 1 .8 1-2.2 1-.9 1 .1 1 .9 1 1.7 1-1.8 1-2 1 1.3 1 1.5 1-.5 1-.9 1 2 1-.1 1-2 1 1.2 1 10 1-11.5 1 1 1 1.2 1 1.1 1-1 1-1 1-.4 1 .6 1-.2 1 .8 1 .4 1-.5 1 .6 1-.8 1-.4 1-.5 1-.8 1 2.6 1 .1 1-1.3 1 .8 1-.4 1-.5 1 1 1 1.5 1-.2 1-.5 1-1.1 1-.8 1 .9 1-.7 1-.5 1 1.8 1-1 1 .8 1-.1 1-3.3 1 .6 1-1.3 1 1.2 1 5.2 1-2.8 1-2.5 1 1 1-.4 1 21.9 1-21 1 1.2 1-1.6 1-1.3 1 1.9 1-2.6 1-.1 1 1.2 1-.6 1 .4 1 2.8 1-.9 1 1.3 1 3 1 1.9 1-12.8 1 7.3 1-1.8 1-22.9 1 23.7 1-.4 1 1.8 1-1.3 1 2.2 1-2.2 1 1 1 10.9 1-13.5 1-2.5 1 5.9 1 .9 1-12.5 1-1.1 1 1.5 1-1.5 1-2.4 1-.4 1-.2 1 12.8 1-1.9 1-4.8 1 2.9 1 1.9 1-.9 1 2.6 1-28.4 1 25.9 1 11 1-11.9 1 4.8 1 2.1 1 2.5 1-2.2 1-1 1-4.1 1-7.8 1 10.8 1-1.2 1 4 1-1.1 1 .5 1-1.2 1 1.4 1-4 1-2.2 1 6.4 1-8.9 1 1.4 1 58.1 1-51.8 1-1.8 1-3.5 1-1.4 1 2.2 1-2.3 1 1 1 7.9 1 6.5 1-8.3 1 2.3 1-20.4 1 14.3 1-4.2 1 3.6 1 3.5 1 3.2 1-10.1 1-1.8 1 3.1 1-3.3 1 7.3 1-4.3 1-.6 1 13.9 1-20.1 1 2.7 1 11.8 1-9.2 1 2.4 1-4.9 1 10.1 1-46.6 1 49.5 1-5.3 1 .4 1-4.2 1-5.8 1 1.9 1 2.8 1 2 1 .1 1-7.5 1 11.1 1 5.6 1-7.1 1-12.2 1-4.9 1 2.3 1 5.2 1 0 1-10.3 1 11.5 1-10.8 1 4.1 1-3.7 1-2.1 1 10.8 1 5.9 1-5.9 1-35.4 1 46.5 1-.1 1 4.4 1-8.9 1-6.8 1-14.8 1-.2 1 3.3 1 14.7 1 2.3 1-10 1 .9 1 4.1 1-2.5 1 4 1 2.9 1-.1 1 4 1 5.7 1-3.3 1-3.1 1 1.7 1-12.4 1 3.6 1 2.8 1 2.8 1 10.5 1-.9 1-1.4 1 2 1-3.9 1-6.8 1 3.4 1-15.3 1 7 1-5.4 1 6.5 1 .2 1-2.7 1-1.8 1 1.6 1 1.3 1 .1 1-3.1 1-4.7 1 3.7 1 4.1 1 21.5 1-2.1 1-12.4 1 .2 1-.5 1 3.8 1 1.8 1-.4 1-.3 1-71.1 1 72.4 1 1.8 1-2.4 1 .6 1-128 1 127.8 1 .8 1-1.7 1 2.6 1-.5 1-.9 1 1 1-2.3 1-.3 1 4.5 1 3.1 1-11 1-3.2 1-.6 1 4.4 1 2.5 1-1.1 1 1.5 1-3.2 1-1.1 1 4.3 1 2.4 1-1.7 1-2.1 1 .3 1 15.7 1-19.5 1-1.8 1-2.8 1 5.2 1 5.7 1-1.3 1 .7 1-2.3 1-2.4 1 2.1 1 3.5 1-.9 1-.5 1 1.8 1-.3 1-2.5 1 1.2 1 1.5 1-3.6 1 1.7 1 1.6 1-4.1 1-.4 1 .5 1 .1 1 1.5 1 .4 1-1 1-1 1 2.1 1 4.4 1-.3 1-1.8 1-1 1-.9 1 .1 1-1.8 1 .9 1 1.1 1-.9 1 .9 1 .5 1 .1 1-.8 1-.7 1-.2 1-2 1 .2 1 2.2 1 .2 1 .4 1 1.2 1-.4 1-1.4 1 .4 1 .5 1 1.1 1 .6 1-3.1 1-1.3 1-.7 1 .6 1 1.6 1-.6 1 1.3 1 .7 1-1.6 1 .7 1 .7 1-2.7 1 .3 1 2.4 1-.3 1-.2 1-1.8 1 1 1-17.7 1 18 1-.7 1 1.4 1-2.2 1 1.1 1 1.6 1-1.5 1 1.3 1 10.1 1-9.9 1-1.9 1 .6 1 2.9 1-.3 1-1 1-1.7 1-1.8 1 .3 1 1.8 1 2.7 1-2.9 1-1.4 1 1.5 1-.9 1 .8 1-.4 1 1.2 1 4.5 1-.2 1-4.2 1-2.5 1 5.6 1-.7 1-3.1 1 3.1 1-3 1-1.6 1 .6 1 3.8 1 1.9 1-25.3 1 22.5 1-3.1 1-.1 1-4.1 1-.6 1 3.1 1-.9 1-.6 1 1.3 1-1.9 1-1.7 1 3.6 1 2.3 1-1.6 1 1.3 1 1.3 1 1.8 1 .5 1-3 1-1.2 1 1.1 1-1.3 1 42.4 1-43.1 1-.4 1-1.5 1 2.3 1 2.9 1-1.7 1-.6 1 2.9 1 .8 1 4 1-3.4 1-2 1 .3 1 1.3 1 2.3 1-6.3 1-1.5 1 12.1 1-5.7 1-6.2 1-.7 1 3.5 1-.1 1-3 1-9 1 12.2 1-1.5 1-11.3 1 6.1 1 1.6 1 1.9 1-.9 1 .3 1 .9 1 2.3 1-9.2 1 7.4 1-10 1 11.5 1 1.1 1-2 1-5.1 1-.5 1-5.5 1 1.3 1 .6 1-5.5 1 5.9 1 11 1-11.6 1 .8 1 6.8 1 1.5 1 3.3 1 1.1 1-3.7 1 .4 1 6.8 1-4.3 1-1.7 1 4.5 1 0 1-5.1 1-1.5 1-1.5 1 6.2 1 3.9 1-61.7 1 48.9 1 .4 1 7.6 1 4.3 1-44.9 1 50.9 1-12.4 1 5.3 1-2.3 1-15.8 1 10.2 1 .9 1-2.1 1-6.7 1 .4 1 6.5 1 2.5 1-2.5 1 1.3 1-2.8 1 1.2 1 7.2 1-.5 1-10.3 1-2.8 1 12.2 1-8.6 1-.4 1-2.2 1 7.6 1-6.1 1-11.4 1 2.6 1 10.3 1-15.7 1 3.9 1 1.8 1 2.2 1 7.9 1 2.8 1 7.3 1 .6 1-4.6 1 17.5 1-17.7 1-3.6 1-1.7 1 6 1 3.5 1-5.4 1-5.5 1-4 1 7 1 4.6 1 1.1 1-1.6 1-2.8 1 .2 1-1.7 1-14.3 1-.8 1 2.8 1 1.8 1 .9 1-.3 1-1 1 17.5 1-2.9 1 .3 1-1.7 1 1.2 1 3.9 1 .2 1-3.9 1-2.9 1-5.3 1-31.4 1-6.3 1 42.8 1 3.9 1-11.5 1-.7 1-8.3 1-.9 1-5.6 1 2 1 3.7 1 8.4 1 1.5 1 9.7 1-10.9 1 3.2 1 2 1-4.4 1-.1 1-4.5 1 6.5 1 6.8 1 4.2 1 3.8 1 10.3 1-15.9 1 1.1 1 .2 1-2 1-.6 1-1.9 1-.2 1 1.4 1-2.7 1 3.4 1-1.2 1 1.9 1-50.3 1 52.5 1-3.1 1-2 1 .4 1 9.6 1-5.9 1-2.7 1 2 1-.8 1-1.9 1 0 1 5.4 1 .6 1-1.9 1-3.2 1 2.6 1-1.9 1-.1 1 2.4 1-3.9 1-2.4 1-1.1 1 .6 1 6.5 1-1.1 1-3.7 1-.3 1 0 1 2.9 1-1 1-1 1 .2 1 3.1 1 1.1 1-.9 1-.6 1-1.4 1 .9 1 .4 1 .6 1 1.2 1-.9 1-1.1 1 .2 1 .9 1 1 1 1.8 1 1.7 1-2.8 1-1.8 1-1.4 1-2.1 1 3.8 1-26.8 1 25.3 1 .2 1 .1 1 2.1 1-2.3 1-2 1 2 1 1.6 1 1.8 1-1.8 1-1.6 1 .1 1 1.2 1-.7 1 .2 1 2.3 1-.9 1 .2 1 1.1 1-.5 1 .4 1-.1 1-.4 1 .4 1-1 1-1.1 1 1 1-1 1 .6 1 1.9 1-.4 1-1.6 1 .4 1 .8 1-1.2 1 .9 1-.4 1-.7 1 2.4 1-.1 1-.4 1 .3 1-.8 1 1.1 1 .8 1-1.4 1 1 1 .2 1-2.5 1-.3 1 1 1-.1 1 .1 1 1 1-1.4 1-.4 1 1.5 1-2.2 1-.5 1-.5 1-.6 1 2.1 1 1.6 1 0 1-.3 1-.3 1-1.1 1-.5 1 1.5 1-.8 1-1.5 1 1 1 0 1-.4 1 0 1 1.3 1 1 1-2.1 1 .9 1 2 1-2.8 1-.5 1 .5 1 .3 1 1.1 1-2 1-1.7 1 1.2 1 1.1 1-.9 1-.5 1 .9 1 2 1 1.1 1-.5 1-1.9 1-.8 1 1.2 1-.7 1 .4 1 .5 1 .8 1 0 1-.4 1 .3 1-3.7 1-1.4 1 5.6 1 1.8 1-3.1 1 .1 1 1 1-1.6 1 .9 1 2.2 1-.6 1-1.9 1 1.5 1 1.8 1-4 1-5.9 1 0 1 5.5 1 2.3 1 1.6 1-2.6 1-4.2 1 3.4 1-49.6 1 52.3 1 1.1 1 .9 1 .4 1 3.7 1-12.5 1 1.2 1 6.2 1-4.3 1 .7 1-1.2 1 1.1 1 .8 1-.1 1 1.7 1 1.1 1-3.4 1-2.2 1 .9 1 2.9 1 2.6 1-4.8 1 .8 1-1.6 1 2.6 1 2.5 1-4.3 1-18.5 1 22.9 1-3.1 1-3.2 1-3.1 1 2.1 1-.1 1-1.8 1 7.1 1 4.2 1-50.8 1 47.8 1 2.4 1 1.3 1-5.6 1-6.8 1 2.4 1-1.2 1 1.1 1 3.3 1-1.5 1-1.8 1-1.3 1 .1 1 .3 1 3.8 1 .5 1-1.4 1-7.3 1 1.7 1 2.8 1 6.1 1-16.5 1 8.2 1-1.7 1-80 1 83.3 1-1.2 1-5.3 1-2.1 1 4.8 1-2.2 1 2.1 1 8.8 1-8 1 4.9 1 .9 1 .6 1-5.2 1 1.6 1 .5 1-14.7 1 7 1 28.6 1-25.2 1-3.4 1-1.8 1-4.5 1 13.9 1 6.6 1-1 1-4.6 1 .9 1 4.5 1-6.4 1-6.4 1 4.3 1 6.8 1 3.7 1-4.4 1-2.7 1-.2 1 1.8 1-1.7 1 3.4 1 3.1 1-7.4 1-5.4 1-1.5 1-3.1 1-.5 1 2.8 1 22.4 1-18.5 1 2.9 1-13.8 1 12 1 .2 1 3.9 1-1.7 1-5.9 1-13 1 19.7 1 8.8 1-13.4 1-3.8 1-1.1 1 3.9 1 3.5 1 .6 1 1.2 1 .3 1-2.6 1-1.9 1 4.4 1-2.1 1-6.6 1-35.8 1 33.3 1 3.9 1-31.2 1 36.7 1 2.5 1 9 1-9.5 1 13.6 1-4.4 1-8.3 1-2.9 1 4.9 1 6.5 1-11.1 1 5.6 1-5.4 1 .6 1-3 1-3.1 1 1.6 1 4.1 1-1.2 1 2.2 1 .2 1-2.8 1 4.7 1 4.4 1-3.1 1-16.7 1 12.8 1-10.3 1 10.2 1-1.5 1-.3 1 2.7 1 11.9 1-11.9 1-74.2 1 66.1 1-.5 1 11.8 1-6.7 1 1.7 1 5.9 1 0 1 1.5 1-1.6 1 .2 1-.5 1-.2 1 5.3 1 1.6 1-7.6 1-1.1 1 4.4 1-.6 1-4.7 1 1 1-1 1 2.6 1 4.4 1-.8 1-3.1 1-2.8 1 1.6 1 1.3 1 4.2 1 3 1-5 1-1.9 1-1.6 1 1 1 1.2 1-2.9 1-2.5 1-2.4 1 4.3 1 6.5 1-2.3 1 .1 1 1 1-2.1 1-2.3 1 4.4 1 3.7 1-4.8 1-3 1-1.5 1 2.8 1 2.1 1-3 1 .8 1 4.2 1-3.6 1-3.3 1 .4 1-.1 1 1.2 1 2.7 1 1.5 1 1.6 1-.8 1-4.5 1 1.4 1 3.4 1-5 1-17.1 1 20.3 1-2.9 1-.6 1-1.7 1-.4 1 4.2 1 .3 1-.4 1 .3 1-1.5 1 0 1 1.7 1 .4 1-2.8 1-1.2 1 4.8 1 1.9 1-4.5 1-2.1 1-.1 1 1.8 1 4.1 1-.1 1-4.4 1 1.7 1 1.9 1-.5 1 .2 1-.4 1-1 1-1.4 1 .7 1-.5 1-.9 1 1.3 1 .4 1 .1 1-1.7 1-.8 1 2 1 1.7 1 36.1 1-36.4 1-.6 1 .6 1-1.1 1-.3 1-.4 1-1.5 1 2 1-7.4 1 9 1-1.2 1 .2 1 .3 1 .5 1-1 1-3 1 1.5 1 1.8 1 0 1 .5 1-1.7 1-.3 1 1.7 1-3.3 1-.3 1 2 1-.9 1-.1 1 2.4 1 1.1 1-1.1 1-1.6 1-.1 1 .2 1-.1 1 0 1 .7 1 1.7 1-.9 1-1.3 1 .1 1-.8 1 .7 1-.9 1-1.6 1 2.1 1 .9 1-.1 1 0 1 .9 1-.1 1 .8 1 1.7 1-3.9 1-2 1 4.1 1 10.8 1-13.2 1-1.7 1 .3 1-15.8 1 3.6 1 13.8 1-8.6 1 11.1 1-4.3 1 2 1 33.2 1-28.8 1-2.5 1-4.8 1 4.5 1 4.1 1-4.2 1-3.8 1 .1 1 2.5 1-.5 1 0 1 1.3 1 3 1-2.4 1-2.9 1 3.1 1 1.4 1 .6 1-1.9 1-.7 1-4.1 1-39.5 1 29.4 1 3.5 1 .6 1-.8 1 .5 1 7.2 1-16 1 20.2 1-1.1 1-8.5 1 .7 1-.9 1 .4 1 1.6 1-.6 1 .9 1 8.4 1 .3 1-9.2 1 6.3 1-.5 1 2.7 1-2.4 1 9.8 1-9 1-2.6 1-4.6 1 .7 1 .5 1 4.8 1 2.3 1-2.1 1 .3 1-66.3 1 74.9 1-7.9 1-22.7 1 28 1 1.2 1-2.4 1-7.8 1 .8 1-1 1 1.5 1 2.9 1-3.3 1-44.9 1 42.2 1 5.8 1 .3 1 2.1 1-3.8 1-3.4 1-38 1 36.2 1-2.4 1 6 1 2.4 1-4.8 1 3.1 1 6.3 1-4.6 1-.8 1 6.2 1-7.7 1 0 1-4.5 1 2.8 1 .1 1-11.9 1 9.9 1-2.1 1 3 1-4.5 1 5.8 1 4.7 1-1.6 1 2 1-3.4 1-2.3 1 6.7 1 3.4 1-6.7 1-5.9 1-.9 1-1.2 1-1 1 2.2 1 1.3 1 1.9 1-.6 1-4.8 1-7.7 1 2.4 1 1.9 1 2.4 1 2 1 1.7 1-4.8 1-1.2 1-2.3 1 8.8 1 11.2 1 .4 1-10.6 1-2 1 .7 1-5.9 1-1.6 1-4.2 1 7.2 1 13.7 1-7.3 1-3.6 1 5.8 1 1.5 1 3.3 1 0 1-48.6 1 42.5 1 .7 1 6.2 1-2.7 1-2.9 1 34.3 1-37.7 1 1.7 1-3.7 1 2.5 1 8.1 1 3.5 1-2.5 1-3 1-8.6 1-.6 1 9.3 1-2.8 1-6.6 1-18.6 1 5.1 1 10.3 1 .7 1 2.6 1 7.4 1-3.4 1 2.7 1 5.6 1-1.6 1-2.8 1 5.1 1 10 1-14.9 1 0 1 .2 1 1.4 1-.1 1 4.8 1 .6 1-9.1 1-2.7 1-1.6 1 1.7 1 3 1-2.7 1-38.4 1 38.6 1-.7 1-24.4 1 31.8 1 5.3 1-2.9 1-1.1 1-1 1-2.9 1-9.4 1 13.5 1-1.8 1-.4 1 .8 1-3.9 1 .9 1 2.3 1-2.6 1-1.2 1 1.9 1 3.8 1-18 1-5.1 1-.9 1 2.1 1 3.8 1-1.7 1 2.6 1 19.6 1-2.5 1-3.4 1-1.8 1 2.6 1-2.5 1 2.3 1-1.2 1-3.3 1 6.4 1 4.3 1-4.2 1 1 1-1.9 1-3.2 1 2.3 1 1.4 1-2.4 1-2.4 1 4.5 1-.5 1 .3 1 1 1 .5 1-3 1-.1 1 1.7 1-2.1 1 2.9 1 .8 1-1.8 1 .5 1 1 1-.8 1-1.3 1-.4 1-.9 1 0 1 1.3 1 1.7 1-.5 1-1.3 1-13.6 1 11.7 1-.2 1 .8 1 1.3 1 0 1-.3 1 .7 1 .7 1-1.6 1-1.3 1 .3 1 0 1 1.1 1 .6 1-.3 1-.3 1-1.7 1 .1 1 1.5 1-.4 1-.3 1 .8 1 .2 1 1.3 1 1 1 1 1 1 1-3.6 1-2.8 1 .3 1 1.4 1 1.3 1-1.3 1-1 1 1.1 1 2.2 1-.8 1-1.9 1 1.2 1 1.9 1-1 1 1.3 1 .9 1-1.5 1 0 1-1.5 1-.3 1 0 1-.9 1-1.1 1-.2 1 1.2 1 .4 1 .4 1 1.9 1-.3 1-.8 1 .1 1 .4 1-1.3 1-.4 1 3.2 1-1.2 1-3.1 1 1 1 2.1 1 8.3 1-8 1-.8 1-2.5 1-.7 1 3.4 1 1.5 1-.8 1-1.4 1-2 1 1.8 1 1.5 1-1.4 1 .7 1-.8 1-1.6 1 .1 1 1.3 1 1.2 1-1.6 1 .2 1-.4 1 .1 1 2 1-1.8 1-2.4 1-.9 1 4.5 1 0 1-1.5 1 .9 1-.1 1-2.5 1-.5 1 2.6 1 .8 1-1.7 1-1.6 1 .9 1 2.8 1 .8 1-.8 1-1.1 1-.8 1 3.1 1 1.7 1-6.5 1 .6 1 1.5 1-1.8 1 3.3 1-1.3 1-1.9 1 1.5 1-1.5 1 .3 1-.8 1 1.4 1 2.4 1-1.5 1-1.7 1 3.6 1 1.7 1 2.3 1 .4 1-4.8 1-4.6 1 3.1 1-1.2 1 4.4 1-2.6 1 2.4 1-3.6 1 0 1 .4 1 .6 1 .7 1 .2 1-2.3 1-.8 1 2.4 1 2.8 1-.9 1-1.6 1-2.6 1 1.9 1-1.7 1-39.2 1 34.4 1-2.1 1 5.5 1 3.3 1-.8 1 1 1 1.8 1 0 1-2.1 1-1.5 1 2.4 1 0 1-1.2 1-.9 1 .4 1-.5 1-4.8 1-1.6 1 2.4 1 1 1-14.9 1 6.2 1 4.4 1 8.6 1-4.6 1-14.8 1 19.4 1 2.8 1-5.7 1 2.6 1 3.1 1-7.4 1-2.4 1 .5 1-9 1-4.3 1 8.1 1-.6 1 1.9 1-1.2 1 3.2 1-4.7 1-8.9 1 6.2 1-2.8 1-4 1 8.5 1-2.1 1 9.9 1 6.8 1-3.9 1-.3 1 2.6 1-1.3 1-4.3 1 3.1 1 3.2 1-.1 1-.7 1 1.4 1 2.3 1 2.2 1-3 1 1.9 1-2.5 1-6.1 1-2.9 1 2.3 1-3.3 1-.1 1 3.2 1 3.5 1-2.5 1 1.5 1 .4 1 7 1 2.1 1-9.1 1-19.9 1 14.7 1-1.6 1-.1 1 6.5 1 5 1 .4 1 1.8 1-2.4 1-13 1 37.1 1-36.8 1 2.1 1 5.4 1-6.4 1-4.5 1-49 1 57.5 1-5.2 1 4.2 1 2.3 1-.9 1 .9 1-9.7 1-4.2 1 3.3 1 0 1 1.4 1 2.6 1-5.5 1 17.9 1 5.5 1-4.8 1-4.3 1 1 1 6.3 1-.5 1-3.5 1 1.7 1-16.9 1 1.4 1-.6 1 20.4 1-34.4 1-2.6 1 1.8 1 .4 1 10.9 1-29.9 1 9.5 1-2.7 1 5.2 1 3.9 1-.4 1-6.4 1 29.9 1-1.2 1 1.8 1 12.5 1-2.1 1-3.5 1 4.3 1 1.2 1-16.4 1 27.1 1-9.6 1 .2 1-8.4 1 .6 1 3.3 1-2.4 1-1.2 1-6.5 1-.2 1 6.2 1 1.1 1-4.3 1-3.7 1 2.6 1-19.7 1 15.3 1 1.7 1-3.2 1 2.2 1 .1 1 1.9 1-1.6 1 7.4 1-1.4 1 4.6 1 .6 1-.5 1-103.3 1 98.9 1-1.6 1 1.8 1 2 1 1.3 1-.6 1-3.4 1-1.1 1 1.8 1 42.3 1-36.2 1 .9 1-4.5 1-3.1 1 1 1-7 1-2.2 1 6.4 1 3.3 1 21.6 1-19.4 1 3.2 1-.1 1-1.1 1 4 1 .3 1-1.9 1-4.4 1-3.3 1 .7 1 3.1 1 3.1 1-.8 1 3.6 1-1.4 1-8.5 1-1.6 1 6.9 1-.5 1-1 1-1.5 1-4.1 1 .5 1 4 1-1.9 1-2.5 1 4.1 1 1.7 1-6.1 1 3.9 1 3.6 1-3.9 1-4.1 1 .7 1 2.2 1 .8 1-1.3 1 4.9 1 5.3 1-1.6 1 .9 1-2.3 1-.9 1 1.5 1-1.9 1-1.5 1-4.7 1 2.6 1 3.1 1-3.1 1 1 1 2.4 1-1.8 1-1.5 1-.3 1 9 1-8.1 1-.6 1 .1 1 1.8 1 .7 1-.4 1-.6 1-.7 1 1.6 1-.9 1 .2 1-.6 1-1.2 1 2.4 1-2.3 1 1.1 1 3.8 1-2.7 1-2.8 1 .7 1 2.5 1 .3 1-1.9 1-1.2 1 1.4 1-1.8 1 .8 1 1.4 1 2.3 1 .8 1-3.6 1 9.6 1-7.7 1-.8 1-3.2 1 1.1 1 3.6 1-.8 1-2 1-.3 1 2 1-1.2 1-1.3 1-6.3 1 1.7 1 2.2 1-1.9 1-.8 1 4.5 1-3.9 1 6.7 1-19.2 1-3.7 1 1.8 1 3.5 1 3.4 1-1.4 1-4 1 12.6 1 4.1 1-1.1 1-4.1 1 2.7 1 2.5 1 1.8 1 5.6 1 1.4 1-.7 1-1.4 1-.3 1-1 1-1.4 1 .9 1-3.8 1-1.3 1 6.2 1-4.9 1 1 1 .7 1-4.5 1 1.1 1 1 1 4.7 1 1.3 1-2.3 1 1.5 1 5.4 1-4.2 1-7 1-3 1-6.3 1-5.7 1 6.4 1 8 1 7.7 1 1.7 1-5.7 1-5.3 1 1.7 1 1.3 1-.5 1 .8 1 .5 1 2.3 1-1.8 1-53.7 1 49.1 1 5.1 1-3.1 1-3.8 1 2.3 1 7.3 1 1.1 1-6.2 1-.5 1 3 1-2.5 1-3.4 1 2.1 1 .5 1 .5 1 .3 1 .1 1 3 1 .2 1-2.9 1 6.6 1-1.6 1-26.7 1-2.9 1 6.3 1-2 1-10.2 1-2 1 3.5 1 20.5 1-3.5 1-.9 1 7.4 1 3.9 1-4.6 1 5.7 1 5.2 1 3.4 1-3.1 1-9.1 1 .8 1-38.8 1 37.5 1 .5 1-4.7 1 6.6 1 .7 1-.2 1 2.4 1-2 1-83.6 1 44.5 1 36.5 1 .9 1-3 1 4 1 1.6 1-6.6 1-1 1 4.6 1 2.5 1-22.4 1 23.2 1-5.7 1 7.4 1 27.8 1-17.9 1-7.8 1-1.8 1 1.2 1-4.7 1 2.9 1 10.6 1-34.3 1 15.5 1 2.4 1 .1 1-6.1 1-5.4 1 1.3 1 10.8 1 8 1-12.9 1 14.6 1-20.9 1-11 1 12.4 1-14.5 1 33.5 1-19.4 1-29.5 1 42.4 1 3.5 1-1.4 1 5.1 1 .7 1-1.6 1 2.8 1-3.5 1-8.3 1 .4 1 1.9 1-2.1 1 4.6 1 .4 1-2.7 1-3.3 1 0 1-4.8 1 26.2 1-20.3 1-7.5 1-4.5 1 29.4 1-14.8 1 1.8 1 2 1-1.4 1-3.1 1-23.6 1 34.6 1-.6 1-10.1 1 .4 1-1.1 1-.7 1-1.7 1-1.3 1 1.8 1 1.4 1 .5 1-2.6 1 .5 1 9.2 1-4.6 1-.8 1-.1 1-1.8 1 5.9 1-17.7 1-2.9 1-3.4 1-.5 1 4.7 1 .4 1-4.3 1 30.2 1-8.4 1-.7 1-3.9 1-2.7 1 9.1 1-1 1 2.5 1-1.7 1-5.2 1-.3 1-2.6 1 7.4 1 2.3 1-7.8 1-1.5 1 6.2 1-1.9 1-.7 1 41.5 1-36.9 1-2.5 1 2.7 1-.4 1-2.2 1-.7 1 .9 1-18.9 1 19.8 1 1.2 1-2.6 1 .8 1-16.5 1 14 1 2.3 1-3.3 1-2.1 1 4.8 1 .9 1-.6 1-.3 1-1.4 1-2.2 1 6.6 1 1.9 1-19 1-.4 1 .3 1 2.4 1-3.2 1-1.1 1-3.6 1 15 1 3.6 1-3 1 1.3 1 2.4 1-3.7 1 3.3 1-1.3 1-1 1-1.7 1 2.3 1-30.2 1 33.3 1-.1 1 1.3 1-1.4 1-1.5 1 0 1-1.3 1 1.1 1 3.8 1 2.1 1 1 1-1.7 1-.3 1-1.3 1-2.6 1-2.7 1 3.3 1 1 1-.8 1 1 1 1.3 1-22.5 1 19.1 1 0 1 .5 1-.2 1 .3 1 49.3 1-48.1 1-1.3 1-1.3 1-.8 1 0 1 .3 1 .9 1 1.8 1-.9 1-.9 1 .5 1 .5 1 1.3 1-.5 1-3.1 1-1.7 1 1.4 1 2.5 1 .9 1 0 1-.8 1-1.2 1 .7 1 .9 1 .7 1-2.8 1-.4 1 2.6 1-1.7 1-.9 1 1.3 1 2.3 1-1.7 1-1.8 1 .8 1 0 1 .9 1 1.2 1-1.3 1-1 1 .9 1 .3 1 1.1 1 .6 1-.4 1-1.3 1 .7 1 1.6 1 .2 1-.8 1-.7 1 .8 1-.3 1-.1 1-1.3 1-1.4 1 .6 1-.9 1 2.2 1 2.6 1-1.7 1-1.8 1 1 1 0 1-1.4 1 1.3 1 2.2 1-1.2 1-2.9 1 .4 1 2.6 1-1.2 1-1.1 1 2.1 1 .5 1-1.7 1 1.8 1-.9 1-3 1 2 1 1.3 1-.9 1 1.1 1-.5 1-1.3 1 1.5 1-2.2 1-1.3 1 2.4 1 4.3 1-1.7 1-3 1-.5 1-.3 1 .8 1 .1 1 .2 1 0 1 0 1 1.5 1-1.8 1-1.3 1 2.3 1 .9 1-.2 1 0 1 1.5 1 1.5 1-4.4 1-.6 1 .9 1 2.4 1 3.4 1 .2 1-4.2 1-3.5 1 1.6 1-.4 1 .2 1-.2 1 1 1 .7 1-2.5 1-5.5 1 5 1-1.3 1-.4 1 .2 1-1.2 1 1.2 1 2 1-.1 1 2 1-.9 1-1.3 1-1.4 1-19.2 1 14.1 1 1.4 1 6.2 1 1.6 1-52.9 1 53.1 1 3.4 1-2.2 1-.1 1-6.5 1-4 1 1.5 1 3.3 1-.8 1-4.4 1 1.4 1-17.4 1 22.1 1 3.7 1-.6 1-11.7 1-5.9 1 4.5 1-4.4 1-15.4 1 16.4 1-1.3 1 6.2 1 5.4 1 1.8 1 5 1-5.7 1-1.6 1-4.8 1 .4 1 4.8 1 .3 1-8.7 1-1.2 1-3.7 1 5.5 1 1.8 1-2.4 1-33.3 1 35.1 1 7.1 1-1 1 .7 1-97 1 100.3 1-.7 1-5.3 1 7.2 1-5.2 1 .3 1 10 1 .6 1-3.8 1-2 1-2.2 1 3.6 1 0 1-4.8 1-1 1 7.5 1-1.5 1 2.1 1-5.6 1 8 1-7.6 1 2.7 1-12.4 1-3.7 1 3.8 1 4.7 1-4.3 1-24.7 1 24.4 1-4.7 1 14.6 1-2.3 1-7.4 1 .7 1 5.7 1-4.5 1-2.1 1 9 1-2.4 1-3.5 1-4.1 1-84.7 1 87 1-5.7 1-3.7 1 0 1-.8 1 8.1 1 11.6 1-4.1 1-9.7 1 10.2 1 4.7 1 .4 1-6.5 1 5.3 1 6.5 1-7 1-5.5 1-1.1 1-2.9 1-2.6 1 7.5 1-29.2 1 27.3 1 2.6 1-1.1 1-4.7 1 7.8 1 2.9 1 2.9 1-4.9 1-3 1-3.2 1-7.9 1 4.3 1-.5 1-1.5 1-5.6 1-25.8 1 31.5 1 .8 1 3.4 1 5.9 1 3.1 1 6 1-.4 1-3 1 1.1 1-6.2 1-.2 1-3.8 1-1.3 1 1.3 1-2.7 1 0 1 5.3 1 4.4 1-6.2 1-24.3 1 32.2 1-4.7 1 .1 1-6.3 1 .8 1 10.5 1 59.5 1-61.9 1-5.7 1-5.6 1 6.9 1 3.3 1 5.4 1 3.5 1-5.2 1-6.5 1 6.6 1-3.7 1-3 1 3.8 1 2.4 1 2.7 1 0 1-3.9 1 0 1-14.7 1 19.3 1-5.3 1 2.8 1 60.6 1-61.3 1-2.7 1-4 1 .3 1 5.1 1 .5 1-.1 1 .7 1 1.2 1-1.2 1-4.3 1 3.1 1-.3 1-4.5 1 3 1 .1 1 1.4 1 4.6 1-3.1 1-3.3 1 9.6 1-6.6 1-.4 1-.2 1 3.1 1-1.9 1-2.2 1-.4 1 2.6 1-.2 1-2.5 1 .7 1 1.4 1-1.4 1-1 1-.3 1 1.7 1 1.4 1-1.8 1-.8 1 1.8 1-.6 1-1.7 1 .3 1 2.2 1 .5 1-.9 1-1.6 1-1.7 1 .9 1 .8 1 .2 1-.7 1-.7 1 .2 1-.3 1 1.4 1 .5 1-.3 1 .2 1 1 1 .6 1-1.3 1 .8 1 1.2 1 3.8 1-4.9 1 1 1-2.8 1 1.1 1 3.1 1-1.4 1-1.5 1-.2 1 1.1 1-.4 1-.2 1 1.4 1-.2 1-.3 1 1.4 1-.8 1-2 1-1.6 1 0 1 1.4 1 1.5 1-.5 1-1.2 1-.7 1-.3 1 .7 1-.4 1 1.7 1 .7 1-.3 1 1.7 1 .2 1 5.4 1-8.9 1-.5 1 .7 1 .8 1-.4 1-.6 1 .4 1-.1 1 .4 1-.2 1 .7 1-.1 1-2.6 1 .2 1 1.8 1 1.7 1-.8 1-2.1 1 .9 1-.6 1-2.1 1 2 1 1.4 1-2.4 1 .4 1 2.8 1 .9 1 .3 1-.7 1-2 1-1.2 1-1.3 1 2.1 1 1.4 1-3.8 1 3.5 1 2.5 1-.2 1-3.4 1 .6 1-.7 1-1 1 2.4 1-.9 1 1.6 1 1.7 1-5.1 1-1.3 1 1.5 1-10.7 1 4.7 1 4.3 1-5.8 1-6.6 1 5.1 1 3.9 1 4.2 1-3.4 1 5.9 1 1.9 1-4.6 1-2.3 1-45.6 1 44.6 1 31 1-27.1 1-.1 1-.3 1 .2 1 1.1 1 4.6 1-.2 1-.6 1-2.3 1-18.9 1 15.1 1 1.5 1 .3 1 5.9 1-47 1 42.8 1 2.4 1-1.7 1-7.1 1 .5 1 3.6 1-10.7 1-3.7 1 3.2 1 .1 1 5.4 1 .6 1-.4 1 6.7 1-3.9 1 4.1 1-1 1-5.8 1-3 1 .3 1-1.3 1 4.2 1-7.2 1-4.9 1 2.8 1 15.5 1 2.6 1-10.3 1-1.8 1 5.9 1 2.4 1-5 1-5.8 1 14.3 1-.7 1-2.3 1 3.2 1-12.8 1 4.1 1-10.5 1 2.1 1-3.5 1 3.2 1 11.2 1-1.5 1-3.8 1 2 1-1.4 1 3.1 1 4.7 1 .5 1-4.5 1-40.1 1 34.4 1 6.1 1 4.8 1-1 1-4.7 1 .4 1 5.8 1 1.6 1-2 1 1.4 1-7.5 1 1.5 1 5.9 1-1 1-2.7 1 .4 1 3.5 1 .3 1-5.4 1 1.4 1 2.6 1-.9 1-1.3 1-1.3 1-1.1 1-9.4 1 3 1 4.2 1-5.7 1-2.1 1 .3 1-1 1 7.5 1-5.2 1-1.8 1 10.8 1-3.5 1 .1 1 5.1 1-2.5 1-.6 1 .6 1 .6 1-1.8 1-5.1 1 1.2 1 3.1 1-34.7 1 35.9 1-7 1 3.3 1 .5 1-1.9 1 .7 1-6.4 1 11.6 1 9.1 1-14.1 1-2.3 1 8.7 1 .2 1-1.7 1-.4 1 1.8 1-9.9 1-2.9 1 .3 1 .6 1-1.1 1-2.9 1-6.4 1 24.7 1 3 1-5.1 1-2.8 1 5.7 1-.4 1-26.9 1 31.6 1 2.4 1 .9 1-2.3 1-7.9 1-11.3 1 7.9 1 .8 1 1.7 1-2.5 1 4.3 1-.1 1-.8 1 6.3 1-1.1 1-3 1 0 1 5.3 1-3.2 1-6.1 1 2.7 1 17.8 1-16.6 1-.2 1 .3 1-31.8 1 44.7 1-16.1 1-1.7 1-.3 1 3.7 1 2 1 6.6 1-3.1 1-3.3 1 1.6 1 1.3 1-2.2 1-3.2 1 .5 1 3.1 1-4.9 1-5.1 1 4.9 1 6.6 1-1.8 1 1.5 1 1.5 1-2.2 1 .9 1 1.3 1-3.1 1-3.4 1-2 1-3 1 1.4 1 3.6 1 2 1-1.9 1-22.2 1-8.6 1 36.5 1 1 1-3.2 1-4.3 1 2 1 4.1 1-2.2 1 0 1 2.1 1 .6 1 .4 1-2.1 1-.6 1 .7 1-1.9 1-2 1 .6 1-1.2 1 1.5 1 .9 1-.7 1 2.7 1 1.7 1-2.4 1-.5 1-15.4 1 15.4 1-.4 1 .4 1 .1 1-2 1 2.3 1 1.8 1 .3 1-.7 1-1 1-.5 1-.2 1 0 1 0 1 1.7 1-1 1-1.3 1 1.8 1-.4 1-.5 1 .3 1-2 1 .5 1 2 1 .4 1-19.4 1 20.4 1-.8 1-3.6 1-.8 1 2.1 1 1 1 .4 1-.2 1-.9 1 1 1 .4 1-1.1 1 .2 1 1.6 1-.1 1-1.6 1 .5 1-.5 1-.8 1 1.4 1 2.6 1-.9 1-1.9 1-.8 1-.5 1 .9 1-1.5 1-.6 1 2.5 1 .2 1-1 1 1.2 1 .1 1-2.4 1-.5 1 .7 1 1.4 1 1 1 .2 1-2.9 1-57.7 1 58.2 1 4.4 1-.1 1-2.3 1 .8 1-1.3 1-1.6 1 1.7 1 .7 1-1.5 1 2.4 1-1 1-5 1 3.4 1 1.6 1-3.5 1 1.8 1 1.2 1 .9 1 2.6 1-18.9 1 9.9 1 1.6 1 2.9 1-.7 1-.1 1 .8 1-.3 1-.4 1-1.7 1-.2 1 .2 1 0 1-.7 1 1.6 1 3.7 1 3.3 1-2.4 1-3.1 1 .6 1-.1 1-3 1-3.1 1 3.9 1-9.8 1 .4 1 6.2 1 2.5 1-18.3 1 17.6 1-.7 1 2.5 1 1.4 1 2.5 1-.6 1 3.5 1-3.9 1-4.5 1 1.9 1-1.7 1-1.1 1 1 1 1.4 1-2.3 1 .8 1 3.2 1-3.4 1 1.3 1 1.2 1-9.6 1-.8 1 3.1 1 4.7 1 .7 1-1.9 1 1 1 5.4 1-2.1 1-13.1 1 11.4 1-2.8 1 12.4 1-2.9 1-4.3 1-5.6 1-6.6 1 10.9 1-.3 1 1.1 1 2.2 1-1.4 1-2.7 1-2.2 1-2.4 1-2.3 1-3.5 1-5.7 1 1.6 1 4.8 1 4.6 1-5 1 5.5 1 6.1 1 4.1 1-8 1-4.1 1 3 1 9.5 1 3.5 1-12.8 1-9 1-21.1 1 35.4 1 .1 1-9.6 1 14 1-1.7 1-6.4 1 2.1 1-3.3 1-11 1 10.2 1 .6 1-11 1 16.2 1-3.3 1-2.2 1 .5 1 3.2 1 1.5 1-5.4 1 2.9 1 18.8 1-21.1 1 2.3 1-3.6 1-7.8 1-1.9 1-.2 1 .5 1 2.6 1 3.9 1-3 1 1.1 1 12.4 1 .7 1-.6 1 2.2 1-28.3 1 22.7 1-4.9 1-20.4 1 12.9 1 .5 1 3.5 1 3.3 1 4.2 1-2.2 1-1.9 1-1.1 1-3.2 1 2.7 1 .8 1 2.5 1 .2 1-14.6 1-1.1 1 6.1 1-4.6 1-5.9 1-.8 1-1.7 1 16.7 1 2.9 1 .4 1-.9 1 6.3 1 4.5 1-3.8 1-20.9 1 21.2 1-6.6 1 .9 1 7.5 1-8 1 .8 1-1.2 1-.7 1-3.6 1 .3 1 10.5 1 3.3 1-3.5 1-.9 1-45.7 1 40.9 1 6.5 1-1.7 1 2.2 1-1.7 1-2.5 1 1 1 .6 1 2.6 1-1.2 1-.6 1 3.8 1 .2 1-1.7 1-2.2 1 1.2 1-.2 1 2 1-3 1-.9 1 1 1 .7 1 2.1 1 5.8 1-4 1-3.3 1-4.5 1 2.3 1 1.3 1-1.2 1 2.7 1-2.2 1-2.6 1-2.6 1 4.6 1 .9 1 0 1-18.7 1 16.1 1-1.5 1 1.3 1 .8 1-.7 1 2.4 1 2.6 1 .3 1 1.9 1 .6 1-1.3 1-19 1 17.8 1-12.1 1 1.5 1 1.2 1-2.5 1-1.2 1 1.6 1 .1 1 4.9 1 3.1 1 4.9 1-4.5 1-2.6 1 5.7 1 1.6 1-7.2 1 6.7 1-1.9 1 .4 1-1 1-2 1-7.9 1-1.1 1 63.6 1-60.4 1-2.3 1 .8 1-3.7 1 15.8 1 14.2 1-13.3 1-3.4 1-.2 1 1.3 1-35.8 1 34.3 1 2.3 1-.1 1 .4 1 .8 1-2.9 1-.7 1 1.2 1-1.7 1 .9 1-.3 1 1.9 1 1.5 1-1.2 1-.2 1-.3 1 43.9 1-42.9 1-1.7 1-1.2 1 .1 1 0 1 1.2 1-.3 1 .4 1 .2 1-.2 1-.5 1-.3 1 1.3 1-.8 1-.9 1 .4 1 1.1 1 .3 1-2.1 1 .1 1 .8 1 .9 1 0 1-1.4 1 1 1-.1 1-.8 1-.7 1 1 1 2.3 1-.7 1-1.3 1-.3 1 .2 1 .3 1-.2 1-.5 1 .3 1-1.2 1 .1 1-.3 1-1.1 1 .5 1 1.1 1 1.7 1-1.1 1 1.2 1-.5 1-.2 1 1.8 1-2.4 1 .2 1 2.1 1 .1 1-.6 1-1.1 1 1 1 1.2 1-1.8 1-.7 1 .7 1-.6 1-.2 1 .6 1 1.4 1 .3 1 .4 1-1.6 1-1.7 1 1.8 1 0 1-3.5 1 .1 1 3.1 1 1.5 1-.3 1 .6 1 0 1 .7 1 1.2 1-2 1-2.2 1-2.8 1 .4 1 3.5 1 .7 1-3.8 1 1.5 1 4.5 1-3.3 1-2 1-.4 1 .8 1 1.3 1 .7 1 .4 1-1.2 1-2.3 1 4.2 1 2.1 1-4.6 1-2.6 1 1.2 1 2.5 1 .9 1-5.9 1 2.4 1 1.5 1 1.5 1-3.6 1 1.8 1 3 1-1 1-.9 1 1.5 1-2.1 1-1 1 13.8 1-10.1 1-.8 1-2.8 1 0 1 3.1 1-4.5 1-.8 1 1.9 1 2.3 1-1.9 1-4.1 1 3.1 1 .3 1 8.1 1 .7 1-4 1-6 1-.3 1 1.4 1-33.9 1 40.3 1-2.4 1-6.3 1 4.8 1 0 1-4.8 1 5 1 3.4 1-2.3 1-3.5 1-3.5 1 .5 1 1.7 1-.8 1 1.8 1 2.5 1-.5 1-2 1 .7 1 4.5 1-6.3 1 1.1 1 1.9 1 1.9 1 1 1-2.2 1-1 1 .1 1 2.5 1-.5 1-6.3 1-.7 1-.2 1 3.5 1-1.4 1 1.7 1 2 1 3.7 1-5.5 1-11.6 1 4.7 1 6 1 2.5 1-.6 1-2.1 1-59.6 1 64.3 1-10.6 1-2.5 1-1.9 1-2.6 1-4.3 1-.3 1 5.1 1 7.9 1 .7 1 .4 1-1.1 1 1.9 1-15.7 1 3.9 1 5.8 1-1.8 1-7.5 1 3.1 1 .3 1 2 1 6.6 1 5.9 1-3 1-1.1 1-3 1-3.5 1 6 1 5.1 1-15.5 1 9.7 1-5.9 1-.2 1 9.6 1-9.7 1-.9 1 6.7 1-.8 1-2.5 1 1.2 1-2.1 1-2.4 1 6.4 1 9.3 1-12.4 1-1.4 1 11.6 1-3.8 1-8.7 1 .2 1-4.9 1-10.5 1 6.3 1 4.9 1 22.8 1-24.4 1 .9 1 6.8 1 3.5 1-17 1 15 1 4 1 4.8 1-2.3 1-.8 1 3.7 1-6.7 1-3.6 1 2.3 1 1.4 1-5 1 2.2 1-.2 1-.9 1 3.1 1-.6 1-2.2 1 11.6 1-1.7 1-3.9 1-5.4 1 6.8 1 .5 1 3.9 1-2 1 1 1 5.7 1-4.8 1 1.9 1-2.6 1-3 1 4.4 1 .4 1 .1 1 2.9 1-7.1 1-6.5 1-3.8 1 3.4 1-5.2 1 3.8 1 4.8 1-6.7 1-5.6 1-1.4 1 4.9 1 17.8 1-4.3 1 1.5 1 .8 1-8.3 1-.2 1 4 1-.3 1 .8 1 5.9 1-.5 1 1.6 1-.8 1-12.8 1 3.1 1 1.7 1-7.5 1 3 1 5.6 1-7.4 1 3.3 1-2.1 1-1.3 1 3.3 1-7.1 1 1.8 1 4.8 1 1.9 1 5.5 1 1.3 1-3.3 1-.7 1 4.2 1-3.5 1 4 1 1.5 1-6.6 1-2.3 1 1.3 1 1.6 1 .9 1 1.2 1-.2 1-9.1 1 5.5 1 2 1 1.7 1 1.4 1-1.5 1-1.8 1 .8 1 3.4 1-.3 1-1.6 1 1 1-20 1 15.9 1 .5 1 1.6 1 21.6 1-25.4 1-2.8 1 2.2 1 4.1 1 2 1-1.7 1 1.7 1-1.4 1 .7 1 1.8 1-.5 1 .3 1 .8 1-3.5 1 .7 1 3 1-.7 1 1.4 1 0 1-2.8 1 .8 1 1.5 1 .5 1-.4 1-3 1-.7 1 .8 1 .9 1 .1 1 .2 1 1.4 1 .9 1-.9 1-2.3 1 .8 1 2.1 1-1.2 1-2.2 1-.2 1 .6 1 4.3 1-5.6 1-1.3 1 .7 1 2.5 1 .9 1 0 1-.2 1 1.4 1 0 1-2 1 .7 1 .3 1-.9 1 1.5 1 .4 1-3.6 1-.5 1 1.9 1-.3 1 .7 1 1 1 0 1-.4 1 .1 1-.4 1 .4 1 .2 1-.5 1-.8 1 .2 1 .5 1-.2 1 .8 1-.3 1-.6 1-.2 1 2.2 1 1.8 1-1.6 1-2.1 1-.5 1-15.8 1 15.2 1 1.9 1 1.6 1-2.4 1-1.6 1 1.4 1 0 1-.8 1-.5 1 2.3 1 .8 1 .9 1-3.3 1-4.5 1 3.5 1 .8 1-.6 1 3 1 0 1-2.5 1 0 1 2.4 1 2.6 1-.2 1-6.2 1-1 1-3.1 1 2.8 1 1.6 1-2.2 1-.6 1 5.8 1-.2 1-2.1 1 1.6 1-.8 1-2.5 1 5.5 1-1.3 1-57.5 1 50.6 1 1 1 1.2 1 4.8 1-1.4 1 2.2 1 0 1-5.8 1 .9 1 2 1-.8 1-2.9 1-1.2 1 2.5 1 1 1-.5 1 1 1 1 1-2.7 1-.6 1-.9 1 5.4 1-12.5 1 10.2 1 .1 1-3 1-1.6 1 3.8 1-3.1 1-.5 1 .8 1 1.2 1-2 1 6.2 1 .3 1-3.8 1 2.4 1 2.5 1-2.8 1-2.9 1-2.8 1 4.6 1 5.5 1 2.6 1-20.7 1 15.2 1 1.4 1-3.9 1-1.4 1 2.6 1-2.5 1-3.1 1 7.1 1-1.3 1-4.8 1-7.5 1 11.8 1-1 1-1.5 1 1.6 1-.9 1-1.1 1 0 1-33.4 1 37.1 1-4.3 1 1.8 1 6.4 1 1.4 1-2.8 1-4.6 1 .2 1 5.4 1-2.3 1-7.1 1 3.8 1 3.3 1 .6 1-6.2 1 0 1-.6 1-10.7 1 11.1 1-1.6 1-3.5 1-2.8 1 3.4 1 3.2 1-4.2 1 2.7 1-4.4 1 11.4 1-6 1 4.3 1 2.3 1 1.9 1 1.1 1-15.7 1-3.8 1 4.9 1 9.6 1 2.8 1-7.4 1 1.5 1 1 1-5.5 1 1.1 1 5 1 1 1 4.3 1-9.5 1-1.8 1-2.7 1 1.8 1 16.8 1-6.9 1-27.9 1 21.1 1-2.2 1 8.8 1 4.8 1 1.5 1-1.8 1-4.6 1 .8 1-3.2 1-1.2 1 4 1-30.3 1-22.8 1 59.6 1-6.1 1-2 1-3.9 1-4.4 1-.7 1 10.2 1-.7 1-5.5 1 2.2 1 .8 1 5.6 1-.3 1-4.3 1 4.3 1-1.4 1 .9 1 23 1-28.7 1 2.5 1-15.4 1-.4 1-6.3 1 2.3 1 1.4 1-7 1-.2 1 19.1 1-2.2 1 13.7 1 1 1-6.5 1 5.2 1 1.1 1-7.3 1-4.6 1 7 1 .2 1-1.4 1 3.7 1-4.1 1 1.4 1 3.4 1-2.6 1-1.6 1-1.1 1-26.1 1 20.1 1 1.3 1 6.4 1-4.4 1 5.4 1-.2 1-7.3 1 .6 1-1.3 1-5 1-16.8 1 15.6 1 19.4 1 .8 1-4.3 1 1.7 1-2.6 1 .4 1-34.7 1 4.1 1 2.5 1-6.5 1 3.4 1-2 1-2.3 1 34.6 1 2.8 1-2.2 1-1.4 1 5.3 1 4.8 1-2.5 1-40.2 1 36.8 1 .6 1-4.6 1 1 1 7.8 1-2.5 1-4.1 1-2 1-.1 1-.3 1-2.4 1-.8 1 .9 1 1.9 1-.3 1-4.1 1 5.6 1 4.4 1-5.2 1 1.8 1 0 1-3 1-30.9 1 34.1 1 3 1-3.1 1-3.3 1 2.6 1 2.8 1-1.1 1-.2 1-59.2 1 58.5 1 1.5 1 3.1 1-2.8 1-3.8 1-5.4 1-.8 1-.2 1 4.1 1 2.9 1-.9 1-.2 1 1.9 1-1.4 1 1.1 1 1.3 1 1.8 1-1.2 1-2.8 1 3.4 1 1.9 1 .5 1 0 1-3.8 1-1.4 1 2.4 1-1.4 1-2.3 1 1.6 1 19.5 1-18 1-1.4 1 2 1 .8 1-.9 1 0 1-1.1 1 .4 1 .8 1-1.3 1 .8 1-.2 1-.8 1-.3 1 .5 1 .2 1-.4 1 .7 1 .4 1-1.3 1-1.7 1 1.3 1 2.2 1 .4 1 .9 1-1.7 1-2.4 1-.5 1 1.1 1 1.7 1 43.6 1-45.8 1 2 1 .8 1-1 1-2 1 1.1 1 1.5 1-.7 1-1.9 1-.4 1 1.7 1 .9 1-.5 1-1.7 1-1.9 1-.1 1 2.3 1 1.5 1 .7 1 .6 1 .4 1-3.4 1 .4 1 2.6 1-1.2 1-4.7 1-25.2 1 30 1-6.6 1-.4 1-.2 1-5.5 1 .4 1 7.7 1-1.7 1 5.6 1 4.4 1-8.1 1-2 1 1.2 1-3.2 1 3.1 1 1.9 1-3.8 1-6.8 1 3.6 1 4.9 1 4.2 1-2 1-2.6 1-1.1 1 1.3 1-4.2 1-5.3 1 7.1 1-3.1 1-32 1 38.9 1 .4 1 3.5 1-2.2 1-1.8 1 6.5 1-4 1-24.7 1 15.3 1 .6 1 1.7 1-.5 1 3.1 1 3.8 1 3.3 1 3.2 1-5 1-4.7 1 3.9 1 3.6 1-.2 1-1.4 1-2.8 1 1.2 1 2.3 1-4.6 1 24.8 1-23.7 1-2.7 1 .4 1 4.9 1-6.4 1 7.4 1-.6 1-2.9 1 .5 1 .5 1-.3 1-1.4 1 4.3 1 3 1-4.5 1 .7 1 1.3 1-1.6 1 .5 1-1.4 1-1.4 1 4.4 1-.3 1-1 1-20.8 1 21.2 1-1.8 1 .4 1-.5 1 1 1 .3 1 .6 1-.6 1-1.3 1-1 1 1.2 1 .8 1-1.5 1-.2 1-.4 1 1.4 1 1.8" transform="translate(25.40,478.27) scale(0.025157,0.347500)" fill="none" stroke="#F85218" stroke-width="0.25" vector-effect="non-scaling-stroke" stroke-linejoin="round"/></g>
<rect x="25.4" y="391.4" width="176.1" height="139" fill="none" stroke="#8a8a8a" stroke-width="0.9"/>
<path d="M25.4 530.4v-1.6M25.4 391.4v1.6M50.56 530.4v-1.6M50.56 391.4v1.6M75.71 530.4v-1.6M75.71 391.4v1.6M100.87 530.4v-1.6M100.87 391.4v1.6M126.03 530.4v-1.6M126.03 391.4v1.6M151.19 530.4v-1.6M151.19 391.4v1.6M176.34 530.4v-1.6M176.34 391.4v1.6M201.5 530.4v-1.6M201.5 391.4v1.6M25.4 530.4h1.6M201.5 530.4h-1.6M25.4 513.02h1.6M201.5 513.02h-1.6M25.4 495.65h1.6M201.5 495.65h-1.6M25.4 478.27h1.6M201.5 478.27h-1.6M25.4 460.9h1.6M201.5 460.9h-1.6M25.4 443.52h1.6M201.5 443.52h-1.6M25.4 426.15h1.6M201.5 426.15h-1.6M25.4 408.77h1.6M201.5 408.77h-1.6M25.4 391.4h1.6M201.5 391.4h-1.6" stroke="#8a8a8a" stroke-width="0.7" fill="none"/>
<g font-size="5.45" fill="#262626" stroke="#262626" stroke-width="0.12"><text x="25.4" y="538" text-anchor="middle">0</text><text x="50.56" y="538" text-anchor="middle">1000</text><text x="75.71" y="538" text-anchor="middle">2000</text><text x="100.87" y="538" text-anchor="middle">3000</text><text x="126.03" y="538" text-anchor="middle">4000</text><text x="151.19" y="538" text-anchor="middle">5000</text><text x="176.34" y="538" text-anchor="middle">6000</text><text x="201.5" y="538" text-anchor="middle">7000</text><text x="22.4" y="532.9" text-anchor="end">-150</text><text x="22.4" y="515.52" text-anchor="end">-100</text><text x="22.4" y="498.15" text-anchor="end">-50</text><text x="22.4" y="480.77" text-anchor="end">0</text><text x="22.4" y="463.4" text-anchor="end">50</text><text x="22.4" y="446.02" text-anchor="end">100</text><text x="22.4" y="428.65" text-anchor="end">150</text><text x="22.4" y="411.27" text-anchor="end">200</text><text x="22.4" y="393.9" text-anchor="end">250</text></g>
<text x="113.45" y="546.8" text-anchor="middle" font-size="5.95" fill="#262626" stroke="#262626" stroke-width="0.12">Number of days</text>
<text transform="translate(9.3,461.1) rotate(-90)" text-anchor="middle" font-size="6.33" fill="#262626" stroke="#262626" stroke-width="0.12">Rainfall(kg/m2)</text>
<rect x="130.3" y="514.0" width="54.2" height="13.5" fill="#fff" stroke="#a8a8a8" stroke-width="0.6"/>
<path d="M132.2 518.45h15.2" stroke="#86CFF2" stroke-width="1.2"/>
<path d="M132.2 524.79h15.2" stroke="#F7B89A" stroke-width="1.2"/>
<g font-size="4.85" fill="#262626" stroke="#262626" stroke-width="0.08"><text x="149.5" y="520.15">NASA data</text><text x="149.5" y="526.5">ANN prediction</text></g>
<text x="2.5" y="374.75" style="font-family:'Liberation Serif',serif" font-weight="bold" font-size="12" fill="#000">(e)</text>
<clipPath id="clip_f"><rect x="253.3" y="391.4" width="176.2" height="138.89999999999998"/></clipPath>
<g clip-path="url(#clip_f)"><use href="#nasa" transform="translate(253.30,468.57) scale(0.025171,0.308667)" stroke="#45B6EE" stroke-width="0.3"/><use href="#nasa" transform="translate(253.30,468.57) scale(0.025171,0.308667)" stroke="#1272CB" stroke-width="0.17"/><path d="M0 1.1l1-1.6 1-3.9 1-.9 1 130.3 1-65 1-61 1-.2 1 4.5 1 .8 1-3.7 1 .6 1 .7 1-4.3 1-1.7 1 1.1 1 .5 1 1.7 1 4.7 1-2.7 1-.7 1 1.7 1-3.1 1 0 1-.8 1 1.2 1-1.5 1 2.2 1 .2 1 .9 1-.7 1-2.8 1 1.8 1-4.3 1 5.6 1 4.2 1-8.2 1-.5 1 38.5 1-39.6 1 1.7 1 1.3 1 .4 1-.2 1-1.7 1-.1 1 .5 1-3.4 1-1 1 4.4 1 3 1-2.4 1 1.3 1 6 1 1 1-5.5 1-1.8 1 2.2 1-2.2 1 1.6 1-3.5 1 16.9 1-13.3 1-4.5 1 1.4 1 6 1-2.3 1 4.2 1-46 1 39.6 1-.9 1 1.6 1-2 1-4.9 1-1.4 1 9.9 1 .9 1-7.5 1 2.4 1 4.4 1 2.3 1-1.8 1 2.6 1-3.8 1-5.7 1 3.3 1 5.3 1-3.6 1-19.2 1 15.5 1 64.9 1-65.5 1-.9 1 1.2 1 5.3 1 4.7 1-4.6 1 7 1 1.6 1-4.5 1 2.2 1-1.3 1-3.1 1-3.3 1-5.3 1-5.3 1 9.4 1 15.2 1-24.3 1 2.1 1 3.9 1-1.1 1-.8 1-5.3 1-13 1 17 1 .3 1-10.6 1-49.5 1 54.3 1-102.8 1 183.1 1-81.6 1-.5 1 8.8 1 6.7 1 7.1 1 1.4 1-3.5 1-7.1 1-3.3 1-3.1 1-6.9 1 2.8 1 16.3 1 0 1-.1 1-3.1 1-25.3 1-7.5 1 54.3 1-60.3 1 .4 1-12.3 1 1.6 1 11.8 1-1.7 1 7.5 1 14.2 1-.9 1 1.5 1 11.1 1 7.2 1-49.7 1 47.1 1-30.7 1 29.7 1 8.5 1-2.1 1-74.1 1 68.4 1-5.7 1-5.9 1-14.8 1 16.8 1-.1 1-19.4 1 1.4 1 4.8 1 1.7 1 8.9 1-4.6 1-26.7 1 35.8 1 10.2 1-5 1-5.8 1 4.1 1-2.4 1-3.4 1 8.6 1 4.8 1-8.1 1 .7 1-2.9 1 17.3 1-7.3 1-20.3 1 8.2 1 7.2 1-10.8 1-4.6 1-3.2 1-3.4 1 8.9 1 10.2 1 3.9 1 .4 1 .3 1-8.1 1-4.7 1 45 1-50.5 1 4.6 1 1.2 1 6.5 1 5.3 1-3.9 1-24.8 1 .5 1 7.2 1 6.2 1 .2 1-10.5 1-3.7 1 32.6 1-7.3 1 3.7 1 1 1 1.4 1-3.5 1-2.1 1 2.3 1 2.8 1 12.3 1-14.4 1-3.5 1-6.8 1 5.4 1 7.4 1-7.2 1-2.1 1-6.5 1 .8 1-4.2 1-11.8 1 12.3 1 1.9 1 1.8 1 9.2 1-9.9 1 19.2 1-8.9 1-.2 1 2.4 1-1.1 1 3.7 1-.7 1 0 1-18.4 1 18.5 1 1.1 1-6.1 1 1.6 1 9.4 1-3.3 1-22.8 1 20.8 1-1.1 1 3.3 1-.1 1-3.3 1-102.6 1 105.5 1 4.5 1-.3 1-7.4 1-3.7 1 5.5 1 1.1 1-5.7 1 2.3 1 4.4 1-4.7 1-3 1 .3 1 4.1 1 1.7 1 3.4 1 1 1-61.6 1 58 1-4.1 1-1.1 1 3.1 1-1.9 1-4.7 1 3.7 1 2.6 1-1.5 1 5.5 1 .4 1-4.3 1-.8 1 1.7 1-.5 1-.1 1 .5 1 2 1-1.8 1 2.9 1 1 1-3.4 1-1.3 1 .8 1 7 1-3.9 1-7.8 1 5.3 1 1.3 1-4.7 1-18.2 1 20.5 1-.2 1-.7 1-4.7 1 3.2 1 3.4 1-1.1 1 3.8 1 1.7 1 70 1-80.7 1-2.7 1 4.4 1 4.7 1-.6 1-2.4 1 4 1 .6 1 0 1 .6 1 4.3 1-4 1-6.1 1 5.5 1 .5 1 1.2 1-1.1 1-6.6 1-1.3 1 3.8 1 1.1 1-1.3 1 .7 1 1.5 1-1.1 1-1.8 1 1.2 1-.1 1 1.5 1 4.6 1 1.6 1-4.8 1-2.6 1 .9 1 0 1 .8 1-2.1 1 2.4 1 1.8 1-6.3 1-5.9 1 2.8 1 5.9 1 0 1 2.9 1-3.2 1-5.5 1 .7 1 1.6 1 2.6 1-1.6 1-2.4 1 3.9 1-1.8 1 .4 1 4.7 1-2.1 1 .1 1 2.6 1-3.7 1-2.8 1 2.3 1-1.1 1-1.5 1-.1 1-1.6 1 0 1 4.4 1-.1 1-2.4 1 1 1-.1 1-.8 1 .5 1 3 1-1.5 1-.3 1 3.9 1-.4 1-1.8 1 .3 1-.3 1 .7 1 1.3 1-8.7 1 .4 1 6.2 1-2.4 1 2.5 1 1.9 1 1.1 1 2.2 1-7 1-.5 1 6.7 1-5.2 1 1.2 1-.9 1-3.7 1 .1 1 2.2 1 5.6 1 38.3 1-43.8 1 4.3 1-3.7 1-1.8 1 5.4 1-1.8 1-5.2 1 1 1-5.2 1-2.5 1 7.1 1 .9 1-1.2 1 3.5 1 3 1-1.3 1 0 1 1 1 8.2 1 .5 1-9.2 1-4.6 1 3.1 1 2.9 1-1.8 1-.8 1-6.5 1-5.1 1 25.8 1-17.7 1 8.7 1-5.7 1-60.7 1 61.3 1-15 1-38.6 1 53.5 1-4.3 1 14.4 1 7.7 1-13.2 1 1.2 1-26.3 1 20.3 1-2.7 1 82.2 1-84.9 1-.1 1-3.7 1 2.5 1 1.9 1 3.7 1-11 1-4.1 1-5.4 1-31.8 1 49.3 1-10.7 1 3.3 1 26.3 1-30 1 17.3 1-13.3 1 2.2 1 5.5 1-53.8 1 45.4 1-4.4 1 7.1 1 3.8 1-4.1 1-3.5 1-3 1-2 1 .8 1-53.3 1 53.3 1-19.9 1 13.4 1 14.8 1 .5 1-2.3 1 2 1-2.4 1 20.5 1-31.5 1-.5 1 4.2 1 3 1-3.4 1 4.8 1-11.3 1 17.8 1 7.1 1-.9 1-5.1 1 1.3 1 40.4 1-34.8 1-19.1 1-8.2 1 1.2 1 10.9 1-2.2 1-31.5 1 26.2 1 21.2 1 5.8 1 4.2 1-2.8 1-4.4 1-.8 1-7.1 1 1.8 1 4.6 1 35.2 1-49.3 1-45.3 1 57.1 1-8.1 1 2.9 1-108.2 1 102 1-4.4 1-13.8 1 7.4 1 13.5 1-8 1-10.1 1 8.2 1 11 1 14.6 1-24.1 1 21.9 1-22.7 1 13.2 1 6.2 1-13.5 1-1.4 1 10.6 1 8.8 1 1.9 1-7.1 1-6.7 1-4.8 1 15.7 1-9.6 1 3.7 1-1.5 1 1.1 1 32.8 1-45.1 1 2.2 1-2.1 1 .2 1-4.8 1-.1 1 14 1 .5 1 2.7 1-11.6 1-1.7 1 14.9 1-7.2 1-1.5 1 2.3 1-16.6 1 4.1 1-1.1 1-2.8 1-3.3 1-3.1 1 10.5 1 19.6 1-9.2 1 1.7 1 3.2 1 2.1 1-.7 1 4.1 1 .6 1-6.8 1 4.6 1 2.4 1 3 1 .2 1-10.4 1-1.4 1 7.3 1-3.4 1-4.7 1 2.4 1 3.6 1 5.7 1-.9 1-2.5 1-2.8 1 4.2 1 .6 1-5.7 1-2.5 1 3.3 1 4 1 26.4 1-33.8 1 5 1 .6 1-.1 1-.1 1-.3 1-.2 1-.6 1 1.9 1 1.7 1-.8 1-2.9 1-1.3 1 2 1 .6 1-5.7 1 3.8 1 4 1-.3 1-.8 1-3.6 1 84.5 1-82.3 1 2.2 1 3.1 1-.5 1-2.9 1 1.2 1 .5 1-5.7 1-.8 1 5 1 4.1 1-1.3 1-1.8 1-2.9 1-.5 1 4.4 1-1.6 1 .3 1-.8 1-4.1 1-2.2 1 .7 1 3.2 1-3 1-6.6 1 2 1 8.8 1 .9 1-3 1 .4 1-1.5 1-1.8 1 3.4 1 1.7 1 .5 1 .4 1-6.1 1 0 1 4.3 1-2.9 1 .1 1 4.8 1-1.4 1 .2 1 1.1 1-1 1 2.5 1-5.5 1-1.3 1 1.5 1-.6 1 30.7 1-31.9 1-2.9 1 2.3 1 5.7 1-1 1-.8 1 3.8 1-2.3 1-2.4 1 2.8 1 .9 1-2.8 1 2.6 1 1 1-2.2 1-.5 1 9.4 1-12.6 1-1.2 1 6.3 1 1.2 1-3 1-2.3 1 5.8 1-.5 1-3.3 1 2.9 1-1.2 1-1.6 1 .9 1-2.1 1 1.9 1-.5 1 .5 1 5.7 1-.6 1-5.2 1-1.7 1 4 1-2.7 1-6.6 1 4.5 1 .4 1-1.8 1 2.5 1-3.9 1-1 1 9.5 1 1.4 1-1.9 1 .7 1-2.9 1-.1 1-3 1-.2 1 2.6 1 .6 1-1.8 1-3.1 1-5.5 1 3 1 6.9 1-.2 1 1.8 1-1.8 1-.2 1 4 1-3 1-6.7 1 1.5 1-30.9 1 32.2 1 4.1 1-.5 1 18.3 1-17.9 1-3.1 1-2.3 1 .1 1-1.1 1 4.6 1 2.7 1-2.3 1-1.3 1 2.4 1-.7 1 .7 1 .1 1-3.9 1 8.3 1 1.5 1-7.3 1-4.7 1-2.8 1 0 1 4.4 1-.2 1 6 1-2.1 1-44.7 1 36.6 1 6.6 1-5.1 1 46.3 1-35.5 1-5.9 1-4.8 1 5.1 1 3.1 1-2.5 1-2 1 .4 1 2.8 1 4.3 1-7.1 1-5.4 1 5.9 1-2.7 1 .9 1 1.5 1-9.5 1-14.2 1 9 1 4.9 1 1.8 1-27.9 1 33.4 1-1.5 1-5.3 1-4.7 1-10.9 1 4.1 1-3 1 7.2 1-3.8 1 12.2 1-14.9 1 24.5 1-3.2 1 2.3 1-60.3 1 65.1 1-3.4 1 .9 1 3.9 1 2.4 1-1.6 1 1.2 1-9.6 1-4.4 1-35.3 1 34.2 1 3.3 1 7.7 1 5 1-5.9 1-5.5 1 20.6 1-35.8 1 0 1-82.5 1 79.3 1 4.9 1 13.2 1-3.7 1 6.1 1 4.7 1-1.2 1 .4 1-22.5 1 29.8 1-7.1 1-11.5 1 .8 1-43.1 1 43.8 1 1.7 1-.7 1 1.5 1 8.1 1-.6 1 59.6 1-56.9 1-12.9 1-6.8 1 6.3 1 8.1 1-14.5 1-54.6 1 50.6 1-4 1 3.4 1 3.5 1 7.9 1 3.1 1-4.3 1-15.6 1-70.4 1 91.2 1 90.3 1-99.8 1 14.6 1 .4 1 66.5 1-30.6 1-52.7 1 10.8 1-48.3 1 46.8 1-.5 1-2.2 1 5.4 1-.8 1 1.9 1 5.5 1-2.6 1 4.5 1-8 1-1.6 1-1.4 1-.2 1 2.3 1 3.3 1-4 1-.4 1 2.8 1 .8 1-.1 1-3.7 1-1.5 1-2.1 1 1.3 1 5.8 1 2.6 1-5.7 1 19.5 1-21.5 1-2.1 1-1.4 1 2.9 1-7.7 1 7.7 1-1.5 1-6.8 1-1.3 1 35.1 1-25.9 1-6.1 1-7.5 1 5.2 1 4.4 1-50 1 58.4 1-28.6 1-16.2 1 40.9 1 .6 1-10.5 1-4.5 1-1.4 1-1.6 1 14.1 1 8.8 1-.6 1-4.3 1 1.8 1 .3 1 4 1-5.3 1-2.1 1-4.3 1 2.4 1-.8 1-3.2 1 11.1 1 12.7 1-5.1 1-5.2 1 55.1 1-53.5 1-.9 1-1.2 1-3.4 1 3.3 1-8.3 1-.7 1-1.4 1 2.2 1-3.8 1-7.9 1 .7 1 17.7 1-3.3 1-3.1 1 2.5 1-1.8 1 3.5 1-.2 1 4.4 1 1.9 1 24.2 1-21.2 1-.4 1-3.2 1 .1 1-5.4 1 5.1 1 .2 1-3.3 1 2.3 1 1.2 1 .9 1-1.5 1-3.7 1-.3 1 3.6 1 3.8 1-2.1 1-2.7 1-87.4 1 89.8 1-.6 1-.7 1-1.2 1-4.9 1 4.1 1 2.2 1 46.3 1-48.7 1-5.7 1 6 1 8.5 1 1.1 1-6.7 1-7.4 1 3.9 1 3.5 1 0 1 0 1 5.1 1 .3 1-3.2 1-3.1 1-1.7 1 4.1 1-3.5 1-.2 1 3.5 1-3.6 1-.2 1 3.6 1-1.6 1 1.3 1 3.5 1-5.4 1 .8 1-2.6 1-6.3 1 3.4 1 3.2 1 .5 1-2.3 1 1.1 1 .4 1-.4 1 4.6 1 1.4 1-3.7 1 .8 1 4.3 1-.4 1-1.3 1-2.1 1 3.6 1-2.6 1-8.5 1 .8 1 1 1 4 1 1.3 1-5.4 1 2.5 1 1.5 1 1.3 1 7.1 1-4.1 1-.2 1 4.6 1-5.7 1-5.8 1-1.1 1 5.6 1 2.6 1-1.7 1-6.3 1-4.8 1 4.7 1 3.8 1 4 1-3.1 1-3.3 1 2.2 1 .7 1 4.6 1 1.1 1-5 1-4 1-3.5 1 1.6 1 47.5 1-38.2 1 16.7 1-22.3 1-5.1 1 3.1 1 2 1-2.9 1-.4 1 .5 1 3 1 5 1-1.7 1-1.8 1-1.8 1-.5 1-3.2 1 5.5 1 3.4 1-5.3 1 .9 1 .7 1 .6 1 2.3 1 .9 1-8.3 1-5.2 1 1.9 1 2.9 1 4.8 1-4.5 1 .3 1 5.5 1-.9 1 10 1-2.9 1-2.7 1-.7 1-.6 1-9.3 1 2.3 1-24.1 1 26.7 1-3.6 1-2.6 1-.3 1 3.5 1 6.9 1-.7 1-4.6 1 2 1 6 1-.7 1-10.2 1-.3 1 101.4 1-97.5 1 8.1 1-4.9 1-3 1-1.4 1 1.9 1 7.1 1-8.5 1 .8 1 5.1 1-4.4 1-4.7 1-3.6 1 2.7 1 4.2 1-2.1 1 4.3 1 2.1 1-39.7 1-.1 1-3.9 1-.1 1 1.4 1-8.6 1 7.1 1 44.9 1 .5 1-.6 1-2.4 1-1.1 1 .7 1 1.2 1-7 1-8.7 1 .5 1 6.7 1 6 1-44.9 1 42.6 1 7 1 1.4 1-1 1-1.5 1 3.5 1-129.3 1 101.9 1-.3 1-2.6 1-3.4 1-1.8 1 9.7 1 10.3 1 6.2 1 1.7 1 4.2 1-.4 1-2.7 1-1.4 1-5.2 1 .7 1 1.3 1-11.3 1-5.7 1-6.4 1 3.1 1-6 1 18.1 1 .3 1 7.7 1 7.3 1-10.8 1-4.7 1 7.5 1 .8 1-2.2 1 3.4 1 .1 1-8 1-2.3 1 8.3 1 3.8 1 73.2 1-79.2 1-4.5 1 5.5 1-2.2 1-3.6 1 12.6 1 9.9 1-17.3 1 4.9 1-3.6 1-60.9 1 84.8 1-17.7 1-29.2 1 22.7 1 5.9 1 2 1 2.6 1-4.1 1-11.5 1 1.7 1 1.4 1 10.2 1-16.8 1 10.5 1-2.5 1-20.4 1 28.5 1-3.5 1-2.5 1 4.8 1-3.1 1-1.2 1 8.2 1 54.9 1-61.9 1-6.1 1 .3 1-5.2 1 13.4 1-10.7 1-2.1 1-8 1 16.9 1-3.7 1 1.7 1 4.7 1-9.9 1-4.1 1-8.3 1 5.7 1 11.4 1-1 1-6.5 1 7.8 1 4 1 3.1 1-6.8 1 4.8 1 9.5 1-45.8 1 39.7 1-8.4 1-6.9 1 9.6 1 3.2 1-2.3 1 1.8 1-1.3 1-.3 1 2 1-8.1 1 59.7 1-66.4 1 .3 1 3.3 1 3.7 1-4.2 1-2.8 1 3.2 1 10.7 1-117.8 1 117 1 3.2 1-6.5 1-24.3 1 33.2 1 0 1-4.4 1-1.7 1 4.5 1 .4 1-12.1 1 9.5 1-9.3 1 6.2 1 4.7 1 .3 1-3.5 1 10.6 1-.6 1-6.2 1-4.5 1 1.5 1 7.2 1-4.9 1-2.9 1 1.4 1 2.1 1-2.6 1 4.7 1-32.6 1 33.5 1-1.9 1-34.2 1 36.1 1-8.7 1-21.9 1 2.8 1-37.6 1 40.7 1 3.9 1 1.5 1-1.9 1 19.2 1-3.6 1-1.8 1 8.8 1-.9 1-9.8 1 .6 1 6.2 1-.4 1-6.1 1-2.6 1 3.4 1 1.4 1 2.8 1 6.7 1-.5 1-8.4 1-1.9 1-2.9 1 .5 1 7.8 1 5.9 1-4.9 1-6.9 1 2.1 1-1 1-77 1 79.9 1-1.1 1-3.5 1 2.9 1 2.9 1 5.7 1 .1 1-7.7 1 .1 1-14.6 1 15.2 1 3.4 1-2.6 1-4.1 1 1.1 1 4.8 1 .1 1-6.7 1 14.5 1-12.4 1 0 1-.7 1 .6 1 4.8 1-3 1-2.1 1 8.8 1-1.4 1-6.4 1 3.2 1-7.5 1-.1 1 7.1 1-5.2 1-4.8 1 3.2 1-1.5 1-.5 1 1.8 1 1.9 1 .8 1-.3 1 5.8 1-5.2 1-3.1 1 33.5 1-26.2 1-3.8 1 2.5 1 2.4 1-1.9 1-.8 1-1.7 1 31 1-33.1 1 1.4 1-.4 1 .8 1 4.3 1 1.5 1-5.6 1 .6 1 5.3 1-5.1 1-1.7 1 2.9 1 .5 1 .2 1 .2 1-.5 1 51.5 1-52.7 1 .6 1 .9 1-.9 1-4.6 1 3.6 1 1.6 1-1.1 1 5.7 1 2.1 1-4.3 1-1.9 1 .5 1 .6 1 89.5 1-92.9 1 1.8 1-3.7 1-1.9 1 5.3 1 3 1-3.3 1 .8 1 3.5 1-4 1-2.3 1 5.3 1-6 1-4.1 1 9.1 1 1 1-3.6 1-.3 1 2.6 1-2.7 1 .7 1 4.9 1-.1 1-4.4 1-4.9 1 3.7 1 1.7 1-2.5 1 2.2 1 3.4 1-4.9 1 .8 1 1.6 1-3.3 1-1 1 .9 1 3.6 1 2.9 1-2.1 1-5.2 1 4.6 1 1.3 1-3.6 1 9.7 1 2.2 1-8.8 1 1.8 1-3.4 1-2.8 1 3.5 1-6.5 1-1.8 1 .4 1-1.7 1 5.5 1-3.3 1 5.9 1 7.1 1-77.5 1 76.8 1 3.1 1 .4 1-5 1-3.6 1-8.5 1 6.3 1 8.9 1-7.4 1-7 1 .9 1 8.2 1-1.7 1-19.3 1 19.3 1-3.8 1 .9 1 .8 1 3 1-2.6 1 18.4 1-15.8 1-10.6 1 3 1 3.3 1-6.9 1 2 1 .7 1-9 1 11 1 2 1-3.9 1 22.7 1-25.4 1-11.4 1 2.8 1 3.9 1-.9 1 3.6 1 2.8 1-3.7 1 8.9 1-.8 1-6.4 1-8.2 1 8.2 1-28 1 20.1 1 8.9 1 4.1 1-2 1-1.4 1-1.3 1-8.1 1 62.9 1-43.6 1 18.5 1-18.7 1-10.6 1-3.6 1 .1 1 27.7 1-40.4 1 7.3 1 7.6 1 7.2 1-8.2 1-2.2 1 6.2 1 2.8 1-.1 1 0 1-17 1 17.2 1-11.1 1-3.5 1 2.8 1-.8 1 8.4 1 7.4 1 .1 1 9.2 1-92.3 1 91.9 1-3.6 1-5.2 1-52.7 1 52.5 1 1.3 1-18.9 1 17.4 1-4.3 1-6.9 1-21.4 1 10.6 1 14.7 1-7.3 1-7.7 1 14.9 1 8.8 1-4.2 1 .1 1-1.5 1-4.2 1 1.4 1 2.3 1 5.6 1 2.2 1-7.4 1-12.1 1-10.4 1 19 1 6.7 1 3.9 1 1.7 1-2.5 1-4.1 1-6.8 1-7.1 1 4.2 1 7 1-7 1-8.3 1 9.6 1 1.8 1 .1 1-.4 1 .7 1 20.2 1-18.8 1 6.9 1 19.2 1-30.3 1 6.8 1 2 1 .3 1-21.3 1 20.9 1 9.5 1-8.1 1-.7 1-2.3 1-2.6 1 3.1 1-16.8 1 4.1 1 4.5 1-8.7 1 2.7 1 24.8 1-7.1 1-1.4 1-3.3 1-5.3 1 3.9 1 5.5 1 5.6 1-6 1 9.2 1-10.6 1 6.3 1-5.1 1-.1 1-6.9 1 5.3 1 6.8 1 2.8 1-1.1 1-2.6 1-.8 1-7.4 1-7.3 1 1.8 1 6.6 1 4.3 1 5.1 1-110.7 1 103.9 1 .2 1-2.5 1 10.9 1-.3 1-5 1 1.1 1 7.1 1-10.9 1-7.3 1-3.8 1-1 1 2.3 1-34 1 40.2 1 6.9 1 5.9 1 0 1-7.4 1-2.4 1 2.9 1 .1 1-4.5 1-2.3 1 6.4 1 .6 1-4.8 1 3.2 1 126.8 1-128 1 2.4 1 1.1 1-2.5 1 .7 1 2.2 1 2.5 1-1.7 1-.1 1 1.6 1-1.9 1-1.2 1-17 1 14.2 1 3.3 1 1.1 1-1.5 1 .4 1-3.9 1 .2 1 1.2 1 .6 1-2.6 1 2.4 1 5 1-3.3 1 1.2 1-.2 1-4 1 2.1 1 1.7 1-1.6 1-.8 1 6.1 1-1 1-6.4 1 2.9 1-1.7 1-1.2 1 1.8 1-3 1 .1 1-1 1-1.6 1 6.8 1 6.2 1-6 1-9 1-1.4 1 3.7 1 5.8 1 1.4 1-1.6 1-4.1 1 .3 1 5.4 1-.2 1 .7 1 7.6 1 2.2 1-15.2 1 4 1-.6 1-2.1 1 2.1 1 2.1 1-16.9 1 16 1 .1 1 3.4 1 1.8 1-7 1-4.3 1 2.5 1-.4 1-.9 1 4.3 1-.1 1-.9 1 104 1-99.1 1-1.6 1 .2 1 .5 1-.8 1-3.5 1-3.1 1-.7 1 2.7 1 1 1-1.5 1 4.8 1 .5 1-5.6 1 3.9 1 4.4 1-7.6 1-4.6 1 1 1 .1 1 2.1 1 5.3 1 15.8 1-20.9 1-.5 1 2.9 1-1.3 1-1.2 1 7.5 1 1.6 1-6.2 1 4.4 1 2.3 1-5.6 1 4.7 1-5.9 1-9.4 1 9.7 1 4 1-1.2 1 2.8 1-1.6 1-.1 1-.9 1-1.1 1 1.9 1 1.4 1 4.6 1-13 1-9.5 1 3.1 1-1.9 1 6.9 1 4.7 1 33.1 1-34.2 1 6.3 1-3.5 1-3.1 1-8.1 1 10.5 1-4.1 1-9.2 1-17 1 15.5 1 7.8 1 6.8 1-33.2 1-27.3 1 59.1 1 7.5 1-8.2 1-.4 1-19.8 1 20.8 1 .4 1-51.8 1 27.4 1-1.8 1 4.6 1-.2 1-9 1 9 1 2 1-.5 1 4.1 1 73.5 1-63.3 1-3.1 1 8.2 1-1 1-2.3 1 14.4 1-3.9 1 1.9 1-30.8 1 20.7 1-64.5 1 69.6 1 1.1 1-45.5 1 35.1 1 2.5 1-2.8 1 1.4 1-4.4 1-2.9 1 53.5 1-39.6 1 .4 1-5.1 1-.6 1-21.7 1 14.2 1 6.2 1-3.6 1-7.3 1 4.5 1 5.4 1 1.6 1-8.3 1 2.8 1 8.1 1 43.6 1-38.3 1-1.9 1 5.3 1-4.4 1-66.6 1 71.8 1-1.7 1-5 1-9 1-6.2 1-10.5 1-4.5 1 4.7 1-5.2 1 15.3 1-12 1 6.7 1 13.5 1-2.8 1-3.9 1 2.4 1 1.7 1 4.1 1 6.7 1-52.4 1 40.5 1 .2 1-1.6 1-1.6 1 3.5 1 4.3 1 1.7 1-4.5 1-6.5 1 10.1 1 12.6 1 .2 1-6.5 1 4.1 1-6.6 1-4.6 1 7.4 1 4.5 1-10.9 1-3.6 1-6.7 1 4.3 1 1.2 1 4.8 1-8 1-3.4 1 6.6 1 9.8 1 .2 1-7.3 1-19.6 1 19.4 1-5.8 1 3.7 1 4 1-6 1-37.8 1 38.4 1 11.8 1-3.5 1-9.5 1-10.4 1-7 1 4.4 1 4 1-15.3 1 4.7 1 11.9 1 85 1-79.5 1 3.1 1 3.9 1 8 1 10.1 1-12.7 1-1.9 1 1 1 3.9 1-5.4 1 .9 1 3.6 1-.4 1-2.8 1-8.5 1 5.5 1-.2 1 8.7 1 2.8 1-5.6 1-1.5 1 2.6 1-3.1 1-.4 1-10.8 1 13.9 1 2.3 1-1.5 1 5.4 1-2.7 1-5.5 1 1.9 1 .7 1 1.4 1-2.4 1-2.8 1-5.5 1 2.9 1 6.3 1 .3 1 1.7 1 .6 1-1.2 1-2 1-3.5 1-3.6 1 4.7 1-5.2 1 2.9 1 .8 1 1.3 1 6.5 1 3.4 1-1.9 1-2.6 1-8.2 1-2.3 1 6.9 1 6.6 1-1.7 1-9.6 1 6.1 1 8.6 1-7.8 1-1.5 1 4.3 1-.7 1-1.6 1 1 1 .9 1 45.5 1-50.8 1 1.9 1 3.5 1-7.3 1-4.1 1 5.2 1 3.3 1-3.2 1-4 1 1.6 1 2 1 1.3 1 .3 1-1.6 1 3.6 1-2.6 1-3.2 1 7.7 1 .6 1-5.1 1-5 1 4.3 1 4.1 1-4.9 1 1 1 .6 1-1.7 1 1.8 1-.7 1-2.6 1 4.5 1-.4 1-3.6 1 2.2 1 4.8 1-.3 1 1.1 1 1.8 1-6.6 1-4.2 1-2.2 1 5.3 1 3.2 1-1.2 1 2.7 1-.9 1 .9 1 2.8 1-2.1 1-1.8 1-3.8 1-2.7 1 4.2 1 3.9 1-2.2 1-3.4 1 2.2 1 .2 1-7 1 2.2 1 1.1 1-1.7 1 3.9 1 3.3 1 3.5 1-5.1 1-.8 1 3.8 1-6.6 1-3.2 1 6.9 1 4.6 1-2.3 1-2.8 1-.7 1 1.5 1 1.6 1-.8 1-2.3 1-1.4 1-4.7 1 2.9 1 5.3 1-4.2 1-3 1 2.2 1 3.8 1-2.4 1-3.3 1 2.2 1 2.8 1-1.3 1 2.5 1 6.2 1 1.6 1-6.7 1-5.7 1 3.2 1-.8 1-2.4 1 .5 1 2.4 1-.9 1-.8 1 4.4 1-2.8 1-2.9 1 1 1-1.8 1-1.2 1 1.1 1 .6 1-1.4 1 4 1 8.1 1-.1 1-4.8 1-4.2 1-2.2 1 .3 1 4.3 1 2.2 1-1.1 1-3.1 1-2.4 1 1.4 1 .4 1-1.6 1 4.4 1 4.5 1-1.8 1 .3 1 1 1-29.8 1 24.7 1 2.7 1-93.2 1 88.7 1-1.8 1-9.7 1 12.4 1-2.3 1 1.6 1 1 1 .6 1 .8 1-1.3 1-3.2 1 4.8 1 1.5 1-1.5 1 3.7 1 1.2 1-2.3 1 3.2 1-3.6 1-5.6 1-1.4 1-1.5 1 7.5 1 6.5 1-4 1-4.7 1 5.4 1-2.6 1-.1 1 3.1 1-2.9 1 20.2 1-18.1 1-8.8 1 .4 1 6.8 1-2.7 1-3.9 1 14.2 1-7.2 1-7.2 1 1.1 1 6.2 1-4.5 1-.4 1 6 1-4.5 1 3.8 1 9.6 1-1.3 1-4.1 1-4.7 1-4.3 1-.9 1-1.2 1 4.1 1-3.5 1-7 1 5.4 1 .5 1-3.5 1 7.2 1 4.1 1-6.4 1 6.1 1-5.3 1-7.9 1 8.4 1 3.4 1 25.3 1-31.4 1-10.3 1 3 1 7.1 1 1.6 1-3.5 1-2.4 1 12.9 1 4.5 1-6.7 1 1.4 1 32.3 1-40 1-2.3 1 2 1-4.9 1 2.1 1 .8 1 1.3 1-4.6 1-4.9 1-1 1 5 1-2.8 1 2.9 1-6.9 1 2.9 1 2.4 1-1.9 1-7 1 2.2 1-3.3 1 13.5 1 5.3 1-19.2 1 8 1 4.1 1-2.5 1 7.2 1-7.6 1-6.9 1 13 1 132.2 1-217 1 77.5 1 8.4 1 3.4 1-8.4 1 3.6 1 7.9 1-2.8 1-2.1 1-9.5 1 11.3 1 .3 1-4.2 1-.3 1 1.1 1 55.1 1-46.6 1-7.2 1-1.4 1 3.3 1 1.8 1-2.2 1-.2 1-3 1 2.5 1 8 1 .9 1-.4 1-3.1 1-9.9 1 2.3 1 3.4 1-7.8 1 1.6 1-19.1 1 24.2 1-9.5 1 5.6 1-5.6 1-.8 1 3.7 1-3.7 1-4.2 1 7.7 1 2.8 1-.7 1 3.7 1-1.9 1-.7 1-15.3 1 22.2 1-5.4 1 3.7 1-1 1-8.7 1 5.3 1-3.6 1-5.1 1-4.4 1 .7 1 9.3 1-7.8 1-11.5 1-5.7 1 27.3 1-3.4 1-3.3 1 4.7 1-8.2 1-.5 1 6.9 1 4.7 1 3.7 1-1.8 1 10.1 1-29.9 1 20.9 1 2.7 1-2.4 1 4.2 1-5.9 1-1.6 1-.1 1 6.1 1 1 1-4.9 1 7 1 4.2 1-5.4 1-5.3 1 5 1-1.9 1-8 1 2.9 1 4.1 1 1.9 1-11 1-15.8 1 6.6 1 7.3 1-1.9 1 9.4 1 .5 1 1.8 1-3.2 1 8.3 1-2.2 1-6.8 1-.9 1 4.7 1 .6 1 1.4 1-1.9 1 4.4 1 7 1-3.5 1-4.3 1-1.8 1 1.5 1-85.8 1 78.3 1-2.9 1 8.9 1 8.2 1-4.7 1-12.8 1 3.2 1 17.4 1-6.7 1-7.3 1 3 1-6.7 1-1 1 5.4 1 7.3 1 1.4 1-6.7 1-3.7 1 6.2 1 7.9 1-1.7 1-3.6 1-2.3 1-1.3 1 2.6 1-10.9 1 4.6 1 1.9 1-4.2 1 3.7 1-1.2 1 3.1 1 2.7 1-147.8 1 142 1 1.3 1 4.2 1-1.6 1-7.6 1 4.2 1 2.3 1 .2 1 5.6 1-.4 1-4.1 1-2.3 1 10.1 1-3.7 1 2.6 1-7.5 1-2.5 1 2 1 2.7 1-4.3 1-4.5 1 4.1 1 2.9 1-3.7 1 .3 1 5.5 1-5.6 1-4.6 1 5.7 1 .7 1 3.2 1 1.1 1-3.7 1 1.5 1 1.8 1 1.9 1-1 1-.6 1-6.2 1-5.7 1 3.8 1 4.7 1 2.6 1-.9 1-3.3 1-.3 1 0 1-1.3 1-.6 1 2 1 2.7 1-1.8 1-.3 1 3 1-.7 1-3.3 1 2.4 1 2.9 1-1.8 1 3 1 1 1-4.6 1-.5 1 .1 1-2.2 1 3.1 1 1.6 1-2.3 1-4.2 1 2.2 1 6.4 1 7.7 1-15.3 1 3.9 1 2.2 1-.8 1 .1 1-4.3 1 .3 1 5.4 1-2.5 1 1.5 1-.8 1-1.3 1 .1 1-.5 1 .9 1-.3 1-2.1 1-1.9 1 1.1 1 .5 1 .3 1 1.5 1-.4 1-.3 1 5.1 1-2.5 1-1.6 1 .1 1-6.3 1-.3 1 1.7 1 .2 1 5.2 1 5.7 1-5.6 1-.8 1 3.6 1-.7 1-3.7 1 1 1 3.6 1-6.2 1-.7 1 .8 1-1.7 1 2.3 1-1.7 1 3.9 1 8 1-3.5 1-4.4 1-4.2 1 .6 1 4.4 1-1.5 1-25 1 24.5 1 2.9 1-.9 1-3.4 1 3.4 1 1 1-4.6 1 5.8 1-.7 1 1.2 1-3.6 1-3.6 1-.3 1-1 1 2.9 1 4.4 1-3.9 1-9.8 1 10.7 1 6.6 1-8.7 1 1.2 1-4.8 1 3.5 1 1.2 1 11.1 1 33.5 1-51.8 1 6.4 1 7.6 1-2.6 1 2.4 1-1.8 1-9.1 1 1.4 1 8.8 1 1.4 1 1.6 1 2.1 1-4 1-18 1-1.7 1-.7 1 1 1-5.3 1-71.7 1 67.5 1 17.7 1 7.4 1-.2 1-2.6 1 1.3 1-1 1-3.3 1 8.3 1 .2 1-.5 1 .4 1-7.5 1-3 1 22.3 1-13.6 1 .2 1-1.3 1 5.7 1-4.1 1-4 1 57 1-105.1 1 48 1 9.7 1-102.5 1 101.5 1-6.5 1-3.9 1 6.5 1-1 1-4.7 1-2.2 1-4.4 1 6.3 1 13 1-14.9 1 1 1 .8 1 1 1 9.3 1-15.5 1 4.8 1-.1 1-1.9 1 5.5 1-8.1 1-3.8 1 .4 1 7.8 1 1.4 1-4.8 1-.9 1 3.4 1-26.7 1 29.2 1-1.2 1-6.7 1 6 1-4.9 1-5.3 1 10.2 1-7.1 1 4.7 1 5.6 1 .5 1-8.6 1-10.3 1 6.4 1 2.8 1-10.7 1 4.9 1 4.5 1-17.1 1 22.8 1 4.2 1-.5 1 .4 1-4.4 1-4.6 1 .9 1-1.4 1-7 1-8.2 1-.2 1 5.1 1 8.3 1-2 1 4.8 1-15.3 1 16.4 1 2.3 1 .9 1-4 1-5.9 1-1.7 1 3.9 1 8.2 1-10.1 1-69.1 1 69.3 1-8.5 1-8.3 1 12.4 1 6 1 3.8 1 .1 1 7.3 1-1.8 1-2 1 6.6 1-4 1-10.6 1 1.7 1 7.9 1-20.8 1 14.7 1-1.3 1 .1 1 30.3 1-69.7 1-60.3 1 81.7 1 17.9 1 5.5 1 6.9 1-22.5 1-9.4 1-54.7 1 64.7 1 5.7 1 .7 1-22.3 1 27.9 1-5.4 1-2.4 1-6.1 1 9.2 1 10.4 1-12.9 1-3.3 1 2.6 1 17.8 1 6.7 1-5.7 1 8.1 1-8.3 1-8 1 3 1-1.3 1-6.1 1 3.1 1 11.8 1 .4 1-6.9 1 1.1 1-6.8 1-6.8 1 10.3 1 1.3 1-2 1-4.8 1 5.6 1 3.3 1-12 1 8 1-3.9 1-5 1 3.3 1 14.3 1-1.3 1-7.7 1-7.2 1 5.2 1-23.3 1 25.1 1 2.9 1 9.3 1 2.5 1-8.3 1-7.7 1 2 1 31.8 1-21.5 1-9.5 1-2.5 1 1.9 1 5.6 1-1.6 1 1.9 1 2.4 1-4.9 1-6.6 1 2.9 1-.2 1 3.8 1-1 1-3.8 1-1.6 1 5.3 1-.4 1 .1 1 1.7 1 1.7 1 2.5 1-4.2 1-1.3 1 .8 1-.8 1 9 1-9.4 1-2.2 1 .2 1 1.7 1 5.5 1-.4 1-1 1-2 1 0 1-2.2 1 .5 1 .7 1-2.5 1 5 1 2.9 1 1.1 1-3.7 1-1 1 .3 1-.5 1-1 1-4.5 1 1.7 1 3.8 1-.5 1-1.8 1 1.9 1-1.7 1-1.3 1 4.8 1 1 1-3.8 1-.8 1 2.7 1 1.9 1-4.7 1-2.2 1 4.6 1 4.6 1 .6 1-4.5 1 .2 1-.6 1-5.8 1 .7 1 1.8 1 2.8 1 2.2 1-4.7 1-.2 1 2.9 1-1.8 1 .1 1-2.1 1 .6 1 7.1 1-3.8 1-8.7 1 3.1 1 8.4 1-4.3 1 75.6 1-77.2 1-4.3 1 6.3 1-.7 1-4.7 1 21.1 1-17.1 1-8.3 1 3 1 4.8 1 1.8 1 2 1-9.2 1-8.3 1 21.4 1-3.6 1 .3 1 .7 1 .1 1-5.5 1-1.8 1 10.8 1-6.7 1-8 1 2.1 1 4.8 1-9.7 1 9.5 1 4.3 1-4.7 1 .7 1-5.8 1-1.3 1 5.4 1 2.9 1 2.8 1 2.8 1 4 1-5.4 1-4.3 1-4.4 1-5.8 1-6.6 1 12.9 1-.5 1 1.4 1 .4 1-5.1 1 6.4 1 5.1 1-6.5 1-3.9 1-3.2 1-1.2 1-4.8 1 12.4 1 2.8 1-4.1 1-7.6 1 9.3 1-20.1 1 28.4 1-4.6 1 0 1 3 1-8.2 1-2.8 1 5.7 1 5.1 1-3.7 1 1.3 1-.4 1-4.7 1 2.1 1-1.1 1 6.3 1 .7 1-7.6 1-.9 1 3.8 1-2.4 1-6.9 1 8.2 1-.4 1-.5 1 3.5 1-37.3 1 41.6 1-.2 1 5.1 1-9.8 1-12.4 1-6.3 1 6.2 1 8.9 1 87.4 1-94.5 1-2.3 1 1.5 1 107.3 1-94.7 1 5.4 1-10.1 1 1.1 1 9 1-7.5 1-30.8 1 35 1 19.5 1-21.3 1-5 1 5.7 1 1.3 1-10.5 1 59.9 1-53.4 1-6.2 1 .8 1 6.8 1-2.5 1 3 1 6 1-10.2 1-5.9 1-.4 1 0 1-.7 1 .7 1 1.2 1-4.1 1-14.8 1 11.9 1 9.8 1 3 1-8.1 1-3 1 .5 1 9.4 1 9.3 1 52.7 1-55.8 1 1 1 3.6 1-4.7 1-5.7 1-1.3 1-3.5 1 .7 1-6.3 1-2.1 1 6.8 1-2.5 1-1.5 1 .4 1 2.1 1 7.9 1 1 1-9.1 1 11.8 1 6.3 1-9.1 1-7 1 1.7 1-8 1 6.1 1 1.5 1 3.5 1-1.2 1-4.3 1 1.2 1 12.7 1 3.5 1-4.9 1-.1 1-2.4 1-5.1 1 1.5 1 25.5 1-54.4 1 13.5 1-1.8 1 10 1 1.2 1-4.8 1 36.8 1-27.8 1-2.6 1 9.2 1-7.3 1 .6 1 2.6 1 23.6 1-20 1-10.7 1 3.6 1 3.4 1 0 1-4.5 1-7.4 1-7.4 1 6.2 1-1 1-4.9 1 0 1-10.2 1 7.2 1 5.7 1-40.1 1 41.6 1 5 1-5.1 1 3.1 1 12.3 1-2.3 1-11.7 1 7 1-10 1 7.3 1 6.6 1 3.6 1 68.3 1-63.3 1 8 1-7.4 1-4.5 1-1.6 1 3.8 1-5.4 1 1.1 1 1.2 1 1.1 1-5.2 1-5.1 1 4.3 1 .7 1 1.8 1-.1 1 3.8 1-40.4 1 43 1-1 1-1.2 1 6.2 1-2.5 1 5.8 1-10.4 1 1.8 1-18.5 1 15.2 1-2.7 1-2.5 1-.9 1 2.1 1 2.1 1-2.6 1 3.7 1-2 1 .7 1-.1 1-6 1-1.9 1 10.3 1-51.1 1 49 1 1.6 1-3.7 1 4.5 1-6.3 1-.3 1 7.8 1 .6 1 2.9 1 1.5 1 1.9 1-2.7 1-3.4 1-3 1 3.4 1 .1 1-3.5 1 1.7 1-16.2 1 12.5 1-7.4 1 7.4 1 2.5 1-7 1 4.2 1 1.8 1 7.7 1-8.7 1 1.3 1 6.6 1 1.3 1-6.7 1-4.1 1 .3 1 1.5 1 2.9 1 60.3 1-58.1 1 1.2 1-6.4 1-.8 1 5.4 1 4.5 1-1.4 1-.1 1-3 1-5.5 1-1.5 1 .9 1 4.2 1-2.2 1-2.8 1-.4 1 5.8 1 4.8 1 .6 1-5 1-6 1 6 1 1.3 1 1.8 1 .4 1-1.1 1-1.6 1-2.5 1 8.3 1-7.7 1 0 1 3.4 1-2.2 1 1.8 1 .7 1-3 1-1.7 1-2 1 2.8 1 1.3 1-4.9 1-4.9 1 5.8 1 7.5 1-1.3 1-3.2 1-2.9 1 2.2 1 3.8 1-72.3 1 71.4 1 1.8 1-2.3 1-1.7 1-1.9 1-1.1 1 3.6 1 .1 1-3 1-1.7 1 1.6 1 .6 1-1.7 1 7.3 1-1 1-.4 1 1.3 1-7.3 1 3 1 5.9 1 0 1 3.5 1-1.3 1-6.2 1-4.8 1 2.4 1 2.9 1 5.4 1-6.9 1-3.9 1 6.4 1-3.7 1 0 1-1.5 1-1.3 1 2.1 1 6.5 1-2.9 1-1.8 1-3.5 1 2.7 1 22.3 1-18.9 1-3.1 1-3.6 1 1.6 1 1.1 1-1.4 1 .6 1 1.3 1-1.8 1 6.4 1 1.8 1-2.8 1-.1 1-6 1-2.1 1 3.3 1 2.1 1-2 1-2.8 1 4.1 1 .3 1 1.5 1 3.2 1-4.3 1-2 1 5.4 1-.5 1 1.2 1 2.4 1-3.6 1-2 1 3 1-.5 1-8.1 1 1 1 4.9 1 4.2 1-5.5 1-7.2 1-11.9 1 17.9 1-.7 1-1.4 1-.5 1 4.1 1-1.8 1 .6 1 4.4 1-3.7 1 0 1 3 1-2.9 1-4.3 1-1 1 13.6 1-13.5 1-2.7 1 2.4 1 2.7 1-1.3 1 4.4 1-1.5 1 1.8 1 4.1 1-1.9 1 6.6 1-3.9 1-10.2 1 5.9 1 3.7 1-2.4 1-5.1 1-3.8 1 7.4 1 1.3 1-4.3 1-5.1 1-1.2 1 3.9 1 6.1 1 5.8 1 5.5 1-48.6 1 31.3 1-6.2 1 2.1 1-6.1 1 1.4 1-.1 1-.1 1 3.6 1-60.3 1 65.8 1 5.1 1-4.3 1 3.7 1-2.6 1 5.3 1-14.5 1 3 1 11.6 1-14.1 1-3.7 1 4.2 1-4.3 1-24.1 1 39.7 1-20.6 1 23.1 1 50.8 1-52.7 1-2.7 1 3.3 1-.9 1-4.9 1 1.1 1 2.4 1 1 1-9.5 1 6.3 1 1.4 1-1.5 1 5.3 1-13.5 1-7.8 1-33.8 1 43.7 1-1.6 1-4.4 1-3.2 1 6.5 1 8.7 1 2.8 1 4.3 1-1.8 1-8.8 1 5 1 3.5 1-2.4 1 2.1 1-1.2 1-7.9 1-4.6 1 3 1 1.6 1 2.4 1 8 1-13.7 1-9.6 1 16.7 1 6.9 1 1.8 1-3.2 1 .2 1-5.7 1-2.7 1-5.5 1 .3 1 21.7 1-24.4 1 4.3 1-99.5 1 109.2 1-1.8 1-2.6 1 8.3 1-6.4 1-14.9 1 6.8 1 2.5 1 1.1 1 4.8 1 58.1 1-64.5 1-7 1-34.8 1 42.6 1 3.6 1-8.1 1 10.7 1-.8 1-3 1 5.3 1 .1 1-6.1 1-1 1-45.8 1 37.2 1 .5 1 8.1 1 3.7 1-3.1 1-4 1 10.4 1-.4 1-5.3 1-1.4 1-1.4 1-12.5 1 11.4 1 3.1 1 5.1 1 1.4 1 1.4 1 30.3 1-38.2 1 1.2 1 2.2 1-.7 1 1.3 1 1.1 1-2.3 1 .5 1 3.6 1 2.9 1-8.2 1-4 1 7.8 1 3.7 1 1.2 1-1.8 1-.6 1 4.1 1 1.8 1-8.8 1-3.1 1 5.1 1 5.1 1-3.2 1-.9 1 1.3 1-6.2 1 3 1 4.9 1-6.7 1-1.9 1 4.8 1-14.2 1-11.8 1 35.8 1 3 1-7.3 1-2.5 1-3 1-4.7 1 7.3 1-1.5 1-7.8 1 4.6 1-.8 1-3.6 1 6.8 1 .7 1-2.2 1 4.7 1-4 1-8.1 1 6.8 1 57 1 33.8 1-96 1-12 1 27.1 1-5.3 1-1.8 1-7.1 1 9.4 1 .6 1-7.2 1-3.7 1-3.2 1 6.6 1 11 1-1 1-9.9 1 1.5 1-.2 1 3.5 1 3.7 1-4.3 1-.7 1 5.2 1-2.9 1-6.3 1-2.2 1-.3 1 6 1-1.2 1-.3 1 1.2 1 5.2 1 2.9 1-5.5 1-4.6 1 3.9 1 2.5 1-4.8 1-3.4 1 2.8 1 2.9 1-2.2 1-.9 1-1.4 1 1.1 1 2.9 1 1.1 1-2.4 1 .4 1 2.9 1-5.7 1-1.8 1 6.2 1 .4 1-1.2 1-1 1-.6 1 1.3 1-5.5 1 .4 1 4.1 1 1.4 1 1.2 1 1.2 1 .1 1-.8 1-2.1 1-4.5 1 3.6 1 3.2 1-1.2 1-3.2 1 4.1 1-.1 1-1.5 1 6.7 1-4.1 1-4.1 1 .5 1 1.4 1 2.5 1-.8 1-.6 1-2.7 1 1.3 1 3.6 1 1.8 1-4.4 1-2.3 1-6 1-.6 1 11.9 1-5.8 1-4.2 1 3.8 1-1 1 2.7 1 3.2 1 2.9 1 1.6 1-.9 1-20.7 1 10.1 1-.7 1 10.9 1 23.2 1-33 1 1.4 1 1.2 1 2.3 1 14.1 1-11.5 1-7.5 1-1.4 1 1.9 1 .9 1 4.5 1-6.2 1 3.6 1 8.2 1-7.6 1-4.3 1-2.3 1-4.3 1 2.9 1 7.4 1 2.1 1 4.1 1 1.5 1 8.8 1-15.9 1-1.3 1 1.7 1 6.3 1-.4 1-.3 1-23.4 1 10.5 1-3.6 1 6.1 1-1.1 1-6.3 1-.6 1 3 1 1.3 1 9.4 1 1.9 1-17 1-6.5 1 5.8 1 6.9 1-1 1 34.2 1-23.8 1 7.8 1-3 1-19.1 1 11.1 1 5.9 1-2.5 1-9.9 1 40.4 1-35.6 1-7 1-3.5 1 11 1 3.6 1 .6 1-5.9 1 0 1 3 1 2.4 1 1.5 1-19.2 1 10.4 1 3.4 1-3.9 1-52 1 51.8 1-40.7 1 9 1 27.6 1 3.7 1-4.1 1-1.8 1 17.9 1 4.9 1-6.9 1-3.6 1-3.8 1-5 1 3.7 1 2.2 1 .1 1-3.7 1 0 1 5.4 1 2 1 6 1-9 1-6 1 6.1 1-.4 1 6.1 1-8.6 1 1 1 .6 1-3.6 1 .7 1 2.7 1-1.4 1 32.1 1-29.5 1-.2 1 2.4 1-6.9 1 .1 1 11.3 1 .3 1-5.3 1 2.6 1-6.9 1 2.5 1 .1 1-3.2 1 2.2 1-3 1-32.9 1 30.6 1-1.5 1-4.2 1-3.9 1 8 1 4.5 1-2.5 1 15.5 1-10.8 1 3.4 1-.5 1-2.9 1-7.1 1-2.2 1-.7 1 9.1 1 1.1 1-4.1 1 3 1-5.9 1 2.8 1 4.3 1-2.4 1-.3 1 .4 1-1 1 14 1-1.6 1-12.2 1 .1 1 2.3 1 1.8 1 4.3 1-3.2 1-7.5 1-3.7 1 6 1 1.1 1 0 1 5.2 1 6.9 1-43.2 1 29.7 1-31 1 39.6 1-14.2 1-47.3 1 54.3 1-8.3 1 1.1 1 1.1 1 1.1 1 .1 1 .3 1-.1 1 9.4 1 .1 1-2.9 1 .6 1-37.3 1 44.6 1 1.5 1-13 1 5.3 1-2 1 4.1 1 2.6 1 4.2 1-2 1-29.2 1-50.8 1 67.3 1 3.4 1 4 1 6.8 1-1.3 1-14.1 1 7.6 1 4.6 1-8.8 1-.4 1 7 1-5.3 1-7.7 1 5.9 1 6.3 1-3.1 1-2.3 1-6 1-5.8 1 12.3 1 10.5 1 .7 1-4.1 1-15.8 1 6.1 1-13.7 1 .7 1 4.2 1-3.4 1-4 1-12.9 1 18.8 1-9.3 1 21.3 1 8 1 1.1 1 4.1 1-5.2 1-3.3 1 4.2 1-19.8 1 11 1 3.8 1 4.9 1 4 1-2.1 1-10.4 1 9 1 3.5 1-8 1 1 1 .3 1-.1 1 1.7 1-4.1 1 .6 1 6.9 1-4.9 1-5.7 1 4.9 1 5.7 1 1.3 1 14.8 1 36.5 1-63 1 .5 1 3.9 1 4.7 1-1.9 1-5.6 1 4 1 2.2 1 1.8 1-.5 1-4.8 1 1 1 2.3 1-1.9 1-5.5 1-2.4 1 2.8 1 5.6 1 1.1 1-2.2 1-1.3 1 1.2 1 .2 1-10.7 1 9.4 1 .4 1-1 1 2.8 1-1.1 1-2.6 1-4 1-1.1 1 1.8 1 3.7 1 6.8 1 .8 1-6.9 1-.1 1 2.8 1 .3 1 4 1-1.7 1-5.1 1-3.3 1 11.8 1-6.9 1 2.2 1-2 1-.3 1-.8 1-1.4 1 1 1 .6 1-2 1 1.2 1-1.5 1 3.7 1 25.3 1-30.4 1-3.6 1 2.1 1 3.9 1 1.8 1 .6 1-3.1 1-.8 1 3 1-1.7 1-.7 1 .7 1 1.2 1-1.2 1-.7 1 1.4 1 0 1-.3 1-5.3 1-1.2 1 5.8 1 1.8 1 2.1 1 .8 1-8.9 1-2.3 1 5 1 1 1-2.1 1 1.1 1 1.9 1-1.8 1 1.8 1 1.2 1 2.2 1 2.5 1-2.7 1-4.7 1-.6 1 5.1 1 4.8 1-2.2 1-7.5 1-.2 1 1.7 1-2 1-1.8 1 5.7 1-1.8 1 .6 1 4.8 1-.3 1-4.3 1 1.2 1 4.9 1-2 1-2.1 1-5.7 1-5.2 1 7.3 1 2 1 .3 1 .2 1 2.6 1-.2 1-6.5 1 2.1 1-2.1 1-2.8 1 7.3 1 2.1 1-5.2 1 .8 1-.3 1 3.9 1 2.7 1-.5 1 3.1 1-4.5 1 28.6 1-29 1 61.2 1-68.5 1 7.4 1 1.7 1-3.7 1-1.1 1-2.7 1 1.2 1-1.2 1-5.9 1 2.2 1 9.9 1 2.7 1 .8 1 4.2 1-4.6 1-9.9 1 52.1 1-48.6 1-.6 1 1.1 1-1.8 1-3.8 1-.9 1 5.2 1 3.3 1-3.7 1-9.5 1 2.3 1 3.8 1 4.5 1-.6 1-17.9 1 18.3 1 1.6 1 .7 1-2.8 1 0 1 16.6 1-8.6 1-2.6 1-4.2 1-4.3 1-32.6 1 28.5 1-3.1 1 9 1-31 1 56.3 1-33.9 1-.2 1 3.7 1 5.3 1 4.8 1-1.3 1-2.1 1 6.6 1 3.7 1-12.9 1-13.5 1 72.5 1-68.1 1-1.7 1-2 1-2.7 1 9.5 1 4.5 1-8.4 1-11.4 1-.1 1 5.7 1 .6 1 5.3 1 4.7 1 2.4 1 4.4 1-.1 1-5 1 7.9 1-14.9 1 16 1 7.6 1 2.7 1-8.3 1 1.4 1-1.5 1-10.1 1 2 1 8.8 1 .4 1-5.6 1-5.8 1-3 1 5.3 1-.8 1 .5 1 .4 1 1.2 1 2.9 1-36.3 1 58.2 1-30.7 1-5.8 1 14.6 1-5.4 1-11.5 1 2.8 1 9.8 1 8.6 1 11.9 1-39.2 1 16.2 1-5.1 1-1.7 1-.3 1-4.3 1 4.3 1 5.9 1-10.8 1 6.1 1 9.1 1 10.9 1-1.5 1-.8 1 3.4 1-35.1 1 17.4 1-12.5 1-1.6 1 15.7 1-4.2 1-.2 1 5 1 3.1 1 3.2 1 4 1 2.4 1 .3 1-13.5 1-.8 1 40.2 1-37.3 1 2.6 1 1.2 1-14.3 1-31.8 1 27.5 1-2.4 1-2.6 1-37 1 25.8 1 22.9 1-27.2 1 13.1 1-10.5 1 .4 1 7.6 1 1.2 1-4.8 1 34.2 1 6.8 1-11.4 1 18.5 1-15.2 1 7.3 1 3.2 1 28.1 1-30.9 1-2 1-1.3 1-7.6 1-8.1 1 10.5 1 14.8 1-15.9 1-15.1 1 8.5 1 8.7 1 2.9 1 3.4 1-5.7 1-3.3 1 1.5 1-3 1-6.4 1 7.1 1-6 1 2.2 1 4.1 1-6.2 1 3.8 1 5.5 1-.4 1 2 1-13.6 1 6.3 1 10.3 1-5.8 1-4.7 1-.6 1 2.9 1 2.6 1 3 1 3.9 1-4 1-5.5 1 2.8 1-2.9 1-.8 1-7.6 1-2 1 13.2 1 6.3 1-8.5 1-4.7 1 7.7 1 1.4 1-3.2 1-17.8 1 30.2 1-10.7 1 4.3 1-5.3 1 1.6 1 2.5 1 1.9 1 1.4 1-11.9 1-4.2 1 5.1 1 8.1 1-107.7 1 102.6 1-3.1 1 8.2 1-4.7 1-1.7 1 7.1 1 3.1 1-1.3 1-7.1 1-4 1 7.8 1 .9 1-4.8 1-2.6 1 3.2 1 1.5 1-26 1 49.7 1-20.9 1-1.6 1 .9 1-3.4 1 3 1 1.4 1 17.1 1-19.2 1 100.9 1-92 1-4.2 1-11.1 1 6.8 1 5.9 1-2.3 1-.8 1-1.6 1-3.7 1 .5 1 2.1 1-1.7 1-3.5 1 1.7 1 2.2 1 60.2 1-59.1 1 3.6 1-11.6 1 11.3 1-1 1 3 1 2.3 1-6.9 1-4.7 1 2.4 1 2.7 1-1.6 1 3.7 1-1.6 1-9 1-1.4 1 9.5 1 1.4 1-.5 1 2 1-5.2 1-.2 1 3.4 1 1.6 1-.4 1-7.2 1-1.5 1 6.6 1-.2 1 .7 1-.4 1-4.2 1-59.9 1 98.3 1-39.1 1 1.6 1-.7 1 .9 1 1.3 1-.1 1 1 1 1.7 1-43 1 23.8 1 11.8 1 .1 1-3.7 1 3.4 1-26.9 1 21.2 1-3.5 1-1.8 1 1.9 1-4 1-5.7 1 6.8 1 12.6 1-1.4 1 6.1 1-5.4 1 2.3 1 5.8 1-.2 1-3.2 1-6.6 1 4.4 1 3.4 1-.7 1 2.3 1-4 1 1.1 1 7.7 1-7.7 1-8.9 1 1 1 3.9 1 8.1 1 .3 1-1 1-2.5 1-7 1 24.1 1-16 1-4.7 1 1.8 1-4.4 1-2.3 1 4.8 1 3.4 1 6.7 1-9.9 1 2.9 1-1.5 1-9.9 1 8.5 1 10.3 1-34.4 1 22.4 1-1.6 1 .8 1 8.4 1-3.8 1 6.3 1-3.9 1-15.3 1-1.3 1 8.1 1 6.4 1-112.4 1 116.9 1-3.7 1-3.5 1 7 1 0 1-9.8 1 5.8 1 7.8 1-10.6 1 50.4 1-51.4 1 11.4 1 1.4 1-4 1-27.2 1 17 1-1.3 1-17.9 1 4.7 1 1.2 1-9.2 1-5.3 1 2.4 1-.8 1 19.8 1 4.7 1 1.9 1 3.2 1 5.4 1-13.2 1 1.5 1 57.8 1-53.7 1 4.6 1 4.4 1-6 1-11.2 1 3.6 1-14.2 1 26 1-3.8 1-3.6 1 1.5 1-4.6 1-3.6 1-4.7 1 .2 1 3 1-3.5 1 6.6 1-49.3 1 49.6 1-2.5 1 15.2 1-2.7 1 36.9 1-38.9 1 3.5 1 1.7 1-2 1 6.8 1 2 1-7.5 1 .9 1 .2 1 1.2 1 1.6 1-2.2 1-6.9 1-57.2 1 49.6 1 9.4 1-6.6 1-12.9 1 2.8 1-5.9 1 21.6 1-5.5 1 4.2 1-2.1 1-2 1-.5 1-2.5 1 6.6 1-7.9 1 11.9 1 2.2 1-10.3 1-1.8 1 4.7 1 1.3 1-1 1 1.8 1-15.6 1 21 1-10.2 1 3.6 1-3.3 1 2.2 1 2.3 1-.2 1-6.9 1-6.7 1 1.6 1 .5 1 5.4 1 6.1 1-5.1 1 5.9 1 4.1 1-1.9 1-.6 1-59.9 1 59.6 1 7.1 1-.5 1-8.2 1 4.8 1-1.3 1 38.1 1-38.8 1-6.6 1 5.2 1-3.8 1-37.9 1 31.8 1-24.5 1 20.7 1 2.6 1-46.1 1 49.8 1 3.9 1 2.3 1-.8 1 24.1 1-40.9 1 19.9 1-26.4 1 1.1 1-4.6 1 7.6 1 28.5 1-5 1 2.1 1-1.9 1-4.5 1 .4 1-1.8 1-2.8 1 5.3 1-.8 1-3.7 1 7.8 1 14 1-33.1 1 6.8 1 5.8 1-19.8 1 30.4 1-3.6 1 2.1 1 5.8 1-4.1 1 .7 1-4.8 1-9.8 1-2.2 1 6.5 1 22.1 1-18.1 1 5.8 1-4.2 1-3.4 1 5.4 1-4.6 1-12.2 1 67.9 1-51.1 1-4 1 0 1-.7 1-1.3 1 3 1 18.8 1-20.3 1 1.8 1-26.7 1 107.3 1-97 1-4.4 1 3 1 1.2 1-5.9 1 17.8 1 5.8 1-3.3 1-1.4 1 7 1-2.2 1-1.8 1-.9 1 .9 1-1.9 1-5.2 1 4.6 1 4.8 1-7.9 1 2.3 1 .7 1-5.1 1 3.1 1 3 1 1 1 41.6 1-36.5 1 .7 1-7.2 1-.8 1 2 1 .6 1 4.6 1 3.4 1-4.7 1-2.2 1 .3 1 3.1 1-2.2 1-4.9 1-3.7 1 1.3 1 1.7 1-.4 1-.9 1 .8 1 2.3 1 .2 1 2.7 1 .2 1-1.7 1 1.6 1-1.3 1-3 1-.8 1-1.6 1 4.2 1 5.2 1-3.6 1-6.1 1 .8 1 4 1-.7 1-1.6 1-.9 1 1.4 1 .1 1 1 1 1.5 1-3 1 1.3 1-1.5 1 .2 1 4.2 1-.1 1 4.6 1-2.4 1-4.9 1 2.8 1-1.8 1-4.3 1 .1 1 .8 1-1.6 1 .8 1 3.7 1-.7 1 1.8 1 3 1-.9 1-2.2 1-2.3 1 29.7 1-29.2 1-1.5 1 4.1 1 1.9 1-1.1 1-4.7 1-.4 1-21.4 1 20.4 1 3.1 1-1.5 1 3.8 1-.1 1-.5 1 3.1 1 .5 1-5.5 1-2.7 1-3.2 1-.3 1 7 1-1.3 1 1.3 1 3 1-3.7 1-.6 1-1 1-2.6 1-.4 1 .9 1 95.7 1-87.4 1 1.4 1-6.2 1 .2 1 9.7 1-5.7 1-5.7 1 4.3 1 6.3 1-3.7 1 1.4 1-6.1 1 .5 1 2.9 1-4.4 1-2.8 1 2.9 1-4.3 1 3.8 1 6.3 1-2.9 1 1 1-2.1 1-2.9 1-.2 1-51.3 1 47.3 1 7.3 1 1.8 1-2.6 1 0 1-3 1 1 1 6.6 1-3.1 1 .9 1 2.9 1-8.2 1-3.2 1 6.5 1 1.2 1-6 1-.9 1 4.1 1 1.8 1 2.1 1 2.6 1-6.1 1 1.9 1 5.9 1-.1 1-45.7 1 18.9 1 18 1 1.9 1 7.4 1-9.9 1-3.8 1 3 1 1.2 1-5.2 1 3.6 1 5.7 1 3.7 1 4.4 1-12.4 1 7.2 1-6 1-9.1 1 6.7 1 6.6 1-4.2 1 38.1 1-38.7 1-7.9 1 .9 1 2.9 1 35.1 1-38 1-4.8 1 2.1 1-2.5 1-3.4 1-3.4 1-4.8 1 10.1 1 7.9 1-1.3 1 .7 1 3 1 1.5 1-1 1 1.7 1 76.6 1-81.6 1-13.6 1 6.6 1 5.3 1-4.3 1-7.7 1 4.6 1 9.7 1 4.4 1-12.1 1 5.4 1 7.8 1 2.4 1 3.2 1-.3 1-4.7 1-1.6 1 5 1-.4 1-2 1 1 1-5.5 1 2.2 1 2.7 1 0 1-27.4 1 54.5 1-37.4 1 3.8 1 .2 1 2.5 1 .9 1 15.6 1-16.4 1-4.9 1-41.9 1 8.1 1 34.8 1-.7 1-9.1 1-5.2 1 8.9 1 17 1-15.3 1 5.5 1 6.6 1-4.4 1-23.5 1 26.7 1 11.7 1 11.9 1-23.9 1 4.4 1-14.2 1-5.3 1 13.2 1-9.8 1-1.9 1-4.2 1 1.6 1 5.9 1 2.6 1 7.6 1 5 1-.2 1-10.2 1 1 1 2.6 1-2 1 3.6 1 4.8 1-3.4 1-53.9 1 51.6 1 2.9 1 4.2 1-2.2 1-1.5 1-15.2 1 1.4 1 10.2 1 3.3 1 0 1 2.2 1-5.8 1-24.3 1 15.6 1-2.8 1 2.6 1-4.8 1-2 1 2.4 1 5.2 1-3.1 1 4.5 1 .1 1-3.4 1 1.7 1 6.4 1 12.3 1-6.2 1-.2 1 5.7 1-5.5 1-9 1 3.4 1-37 1 41.5 1-1.7 1-4.1 1 11.8 1-2.3 1-3.1 1-1.9 1-4.6 1 3.7 1 2.3 1-3.3 1-1.8 1 2 1-3.3 1 2.5 1 .2 1 5 1 23.1 1-31.5 1 3.2 1-3.3 1 32.6 1-28.6 1 5.2 1 .9 1-2.5 1 4.6 1-1.6 1 6.6 1-12.6 1 0 1 8.3 1-3.5 1-.9 1-2.4 1-5.1 1 11.7 1-3.9 1-9.8 1 6.4 1-1 1 1.6 1 3.5 1 9.8 1-11.8 1 1.7 1-.4 1 .7 1 2.4 1 45.1 1-45.9 1 .6 1-1.9 1-9 1 5 1 4.8 1-4.5 1-.1 1 2.4 1-3.2 1 .4 1-4.5 1-4.1 1 6.4 1 8.4 1-3.8 1-6.7 1-2 1 1.5 1 3.4 1 1.4 1-.5 1 .9 1 3.4 1-6.9 1 0 1 7.7 1-1.4 1-6.4 1-.4 1 10.5 1-6.3 1-5.9 1 2 1 1.5 1-1 1-2.6 1 4 1-16.6 1 15.5 1-.4 1-.7 1 3.4 1-2.9 1 0 1 4.5 1 1.5 1 .9 1 .2 1 0 1-2.3 1-1.7 1-3 1 2.6 1-.5 1-1.3 1 2.6 1-2.4 1 4.4 1-1.8 1-3.4 1 5.5 1 1.4 1 .2 1-3.6 1 .5 1 4.4 1-6.7 1 40.3 1-38.8 1 1 1-.1 1-.5 1-1.7 1-.7 1-2.2 1 0 1 3.8 1-1.5 1 2 1 2.6 1-2.6 1-2 1 4.8 1 .7 1-3.7 1 1.8 1 1 1-.1 1-1.8 1 .2 1 1.7 1 .9 1-3.8 1 1.1 1 .8 1-1.4 1 .4 1 5.1 1-6.8 1-4.4 1 5.4 1-.7 1-.8 1 .9 1 1.1 1 2.3 1 3.9 1 1.2 1-2.8 1-7.1 1 4 1 .2 1-3.3 1 5.5 1-1.5 1-1.2 1 1.5 1 1.6 1 .4 1-2.5 1-4.3 1-1.3 1 8 1-3.6 1-6.1 1 3.4 1-2.3 1 1.7 1-.3 1 .1 1 10.1 1-2.1 1-7.1 1-5.6 1-.7 1-2.8 1 6.3 1-8.7 1-1 1 12.5 1 8.8 1-4.3 1-3.6 1 .2 1 5.7 1-1.2 1-2.2 1-14.2 1 1.1 1-.3 1 5.4 1 3.4 1 4.1 1 .1 1-3.9 1 9.1 1-6.2 1-4.8 1 79.9 1-76.2 1 4.7 1-6.2 1-81.4 1 88.1 1 .6 1-5.2 1 16.4 1-20.9 1 2.7 1-6.6 1-10.6 1-31.6 1 38.9 1-12.5 1 19.8 1-3.1 1 .3 1 4.2 1-1.6 1 5.2 1 81.4 1-88.8 1-8.5 1 1.9 1-6.2 1-.5 1 1.7 1 2.2 1-3.9 1 7.6 1 5.5 1 6.3 1-7 1-7.7 1 3.9 1 2.4 1-38 1 39.4 1 .3 1-2.1 1 1.3 1 4.1 1-8.8 1-3 1 13.1 1 4.6 1-16.6 1 .9 1 2.4 1-5.7 1 8.5 1 7.6 1-.3 1 1.5 1 3.6 1-7.3 1 3.7 1-1.8 1 19.5 1-20.7 1 3.8 1 2.8 1 29.3 1-52.7 1 24.3 1-2.4 1-4.9 1 .2 1-3 1 4.5 1-2.7 1-6.8 1 7.7 1 3.2 1-10.3 1-55.9 1 58.1 1 8.5 1-.7 1-7.5 1-4.8 1 2.3 1-1.1 1-36.9 1 41.1 1-5.9 1-5.4 1 .1 1-51.4 1 62 1-6.4 1 2 1 10.4 1-3.4 1 .3 1 9.5 1-9.4 1-9.4 1 .3 1 3 1 24.3 1-22.9 1-12.6 1 .9 1 12.4 1-2.6 1-3.5 1-1.3 1 4.7 1-4 1-10.1 1 7.9 1 4.2 1 8.8 1-4.5 1 3.4 1-2 1 6.3 1-2.1 1 2.4 1 2.3 1-20.3 1 3.5 1-4.3 1-44 1 49.7 1-1.6 1-2.2 1 10.3 1 25.5 1-12.8 1-8.9 1 2.1 1 5 1 .7 1-39.5 1 32 1 1.9 1 1.8 1-1.5 1-2 1 3.5 1-3.7 1 .3 1 2.9 1 3.4 1 2.1 1-7 1-3 1 6.9 1 1.1 1-1.8 1-3.5 1-4.9 1-7.2 1 14.8 1-9.8 1 6.2 1 4.6 1-1.2 1-3.3 1-4 1-1.9 1-2.5 1 .6 1 11 1-.8 1-1.8 1-.4 1 3 1-52.1 1 47.3 1 3.7 1 1.2 1-4.1 1 3.5 1-4.3 1 1 1 7.8 1-2.7 1-1.3 1-.2 1 6.5 1 0 1-12.7 1 1.9 1 9 1-6.6 1-1.8 1-.8 1-2.3 1 5.9 1 .8 1-.1 1-2.8 1 .8 1 5.9 1-2.3 1-5.6 1 10.1 1-1.5 1-7.6 1 1.2 1-2.2 1-.1 1 2.8 1-.2 1 1.7 1 .5 1-2.2 1 5 1-.5 1-3.7 1 3.7 1-3.4 1-3.2 1 6.4 1 4.2 1-4.8 1-5.5 1 3.2 1-.2 1-.5 1 .1 1-1.3 1 4.7 1 1.9 1-.9 1-5.2 1-.9 1 1.3 1 .2 1 4.5 1-2.5 1-3.8 1 1.7 1-3.5 1 .2 1 2.6 1-1.3 1 4.6 1-.5 1-.2 1 2.3 1-4.5 1-4.9 1 2.6 1 5.5 1 2.7 1 .2 1-3.8 1-2.3 1-.9 1-2.2 1 4.4 1 4.1 1-.8 1 .7 1-2.4 1-2.5 1 .2 1-1.4 1 1 1-.3 1-2 1 0 1 .6 1 .1 1 2.1 1 1.4 1-.2 1-3.1 1-1.5 1 3.1 1 .4 1-2.3 1-3.3 1 4.5 1 6.7 1 .5 1-.5 1-2.4 1 .2 1 .3 1-3.4 1-1.6 1 4.2 1 2.4 1-.3 1-1.1 1-.1 1-29.7 1 24.5 1-2.4 1 9.5 1-2.8 1-.3 1 3.2 1-.4 1-3.5 1-4.3 1 4.4 1 6.4 1-4.8 1-25.9 1 19.8 1 2.1 1 3.7 1 2.4 1 .1 1-6.1 1-3.7 1 12.6 1-4.1 1-4.5 1 3.8 1 5.5 1-6.1 1-12.7 1 .3 1 5.3 1 3.8 1-4.2 1-1.1 1 1.6 1 8 1 9.7 1-5.4 1-10 1-2 1 3.7 1 3.6 1-3.1 1-9.4 1 4.1 1-3.7 1-.3 1 8.8 1-3.8 1-6.4 1 4.5 1 2.3 1-2.2 1 2.1 1 5.6 1 9.5 1 29.5 1-43.2 1-8.3 1 6.3 1 4.1 1-.1 1-3.8 1-5.8 1 4.3 1 6.9 1 .4 1 3 1 17 1-33.9 1 3.7 1-2.2 1 .8 1 6.6 1-4.3 1 5.1 1-5 1 3 1 3.1 1-9.3 1 5 1 3.1 1-7.8 1 7 1 7.8 1-6 1-.8 1-14.3 1 11.1 1 1.1 1 1.6 1-4.4 1 6.4 1-6.7 1 1.7 1 2.7 1 1.1 1-1.6 1-6.9 1 4.7 1 3.1 1-8.5 1-16.8 1 24.2 1 1.8 1-1.4 1-6.5 1 4.3 1 13.7 1-.2 1-3.2 1-8.7 1-8 1 .7 1 2.4 1 3.1 1 1.9 1-.5 1-1.8 1 .8 1-23.5 1 27.7 1 1.3 1-4 1-5.5 1 15 1-16.6 1 9.3 1 9.7 1-2.7 1-1.9 1 4.1 1-6.4 1-11.3 1 4.3 1 7.8 1-5.8 1-4.7 1-10.9 1 3.6 1 17.4 1-2.9 1-67.4 1 56.4 1 4.4 1-.6 1 6.3 1-4.6 1-2.5 1-3.6 1 5.7 1-4.5 1 38.6 1-37.4 1-1.9 1 1.4 1 3.4 1-8.4 1 4.3 1 .6 1 2.9 1-3 1-30.8 1 35.4 1-11.2 1 5.6 1-.8 1-1.4 1-2.4 1-.2 1-1.7 1 12.8 1 3.9 1-18.1 1 18.7 1-8.5 1-2.9 1 5 1-1.1 1 2.6 1 7.1 1 1.8 1 4.3 1-11.3 1-13.9 1 .5 1 10.2 1 .1 1-4.1 1-.3 1 7.1 1-1 1-3.2 1 12.9 1-16.5 1 9.3 1 3.6 1 5.7 1 44.8 1-48.7 1 .6 1-.1 1 .5 1 6.1 1-12 1 10.1 1-45.1 1 31.9 1-1.5 1 20.1 1-25.6 1 13.6 1-1.8 1-2 1 3.9 1 4.2 1 .8 1-1.8 1-33.1 1 27.4 1-1.5 1-11.1 1 18.8 1-10.1 1 5 1 5.8 1 .9 1-6.5 1-2.9 1-.3 1 2.1 1 3.7 1 .2 1-4.2 1 .1 1 5.2 1-3.6 1-5.4 1-9.2 1 11.1 1-.4 1 3.1 1 1.2 1 0 1 4.3 1 10.4 1-21.4 1-6.3 1 2.4 1 9.6 1-9.6 1-2.7 1 14 1 1.2 1 2.1 1-2.2 1-1.2 1 2.6 1-7 1 9.8 1-3.3 1-3 1 4.6 1-4 1-.5 1-13 1-2.7 1 3 1-4 1-3.5 1 6.5 1 4.8 1 10.7 1 3.7 1 1.6 1-3.4 1-4.2 1-2.2 1 1.8 1 4.8 1 1 1-1.1 1-4.7 1-3.5 1 2.1 1 2.8 1-2.9 1-3 1 2 1-.1 1-12.8 1 17.3 1-2.6 1-1 1 4.7 1-.8 1-4.8 1 2.4 1 4.4 1 .6 1-2.3 1-.5 1-1.1 1-1.9 1 .2 1 2 1-3.1 1 0 1 2.1 1-.1 1-7.4 1 6.5 1-3.2 1 3.3 1-142.7 1 145.9 1-.7 1-3.5 1 4.2 1 2.3 1-5 1-1.2 1 1.2 1-.4 1 .6 1-.9 1 4.4 1-4 1-1.1 1 5.2 1-4.4 1-3.5 1 .9 1 2.8 1 2.1 1 4.3 1-1.2 1-6.1 1-.2 1-1.5 1 1.3 1 3 1 .9 1-.7 1 0 1 .9 1 .4 1 5.7 1-1.8 1-4.8 1 1.1 1-1.1 1 .6 1 .8 1-4.3 1 1.6 1 5.3 1 2.2 1-1.9 1-6 1-3.8 1 3.5 1-1.1 1-1.8 1 1.5 1 3 1 4.7 1-7.5 1-2.2 1 11.5 1 1.6 1-13.2 1-.6 1 7.4 1-3 1 50.2 1-52.1 1-.5 1 .1 1 1 1 3.6 1 3.5 1-.4 1-2.4 1-1.5 1-2.3 1-2.2 1 5.9 1 2.7 1-6.7 1-3.1 1 17.9 1-12.7 1 .6 1-2.9 1 .3 1 5.1 1-.5 1 1.8 1-.9 1-5.1 1 2.6 1 1.1 1-1.9 1-.1 1 .7 1 5.8 1-6.7 1-8.3 1 6.1 1 2.3 1-.7 1 2 1 .6 1 1 1 1.8 1-18.3 1 12.7 1 1.3 1 1.5 1 5.3 1-8 1-6.2 1 4.3 1-1.7 1-5.3 1-2.4 1 4.9 1 9.4 1 2.8 1-3.9 1 .6 1 1 1-4.3 1-.3 1-1.5 1-4.4 1 13 1 .7 1 .1 1-14.9 1 1.8 1 8.6 1 24.8 1-28 1-5.5 1 7.5 1 .3 1-5 1-20.2 1 24.7 1-5.4 1 5.6 1 8.8 1 11.9 1-18 1-3 1-6.4 1-1.9 1 8.2 1-2.1 1-.4 1 3.7 1 25.7 1-24.7 1-8.7 1-5.9 1 5.5 1-3 1-6.1 1 11.9 1 11.7 1-1.8 1-3.6 1-2.8 1-6 1 1.3 1 6.4 1 2.4 1-9.4 1-.7 1-2.1 1-8.3 1 5 1-2.1 1-4.1 1-2 1 6.2 1 13.3 1-5.4 1-.2 1 7.1 1-4.5 1-17.2 1-41.3 1 52.4 1 .8 1-3.3 1-67 1 62.2 1 .9 1 5 1 1.1 1 3.7 1-12.5 1 7.2 1-7.9 1 14.8 1-4.5 1 .5 1-11.6 1 12.9 1 14.7 1-14.5 1-9 1 .3 1 6.1 1 0 1 4.4 1-11.7 1-7.6 1 1.1 1 9.2 1 5.3 1-11.9 1 23.3 1 3.8 1-2.9 1-1.7 1-11.5 1-11.8 1-6.9 1 5.3 1 8 1-6 1-5.9 1 2.4 1 10.2 1 13.4 1-2.4 1-.5 1 39 1-34.1 1 2.3 1-.6 1-9.8 1-4.5 1 7.6 1-8.1 1 4.1 1-1 1-26.3 1 21.8 1-11.6 1 12.7 1-18.6 1 69.7 1-45.3 1 5.1 1 9.1 1-6.4 1-6.2 1 1.5 1-11.3 1 7.3 1 8.3 1-9.1 1 18.7 1-7.2 1 2.4 1-4.6 1-4.6 1-3.7 1 1.5 1-1.1 1 2 1 5.1 1-3.4 1-9.7 1 26.5 1-32.4 1-2.6 1-32.2 1 40.7 1-4.4 1 1.1 1 10.1 1 6.6 1-33.6 1 45 1-10.3 1-9.4 1 2.6 1 .2 1 2.3 1 4.5 1-8.6 1 .7 1 47.4 1-55.3 1-7.6 1 8.3 1 .4 1-1.7 1 8.1 1-4.1 1 2.4 1 .7 1 1.5 1 3.9 1-1 1-2.5 1 3.3 1 1.4 1 .6 1 154.4 1-152 1-5.3 1 14.6 1-9.2 1-1.8 1-.8 1-.1 1 1.9 1-.5 1-3.5 1 .8 1 2.6 1-5.8 1-.6 1 7.9 1 17.6 1-17.5 1-7.1 1 3.3 1-2.1 1 1.7 1 2.4 1-1.3 1-4.6 1-4.2 1 5.2 1 7 1-6 1 .3 1 .6 1-1.4 1 91.3 1-93.6 1 3.8 1-3.9 1-2.1 1 6.8 1-.9 1-4.2 1 4.9 1 2.5 1 1.1 1 124.2 1-125.4 1 3.4 1-1.7 1-2.5 1-5.2 1-1.5 1 7.1 1-1.1 1 1 1 1.2 1 .2 1 6.3 1-2.7 1-2.6 1-36.5 1 37 1 1.4 1-7.2 1-3.3 1 4.2 1 5.4 1 1.2 1-4.8 1-2 1 3.4 1-.9 1-2 1-1.8 1-1.8 1 4.3 1 1.2 1-1.2 1-1.1 1 2.1 1 4 1-2.8 1 .3 1-3.4 1-1.4 1 6.2 1-1.4 1-2.8 1 2.2 1 2.3 1 1.1 1-.1 1-3.6 1-4.2 1-.1 1 4.3 1 1.1 1-1.6 1-.8 1 2.8 1-1.8 1-.2 1 3.2 1-1.8 1-1.4 1 0 1 5 1-1.9 1-6.2 1-4.2 1 3.1 1 6.6 1-2.7 1 1 1 2 1 .8 1-3.7 1-2.9 1 5 1 1.6 1 1.1 1 28.5 1-33 1 6.8 1 .9 1-.4 1-4.5 1-7.3 1 8.7 1 2.4 1-5.8 1 3 1-4.4 1 3.4 1 4.2 1-8.1 1 .8 1 3.1 1-6.6 1 4.8 1 .6 1-2.2 1 3 1 .8 1-3.1 1-3.5 1 9.2 1-.5 1-2.5 1 3.6 1-.6 1-6.9 1-3.4 1 4.6 1-5.4 1-3.6 1 5.9 1-16.1 1 22.7 1-8.3 1 1.8 1-.4 1-.3 1 6.5 1 1.8 1-2.2 1-2.7 1 4.7 1 .6 1-3.9 1 .6 1-2 1-2.8 1 2.6 1 2.1 1 1.8 1-2.5 1-2.6 1-7.6 1-1 1 .7 1 1.4 1 3.5 1 3.2 1-26.7 1 15.5 1-3.5 1 7.5 1 3.1 1 8.6 1-5.3 1-6 1 1 1 5.4 1-.6 1 7.1 1-8.4 1 6.2 1 .6 1-26 1 26.3 1-.3 1-1.6 1-1.5 1 5.2 1-46.3 1 45.3 1-.3 1-3.5 1 .6 1 6.3 1-5.8 1-4.7 1 3.9 1 5.9 1 .9 1-1.7 1-5.2 1-24.2 1 19.6 1-.6 1-1 1-18.6 1 21.3 1 4.7 1-.8 1-14.6 1 17 1-9.3 1 13 1-.6 1 5 1-12.2 1 5.8 1-7.5 1 1.6 1 6.4 1-1.4 1-14 1-7 1 .4 1-1.7 1 9.9 1-3 1 5.8 1-2.2 1-.6 1 11.3 1-3.8 1-9.6 1 3.1 1 6.5 1 1.5 1-3.5 1-.5 1-4.4 1-12 1 7.8 1-4.3 1 12 1 7.1 1-16 1-4.6 1 15 1-2.4 1 1.6 1 9.9 1-.2 1-16.2 1-1.2 1 0 1-29.2 1 32.1 1-4.3 1 5 1 13.9 1 5.5 1-1.9 1-13.2 1-3.1 1-13 1 6.7 1 14.2 1 11.5 1 .8 1-5.7 1-1.7 1-3.6 1-1.5 1-5.4 1-13.5 1 16.3 1-3.4 1-16.2 1 15.7 1-2.6 1-2.6 1-8.3 1 9.9 1 5.7 1 13.9 1-3.1 1-13.5 1 3.3 1 4.7 1-5.1 1-14.6 1 20.7 1-19.1 1-5.3 1-4.9 1-92.1 1 82.7 1 24 1 3.6 1-11.5 1 15.9 1 2.2 1 0 1 2.9 1 4.6 1 6 1-.7 1-6.3 1-7.2 1 43.9 1-36 1-4.7 1-2.6 1-2.4 1-4.5 1 2.5 1 9.7 1 1.9 1-3.7 1-4.9 1-4.3 1 3.5 1-34.1 1 29.9 1-2.6 1-.5 1 2 1 14 1-3.5 1-9.9 1 8.9 1-12.2 1 20.3 1-5.3 1 4.1 1-34.8 1-8.5 1-19.5 1 22.3 1-5.5 1 33 1-24 1 30.1 1 2.3 1-3.4 1-6.3 1 4.4 1 5.9 1-6.2 1-44.6 1 47.2 1 .9 1-1.7 1 6.4 1-2.4 1-8.8 1 4.5 1 45.2 1-46 1 4 1-.2 1-59.7 1 66 1-5.1 1-37.7 1 28.3 1 4.2 1-5.7 1-.9 1-1 1 5 1 1.1 1-.9 1-1.4 1 5.7 1 4.3 1-2.4 1-.9 1-1.8 1 .3 1 .5 1 37 1-37.4 1-.8 1 .2 1 0 1-.3 1-2.8 1 4.8 1-2.8 1-8.7 1-2.4 1 3.8 1 2.9 1 3 1 7.6 1 2.5 1-5.7 1 1.3 1 .8 1 0 1-2 1-1 1 3.2 1-3.8 1-2.8 1 2.8 1 5.2 1 .9 1-8.7 1-1.2 1 9.4 1 3 1-4.5 1-5.5 1 2.2 1 3.8 1-2.1 1-6.7 1 65.7 1-59 1-3 1-2.8 1-1 1 4.5 1 6.7 1-3.5 1-4.5 1 3 1 2.9 1-1.4 1-6 1-2.9 1 4 1 4.8 1 .8 1-1.3 1-1.1 1-.2 1 2.3 1 1 1-17.5 1 16.7 1 2.3 1-3.7 1-5.9 1 1 1 3.5 1-1.5 1 .4 1-.7 1 3 1 0 1-2.6 1-12.2 1 10.8 1 2.2 1-2 1 1.9 1 1.2 1-2.1 1-1 1-.2 1 2.3 1 2.1 1 2.4 1-1.9 1 2.4 1 .2 1-6.1 1 .8 1-3.6 1 .3 1 5.3 1-1.9 1-1.1 1 3.1 1-7.6 1 1.4 1 3 1 2.6 1 40.3 1-91.9 1 54.1 1 .6 1-11.9 1 2.1 1 3.6 1-.1 1 3.2 1 3.6 1-3.9 1-1 1-2.2 1 38.7 1-36.3 1-8.3 1-6.5 1-6.5 1 3.2 1-87.3 1 100.3 1 33.7 1-30.4 1-6.4 1-2.1 1 4.1 1-.2 1-2.8 1-2.4 1 7.6 1 4.7 1-11.4 1 2.6 1 3.4 1-2.2 1 5.6 1 4.7 1-5.7 1 .2 1 2.4 1-5 1 2.1 1-2.9 1 6.1 1-2 1 .5 1-1.4 1-.1 1-1.1 1-7 1 5.5 1 9.3 1-4.2 1 19.7 1-24.5 1 5.8 1 3.1 1-2.6 1 3 1-3.2 1-4.2 1-.8 1 4.2 1-.8 1-4.8 1-3.1 1 2.3 1 5 1 3.1 1-2.7 1-3.3 1 3.2 1 1 1 .4 1 0 1-5.3 1 1.3 1 2.4 1 .4 1 4.4 1-3.7 1-3.5 1 6.7 1-7.7 1-.8 1-.9 1 2.1 1 5.2" transform="translate(253.30,468.57) scale(0.025171,0.308667)" fill="none" stroke="#F85218" stroke-width="0.25" vector-effect="non-scaling-stroke" stroke-linejoin="round"/></g>
<rect x="253.3" y="391.4" width="176.2" height="138.9" fill="none" stroke="#8a8a8a" stroke-width="0.9"/>
<path d="M253.3 530.3v-1.6M253.3 391.4v1.6M278.47 530.3v-1.6M278.47 391.4v1.6M303.64 530.3v-1.6M303.64 391.4v1.6M328.81 530.3v-1.6M328.81 391.4v1.6M353.99 530.3v-1.6M353.99 391.4v1.6M379.16 530.3v-1.6M379.16 391.4v1.6M404.33 530.3v-1.6M404.33 391.4v1.6M429.5 530.3v-1.6M429.5 391.4v1.6M253.3 530.3h1.6M429.5 530.3h-1.6M253.3 514.87h1.6M429.5 514.87h-1.6M253.3 499.43h1.6M429.5 499.43h-1.6M253.3 484h1.6M429.5 484h-1.6M253.3 468.57h1.6M429.5 468.57h-1.6M253.3 453.13h1.6M429.5 453.13h-1.6M253.3 437.7h1.6M429.5 437.7h-1.6M253.3 422.27h1.6M429.5 422.27h-1.6M253.3 406.83h1.6M429.5 406.83h-1.6M253.3 391.4h1.6M429.5 391.4h-1.6" stroke="#8a8a8a" stroke-width="0.7" fill="none"/>
<g font-size="5.45" fill="#262626" stroke="#262626" stroke-width="0.12"><text x="253.3" y="537.9" text-anchor="middle">0</text><text x="278.47" y="537.9" text-anchor="middle">1000</text><text x="303.64" y="537.9" text-anchor="middle">2000</text><text x="328.81" y="537.9" text-anchor="middle">3000</text><text x="353.99" y="537.9" text-anchor="middle">4000</text><text x="379.16" y="537.9" text-anchor="middle">5000</text><text x="404.33" y="537.9" text-anchor="middle">6000</text><text x="429.5" y="537.9" text-anchor="middle">7000</text><text x="250.6" y="532.8" text-anchor="end">-200</text><text x="250.6" y="517.37" text-anchor="end">-150</text><text x="250.6" y="501.93" text-anchor="end">-100</text><text x="250.6" y="486.5" text-anchor="end">-50</text><text x="250.6" y="471.07" text-anchor="end">0</text><text x="250.6" y="455.63" text-anchor="end">50</text><text x="250.6" y="440.2" text-anchor="end">100</text><text x="250.6" y="424.77" text-anchor="end">150</text><text x="250.6" y="409.33" text-anchor="end">200</text><text x="250.6" y="393.9" text-anchor="end">250</text></g>
<text x="341.4" y="546.7" text-anchor="middle" font-size="5.95" fill="#262626" stroke="#262626" stroke-width="0.12">Number of days</text>
<text transform="translate(237.04,460.3) rotate(-90)" text-anchor="middle" font-size="5.94" fill="#262626" stroke="#262626" stroke-width="0.12">Rainfall (kg/m2)</text>
<rect x="270.1" y="514.0" width="53.5" height="13.5" fill="#fff" stroke="#a8a8a8" stroke-width="0.6"/>
<path d="M272 518.45h15.2" stroke="#86CFF2" stroke-width="1.2"/>
<path d="M272 524.79h15.2" stroke="#F7B89A" stroke-width="1.2"/>
<g font-size="4.85" fill="#262626" stroke="#262626" stroke-width="0.08"><text x="289.3" y="520.15">NASA data</text><text x="289.3" y="526.5">ANN prediction</text></g>
<text x="231.95" y="374.7" style="font-family:'Liberation Serif',serif" font-weight="bold" font-size="12" fill="#000">(f)</text>
</svg>
</body></html>
